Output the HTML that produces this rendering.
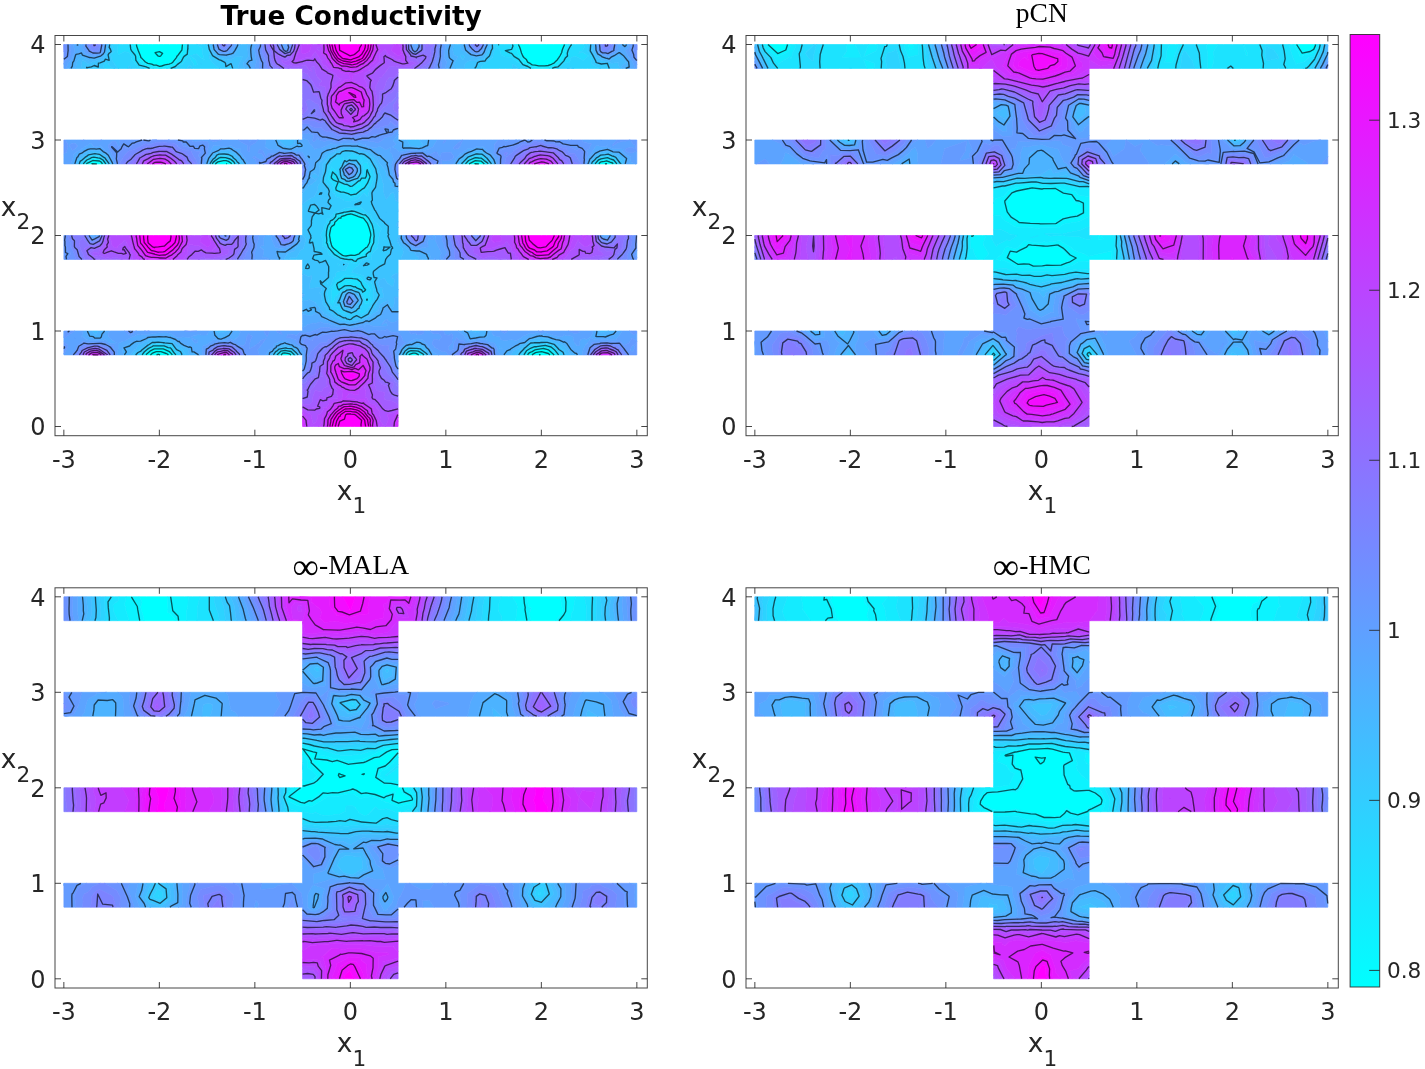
<!DOCTYPE html><html><head><meta charset="utf-8"><title>Conductivity</title><style>html,body{margin:0;padding:0;background:#fff}svg{display:block}text{font-family:"DejaVu Sans","Liberation Sans",sans-serif;fill:#262626}.tk{font-size:24px}.ck{font-size:21.6px}.lb{font-size:26.4px}.sb{font-size:21.6px}.tb{font-size:26.4px;font-weight:bold;fill:#000}.tr{font-family:"Liberation Serif","DejaVu Serif",serif;font-size:27.5px;fill:#000}</style></head><body><svg width="1425" height="1069" viewBox="0 0 1425 1069"><g transform="scale(.1)" stroke-width="7" stroke-linejoin="round"><path d="M1022 1639l-13-17-14-9-44-3-23-2-54 27-6 2-1 2 1 0 52 0 72 0zM2313 1639l-3-5-5-4-23-14-21-6-23-1-59 13-12 8-10 9 17 0 92 0 37 0zM1721 3549l-21-24-12-10-43-19-15-5-36-1-45 1-11 4-37 19-17 14-15 13-6 8 17 0 56 0 46 0 86 0 33 0zM2906 3549l-9-8-9-2-42-8-17 3-16 15 29 0 51 0zM4182 3549l-24-14-9-1-17 0-38 13-1 1-1 1 2 0 50 0zM5538 3549l-54-48-28-7-24-6-5 0-15 3-49 7-11 3-33 20-18 7-13 8-8 13 19 0 59 0 40 0 85 0zM4840 1639l-31-26-29-1-27-3-57 30 54 0 56 0zM6129 1639l-5-7-18-6-39-16-27 7-30 5-9 5-10 12 20 0 50 0 60 0zM5189 445l11 20 11 32 9 30 11 25 17 23 20 17 15 29 23 12 13 10 33 3 44 8 27 0 18 0 41-3 37-15 9-5 4 0 8-8 28-28 13-18 20-33 11-23 4-14 11-29 14-33-34 0-69 0-71 0-56 0-61 0-53 0-64 0zM1370 445l3 21 15 43 18 45 6 12 0 5 8 7 40 41 19 10 42 10 15 6 30 0 27 11 29-5 26-9 49-7 12-5 9-4 8-8 24-32 8-26 14-7 40-54 1-5 5-49-50 0-72 0-58 0-55 0-57 0-40 0-61 0zM3416 2186l-29 1-23 26-12 11-5 26-30 21-6 9-1 5-11 58-1 14 8 38 0 11 13 47 4 11 12 14 30 25 20 17 10 0 0 8 33 24 13 3 17 2 53-10 21 2 16 1 36-13 19-21 13-9 34-31 22-12 17-33 5-10 0-18 11-53-3-21-11-41-1-2-18-51-2-3-38-46-4-5-6 0-41-13-13-6-53-18-11-1-32 6-23 9-32 10z" fill="#00ffff" stroke="#00ffff"/><path d="M1604 684l48-19 21-3 32-14 24-10 22-21 24-33 10-11 4-7 35-49 9-7 1-15 4-37 1-13-17 0-4 0-5 49-1 5-40 54-14 7-8 26-24 32-8 8-9 4-12 5-49 7-26 9-29 5-27-11-30 0-15-6-42-10-19-10-40-41-8-7 0-5-6-12-18-45-15-43-3-21-20 0-3 0 1 3 7 17 17 49 5 12 17 38 1 18 27 24 15 16 41 22 30 7 34 15 14 0 46 18 1 0zM867 1639l1-2 6-2 54-27 23 2 44 3 14 9 13 17 12 0-18-24-20-12-61-5-5-1-10 5-52 23-12 14zM2157 1639l10-9 12-8 59-13 23 1 21 6 23 14 5 4 3 5 12 0-7-11-11-9-19-11-29-9-31-1-44 10-23 16-19 15zM1463 3549l6-8 15-13 17-14 37-19 11-4 45-1 36 1 15 5 43 19 12 10 21 24 12 0-34-39-6-4-54-24-1 0-42-2-53 2-5 1-45 23-6 5-26 23-11 15zM2813 3549l16-15 17-3 42 8 9 2 9 8 12 0-17-16-18-4-35-7-26 5-23 22zM4092 3549l1-1 1-1 38-13 17 0 9 1 24 14 21 0-38-21-13-2-27-1-32 11-7 5-4 8zM5280 3549l8-13 13-8 18-7 33-20 11-3 49-7 15-3 5 0 24 6 28 7 54 48 4 0 11 0-9-12-50-43-6-4-5-2-44-11-16 2-39 6-28 5-5 1-18 11-31 12-22 13-14 22zM4696 1639l57-30 27 3 29 1 31 26 14 0-43-36-41-2-17-2-45 24-20 8-7 8 8 0zM5991 1639l10-12 9-5 30-5 27-7 39 16 18 6 5 7 13 0-14-17-46-16-13-6-9 3-50 8-15 8-17 20zM5641 445l-14 33-11 29-4 14-11 23-20 33-13 18-28 28-8 8-4 0-9 5-37 15-41 3-18 0-27 0-44-8-33-3-13-10-23-12-15-29-20-17-17-23-11-25-9-30-11-32-11-20-11 0-11 0 6 13 9 18 6 17 14 48 13 30 5 7 5 6 28 24 8 15 43 24 26 19 14 1 19 4 59 1 41-2 19-1 16-7 34-17 15-2 32-28 10-11 14-20 3-4 2-4 21-42 7-32 2-5 23-52zM3417 2168l32-10 23-9 32-6 11 1 53 18 13 6 41 13 6 0 4 5 38 46 2 3 18 51 1 2 11 41 3 21-11 53 0 18-5 10-17 33-22 12-34 31-13 9-19 21-36 13-16-1-21-2-53 10-17-2-13-3-33-24 0-8-10 0-20-17-30-25-12-14-4-11-13-47 0-11-8-38 1-14 11-58 1-5 6-9 30-21 5-26 12-11 23-26 29-1zM3393 2164l-1 0-36 41-19 16-2 13-14 9-20 30-4 13-9 46-1 25 6 28 1 27 9 30 8 25 26 31 21 18 18 15 12 7 33 24 21 4 26 3 40-7 33 4 9 1 64-25 1-2 1 0 58-52 1-1 25-49 8-15 1-28 7-40-3-37-9-31-3-11-15-40-10-19-30-37-9-9-13-2-31-9-30-13-38-12-17-3-47 9-15 6-53 16zM3432 1876l-1-1-1 2 1 0 1 0 2 1 0-2z" fill="#0cf3ff" stroke="#0cf3ff"/><path d="M1602 684l-46-18-14 0-34-15-30-7-41-22-15-16-27-24-1-18-17-38-5-12-17-49-7-17-1-3-21 0 2 22 19 45 14 16 15 35 2 30 30 28 7 10 8 2 9 2 45 24 19 5 45 20 7 0zM1664 684l38-17 39-16 31-32 4-3 23-25 11-21 22-30 20-15 3-33 2-20 1-27-19 0-1 13-4 37-1 15-9 7-35 49-4 7-10 11-24 33-22 21-24 10-32 14-21 3-48 19 51 0zM856 1639l12-14 52-23 10-5 5 1 61 5 20 12 18 24 12 0-24-31-25-16-46-4-17-3-11 2-5 4-50 23-23 25zM2142 1639l19-15 23-16 44-10 31 1 29 9 19 11 11 9 7 11 12 0-10-16-18-15-15-9-37-11-39-1-30 6-32 24-20 15-4 7 5 0zM1450 3549l11-15 26-23 6-5 45-23 5-1 53-2 42 2 1 0 54 24 6 4 34 39 13 0-44-49-2-3-1-2-3 0-56-24-36-1-11 0-52 2-3 0-1 1-49 24-6 4-30 26-16 22zM2799 3549l23-22 26-5 35 7 18 4 17 16 13 0-25-25-28-5-29-5-33 6-31 29zM4082 3549l4-8 7-5 32-11 27 1 13 2 38 21 21 0-51-29-18-3-37-1-27 10-12 9-8 14zM5266 3549l14-22 22-13 31-12 18-11 5-1 28-5 39-6 16-2 44 11 5 2 6 4 50 43 9 12 16 0-23-29-29-24-18-15-19-6-35-9-25 4-65 10-5 1-1 0-3 2-43 16-30 19-20 31zM4681 1639l7-8 20-8 45-24 17 2 41 2 43 36 14 0-56-46-52-3-6-1-15 8-52 22-18 20zM5978 1639l17-20 15-8 50-8 9-3 13 6 46 16 14 17 13 0-23-27-53-19-8-3-11 2-51 8-20 11-24 28zM5488 684l48-25 26-4 41-36 8-9 12-19 15-29 7-15 3-15 9-30 19-42 8-15-16 0-7 0-23 52-2 5-7 32-21 42-2 4-3 4-14 20-10 11-32 28-15 2-34 17-16 7-19 1-41 2-59-1-19-4-14-1-26-19-43-24-8-15-28-24-5-6-5-7-13-30-14-48-6-17-9-18-6-13-20 0 16 39 1 3 1 3 17 60 1 5 1 1 25 34 23 29 5 5 2 2 64 36 30 22 5 0 83 0 61 0zM3393 2163l53-16 15-6 47-9 17 3 38 12 30 13 31 9 13 2 9 9 30 37 10 19 15 40 3 11 9 31 3 37-7 40-1 28-8 15-25 49-1 1-58 52-1 0-1 2-64 25-9-1-33-4-40 7-26-3-21-4-33-24-12-7-18-15-21-18-26-31-8-25-9-30-1-27-6-28 1-25 9-46 4-13 20-30 14-9 2-13 19-16 36-41 1 0zM3432 1876l2 0 0 2-2-1-1 0-1 0 1-2zM3495 2814l-13 0-33 19 38-3 7 0 7 3 33-9zM3321 2221l-31 44-6 23-6 33-2 36 4 19 2 43 4 13 12 38 41 48 11 10 11 8 27 17 25 18 30 6 36 5 26-5 45 6 1 0 5-2 61-24 20-5 1-10 41-38 9-4 6-20 18-35 10-20 1-37 5-29-5-52-6-21-5-21-11-28-19-35-22-27-14-14-20-3-22-7-46-19-23-7-23-3-63 11-7 3-26 8-26 7-12 2-3 13-27 30-23 21-3 1zM3438 1860l-29-14-16 41 27 10 14 2 54 15-6-34-31-19zM3599 1827l-36 32-29 22 32 25 43-35z" fill="#14ebff" stroke="#14ebff"/><path d="M1541 684l-45-20-19-5-45-24-9-2-8-2-7-10-30-28-2-30-15-35-14-16-19-45-2-22-21 0 4 42 8 20 34 41 7 14 3 42 9 8 25 37 29 7 35 9 17 9 7 2 17 8zM1702 684l50-21 20-20 31-24 10-10 18-34 9-13 31-23 4-50 0-2 3-42-20 0-1 27-2 20-3 33-20 15-22 30-11 21-23 25-4 3-31 32-39 16-38 17 35 0zM845 1639l23-25 50-23 5-4 11-2 17 3 46 4 25 16 24 31 3 0 8 0-9-12-19-26-31-19-22-2-39-7-23 5-13 9-33 15-34 37zM2132 1639l4-7 20-15 32-24 30-6 39 1 37 11 15 9 18 15 10 16 13 0-15-22-25-20-10-6-44-14-49-1-15 3-42 31-16 13-11 16zM1436 3549l16-22 30-26 6-4 49-24 1-1 3 0 52-2 11 0 36 1 56 24 3 0 1 2 2 3 44 49 12 0-24-27-20-29-10-13-20-2-44-18-27-1-24 0-35 1-20 0-9 6-39 19-19 15-24 21-21 28zM2785 3549l31-29 33-6 29 5 28 5 25 25 13 0-34-33-36-7-23-4-42 8-35 32-1 1-2 3 3 0zM4071 3549l8-14 12-9 27-10 37 1 18 3 51 29 7 0 8 0-13-11-45-26-23-3-47-1-21 7-18 14-12 20zM5253 3549l20-31 30-19 43-16 3-2 1 0 5-1 65-10 25-4 35 9 19 6 18 15 29 24 23 29 16 0-37-46-7-6-31-26-32-9-26-7-35 5-53 9-17-1-27 11-15 6-39 24-26 40zM4669 1639l18-20 52-22 15-8 6 1 52 3 56 46 7 0 6 0-7-8-25-19-35-29-33-2-25-4-12 5-58 24-30 33zM5965 1639l24-28 20-11 51-8 11-2 8 3 53 19 23 27 12 0-31-38-36-12-26-12-35 7-30 5-27 14-30 36zM5333 684l-30-22-64-36-2-2-5-5-23-29-25-34-1-1-1-5-17-60-1-3-1-3-16-39-21 0 8 19-17 42-35 7 25 13 10 3 31 37 40 24 9 12 12 15 21 27 43 17 29 15 10 8zM5519 684l21-11 37-5 23-21 34-36 5-8 15-28 17-17-2-20 10-34 8-19 20-36 4-4-3 0-24 0-8 15-19 42-9 30-3 15-7 15-15 29-12 19-8 9-41 36-26 4-48 25zM3534 2824l-33 9-7-3-7 0-38 3 33-19 13 0zM3322 2218l3-1 23-21 27-30 3-13 12-2 26-7 26-8 7-3 63-11 23 3 23 7 46 19 22 7 20 3 14 14 22 27 19 35 11 28 5 21 6 21 5 52-5 29-1 37-10 20-18 35-6 20-9 4-41 38-1 10-20 5-61 24-5 2-1 0-45-6-26 5-36-5-30-6-25-18-27-17-11-8-11-10-41-48-12-38-4-13-2-43-4-19 2-36 6-33 6-23 31-44zM3451 1861l31 19 6 34-54-15-14-2-27-10 16-41 29 14zM3609 1871l-43 35-32-25 29-22 36-32zM3510 2786l-55 0-6 4-29 22-37 18-4 2-2 5-4 5 13 44 7 9 4-6 5-2 44-31 29-2 29 0 32 11 18-4 32 25 33 13 6 15 13-7 9-10-14-14-13-23-17-39-31-25-36-4zM3300 2229l-20 28-9 33-3 20-3 47 2 10 2 44-1 14 0 3 4 2 14 44 55 64 2 2 2 2 43 26 18 13 37 8 47 5 12-2 22 3 13 11 21 4 14-19 47-18 40-10 1-21 24-22 17-7 13-42 9-19 13-25 1-47 3-16-7-69-3-11-8-29-6-17-29-51-13-17-20-19-27-4-12-4-62-26-8-2-29-4-73 14-4 0-1 1-50 12-25 5-5 25-18 20-16 14-20 7zM3328 1725l-11 42 0 11 15 15 56 24-27 66 4 17 17 8 27 9 27 3 51 15 21 12 15-4 40-7 14-11 49-40 15-8 33-49 9-21 11-29 3-11-23-54 0-1-1 0 0-3-1 3 0 1-4 49-12 23-41 0-14 22-13 4-31 27-38 28-13 2-36-22-26-2-56-27 0-1-28-58z" fill="#1ce3ff" stroke="#1ce3ff"/><path d="M1500 684l-17-8-7-2-17-9-35-9-29-7-25-37-9-8-3-42-7-14-34-41-8-20-4-42-20 0-58 0-46 0-6 66 1 1 4 22 5 17 0 1 0-1 59-34 35 6 14 9 25 35-6 17 23 31 20 24 19 29 50 12 15 4 36 0zM1744 684l20-8 8-8 34-27 15 1 23-24 14-29 29-28 30 52 18 19 5 26 33-11-5-26-13-27-52-36 60-20 44 39 16 8 24 25-13-42-14-63 11-14-21-19-44-27-27 0-47 0-14 0-3 42 0 2-4 50-31 23-9 13-18 34-10 10-31 24-20 20-50 21zM834 1639l34-37 33-15 13-9 23-5 39 7 22 2 31 19 19 26 9 12 12 0-21-29-12-16-34-21-4-2-1 0-56-10-37 7-19 14-17 8-45 49zM2123 1639l11-16 16-13 42-31 15-3 49 1 44 14 10 6 25 20 15 22 12 0-19-28-31-25-6-3-52-16-57-2-53 38-12 10-17 26zM1422 3549l21-28 24-21 19-15 39-19 9-6 20 0 35-1 24 0 27 1 44 18 20 2 10 13 20 29 24 27 12 0-4-5-39-55-17-23-39-4-30-13-18-1-39 0-18 1-36-1-16 11-30 14-32 26-18 15-26 35zM2771 3549l2-3 1-1 35-32 42-8 23 4 36 7 34 33 13 0-43-41-45-9-16-3-50 9-28 27-7 4-9 13zM4060 3549l12-20 18-14 21-7 47 1 23 3 45 26 13 11 11 0-31-27-30-17-28-4-57-2-15 6-24 18-13 21-3 5 5 0zM5240 3549l26-40 39-24 15-6 27-11 17 1 53-9 35-5 26 7 32 9 31 26 7 6 37 46 15 0-15-19-29-37-8-8-27-23-45-13-18-4-44 6-31 5-39-1-29 12-9 1-7 5-7 6-34 21-31 49zM4656 1639l30-33 58-24 12-5 25 4 33 2 35 29 25 19 7 8 11 0-20-25-50-38-4-3-3-2-5 0-52-7-35 14-39 16-41 45zM5952 1639l30-36 27-14 30-5 35-7 26 12 36 12 31 38 13 0-39-48-20-7-45-19-59 12-8 1-33 17-37 44zM5312 684l-10-8-29-15-43-17-21-27-12-15-9-12-40-24-31-37-10-3-25-13 35-7 17-42-8-19-12 0-65 0-63 0-23 0 3 27 28 18 9 31 10 34 20 5 18 11 61 6 1 0 51 36 21 15 16 8 24 31 45 17 31 0zM5566 684l27-4 5-5 31-33 26-17 32 5 15-22 11-35 44-9 41 22 34 20 37-36 12-5 1-8-1-1-1-2-33-20-24-13-36 20 11-27 25-3 27-48 0-18-14 0-80 0-45 0-4 4-20 36-8 19-10 34 2 20-17 17-15 28-5 8-34 36-23 21-37 5-21 11 24 0zM3536 2792l36 4 31 25 17 39 13 23 14 14-9 10-13 7-6-15-33-13-32-25-18 4-32-11-29 0-29 2-44 31-5 2-4 6-7-9-13-44 4-5 2-5 4-2 37-18 29-22 6-4 55 0zM3304 2209l20-7 16-14 18-20 5-25 25-5 50-12 1-1 4 0 73-14 29 4 8 2 62 26 12 4 27 4 20 19 13 17 29 51 6 17 8 29 3 11 7 69-3 16-1 47-13 25-9 19-13 42-17 7-24 22-1 21-40 10-47 18-14 19-21-4-13-11-22-3-12 2-47-5-37-8-18-13-43-26-2-2-2-2-55-64-14-44-4-2 0-3 1-14-2-44-2-10 3-47 3-20 9-33 20-28zM3360 1758l28 58 0 1 56 27 26 2 36 22 13-2 38-28 31-27 13-4 14-22 41 0 12-23 4-49 0-1 1-3 0 3 1 0 0 1 23 54-3 11-11 29-9 21-33 49-15 8-49 40-14 11-40 7-15 4-21-12-51-15-27-3-27-9-17-8-4-17 27-66-56-24-15-15 0-11 11-42zM3279 2237l-9 13-12 42-1 7-3 58 0 2-9 68-1 16 23 14 6 20 32 37 14 31 20 14 18 5 31 19 10 7 46 10 14 2 38 6 8 6 19 15 43 9 30-39 24-10 61-16 2-30 6-6 26-11 18-64 2-3 6-13 12-17-3-23 1-33 1-4-9-85 0-1-10-38-2-6-38-67-6-8-24-23-34-5-3-1-28-12-32-27-13 1-28-1-11 1-54 4-16 1-28 15-30 8-38 7-8 38-9 10-7 7-38 13zM3516 2755l-36 0-29-7-36 26-13 10-13 6-31 12-12 37-30 36 2 4 17 23-21-13-3 62 5 22-6 45 14 19 11-20 15-48 29-23 2-5 26-40 37-15 12-8 8 0 50-1 4 1 34 9 58 22 20 54 1 2 3 5 18 30-13 41 43-5 8-20 11-15 0-30-12-33 13-26 0-17-5-18-26-39-3 0-36-27-7-16-24-20-37-12-37-5zM3308 1690l-2 17-15 43-6 21 1 27 16 17 18 17 14 40 2 6 8 36 50 22 4 2 40 3 15 5 54 32 39-10 14-2 48-38 25-20 36-21 13-20 24-57 6-16 9-34-14-32-5-23-9-16-18-58-7-9-40 13-14-54-5-4-2 0-9 1 22 52 6 6 0 1 1 18 13 27-7 23 0 34 0 6-2 3-6 0-32 51-31 8-11 9-12 10-49 6-1 0-38-4-5-2-49-21-18-51-1-27-27-27-34-33z" fill="#24dbff" stroke="#24dbff"/><path d="M1278 684l2-10 16-16 16 26 45 0 68 0 14 0-15-4-50-12-19-29-20-24-23-31 6-17-25-35-14-9-35-6-59 34 0 1 0-1-5-17-4-22-1-1 6-66-7 0-52 0 0 16 21 52-29 28-4 3-2 5 7 38 21 40 39 52 14 5 52 0zM1863 684l33-34 19 20 2 14 19 0 66 0 58 0 83 0 56 0-39-24-25-26-8-4-30-42-8-32 8-24-20-38-7-33-17-16-37 0-50 0 44 27 21 19-11 14 14 63 13 42-24-25-16-8-44-39-60 20 52 36 13 27 5 26-33 11-5-26-18-19-30-52-29 28-14 29-23 24-15-1-34 27-8 8-20 8 28 0 45 0zM823 1639l45-49 17-8 19-14 37-7 56 10 1 0 4 2 34 21 12 16 21 29 12 0-34-45-4-6-14-9-33-22-15-2-36-7-51 11-26 19-2 2-45 41-10 6-3 12 13 0zM2115 1639l17-26 12-10 53-38 57 2 52 16 6 3 31 25 19 28 12 0-22-34-38-30-2-1-16-5-27-13-19-3-34-1-23 1-11 5-8 12-36 26-8 7-24 36zM1408 3549l26-35 18-15 32-26 30-14 16-11 36 1 18-1 39 0 18 1 30 13 39 4 17 23 39 55 4 5 3 0 22 0-8-15-17-8-29-41-25-34-57-6-17-7-10 0-52-1-1 0-53-1-23 16-21 10-46 36-10 9-20 26-12 6-10 10 20 0zM2759 3549l9-13 7-4 28-27 50-9 16 3 45 9 43 41 12 0-12-12-38-36-1-1-4-1-50-10-9-1-59 10-21 21-13 7-16 23zM4049 3549l3-5 13-21 24-18 15-6 57 2 28 4 30 17 31 27 11 0-49-43-16-9-32-4-67-2-10 3-29 22-9 16-12 17zM5227 3549l31-49 34-21 7-6 7-5 9-1 29-12 39 1 31-5 44-6 18 4 45 13 27 23 8 8 29 37 15 19 6 0 13 0-3-10-16-11-34-42-19-20-15-13-58-17-9-2-54 8-10 1-59-1-12 5-23 2-18 14-19 16-19 12-25 38-10 10-7 10 12 0zM4643 1639l41-45 39-16 35-14 52 7 5 0 3 2 4 3 50 38 20 25 12 0-34-42-28-22-16-12-9-7-20-1-37-4-59 23-18 7-52 58zM5939 1639l37-44 33-17 8-1 59-12 45 19 20 7 39 48 13 0-48-58-3-1-63-27-54 11-17 1-11 8-27 14-25 30-14 12-4 10zM5125 684l2-43 43 30 26 13 25 0 49 0-45-17-24-31-16-8-21-15-51-36-1 0-61-6-18-11-20-5-10-34-9-31-28-18-3-27-14 0-8 0 4 56-18 66-2 5-62 56-1 3-17 2-34 42-3 9 4 0 67 0 61 0 56 0 58 0 56 0zM5669 684l38-8 34 8 29 0 54 0 51 0 74 0 60 0-55-19-42-32 9-48-17-32-18-32-14-8 7-12 0-56-29 0 0 18-27 48-25 3-11 27 36-20 24 13 33 20 1 2 1 1-1 8-12 5-37 36-34-20-41-22-44 9-11 35-15 22-32-5-26 17-31 33-5 5-27 4 31 0 70 0zM1151 684l-47-16-24-36-21-7-3 5-13 5-9 32-1 17 19 0 49 0zM3286 2200l38-13 7-7 9-10 8-38 38-7 30-8 28-15 16-1 54-4 11-1 28 1 13-1 32 27 28 12 3 1 34 5 24 23 6 8 38 67 2 6 10 38 0 1 9 85-1 4-1 33 3 23-12 17-6 13-2 3-18 64-26 11-6 6-2 30-61 16-24 10-30 39-43-9-19-15-8-6-38-6-14-2-46-10-10-7-31-19-18-5-20-14-14-31-32-37-6-20-23-14 1-16 9-68 0-2 3-58 1-7 12-42 9-13zM3527 2758l37 5 37 12 24 20 7 16 36 27 3 0 26 39 5 18 0 17-13 26 12 33 0 30-11 15-8 20-43 5 13-41-18-30-3-5-1-2-20-54-58-22-34-9-4-1-50 1-8 0-12 8-37 15-26 40-2 5-29 23-15 48-11 20-14-19 6-45-5-22 3-62 21 13-17-23-2-4 30-36 12-37 31-12 13-6 13-10 36-26 29 7 36 0zM3317 1667l34 33 27 27 1 27 18 51 49 21 5 2 38 4 1 0 49-6 12-10 11-9 31-8 32-51 6 0 2-3 0-6 0-34 7-23-13-27-1-18 0-1-6-6-22-52 9-1 2 0 5 4 14 54 40-13 7 9 18 58 9 16 5 23 14 32-9 34-6 16-24 57-13 20-36 21-25 20-48 38-14 2-39 10-54-32-15-5-40-3-4-2-50-22-8-36-2-6-14-40-18-17-16-17-1-27 6-21 15-43 2-17zM3227 2397l-4 32-2 30 25 14 10 12 8 5 26 58 46 32 43 13 9 5 3 2 13 3 37 20 26 4 19 14-36 67-16 0-51 5-26 19-4 35-16 6-22 68-7 8-19 33-12 39-1 22 11 53-3 21 36 50 4 7 0 2 4 2 41 17 23 24 17 12 26 12 54-5-48-16-8-4-28-38-4-11-5-12-63 12 28-54 9-29 17-13 12-32 18-28 38-14 8-7 49-4 21 8 27 7 40 15 14 37 7 18 13 29-12 45-7 12-9 44-25 12 34 28 32-15 31-38 3-13 12-1 17-41 22-31-1-61-1-3 1-2 1-49-13-52-10-13-36-9-20-14-16-41 3-3-3 1-3 0-79-27-10-2-29-6 23-34 30-24 6 1 44-59 2-1 25-7 48-9 18 8-1-14 4-23 7-20 6-3 4-13 49-50-3-36 7-10-3-20 10-51 0-28 20-29 5-12-3-7-4-4-27-29-12-14-25-17-32-49-5-19-29-12-8-8-4 0-39-37-30-25-41 3-15 0-47 5-15 2-31 1-55 30-11 3-51 10-9 44-42-33 36 41-50 17-7 36-12 14-16 29 0 23-24 47-3 8zM3639 1931l1 2 33 35 11-16-1-15 14-38 7-10 13-45 12-31 1-3 15-56-5-12-9-45-18-31-8-25-32-45-1 0 0-1-45-34-18-4-27 4-8-4-50-20-27 27-35 11 28 16 4-2 2 0 73-2 39 51 7 9 3 56-1 34-7 14-26 40-32 9-9 3-54 19-33-4-5-6-44-18-15-42-3-56 0-2 3-4 18-53 31-60-6-6-67-2-4 5-16 12-36 35-18 26-7 20-6 44-13 35-9 26-2 17 1 23 18 23 24 23 8 23 13 34 3 13 23 10 10 29 36 10 40 20 8 14 7-1 56 6 6-7 50-10 25-8zM3377 2630l3 17 6 19 8-22-4-7zM3297 2807l-18 16-6 5 6 6 11-3zM2012 637l0-1 1 1 1 0 1 3-3-1zM3852 2410l9 0-3-9-3-9-12-4-7 21z" fill="#2cd3ff" stroke="#2cd3ff"/><path d="M1189 684l-14-5-39-52-21-40-7-38 2-5 4-3 29-28-21-52 0-16-16 0-10 0-4 31 11 16 9 22-8 7-13 10-10 18 10 54-37-12-11 20-42 17-19 3-1 37-39-14-29 13-38 9-9-5-2 13 10 0 58 0 59 0 42 0 1-17 9-32 13-5 3-5 21 7 24 36 47 16 23 0zM1312 684l-16-26-16 16-2 10 11 0zM1917 684l-2-14-19-20-33 34 44 0zM2329 684l-17-49 1-2-2-1-1 1-9-1-42 25-3-26-5-8-44-22-14-2-60-37-7-8-32-60-9-40-2-9-10 0-20 0 17 16 7 33 20 38-8 24 8 32 30 42 8 4 25 26 39 24 5 0 54 0 64 0zM808 1639l3-12 10-6 45-41 2-2 26-19 51-11 36 7 15 2 33 22 14 9 4 6 34 45 12 0-36-48-4-7-2-4-3-3-14-7-40-28-28-3-18-3-64 13-15 11-20 14-28 26-21 13-8 26zM2106 1639l24-36 8-7 36-26 8-12 11-5 23-1 34 1 19 3 27 13 16 5 2 1 38 30 22 34 4 0 15 0-5-9-15-11-13-20-24-18-12-19-10-4-27-14-41-4-11-1-45 2-23 10-16 25-18 13-5 4-30 46zM1384 3549l10-10 12-6 20-26 10-9 46-36 21-10 23-16 53 1 1 0 52 1 10 0 17 7 57 6 25 34 29 41 17 8 8 15 25 0 3 0-3-5-14-29-41-19-10-15-34-45-75-8-3-1-1 0-10 0-50-6-35 4-25-1-30 21-12 5-59 47-4 3-8 11-29 13-25 25zM2746 3549l16-23 13-7 21-21 59-10 9 1 50 10 4 1 1 1 38 36 12 12 1 0 12 0-17-19-34-31-13-13-46-4-13-2-2-1-67 12-15 14-18 10-23 34zM4037 3549l12-17 9-16 29-22 10-3 67 2 32 4 16 9 49 43 4 0 10 0-6-11-57-42-7-6-1-1-37-5-77-2-4 2-35 26-5 9-21 30zM5209 3549l7-10 10-10 25-38 19-12 19-16 18-14 23-2 12-5 59 1 10-1 54-8 9 2 58 17 15 13 19 20 34 42 16 11 3 10 21 0-9-26-43-29-11-15-31-32-4-3-70-21-3 1-61 1-6 1-58 1-9 1-28 2-29 23-30 26-5 3-6 10-30 30-20 27zM4631 1639l52-58 18-7 59-23 37 4 20 1 9 7 16 12 28 22 34 42 11 0-47-60-6-4-27-22-17-12-35-1-21-3-76 30-4 1-1 1-1 0-56 60-5 3-3 7 8 0zM5927 1639l4-10 14-12 25-30 27-14 11-8 17-1 54-11 63 27 3 1 48 58 9 0 4 0 2-5-8-5-42-55-17-9-22-8-37-16-28 5-48 5-28 21-14 7-13 15-29 25-7 20zM4808 684l3-9 34-42 17-2 1-3 62-56 2-5 18-66-4-56-19 0 2 37-13 24-6 25-12 30-31 28-11 20-46 5-9 1-21 10-14 40-17 19 19 0zM5196 684l-26-13-43-30-2 43 41 0zM5741 684l-34-8-38 8 39 0zM6095 684l-20-51-1-1-61 7-40-12-8-3-6-4 1-7-32-62-16-28-9-14 5-62 0-2-2 0-27 0 0 56-7 12 14 8 18 32 17 32-9 48 42 32 55 19 1 0 59 0zM3206 2348l3-8 24-47 0-23 16-29 12-14 7-36 50-17-36-41 42 33 9-44 51-10 11-3 55-30 31-1 15-2 47-5 15 0 41-3 30 25 39 37 4 0 8 8 29 12 5 19 32 49 25 17 12 14 27 29 4 4 3 7-5 12-20 29 0 28-10 51 3 20-7 10 3 36-49 50-4 13-6 3-7 20-4 23 1 14-18-8-48 9-25 7-2 1-44 59-6-1-30 24-23 34 29 6 10 2 79 27 3 0 3-1-3 3 16 41 20 14 36 9 10 13 13 52-1 49-1 2 1 3 1 61-22 31-17 41-12 1-3 13-31 38-32 15-34-28 25-12 9-44 7-12 12-45-13-29-7-18-14-37-40-15-27-7-21-8-49 4-8 7-38 14-18 28-12 32-17 13-9 29-28 54 63-12 5 12 4 11 28 38 8 4 48 16-54 5-26-12-17-12-23-24-41-17-4-2 0-2-4-7-36-50 3-21-11-53 1-22 12-39 19-33 7-8 22-68 16-6 4-35 26-19 51-5 16 0 36-67-19-14-26-4-37-20-13-3-3-2-9-5-43-13-46-32-26-58-8-5-10-12-25-14 2-30 4-32zM3585 1991l-25 8-50 10-6 7-56-6-7 1-8-14-40-20-36-10-10-29-23-10-3-13-13-34-8-23-24-23-18-23-1-23 2-17 9-26 13-35 6-44 7-20 18-26 36-35 16-12 4-5 67 2 6 6-31 60-18 53-3 4 0 2 3 56 15 42 44 18 5 6 33 4 54-19 9-3 32-9 26-40 7-14 1-34-3-56-7-9-39-51-73 2-2 0-4 2-28-16 35-11 27-27 50 20 8 4 27-4 18 4 45 34 0 1 1 0 32 45 8 25 18 31 9 45 5 12-15 56-1 3-12 31-13 45-7 10-14 38 1 15-11 16-33-35-1-2zM3390 2637l4 7-8 22-6-19-3-17zM3290 2831l-11 3-6-6 6-5 18-16zM2012 639l3 1-1-3-1 0-1-1 0 1zM3836 2409l7-21 12 4 3 9 3 9-9 0zM3758 2107l-1-1-30-63-8-32 5-5 1-1-5-75 5-14 31-43 1-1 10-60 5-34 0-30-4-11-9-42-3-12-20-34-6-10-27-49-27-22-31-23-35-8-14 2-20-10-33-12-24-8-13 0-45-2-9-1-4 1-30 9-19 23-30-1-15 16-42 31-6 1-2 4-34 49-5 5-2 3 0 7-9 59 0 6-19 53-5 41 1 11 44 54 6 6 2 5 8 23-7 33 16 34-23 25-4 19 35 34-18 36-36-11-37-6 2 39 8 25-15-10-21 6-33-7 35-27-25-39-25-21-40 9-18 47-3 11 3 8 61 16-27 37-7 38 1 23-3 24-33 40-2 3 1 1 3 6 27 54-1 9 3 9-8 14-5 29-3 10 9 2 24-7 13 58 2 35 67 13 2 0 1 1 2 2 1 3-5 0-1-2-68 13-17 39 27 17 28 4 20 23 21-5 37-18 30 57 0 41-1 8 0 7-1 55-15 13-42 36-30-33 9 48 9 3 48 40-16 34-3 23 2 22 12 54 1 5 3 1 32 54 2 17 38 20 2 1 2 2 37 32 17 7 39 21 9 4 14-1 11 10 33 7 13-2 26-22 30-14 43 23 3-1 1 0 63-36 8-5 21-38 20-37 5-11 19-27 12-19 14-16 19-40-23-37-5-28-4-8-15-59 25-42-25-4-13-52 0-1 1-1 44-37 14-10 8 0 9-10 39-21 11-48 16-23 30-26 9-42 18-12-5-20-10-5-5-9-16-54-15-39 8-18-7-15 2-29 1-40-39-33-1-4-2-2-36-31-9-8-2-2-39-73zM3860 2121l3 0-2-1-1 0zM3462 1809l-12-12-33-14-12-33-2-43-4-12 23-33 8-23 17-32 19 11 27-17 17 4 53-2 28 37 13 17 3 46-1 27-16 31-14 22-18 5-25 9-44 15zM3697 2798l-19-5-4-3-3-8 11-10 31 9zM3598 2948l12 33 10 22-8 33-19 28-3 18-14 6-14 17-47 25-57-20-25-12-14-19-10-25-11-29-18 3 8-16 2-8 5-3 22-60 10-15 20-8 21-17 41-3 45 18 15 3 21 9zM3840 2482l0-11 12 1 42 1-35 27-27 5zM3192 1946l12-3 14-1 4-17-20 2-4 9zM3563 2046l-1-1-10 2 7-7 4-1 39-14-13 18zM3670 2649l-29 5 20-21 9-2 20 9zM3093 2684l1-19-16-28-18 23-5 25 22 3z" fill="#34cbff" stroke="#34cbff"/><path d="M2387 684l-5-13 16-52 27-54 2-2-2-4-41 6-26 4-2-1-44 29-27-1-23 5-34-18-41-6-28-17-28-28-20-37-6-25-4-25-18 0 2 9 9 40 32 60 7 8 60 37 14 2 44 22 5 8 3 26 42-25 9 1 1-1 2 1-1 2 17 49 32 0zM792 1639l8-26 21-13 28-26 20-14 15-11 64-13 18 3 28 3 40 28 14 7 3 3 2 4 4 7 36 48 12 0-21-29-13-24-9-16-9-9-54-28-8-5-29-4-11-1-1 0-13 4-62 12-4 3-41 29-9 8-32 21-13 39zM2098 1639l30-46 5-4 18-13 16-25 23-10 45-2 11 1 41 4 27 14 10 4 12 19 24 18 13 20 15 11 5 9 21 0-11-21-33-24-1-2-2-2-29-41-26-12-7-4-22-2-29-9-11 1-6 0-6 4-44 2-34 14-24 38-2 1 0 1-38 56zM3026 2348l3 3 2 5 27 31-3 19-19 74-5 8-32 19-9 22-27 49-15-4-39 0-13 13-4 7 9 0 64 0 61 0 0 47 0 65 0 38 16 2 46 25 30-18-1 34-8 15-10 27-3 57 46-6 73-7 5 2 1 1 0 2-3 17-23 36 9 10 11 22 4 35 1 7 12 52 23 8 7 13 5 33 13 7 47 30 23 20 42 18 3 1 31 18 14-1 18 4 38 8 57-10 6-1 5-2 55-7 19-12 35-19 33-23 11-20 15-28 23-16 5-13 9-34 13-21 23-25 33-8 0-29-19-41 20-28-34-2-14-26-6-25 17-30 43-10 17 29 13 18 54 37 12-41 3-35-34-23 37-30 34-7 0-35 0-52 0-53 26 0 11-29 13-30 2-19-12-35-17-17-22-38-9-4-4-8 12-37 1-22-1 0 0-67 0-9-17-32 17-32 0-30 0-72-5-7 3-5-1-3 3-2 0-48 0-27-26-20-11-52-4-12-4-7-4-2-9-3-17 13-37 48-5 5 0 1-2 1-1-2 1-1-20-42-4-30-6-53 7-17-14-28-6-35-15-34 0-7-14-38-2-9-9-33-10-16-28-48-8-16-55-44-15-12-51-11-3 0-10-5-23-9-38-11-29 0-32-2-32-1-13 3-58 18-14 6-16 18-25 18-29 7-10 19-14 20-24 27-15 16 1 37-4 31-4 37-9 26-6 51-4 6-16 16-8 19 3 28-16 33-24 43-32 11-25 20-5 1-30 23-22 19 0 3 0 59 0 78 0 40 0 64zM1355 3549l25-25 29-13 8-11 4-3 59-47 12-5 30-21 25 1 35-4 50 6 10 0 1 0 3 1 75 8 34 45 10 15 41 19 14 29 3 5 36 0-27-42-2-9-8-3-6-5-50-23-19-19-20-27-28-3-36-8-15-3-25 2-39-5-56 7-9-1-5 1-15 14-18 13-3 1-27 22-41 22-6 0-6 12-33 15-24 23-15 16 13 0zM2734 3549l23-34 18-10 15-14 67-12 2 1 13 2 46 4 13 13 34 31 17 19 13 0-35-38-16-14-26-24-50-4-13-5-11 3-15 9-46 8-8 8-23 13-31 44zM4025 3549l21-30 5-9 35-26 4-2 77 2 37 5 1 1 7 6 57 42 6 11 15 0-16-27-49-37-6-10-15-5-23 7-11-1-52-1-31-3-5 1-12 11-26 20-2 3-29 42zM5187 3549l20-27 30-30 6-10 5-3 30-26 29-23 28-2 9-1 58-1 6-1 61-1 3-1 70 21 4 3 31 32 11 15 43 29 9 26 18 0 7 0-3-5-6-12-9-25-22-15-28-26-12-6-23-26-19-7-54-17-15-6-28-3-39 1-19 4-34 0-32 7-19 1-16 14-19 15-25 22-15 3-11 16-20 20-17 23-19 10-7 12 20 0zM4616 1639l3-7 5-3 56-60 1 0 1-1 4-1 76-30 21 3 35 1 17 12 27 22 6 4 47 60 6 0 7 0-4-10-42-56-5-6-10-5-24-19-23-17-50-2-6 0-20 8-62 21-12 6-9 9-36 38-16 11-12 22zM5915 1639l7-20 29-25 13-15 14-7 28-21 48-5 28-5 37 16 22 8 17 9 42 55 8 5-2 5 16 0 6-22-35-24-19-25-39-21-48-17-3-1-1 0-78 7-47 35-1 0 0 1-43 37-11 30zM4744 684l17-19 14-40 21-10 9-1 46-5 11-20 31-28 12-30 6-25 13-24-2-37-19 0 1 18-15 27-6 20-22 38 0 1-1 1-20 37-29 3-27 5-26 12-43 2-7-4-28 8-29 23-10 48 49 0zM6199 684l-20-50 6-5-8-8-5 4-39 5-18 3-2-3-38-14-52-9-7-3-23-20-28-8-14-27-6-10-20-34 2-33-2-27-17 0 0 2-5 62 9 14 16 28 32 62-1 7 6 4 8 3 40 12 61-7 1 1 20 51 19 0 64 0zM1082 445l-11 74-1 2-16 28 1 9-5-2-21 37-25 10-38 5-15 5-10-1-60 23-45-27-9-3-7 8-6 40-5 31 55 0 2-13 9 5 38-9 29-13 39 14 1-37 19-3 42-17 11-20 37 12-10-54 10-18 13-10 8-7-9-22-11-16 4-31zM3758 2108l39 73 2 2 9 8 36 31 2 2 1 4 39 33-1 40-2 29 7 15-8 18 15 39 16 54 5 9 10 5 5 20-18 12-9 42-30 26-16 23-11 48-39 21-9 10-8 0-14 10-44 37-1 1 0 1 13 52 25 4-25 42 15 59 4 8 5 28 23 37-19 40-14 16-12 19-19 27-5 11-20 37-21 38-8 5-63 36-1 0-3 1-43-23-30 14-26 22-13 2-33-7-11-10-14 1-9-4-39-21-17-7-37-32-2-2-2-1-38-20-2-17-32-54-3-1-1-5-12-54-2-22 3-23 16-34-48-40-9-3-9-48 30 33 42-36 15-13 1-55 0-7 1-8 0-41-30-57-37 18-21 5-20-23-28-4-27-17 17-39 68-13 1 2 5 0-1-3-2-2-1-1-2 0-67-13-2-35-13-58-24 7-9-2 3-10 5-29 8-14-3-9 1-9-27-54-3-6-1-1 2-3 33-40 3-24-1-23 7-38 27-37-61-16-3-8 3-11 18-47 40-9 25 21 25 39-35 27 33 7 21-6 15 10-8-25-2-39 37 6 36 11 18-36-35-34 4-19 23-25-16-34 7-33-8-23-2-5-6-6-44-54-1-11 5-41 19-53 0-6 9-59 0-7 2-3 5-5 34-49 2-4 6-1 42-31 15-16 30 1 19-23 30-9 4-1 9 1 45 2 13 0 24 8 33 12 20 10 14-2 35 8 31 23 27 22 27 49 6 10 20 34 3 12 9 42 4 11 0 30-5 34-10 60-1 1-31 43-5 14 5 75-1 1-5 5 8 32 30 63 1 1zM3860 2120l1 0 2 1-3 0zM3489 1812l44-15 25-9 18-5 14-22 16-31 1-27-3-46-13-17-28-37-53 2-17-4-27 17-19-11-17 32-8 23-23 33 4 12 2 43 12 33 33 14 12 12zM3713 2781l-31-9-11 10 3 8 4 3 19 5zM3590 2928l-21-9-15-3-45-18-41 3-21 17-20 8-10 15-22 60-5 3-2 8-8 16 18-3 11 29 10 25 14 19 25 12 57 20 47-25 14-17 14-6 3-18 19-28 8-33-10-22-12-33zM3832 2505l27-5 35-27-42-1-12-1 0 11zM3198 1936l4-9 20-2-4 17-14 1-12 3zM3589 2043l13-18-39 14-4 1-7 7 10-2 1 1zM3690 2640l-20-9-9 2-20 21 29-5zM3077 2688l-22-3 5-25 18-23 16 28-1 19zM3220 1988l-4 6-12-5 14-3 2 0zM3468 1800l-18-18-24-10-8-24-2-30-8-23 39-53 2-1 44-28 32 8 32-1 17 22 19 26 2 35 0 20-25 48-2 4-3 1-42 14-34 13zM3582 2941l18 47 7 15-6 22-22 33-8 10-22 27-33 17-41-14-41-20-1-1-16-39-10-25 22-56 6-17 2-2 3-1 33-27 33-2 68 27 3 0 4 2zM4609 572l20 25 21-31-19-13-28-14z" fill="#3cc3ff" stroke="#3cc3ff"/><path d="M2460 684l-19-14-11-28 2-7 3-7 39-49 8-10 0-1 0-2-2-47-2-24-1-2-5-48-58 0-12 0-21 43-4 6-34 54-26 12-4 2-2 0-48 11-14-7-54-8-11-1-2-1-7-8-40-37-8-16-2-10-7-40-17 0 4 25 6 25 20 37 28 28 28 17 41 6 34 18 23-5 27 1 44-29 2 1 26-4 41-6 2 4-2 2-27 54-16 52 5 13 55 0zM2794 1400l16 25 36 32 29 5 27-3 13-7 28-20 0-32-37 0-68 0zM776 1639l13-39 32-21 9-8 41-29 4-3 62-12 13-4 1 0 11 1 29 4 8 5 54 28 9 9 9 16 13 24 21 29 12 0-6-9-22-42-15-27-17-16-47-25-16-14-17 2-29-4-24 0-49 13-19 11-36 26-10 4-6 11-26 17-17 53zM2089 1639l38-56 0-1 2-1 24-38 34-14 44-2 6-4 6 0 11-1 29 9 22 2 7 4 26 12 29 41 2 2 1 2 33 24 11 21 21 0-18-33-21-16-9-16-21-20-13-19-18-8-15-9-8-6-39-12-32 4-20 0-17 12-20 1-46 19-15 24-16 21-18 45-8 13zM3026 2042l22-19 30-23 5-1 25-20 32-11 24-43 16-33-3-28 8-19 16-16 4-6 6-51 9-26 4-37 4-31-1-37 15-16 24-27 14-20 10-19 29-7 25-18 16-18 14-6 58-18 13-3 32 1 32 2 29 0 38 11 23 9 10 5 3 0 51 11 15 12 55 44 8 16 28 48 10 16 9 33 2 9 14 38 0 7 15 34 6 35 14 28-7 17 6 53 4 30 20 42-1 1 1 2 2-1 0-1 5-5 37-48 17-13 9 3 4 2 4 7 4 12 11 52 26 20 0-28 0-46 0-28-16-26-30-10-32-12 28-8-1-29-4-3-1-6-58-68-7-40-11-15-6-12-30-34-5-9-4-4-6-6-33-64-15-9-68-51-1-1-1 0-60-17-31-9-16-7-15-4-47-1-19-1-53-1-22 5-32 9-45 21-6 6-9 7-51 12-9 16-14 12-6 16-26 29-24 26-3 3-2 7 3 27 1 35 0 2-4 38-5 21-40-34-26 18-5 24 30 22 36-16-23 29-11 11-39 29-19 8-13 21-49 54 0 6 0 71zM3009 2355l-4 21 14 25-50 67-11 8-14 35-27 3-40 24-12 12-9 15-19 29 23 0 32 0 4-7 13-13 39 0 15 4 27-49 9-22 32-19 5-8 19-74 3-19-27-31-2-5-3-3 0 7zM3026 2931l6 8 13 12-19 26 0 28 0 8 60-14 9-3 2 1 1 1 52 27 47 56 1 9 10 6 25 32 6 9 21 9 33 20 27 17 6 5 11 5 57 24 17 10 30-3 40 9 15 3 23-4 40-7 32-8 35-5 38-23 5-3 59-41 1-1 0-1 54-38 10-30 8-29 56-31 14-3 0-14 11 6 15 12-14 11 18 35 9 14 18 0 5-14 13-34-1-16-6-41 42 1 0-30 0-31-6-8 6-13 0-47 0-75 0-34-34 7-37 30 34 23-3 35-12 41-54-37-13-18-17-29-43 10-17 30 6 25 14 26 34 2-20 28 19 41 0 29-33 8-23 25-13 21-9 34-5 13-23 16-15 28-11 20-33 23-35 19-19 12-55 7-5 2-6 1-57 10-38-8-18-4-14 1-31-18-3-1-42-18-23-20-47-30-13-7-5-33-7-13-23-8-12-52-1-7-4-35-11-22-9-10 23-36 3-17 0-2-1-1-5-2-73 7-46 6 3-57 10-27 8-15 1-34-30 18-46-25-16-2 0 13 0 91 0 50zM2168 3310l2 11 17 18 6-11 56-8 8-4 4-6-10 0-74 0zM921 3310l3 6 4 1 35 31 19-38-54 0zM1326 3549l15-16 24-23 33-15 6-12 6 0 41-22 27-22 3-1 18-13 15-14 5-1 9 1 56-7 39 5 25-2 15 3 36 8 28 3 20 27 19 19 50 23 6 5 8 3 2 9 27 42 35 0-4-6-13-53-45-18-39-25-18-8-20-20-15-13-21-7-30-7-35-7-57 4-10-2-16 2-47-1-30 3-22 21-33 14-33 18-21 2-27 46-7 4-6 5-46 48zM2721 3549l31-44 23-13 8-8 46-8 15-9 11-3 13 5 50 4 26 24 16 14 35 38 13 0-46-49-3-6-2-1-1-1-3-1-35-31-33-3-34-12-27 8-38 22-9 2-2 1-29 17-32 46-5 3-2 5 5 0zM4013 3549l29-42 2-3 26-20 12-11 5-1 31 3 52 1 11 1 23-7 15 5 6 10 49 37 16 27 15 0-25-44-32-24-14-20-31-10-11 3-18-6-26 14-54-5-23 6-31 28-7 8-6 13-25 37zM5154 3549l7-12 19-10 17-23 20-20 11-16 15-3 25-22 19-15 16-14 19-1 32-7 34 0 19-4 39-1 28 3 15 6 54 17 19 7 23 26 12 6 28 26 22 15 9 25 6 12 3 5 45 0-23-32-9-19-31-34-19-17-39-20-4-4-47-17-30-10-31-12-58-5-14 0-31 7-10 0-56 12-9 0-32 27-9 7-13 11-36 8-19 28-10 5-9 5-39 22-25 38zM6000 3310l-3 13 18 4 57-12 6-2 7-3-7 0-69 0zM4707 3310l57 21 18 0 17-21-31 0zM4189 2594l-4-28-23-7-5-21-19-17-45-5-6-12-23-21-13-9-30-32-13-22-11-21 3-44-18 0-1 22-12 37 4 8 9 4 22 38 17 17 12 35-2 19-13 30-11 29 49 0 50 0 48 0zM3981 2215l-17 32 17 32 0-27zM3981 2096l-3 2 1 3-3 5 5 7 0-13zM4597 1639l12-22 16-11 36-38 9-9 12-6 62-21 20-8 6 0 50 2 23 17 24 19 10 5 5 6 42 56 4 10 14 0-11-30-30-39-11-13-24-13-14-11-31-22-19-1-36-4-23 10-61 21-24 12-16 18-16 16-28 19-9 17-12 20 14 0zM5903 1639l11-30 43-37 0-1 1 0 47-35 78-7 1 0 3 1 48 17 39 21 19 25 35 24-6 22 17 0 10-39-48-33-14-12-11 0-47-26-25-9-25-10-40 8-36 4-21 16-28 13-23 26-25 22-15 40zM4067 1400l34 57 6 2 59 8 9 1 43-11 14-7-17-22-20-28-39 0-54 0zM4641 684l10-48 29-23 28-8 7 4 43-2 26-12 27-5 29-3 20-37 1-1 0-1 22-38 6-20 15-27-1-18-18 0-1 0-1 3-22 65-14 25-9 11-9 16-12 1-45 9-10 5-18 0-43-24-2-1-1 0-5-5-52-38-24-12-15-22 8-33-32 0-35 0-15 39-2 4 0 1 0 9 12 50 35 18 2 7 2 3-4 1-22 39-16 48 17 20 18 0 62 0zM6224 684l-9-21 27-23 16-6-2-17-5-5-10-13-36-29-17-13-35 9-8 6-6 3-37 34-26-10-34-6-23-8-40-34-10-6-15-31-8-13 1-5-5-51-17 0 2 27-2 33 20 34 6 10 14 27 28 8 23 20 7 3 52 9 38 14 2 3 18-3 39-5 5-4 8 8-6 5 20 50zM1068 445l-7 46-4 29-17 25-17 14-8 15-9 4-12 2-48 15-31-4-28 11-22-13-53-22-46 51-3 22-7 44 45 0 8 0 5-31 6-40 7-8 9 3 45 27 60-23 10 1 15-5 38-5 25-10 21-37 5 2-1-9 16-28 1-2 11-74zM3220 1986l-2 0-14 3 12 5 4-6zM3489 1803l34-13 42-14 3-1 2-4 25-48 0-20-2-35-19-26-17-22-32 1-32-8-44 28-2 1-39 53 8 23 2 30 8 24 24 10 18 18zM3581 2937l-4-2-3 0-68-27-33 2-33 27-3 1-2 2-6 17-22 56 10 25 16 39 1 1 41 20 41 14 33-17 22-27 8-10 22-33 6-22-7-15-18-47zM4603 539l28 14 19 13-21 31-20-25zM3474 1791l-24-25-14-6-5-13-1-18-12-34 31-42 12-8 31-21 48 13 10 0 6 7 26 34 2 24-1 14-19 38-6 11-11 7-34 12-24 9zM3450 2942l28-22 25-3 59 24 17 26 10 29 4 8-3 11-11 16-30 37-13 16-20 10-23-8-26-12-25-5-11-33-5-13-4-9 11-26z" fill="#44bbff" stroke="#44bbff"/><path d="M2510 684l-18-34-14-14 16-20 33-7-9-44-4-42-2-31 4-23 9-24-35 0-18 0 5 48 1 2 2 24 2 47 0 2 0 1-8 10-39 49-3 7-2 7 11 28 19 14 15 0zM2943 1400l0 32-28 20-13 7-27 3-29-5-36-32-16-25-4 0-40 0 14 32 1 24 18 4 45 27 18 1 59 10 11-2 25-12 28-15 41 17 17-2 9-32-8-11-9-10-34-31-4 0zM761 1639l17-53 26-17 6-11 10-4 36-26 19-11 49-13 24 0 29 4 17-2 16 14 47 25 17 16 15 27 22 42 6 9 5 0 9 0-7-14-18-34-21-39-24-23-26-14-37-33-38 6-15-2-46-2-19 6-47 25-17 12-27 12-17 30-5 3-22 67zM2081 1639l8-13 18-45 16-21 15-24 46-19 20-1 17-12 20 0 32-4 39 12 8 6 15 9 18 8 13 19 21 20 9 16 21 16 18 33 8 0 18 0-17-24-12-21-10-8-18-30-33-32 0-6-7 1-31-20-21-15-19-6-54 8-33-2-23 17-8-1-16 14-36 15-3 6-35 46-13 32-8 26 14 0zM3026 1930l49-54 13-21 19-8 39-29 11-11 23-29-36 16-30-22 5-24 26-18 40 34 5-21 4-38 0-2-1-35-3-27 2-7 3-3 24-26 26-29 6-16 14-12 9-16 51-12 9-7 6-6 45-21 32-9 22-5 53 1 19 1 47 1 15 4 16 7 31 9 60 17 1 0 1 1 68 51 15 9 33 64 6 6 4 4 5 9 30 34 6 12 11 15 7 40 58 68 1 6 4 3 1 29-28 8 32 12 30 10 16 26 0-46 0-12-26-4-1-24-17-15-7-32-30-36-8-43-4-20-1-14-10-31 8-24-26-24-44-44-17-9-23 1-20-11-20-16-26-22-28-5-26-9-24-6-36-11-18-8-8 3-23 0-33 0-5-1-75-1-31 6-5 2-17 8-53 6-24 13-39 8-39 21-12 10-12 33-26 21-3 23-23 20-4 22-9 30-7 13-31 21-12 55-1 6-1 3-19 52-32 37-4 7-3 3zM2991 2355l-9 43 6 10-19 25-49 36-9 8-5 2-51 35-48-1-19 1-30-9 4 23 16 58 2 8 3 0 54 0 19-29 9-15 12-12 40-24 27-3 14-35 11-8 50-67-14-25 4-21zM920 2355l1 1 2-1-2 0zM3026 2977l19-26-13-12-6-8 0 13zM3026 3140l5-3 8 8 41 11 14 0 13 3 42-22 28-3 15 8 2 3 18 26 61 28 6 3 37 15 73 30 7 1 1 0 3 0 41-4 37 9 12 2 8 2 28-6 32-5 60-16 16-2 20-12 25 0 17 6 57-30 5 0 17-9 35-21 19-45 6-14 5-23 35-26 10 20 34 52 44-1 18 5 0-12 0-49 0-68 0-29-42-1 6 41 1 16-13 34-5 14-18 0-9-14-18-35 14-11-15-12-11-6 0 14-14 3-56 31-8 29-10 30-54 38 0 1-1 1-59 41-5 3-38 23-35 5-32 8-40 7-23 4-15-3-40-9-30 3-17-10-57-24-11-5-6-5-27-17-33-20-21-9-6-9-25-32-10-6-1-9-47-56-52-27-1-1-2-1-9 3-60 14 0 46zM2261 3310l-4 6-8 4-56 8-6 11-17-18-2-11-33 0 9 50 23 24 33 10 17 0 23-10 34-10 25-13 16-23 16-19-2-9-7 0zM982 3310l-19 38-35-31-4-1-3-6-37 0-13 0-3 14 15 30 7 16 44 8 6 6 46 0 21 1 14-18 5-20 26-31 3-6-3 0-60 0zM1299 3549l46-48 6-5 7-4 27-46 21-2 33-18 33-14 22-21 30-3 47 1 16-2 10 2 57-4 35 7 30 7 21 7 15 13 20 20 18 8 39 25 45 18 13 53 4 6 5 0 45 0 53 0-60-38-10 0-3-17-5-24-28-18-19 9-30-11-21-14-25-30-16 4-21-18-37-13-14-10-47-6-1 0-69-3-49 5-13 0-56 7-8 8-43 19-16 4-22 1-16-1-66 26-8 6-3 3-14 5-40 27-8 2 0 8-3 13 6 56 4 0zM2707 3549l2-5 5-3 32-46 29-17 2-1 9-2 38-22 27-8 34 12 33 3 35 31 3 1 1 1 2 1 3 6 46 49 13 0-12-13-27-48-10-10-16-8-19-7-18-16-17-2-34-11-18-9-11 0-12 7-23 7-20 12-24 7-2 17-17 9-16 23-29 14-8 28zM4002 3549l25-37 6-13 7-8 31-28 23-6 54 5 26-14 18 6 11-3 31 10 14 20 32 24 25 44 16 0-36-60-15-11-21-31-23-8-16-15-17-5-26-3-14 7-37 17-6 3-9 0-41 10-21 19-22 23-17 38-10 16zM5107 3549l25-38 39-22 9-5 10-5 19-28 36-8 13-11 9-7 32-27 9 0 56-12 10 0 31-7 14 0 58 5 31 12 30 10 47 17 4 4 39 20 19 17 31 34 9 19 23 32 8 0 42 0 23 0-16-21-15-5-28-27-10-11-11-18-25-37-33-22-13 6-37-17-45-6-16-6-8-3-46-17-36-4-23-8-17 4-10-4-28 6-71 23-1 0-2 1-46 36-27 9-30 6-1 2-44 22-41 25-2 0-3 2-37 14-13 17-13 33 8 0 59 0zM6085 3310l-7 3-6 2-57 12-18-4 3-13-35 0-1 0-11 55-2 4 4 2 2-1 65 1 13-1 29 5 14-5 11-4 46-14 38-42-46 0zM4799 3310l-17 21-18 0-57-21-5 0-74 0 43 22 20 48 9 12 9-1 8-2 42-6 38-8 10 1 57-4 7-7 2-11 3-44-11 0-34 0zM3981 2890l-6 13 6 8 0-6zM4288 2594l21-31-12-22-24-7-12 1-45-22-19-8-28 2-57-7-15-29-6-3-53-45-1-1-1-4-21-38 2-25-17 0-3 44 11 21 13 22 30 32 13 9 23 21 6 12 45 5 19 17 5 21 23 7 4 28 35 0 50 0zM6052 2355l1 1 1 0 1-1-2 0zM4577 1639l12-20 9-17 28-19 16-16 16-18 24-12 61-21 23-10 36 4 19 1 31 22 14 11 24 13 11 13 30 39 11 30 15 0-19-49-17-22-18-21-38-20-5-4-14-10-22-24-19 1-37-4-60 27-25 8-36 18-18 19-6 1-24 20-11 8-1 2-32 50zM5891 1639l15-40 25-22 23-26 28-13 21-16 36-4 40-8 25 10 25 9 47 26 11 0 14 12 48 33-10 39 16 0 4-16 14-28-2-12-5-3-69-60 1-3-8 0-64-6-2 0-4-1-46-20-58 13-12-1-9-2-14 15-30 15-47 53-7 6-8 22-10 21 0 7 5 0zM4195 1400l20 28 17 22-14 7-43 11-9-1-59-8-6-2-34-57-20 0-66 0 0-6-3 3-3 3 6 9 39 20-1 44 14 15 15-5 56 0 50 4 11 0 31 3 28-7 35-17 11-3 16-8 7-44 7-11-18 0-69 0zM4552 684l-17-20 16-48 22-39 4-1-2-3-2-7-35-18-12-50 0-9 0-1 2-4 15-39-10 0-36 0-6 17-12 46 1 19 4 45 11 17 27 20-6 18-24 57 25 0zM6283 684l16-7-7-60-18-19-30-39-3-6-4-8-14-5-26-20-8 2-47 32-36 17-17 16-12-4-15-3-39-14-10-9-34-20-17-36-1-38-2-18-17 0 5 51-1 5 8 13 15 31 10 6 40 34 23 8 34 6 26 10 37-34 6-3 8-6 35-9 17 13 36 29 10 13 5 5 2 17-16 6-27 23 9 21 18 0zM6211 445l36 30 16-17 5-13-14 0zM4871 445l-23 46-8 25-6 10-11 14-5 6-53 10-53-12-17-15-35-30-11-43-5-11-6 0-28 0-8 33 15 22 24 12 52 38 5 5 1 0 2 1 43 24 18 0 10-5 45-9 12-1 9-16 9-11 14-25 22-65 1-3zM2376 445l-6 12-26 47-16 25-13 6-37 7-16 7-65-4-14-6-38-42-4-20-6-32-17 0 7 40 2 10 8 16 40 37 7 8 2 1 11 1 54 8 14 7 48-11 2 0 4-2 26-12 34-54 4-6 21-43zM1054 445l-3 17-8 58-13 19-24 20-16 2-49 17-47-7-3-1-63-22-11-27-36 12-23 4-9 24-14 47-16 19-2 29-16 28 49 0 6 0 7-44 3-22 46-51 53 22 22 13 28-11 31 4 48-15 12-2 9-4 8-15 17-14 17-25 4-29 7-46zM766 445l3 15 19-2 11-13-25 0zM3489 1793l24-9 34-12 11-7 6-11 19-38 1-14-2-24-26-34-6-7-10 0-48-13-31 21-12 8-31 42 12 34 1 18 5 13 14 6 24 25zM3433 2988l-11 26 4 9 5 13 11 33 25 5 26 12 23 8 20-10 13-16 30-37 11-16 3-11-4-8-10-29-17-26-59-24-25 3-28 22zM3480 1782l-31-31-4-2-1-4-1-5-15-45 23-31 22-16 19-12 42 11 9 3 7 11 21 27 1 14 0 8-11 21-13 24-24 16-21 7-14 5zM5008 3469l-12-2-7 2 5 10 0 3 3 5 27-4zM3464 2944l19-15 17-2 40 16 39 61-52 65-4 4-6 4-7-3-8-4-51-9-15-45 6-14zM3113 1596l-5-25-7-14-17-4-25-19 23 37 2 2 7 15z" fill="#4cb3ff" stroke="#4cb3ff"/><path d="M2549 684l0-6 15-58-7-42-3-15-4-42-6-30 5-9 16-37-1 0-39 0-9 24-4 23 2 31 4 42 9 44-33 7-16 20 14 14 18 34 32 0zM2985 1400l34 31 9 10 8 11-9 32-17 2-41-17-28 15-25 12-11 2-59-10-18-1-45-27-18-4-1-24-14-32-14 0-68 0-11 0-8 60-9 1 11 6 2 4 29 22 50 6 49-2 12 2 7 4 43 1 51 9 23-2 31 9 8-4 10 4 55 1 11 16 26 42 9 13 28 58-17 32 2 6-1 3-8 76-21 40-8 22-16 19 0 24 0 3 3-3 4-7 32-37 19-52 1-3 1-6 12-55 31-21 7-13 9-30 4-22 23-20 3-23 26-21 12-33 12-10 39-21 39-8 24-13 53-6 17-8 5-2 31-6 75 1 5 1 33 0 23 0 8-3 18 8 36 11 24 6 26 9 28 5 26 22 20 16 20 11 23-1 17 9 44 44 26 24-8 24 10 31 1 14 4 20 8 43 30 36 7 32 17 15 1 24 26 4 0-26-3-1 0-2-30-28-13-58-3-3-1-5-8-50-3-35-3-8 8-23 10-30-16-53-19-18 3-45-43 21-25-12-31-21-13 1-47 16-7-7-55-10-22-7-10-12-14 0-41-18-31 9-41 1-8-8-22 3-59-3-18 8-22 4-51 2-13-3-23-5-47 22-12 5-37 17-36 0-27 13-32-43-17-9-18-34-5-13-14 2-36-17 0 22zM745 1639l22-67 5-3 17-30 27-12 17-12 47-25 19-6 46 2 15 2 38-6 37 33 26 14 24 23 21 39 18 34 7 14 15 0-17-37-5-9-28-51-31-29-5-3-58-52-59 9-1 0-3 0-31-37-30 21-29 13-38 29-40 21-3 4-4 3-30 27-5 34-12 34-12 23 37 0zM2064 1639l8-26 13-32 35-46 3-6 36-15 16-14 8 1 23-17 33 2 54-8 19 6 21 15 31 20 7-1 0 6 33 32 18 30 10 8 12 21 17 24 28 0-29-41-11-16-5-7-23-36-14-15-4-44-45 8-11-7-34-25-1 0-75 11-32-2-10-8-37-1-17-1-8 6-31 48-1 20-37 49-2 3 0 3-17 55zM2974 2355l-7 31-5 25-51 48-52 20-2 0-5 0-60 3-43-12-25-63-7-9 1-11-3-32-32 0-30 0-19 30 2 26 0 41-25 9-4 1-1 5-2 5 8 6 22 20 0 28-7 52 29-8 44 24 18 0 62 0-2-8-16-58-4-23 30 9 19-1 48 1 51-35 5-2 9-8 49-36 19-25-6-10 9-43zM923 2355l-2 1-1-1-11 0 12 18 38-18zM3026 3278l33-17 19-15 26-6 30-11 17 4 17-3 36-13 36 16 36 1 29 13 9 5 7-1 64 18 29-2 28-2 31 6 30 7 43-8 19-2 67-20 5 1 20 24-2-26 36 0 35 14 3 1 65 1 2 0 2 0 68-3 12-8-14-26-55 24 44-49 5-12 15 4 3 12 42 22 31-6 32-18 0-20 0-53-18-5-44 1-34-52-10-20-35 26-5 23-6 14-19 45-35 21-17 9-5 0-57 30-17-6-25 0-20 12-16 2-60 16-32 5-28 6-8-2-12-2-37-9-41 4-3 0-1 0-7-1-73-30-37-15-6-3-61-28-18-26-2-3-15-8-28 3-42 22-13-3-14 0-41-11-8-8-5 3 0 4 0 47 0 45zM2329 3310l2 9-16 19-16 23-25 13-34 10-23 10-17 0-33-10-23-24-9-50-20 0-21 0-23 38-14 1-46 2-27-10-23 11-15 1-40 19 52 27 21 2-7 24-19 11-2-9-12-8-35-47-69-3-1 0-1-1-54 12-2-2-3-1-62-42-20-3-41-11-31 7-24-1-24 3-47 6-46 8-17 4-21-5-34 8-31-3-17 5-4 5-27 10-40 20-41 23-16-1-38 20-13 4 1 56-5 21 1 38 8 0 47 0-6-56 3-13 0-8 8-2 40-27 14-5 3-3 8-6 66-26 16 1 22-1 16-4 43-19 8-8 56-7 13 0 49-5 69 3 1 0 47 6 14 10 37 13 21 18 16-4 25 30 21 14 30 11 19-9 28 18 5 24 3 17 10 0 60 38 2 0 23 0-2-43 4-17 3-29 39-12 6-6 11-4 49-38 8-8 54 16 48 0 6-2 20-6 38-13 30 17 33-26 19-15 16-43-10-10-27 0zM1055 3310l-3 6-26 31-5 20-14 18-21-1-46 0-6-6-44-8-7-16-15-30 3-14-40 0-7 41-5 3 0 9-2 13 11-10 36 32 19 3 29 4 21-2 21-1 38 1 42 1 12-14 35 30 24 13 3 2 60-4-52-34-33-32-3-29 14-26zM2688 3549l8-28 29-14 16-23 17-9 2-17 24-7 20-12 23-7 12-7 11 0 18 9 34 11 17 2 18 16 19 7 16 8 10 10 27 48 12 13 5 0 0 60 0 40 9-30 1-9 1-12-1-48 3-20-11-9-22-40-20-18-30-16-36-13-1 0-1 0-1-1-65-30-40-3-20 15-38 17-13 4-5 31-4 5-3 5-46 22-3 10-28 40 31 0zM3990 3549l10-16 17-38 22-23 21-19 41-10 9 0 6-3 37-17 14-7 26 3 17 5 16 15 23 8 21 31 15 11 36 60 5 0 57 0-48-30-40-45-1-2-9-10-20-30-5-1-40-38-5-1-55-5-31 14-22 10-33 26-26 6-11 10-35 38-20 46-7 7 1 6-1 42 1 6 5 24 0-27 0-46zM5035 3549l13-33 13-17 37-14 3-2 2 0 41-25 44-22 1-2 30-6 27-9 46-36 2-1 1 0 71-23 28-6 10 4 17-4 23 8 36 4 46 17 8 3 16 6 45 6 37 17 13-6 33 22 25 37 11 18 10 11 28 27 15 5 16 21 32 0 10 0 6-55 9-13 18-33 18-17 6-11 25-39 42 17 28-3 38 0 36-2 24 5 16 1 47-4 21 0 19-22 19-23 25-40-40 0-9 0-38 42-46 14-11 4-14 5-29-5-13 1-65-1-2 1-4-2 2-4 11-55-34 0-6 24-19 38-11 2-30 20-22-12-36 13-10 25 2 35-28 3-20-23-9-16-4-26-5-24-18-8-63-9-3-1-9-3-5 9-28 12-5-3-13-1-57-14-33-12-22-7-21-8-52 14-32-15-8 2-22 7-51 3-40 21-20 3-20 20-23 13-24 12-46-10-35 5-27 5-50-6-6-31-3-1-3-1-52-7-22-23 2-25-45 0-3 44-2 11-7 7-57 4-10-1-38 8-42 6-8 2-9 1-9-12-20-48-43-22-43 0-1 0 1 1 1 1 39 35 14 7 7 16 32 41 33-3 27-4 24-4 21-5 30 3 47-3 19 26 4 0 4 3 58 5 29 56 2 25 24 36 3-1-2 4zM4343 2594l5-8 11 8 28 0 13 0 7-52 7-10-5-9-12-31-13-21-17-42-10-19-5-46 4-9-14 0-19 0 16 45-51-21-12 47 6 42-62 9-15 8-41 3-33-4-9-17-23-11-37-31-14-17-9-37-5-10 1-6-18 0-2 25 21 38 1 4 1 1 53 45 6 3 15 29 57 7 28-2 19 8 45 22 12-1 24 7 12 22-21 31zM6055 2355l-1 1-1 0-1-1-30 0 23 14 17 4 11-18zM4555 1639l32-50 1-2 11-8 24-20 6-1 18-19 36-18 25-8 60-27 37 4 19-1 22 24 14 10 5 4 38 20 18 21 17 22 19 49 14 0-27-69-4-5-24-28-27-15-25-30-32-25-4-4-47 4-11-1-51 22-36-8-13 12-30 18-14 17-21 6-13 11-33 39-21 47-5 9zM5879 1639l0-7 10-21 8-22 7-6 47-53 30-15 14-15 9 2 12 1 58-13 46 20 4 1 2 0 64 6 8 0-1 3 69 60 5 3 2 12-14 28-4 16 1 0 54 0 48 0-37-13-10-7-8-51-38-21-39-34 6-24-51-2-25-2-31-3-51-11 0-25-13 22-50-2-47-13-5 7-28 39-10 26-31 35-10 25-13 28-3 26zM4300 1400l-7 11-7 44-16 8-11 3-35 17-28 7-31-3-11 0-50-4-56 0-15 5-14-15 1-44-39-20-6-9 3-3 3-3 0-48-26 26-26 32 30 40-38 27 38 17 25 30 10 3 1-2 29-3 2 0 47-14 36 0 32 2 22 0 64 5 3 0 3-2 43-10 60-33 1-10 13-19 22-35-23 0zM4492 684l24-57 6-18-27-20-11-17-4-45-1-19 12-46 6-17-30 0-9 0-2 11-9 53-6 59 1 5-2 5 6 7 17 27 7 5-10 29-8 26 2 12 19 0zM6345 684l-5-31-15-37-15-18-14-15-13-16-16-39-11-24 23-24 12-35-23 0-5 13-16 17-36-30-23 0-12 0-2 15 8 47-44 30-56 27-4 2-45-16-9 0-35-20-13-28-1-48-1-9-8 0-7 0 2 18 1 38 17 36 34 20 10 9 39 14 15 3 12 4 17-16 36-17 47-32 8-2 26 20 14 5 4 8 3 6 30 39 18 19 7 60-16 7 23 0zM4857 445l-33 67-4 4-13 18-41 8-41-9-33-29-8-7-3-10-20-42-17 0 5 11 11 43 35 30 17 15 53 12 53-10 5-6 11-14 6-10 8-25 23-46zM4153 445l6 33 14-28 0-5-5 0zM2838 445l0 1 21 54 0 1 1-1-19-55-2 0zM2353 445l-37 63-4 4-54 24-47-3-27-11-19-21-7-37-7-19-6 0-10 0 6 32 4 20 38 42 14 6 65 4 16-7 37-7 13-6 16-25 26-47 6-12-11 0zM1040 445l-2 11-10 64-9 14-16 14-48 5-19 7-18-3-27-10-38-13-17-40-7-10 3-39-13 0-20 0-11 13-19 2-3-15-32 0 10 54 0 8-1 15-18 47-6 21-24 28-14 11-8 23-13 32 25 0 16 0 16-28 2-29 16-19 14-47 9-24 23-4 36-12 11 27 63 22 3 1 47 7 49-17 16-2 24-20 13-19 8-58 3-17-9 0zM3489 1783l14-5 21-7 24-16 13-24 11-21 0-8-1-14-21-27-7-11-9-3-42-11-19 12-22 16-23 31 15 45 1 5 1 4 4 2 31 31zM5024 3483l-27 4-3-5 0-3-5-10 7-2 12 2zM3442 3002l-6 14 15 45 51 9 8 4 7 3 6-4 4-4 52-65-39-61-40-16-17 2-19 15zM3091 1588l-7-15-2-2-23-37 25 19 17 4 7 14 5 25zM3486 1773l-15-15-16-19-4-6-13-37 15-21 32-23 6-4 14 4 29 10 23 31 4 6 0 2 0 2-2 4-21 39-38 24-7 2-4 2zM3478 2946l10-8 9-1 20 8 21 32 23 31-47 55-55-10-11-36 19-41z" fill="#54abff" stroke="#54abff"/><path d="M2595 684l0-48 4-13-3-17-11-37-6-20-10-52 25-50 1-2-30 0-16 37-5 9 6 30 4 42 3 15 7 42-15 58 0 6zM3026 1378l36 17 14-2 5 13 18 34 17 9 32 43 27-13 36 0 37-17 12-5 47-22 23 5 13 3 51-2 22-4 18-8 59 3 22-3 8 8 41-1 31-9 41 18 14 0 10 12 22 7 55 10 7 7 47-16 13-1 31 21 25 12 43-21-3 45 19 18 16 53-10 30-8 23 3 8 3 35 8 50 1 5 3 3 13 58 30 28 0 2 3 1 0-3 0-21-22-20-9-42-3-17-8-40 2-36 2-12 30-48 2-1 33-56 19-1 50-12 21-6 15 0 14 1 34 0 30 2 37-2 26 22 29-9 22 11 28-18 17-8 19 1 34 58 10-49 46-3 49-4 18 23 12 22-9 12-3 6-24 15-42 8-46-10 4 41 40 0 71 0 4 0 5-9 21-47 33-39 13-11 21-6 14-17 30-18 13-12 36 8 51-22 11 1 47-4 4 4 32 25 25 30 27 15 24 28 4 5 27 69 14 0-1-4 1-12 1-55 1-4-1-2-2-1-20-8-27-23 7-17-2-68 3-3 36-42-56 0-61 0-51 0-47 0-71 0-68 0-1 2-23 58-21 26-42 7-4-20 34-36 53-37-58 0-63 0-42 0-9 20-23 16 15-36-49 0-22 0-22 35-13 19-1 10-60 33-43 10-3 2-3 0-64-5-22 0-32-2-36 0-47 14-2 0-29 3-1 2-10-3-25-30-38-17 38-27-30-40 26-32 26-26 0-12 0-28-25 10-9 17-14 14-15 17-24 1-34 8-23 6-6 16-36 26-22 8-23-9-42-4-17-1-7-8-55 0-16-7-53 15-21 0-15-14-4-4-4 2-5-1-24 0-32 4-18-1-40 17-9 1-19 1-34-8-58-12-14 7-20 8-37-13-11-1-3-2-14-21-28 33-15 5-4-2-1-2-3-8 12-60-39-5-14-15-10 9-50 5 0 13zM2582 1400l-19 9-4 17-59 31-5 48 2 8-12 6-7-8-1-12 1-45-46-21-52-33-17 0-67 0-56 0-25 0-9 9-6-5-5 0-59 13-40-17-15 0-54 0-89 0-18 0 9 15 11 6 58-6 29-7 8 6 42 4 14 44-13 20-2 50-14 19-25 29-4 37-7 22 19 0 17-55 0-3 2-3 37-49 1-20 31-48 8-6 17 1 37 1 10 8 32 2 75-11 1 0 34 25 11 7 45-8 4 44 14 15 23 36 5 7 11 16 29 41 9 0 51 0 19 0-16-47-8-5-19-11 26-15 8 15 45 25 49-17-37-48-38-7 15-32 23 4 14 7 3 10 28 55 21-39 45 4 31-2 38-20 19 4 24 0 24 5 52-4 33 9 10 8 44 0 25 37 8 12 16 23 17 35-11 20 9 28-4 16-5 51-31 59 0 10 0 19 16-19 8-22 21-40 8-76 1-3-2-6 17-32-28-58-9-13-26-42-11-16-55-1-10-4-8 4-31-9-23 2-51-9-43-1-7-4-12-2-49 2-50-6-29-22-2-4-11-6 9-1 8-60-52 0zM2489 1400l4 31 20-31-16 0zM1018 1400l-25 8-8 1-5-9-55 0-58 0-26 0-20 8-3-8-50 0-66 0-50 0 23 38 5 14-1 11-15 59-25 15 0 38 0 64 50 0 16 0 12-23 12-34 5-34 30-27 4-3 3-4 40-21 38-29 29-13 30-21 31 37 3 0 1 0 59-9 58 52 5 3 31 29 28 51 5 9 17 37 16 0-9-19-7-31-28-43 1-13-11-12-15-32-14-35 40-37 36-6 30 57 4 4 3-3 1-1 10-17-8-51-33 0-43 0-73 0zM2958 2355l-4 11-9 43-34 31-34 13-28 9-50-5-5-11-35-45 3-25-16-21-10 0-21 0 3 32-1 11 7 9 25 63 43 12 60-3 5 0 2 0 52-20 51-48 5-25 7-31-9 0zM2587 2355l-3 23-8 50-9 4-1 40-18 47 2 1-2 2-5 72 20 0 55 0 37 0 45 0-44-24-29 8 7-52 0-28-22-20-8-6 2-5 1-5 4-1 25-9 0-41-2-26 19-30-60 0zM959 2355l-38 18-12-18-11 0 23 35 60-29 8-4 1-2-1 0zM2801 3310l24 38-34-19-15-4-12-15-44 0-25 0-23 58-28-44-4-14-43 0-40 0-78 0-66 0-19 0 10 10-16 43-19 15-33 26-30-17-38 13-20 6-6 2-48 0-54-16-8 8-49 38-11 4-6 6-39 12-3 29-4 17 2 43 24 0-1-13 11-47 0-3 1-1 34-31 46-18 2-2 8-1 18-17 23 6 32 0 29-2 16 2 39-14 56 32 4 1 2 2 19 13 46 2 24-24 7-31 0-23 22-42 40 28-18 30-10 41-1 37-7 9 6 5 5 3 8-10 34-19 52-37 12-17 61-25-34 43-29 37-26 31 6 28 10 27 27 0 32 0 28-40 3-10 46-22 3-5 4-5 5-31 13-4 38-17 20-15 40 3 65 30 1 1 1 0 1 0 36 13 30 16 20 18 22 40 11 9-3 20 1 48-1 12-1 9-9 30 0 35 0 10 5-6 2-5 14-49 4-23 1-28 0-30 6-52-28-24-1-2-28-27-26-13-16-32-8-9-51-16-37 1 17-37 15 3 28-3 41 12 28-27 41 7 43-11 11 3 22-7 41-17 42-18 21-9 21 1 34 0 17-3 35 16 37-5 18 5 56-4 12-1 14 3 52 13 19-4 47-5 20-6 33 3 19 23 36 16 51-18 0-10 9 5 8 0 46 6 44-6 11 0 18-13 23 22 20 10 10-3 12 3 49 4 30 39 21 54 20 0-16 13-2 0-1 1-50 53-1 3-32 34 3 31 0 28 4 23 10 43 2 10 9 14 0-16 0-35-5-24-1-6 1-42-1-6 7-7 20-46 35-38 11-10 26-6 33-26 22-10 31-14 55 5 5 1 40 38 5 1 20 30 9 10 1 2 40 45 48 30 31 0 53 0 17 0-19-26-17-6-34-4-62-37-3-2-1-1-15-20-11-12 14-50 33 6 23 6 26-35-23-27-29-6-34 2-28-27-38 0-27 0 1 21-23 11-47 5-15-20-20 9-21 7-27-33-33 0-73 0 0-63 0-44-32 18-31 6-42-22-3-12-15-4-5 12-44 49 55-24 14 26-12 8-68 3-2 0-2 0-65-1-3-1-35-14-36 0 2 26-20-24-5-1-67 20-19 2-43 8-30-7-31-6-28 2-29 2-64-18-7 1-9-5-29-13-36-1-36-16-36 13-17 3-17-4-30 11-26 6-19 15-33 17 0 32-56 0-73 0-39 0zM1970 3310l-4 2-55 3-5 2-61-7-1 0-58 0-71 0-66 0-50 0-79 0-27 0-25 5-24-5-41 0-36 0-20 6-13 19-39 14-50-39-1 0-84 0-53 0-13 0-14 26 3 29 33 32 52 34-60 4-3-2-24-13-35-30-12 14-42-1-38-1-21 1-21 2-29-4-19-3-36-32-11 10 2-13 0-9 5-3 7-41-19 0-43 0-21 0-45 31-61 40 2-71-5 0 0 76 0 34 0 2 35 27 0 27-35 63 0 10 67 0 8 0 40-44 2-4 2-2 22-49 32-20 20-18 8 6 42 9 5 0 44-4 46-2 20 0 36 2 18 4 42 22 11 7 32-2 1 29 19 25 1 41 20 0-1-38 5-21-1-56 13-4 38-20 16 1 41-23 40-20 27-10 4-5 17-5 31 3 34-8 21 5 17-4 46-8 47-6 24-3 24 1 31-7 41 11 20 3 62 42 3 1 2 2 54-12 1 1 1 0 69 3 35 47 12 8 2 9 19-11 7-24-21-2-52-27 40-19 15-1 23-11 27 10 46-2 14-1 23-38-23 0-57 0zM5001 3549l2-4-3 1-24-36-2-25-29-56-58-5-4-3-4 0-19-26-47 3-30-3-21 5-24 4-27 4-33 3-32-41-7-16-14-7-39-35-1-1-1-1-54 0-80 0-13 0 10 38 44 5 27-17 13 26-12 34 4 30-37 42-3 25 26 16 26-19 4-57 3-10 23-47 25 26 44 1 22 28 56-5 48-8 5-1 5-1 48 5 23-1 9 12 29 4 28 22 32 3 15 30 3 48 7 10 36 0zM5857 3549l2-21 18-27 8-26 15-12 18-29 9-15 16 7 54-6 10 0 59-3 6 1 37 2 22-2 65 1 6-7 7 1 2 10 30 30 49-24 6-12 24-35 35 17 13 17 0-52 0-35-33 16-10-4-32-31-39 0-32 0-25 40-19 23-19 22-21 0-47 4-16-1-24-5-36 2-38 0-28 3-42-17-25 39-6 11-18 17-18 33-9 13-6 55zM5789 3310l5 14-26 9-30-1-22-11-14-2-15-9-31 0-62 0-66 0-55 0-39 0-32 8-18-8-23 0-74 0-57 0-40 0-82 0-28 0-34 26-38-26-3 0-58 0-26 0-2 25 22 23 52 7 3 1 3 1 6 31 50 6 27-5 35-5 46 10 24-12 23-13 20-20 20-3 40-21 51-3 22-7 8-2 32 15 52-14 21 8 22 7 33 12 57 14 13 1 5 3 28-12 5-9 9 3 3 1 63 9 18 8 5 24 4 26 9 16 20 23 28-3-2-35 10-25 36-13 22 12 30-20 11-2 19-38 6-24-28 0-58 0zM4359 2594l-11-8-5 8 7 0zM4436 2594l2-20 36-47-26-42-7-19-1-30-14-23-8-25 9-33-20 0-51 0-4 9 5 46 10 19 17 42 13 21 12 31 5 9-7 10-7 52zM6368 2506l-12 17-9 15 5 17 16 17 0-38zM6073 2355l-11 18-17-4-23-14-4 0-7 0 0 7 7 8 20 11 32 10 21-36zM4269 2355l-12 31-8 32 3 16-24 3-56 32-12 1-10-2-2-5-42-20-21-17-25-31-10-40-9 0-6 0-1 6 5 10 9 37 14 17 37 31 23 11 9 17 33 4 41-3 15-8 62-9-6-42 12-47 51 21-16-45-38 0zM5864 1639l3-26 13-28 10-25 31-35 10-26 28-39 5-7 47 13 50 2 13-22 0 25 51 11 31 3 25 2 51 2-6 24 39 34 38 21 8 51 10 7 37 13 10 0 0-70 0-54-7-3-47 18-34-8-15-8-9-8 5-22 16-3 44-8 32 16-2-39-17-5-32-44-1 0-50 12-12-3-60 16-47 28-6-1-2 0 0-4 3-1 40-48-35 0-49 0-71 0-1 1 0-1-2 0-61 0-54 0-62 0-14 0 8 8 4 12 28 3 37 18 23-8-13 23-4 7-11 28-30 14 17 21-1 15-17 43-5 10-5 45zM5682 1400l16 10 16-10-18 0zM5284 1400l7 5 5 0 7-5-7 0zM5156 1400l24 6 6-3 2-1 5-2-7 0zM5036 1400l20 16 19-4 14-12-30 0zM4454 684l-2-12 8-26 10-29-7-5-17-27-6-7 2-5-1-5 6-59 9-53 2-11-27 0-8 42-3 16-1 18 0 47-10 52 9 11-6 18 5 35zM6368 646l-12-31-23-27-13-16-1-7-21-52-4-10-1-1 1-1 19-56-22 0-12 35-23 24 11 24 16 39 13 16 14 15 15 18 15 37 5 31 23 0zM6160 445l-7 36 4 24-22 15-28 13-29 15-31-11-23 0-24-15-10-19-1-35-2-23-13 0 1 9 1 48 13 28 35 20 9 0 45 16 4-2 56-27 44-30-8-47 2-15zM4844 445l-25 50-14 15-10 12-28 6-28-7-30-25-14-15-17-36-17 0 20 42 3 10 8 7 33 29 41 9 41-8 13-18 4-4 33-67zM4173 445l0 5-14 28-6-33-30 0 3 22 14 36 7 7 4 1 9-5 24-47-1-14zM2841 445l19 55-1 1 0-1-21-54 0-1-15 0 5 9 17 45 12 9 12-3 7-22-13-38zM2333 445l-19 32-27 32-34 14-29-2-38-16-1 0-21-60-13 0 7 19 7 37 19 21 27 11 47 3 54-24 4-4 37-63zM1028 445l-8 39-6 36-5 8-9 8-53 6-15 0-15-8-25-9-15-5-6-15-24-34 2-26-17 0-3 39 7 10 17 40 38 13 27 10 18 3 19-7 48-5 16-14 9-14 10-64 2-11zM702 445l2 12 3 48-7 53-1 14-18 15-32 26-10 30 0 41 21 0 13-32 8-23 14-11 24-28 6-21 18-47 1-15 0-8-10-54zM3489 1774l4-2 7-2 38-24 21-39 2-4 0-2 0-2-4-6-23-31-29-10-14-4-6 4-32 23-15 21 13 37 4 6 16 19 15 15zM3467 2976l-19 41 11 36 55 10 47-55-23-31-21-32-20-8-9 1-10 8zM775 1460l-22 25-29 19-32-51 31-20 32 5zM6340 3517l-2-19 20-62-43 29-13 28 9 22zM745 3383l1-2 0 2 0 1-1 0zM3492 2948l1-1 2 1 2 2 45 61-34 41-40-8-9-26 32-68zM3490 1760l-24-29-12-16-6-19 7-11 24-17 13-6 32 11 22 29-19 34z" fill="#5ca3ff" stroke="#5ca3ff"/><path d="M2638 684l3-33 0-21-23-38-5-14-13-47-5-28 13-28 3-30-15 0-1 0-1 2-25 50 10 52 6 20 11 37 3 17-4 13 0 48 25 0zM3026 1338l50-5 10-9 14 15 39 5-12 60 3 8 1 2 4 2 15-5 28-33 14 21 3 2 11 1 37 13 20-8 14-7 58 12 34 8 19-1 9-1 40-17 18 1 32-4 24 0 5 1 4-2 4 4 15 14 21 0 53-15 16 7 55 0 7 8 17 1 42 4 23 9 22-8 36-26 6-16 23-6 34-8 24-1 15-17 14-14 9-17 25-10 0-21 0-11-48 16-7-6-5 6-67-11-20 13 15 27-58 15-40 6-5 2-4 0-58 29-44 0-12 2-21 3-49 17-3 1-1 0-19-18-18 7-26-4-49-1-21-3-36 17-34-9-19-11-42-10-35-5-18-1-34-18-4-7-16-18-33-1-27-3-32-35-16-13-12 0-37 23 0 3zM2513 1400l-20 31-4-31-51 0-58 0 52 33 46 21-1 45 1 12 7 8 12-6-2-8 5-48 59-31 4-17 19-9-26 0zM2096 1400l40 17 59-13 5 0 6 5 9-9-15 0-64 0zM1681 1400l24 5 8 1 42 0 11 9 46 8 16 36 4 0 6 7 65 8 24-1 24 38 56 4-26 37 19 27-3 41 8 19 9 0 12 0 7-22 4-37 25-29 14-19 2-50 13-20-14-44-42-4-8-6-29 7-58 6-11-6-9-15-42 0-43 0-76 0-47 0zM1195 1400l8 51-10 17-1 1-3 3-4-4-30-57-36 6-40 37 14 35 15 32 11 12-1 13 28 43 7 31 9 19 7 0 13 0-10-45 8-9 5-50 11-15 25-23 8-24 6-10 17 11 10 14 21-6 21-9 29-27 11-1 30-16 50-16 9-5 50 9 12 0 24-14 3-1 47-2-50 0-34 0-58 0-88 0-34 0-64 0zM980 1400l5 9 8-1 25-8-27 0zM818 1400l3 8 20-8-17 0zM639 1537l25-15 15-59 1-11-5-14-23-38-13 0 0 57 0 61zM2632 1639l25-7 16-36 48-26 2-2 73-40 39 8 2 0 76-6 28 8 22 18 20 0 18 27 19 12 5 21 10 13 5 12-3 7 15 51-6 27-3 28-17 32 0 33 31-59 5-51 4-16-9-28 11-20-17-35-16-23-8-12-25-37-44 0-10-8-33-9-52 4-24-5-24 0-19-4-38 20-31 2-45-4-21 39-28-55-3-10-14-7-23-4-15 32 38 7 37 48-49 17-45-25-8-15-26 15 19 11 8 5 16 47 41 0zM2945 2355l-13 31-5 21-16 14-16 7-53 17-26-3-16-37-2-3-3-2-33-45-16 0 16 21-3 25 35 45 5 11 50 5 28-9 34-13 34-31 9-43 4-11zM2523 2355l-10 34 5 31 12 30-2 22-17 31-10 21 9 43-2 27 35 0 5-72 2-2-2-1 18-47 1-40 9-4 8-50 3-23-45 0zM2236 2355l21 11 6-3 2-8-9 0zM990 2355l-1 2-8 4-60 29-23-35-12 0 35 52 12-5 58-30 8-17zM684 2594l-3-13 19-29 8-15-2-8-6-11-28-14-1-34-10-21 0-35-7-18 7-41-22 0 0 56 0 54 0 81 0 48zM2764 3310l12 15 15 4 34 19-24-38-10 0zM2640 3310l4 14 28 44 23-58-37 0zM1845 3310l61 7 5-2 55-3 4-2-4 0-60 0zM1444 3310l24 5 25-5-24 0zM1314 3310l-1 3-4 1-6-4-58 0 50 39 39-14 13-19 20-6-21 0zM644 3310l-2 71 61-40 45-31-60 0zM639 3539l35-63 0-27-35-27 0 53zM741 3549l19-20 9-17 9-10 14-33 36-22 16-11 38 6 41-2 8-2 52 3 18-1 2 0 4 0 52 13 23 12 14 10 8 11 33 43 0 20 20 0-1-41-19-25-1-29-32 2-11-7-42-22-18-4-36-2-20 0-46 2-44 4-5 0-42-9-8-6-20 18-32 20-22 49-2 2-2 4-40 44zM2062 3549l4-54 24-11 20-18 27-10 11-12 35-8 4-1 59-4 42 4 15-5 21 12 27 7 13 13 53 33 7 7 16 47 4 0 55 0 55 0 39 0-10-27-6-28 26-31 29-37 34-43-61 25-12 17-52 37-34 19-8 10-5-3-6-5 7-9 1-37 10-41 18-30-40-28-22 42 0 23-7 31-24 24-46-2-19-13-2-2-4-1-56-32-39 14-16-2-29 2-32 0-23-6-18 17-8 1-2 2-46 18-34 31-1 1 0 3-11 47 1 13 10 0zM3026 3718l19-21 5-16 9-32 7-36 1-45 0-12 9-68 4-8 5-5-8-10-8-16-34-12 10-65 50 24 26 11 23-39 17-6 28 12 1-1 56-29 21 2 44-10 15-7 10-4 45-5 54-10 10-2 59 14 9-2 5 1 60-6 38 7 7 2 68 30 1 1 1 0 50-1 20 18 13 14 28 12 39-5 5 1 12-1 22-8 51-11 17 4-5 22 10 38-8 29-4 24-13 14 7 55 0 14 8 40 4 20 5 29 27 37 0-27-9-14-2-10-10-43-4-23 0-28-3-31 32-34 1-3 50-53 1-1 2 0 16-13-20 0-21-54-30-39-49-4-12-3-10 3-20-10-23-22-18 13-11 0-44 6-46-6-8 0-9-5 0 10-51 18-36-16-19-23-33-3-20 6-47 5-19 4-52-13-14-3-12 1-56 4-18-5-37 5-35-16-17 3-34 0-21-1-21 9-42 18-41 17-22 7-11-3-43 11-41-7-28 27-41-12-28 3-15-3-17 37 37-1 51 16 8 9 16 32 26 13 28 27 1 2 28 24-6 52 0 30-1 28-4 23-14 49-2 5-5 6zM4546 3549l23-18 12-27 19-14 5-38 36 5 11-11 59-6 5-1 49-10 58 14 1 0 1 0 50 8 52 41 5 0 3 5 0 12 9 40 6 0 14 0-7-10-3-48-15-30-32-3-28-22-29-4-9-12-23 1-48-5-5 1-5 1-48 8-56 5-22-28-44-1-25-26-23 47-3 10-4 57-26 19-26-16 3-25 37-42-4-30 12-34-13-26-27 17-44-5-10-38-28 0-72 0-33 0 28 27 34-2 29 6 23 27-26 35-23-6-33-6-14 50 11 12 15 20 1 1 3 2 62 37 34 4 17 6 19 26 29 0zM5880 3549l8-10 19-60 34-29 50-7 14-8 4-1 62-4 54 11 64-4 9 7 37 46 6 11 36 48 21 0 70 0 0-45 0-84 0-4-13-17-35-17-24 35-6 12-49 24-30-30-2-10-7-1-6 7-65-1-22 2-37-2-6-1-59 3-10 0-54 6-16-7-9 15-18 29-15 12-8 26-18 27-2 21 19 0zM6293 3310l32 31 10 4 33-16 0-19-44 0zM5687 3310l15 9 14 2 22 11 30 1 26-9-5-14-20 0-52 0zM5384 3310l18 8 32-8-33 0zM5008 3310l38 26 34-26-33 0zM4087 3310l27 33 21-7 20-9 15 20 47-5 23-11-1-21-28 0-55 0-40 0zM4484 2594l24-27-3-45-1-20-12-28-11-26-2-34 2-25-8-34-20 0-26 0-9 33 8 25 14 23 1 30 7 19 26 42-36 47-2 20 21 0zM6368 2572l-16-17-5-17 9-15 12-17 0-26 0-50 0-75-18 0 4 12-3 55-6 27 1 31-15 21-29 44 11 33 5 16 4 0 46 0zM6091 2355l-21 36-32-10-20-11-7-8 0-7-9 0 2 14 14 18 12 7 47 14 33-53zM4752 2355l1 2 2-2-2 0zM4245 2355l-16 43-4 14-66 40-30-14-16-8-4-3-38-45-6-27-15 0 10 40 25 31 21 17 42 20 2 5 10 2 12-1 56-32 24-3-3-16 8-32 12-31zM3981 1788l-11-10-5-22-6-35-5-26 2-22 3-31 18-28 28-28 15-26 9-1 70-16 18-7 40-1 2 0 2 1 63-4 57 45 9-3 20 10 21 16 36 18-6 21 28 0 29 0-4-41 46 10 42-8 24-15 3-6 9-12-12-22-18-23-49 4-46 3-10 49-34-58-19-1-17 8-28 18-22-11-29 9-26-22-37 2-30-2-34 0-14-1-15 0-21 6-50 12-19 1-33 56-2 1-30 48-2 12-2 36 8 40 3 17 9 42 22 20zM5014 1639l1-34 7-37-9-18-20-12-4-1-6-5 10-23 29-8 23-17 20-3 62-14 33-16 24-9 24-17 39-15 22 17 28-2 37-25-31 0-7 5-5 0-7-5-35 0-56 0-5 2-2 1-6 3-24-6-48 0-19 0-14 12-19 4-20-16-25 0-30 0-36 42-3 3 2 68-7 17 27 23 20 8 2 1 1 2-1 4-1 55-1 12 1 4 1 0zM5849 1639l5-45 5-10 17-43 1-15-17-21 30-14 11-28 4-7 13-23-23 8-37-18-28-3-4-12-8-8-59 0-45 0-16 10-16-10-16 0-66 0-55 0-76 0-54 0 55 17 12-2 57 3 31 14 25 0 34 22 12 3 56 4 7 13 64 28 6 0 22-17 25 10 11 14-2 27-6 44 13 31-2 28zM6167 1400l-40 48-3 1 0 4 2 0 6 1 47-28 60-16 12 3 50-12 1 0 32 44 17 5 2 39-32-16-44 8-16 3-5 22 9 8 15 8 34 8 47-18 7 3 0-11 0-59 0-45-66 0-53 0-68 0zM6009 1400l2 0 0 1 1-1-1 0zM4623 1400l-53 37-34 36 4 20 42-7 21-26 23-58 1-2-2 0zM4443 1400l-15 36 23-16 9-20-9 0zM4417 684l-5-35 6-18-9-11 10-52 0-47 1-18 3-16 8-42-27 0-5 28-1 28-1 35 0 27-6 31-10 38-11 31 5 21 18 0zM6368 595l-19-23-5-41-13-31 9-31 0-24-24 0-3 0-19 56-1 1 1 1 4 10 21 52 1 7 13 16 23 27 12 31 0-31zM6143 445l-11 57-1 1-52 27-18-6-36 0-15-9-5-12-1-20-5-38-12 0 2 23 1 35 10 19 24 15 23 0 31 11 29-15 28-13 22-15-4-24 7-36zM4831 445l-17 34-25 24-5 7-16 3-16-3-17-14-33-38-7-13-17 0 17 36 14 15 30 25 28 7 28-6 10-12 14-15 25-50zM4183 445l1 14-24 47-9 5-4-1-7-7-14-36-3-22-10 0-6 0 0 16 14 37 21 19 10 4 23-16 19-36-1-24zM2863 445l13 38-7 22-12 3-12-9-17-45-5-9-15 0 9 17 14 36 24 18 23-7 14-43-7-21zM2312 445l-1 1-50 59-12 5-11-1-15-6-32-19-14-39-13 0 21 60 1 0 38 16 29 2 34-14 27-32 19-32zM1015 445l-14 66-1 10-1 2-3 2-13 1-55-1-29-16-11-19-24-33 1-12-16 0-2 26 24 34 6 15 15 5 25 9 15 8 15 0 53-6 9-8 5-8 6-36 8-39zM670 445l1 42 1 18-4 16-5 38-24 21 0 28 0 35 10-30 32-26 18-15 1-14 7-53-3-48-2-12-9 0zM755 1438l-32-5-31 20 32 51 29-19 22-25zM6311 3515l-9-22 13-28 43-29-20 62 2 19zM745 3384l1 0 0-1 0-2-1 2zM3491 2950l-32 68 9 26 40 8 34-41-45-61-2-2-2-1-1 1zM3527 1736l19-34-22-29-32-11-13 6-24 17-7 11 6 19 12 16 24 29zM3471 3020l22-47 31 42-22 26-25-5zM3492 1742l-16-19-18-27 35-20 22 8 14 19-12 23z" fill="#649bff" stroke="#649bff"/><path d="M2678 684l-2-2-10-52-2-7-1-17-20-31-20-54-3-8 0-3 1-4 6-61-16 0-3 30-13 28 5 28 13 47 5 14 23 38 0 21-3 33 36 0zM3026 1284l37-23 12 0 16 13 32 35 27 3 33 1 16 18 4 7 34 18 18 1 35 5 42 10 19 11 34 9 36-17 21 3 49 1 26 4 18-7 19 18 1 0 3-1 49-17 21-3 12-2 44 0 58-29 4 0 5-2 40-6 58-15-15-27 20-13 67 11 5-6 7 6 48-16 0-26-27 9-46-41-29 37-24-4-31 20-22-2-9 16-55-2-5 5-4 3-57 51-33 6-3 1-76 8-8 3-3-3-32 13-47-9-22 0-56-7-8 3-7-1-25-16-28-12-26-10-44-7-12-6-19-15-10-14-9 3-53-2-12-5-11-1-43-32-53 0-6 4zM1569 1400l-47 2-3 1-24 14-12 0-50-9-9 5-50 16-30 16-11 1-29 27-21 9-21 6-10-14-17-11-6 10-8 24-25 23-11 15-5 50-8 9 10 45 25 0-5-22 28-34 1-13 11-15 45-44 1-1 1 0 57-14 63-34 2-1 1-1 40-23 29 5 30 1 13-7 31-9 38-2 26-4 23 1 31 7 43 2 26 1 30 24 7 8 23 21 23 8 66 16 14 2 4 0 6 10 10 25 19 31 13 13 19 49 29 0-8-19 3-41-19-27 26-37-56-4-24-38-24 1-65-8-6-7-4 0-16-36-46-8-11-9-42 0-8-1-24-5-44 0-42 0zM2671 1639l15-33 36-19 17-16 57-31 31 7 12-2 9 0 63-5 23 7 31 25 2 0 1 1 44 29 9 37 5 0 0 24 13 41-10 39 0 5-3 4 0 34 17-32 3-28 6-27-15-51 3-7-5-12-10-13-5-21-19-12-18-27-20 0-22-18-28-8-76 6-2 0-39-8-73 40-2 2-48 26-16 36-25 7 24 0zM2933 2355l-21 47-2 1-41 13-35 11-2 0-1-3-17-35-27-21-10-13-15 0 33 45 3 2 2 3 16 37 26 3 53-17 16-7 16-14 5-21 13-31zM2497 2355l-8 29-5 22 0 11 14 43-3 6-21 45-24 28 7 29-19 2-6 24 13 0 44 0 19 0 2-27-9-43 10-21 17-31 2-22-12-30-5-31 10-34zM2265 2355l-2 8-6 3-21-11-29 0 52 26 13-8 6-18zM999 2355l-8 17-58 30-12 5-35-52-11 0 2 3 29 50 8 12 11 2 17-9 51-27 15-31zM661 2355l-7 41 7 18 0 35 10 21 1 34 28 14 6 11 2 8-8 15-19 29 3 13 13 0 56 0 3-6-19-66-10-22-18-27-6-45-3-6 0-4-19-47 2-16zM1303 3310l6 4 4-1 1-3-4 0zM766 3549l15-26 18-21 6-15 15-9 38-26 23 4 25-1 30-8 58 3 7 3 56 24 9 2 4 2 2 1 40 59 5 8 20 0 0-20-33-43-8-11-14-10-23-12-52-13-4 0-2 0-18 1-52-3-8 2-41 2-38-6-16 11-36 22-14 33-9 10-9 17-19 20 20 0zM2072 3549l4-44 48-23 5-4 7-3 21-21 24-6 18-3 45-4 51 5 6 1 37 9 25 24 30 19 19 17 11 33 17 0-16-47-7-7-53-33-13-13-27-7-21-12-15 5-42-4-59 4-4 1-35 8-11 12-27 10-20 18-24 11-4 54zM3026 3743l20-23 13-14 8-28 4-14 10-50 1-43 10-5 3-13 17-38 25-22 8-10 6-8 56-48 1 0 59 1 1 0 18-32 37-11 14-7 59-20 1 0 1 0 51-13 17 4 46-10 26 4 37-4 24 5 25 7 31 13 25 7 8 5 30 31 18 0 11 11 35 15 28 16 31 5 14 5 37-3-9 26 13 31 19 51 2 2 8 53 5 6 7 41 28 39 4 13 5 6 7 10 0-17 0-17-27-37-5-29-4-20-8-40 0-14-7-55 13-14 4-24 8-29-10-38 5-22-17-4-51 11-22 8-12 1-5-1-39 5-28-12-13-14-20-18-50 1-1 0-1-1-68-30-7-2-38-7-60 6-5-1-9 2-59-14-10 2-54 10-45 5-10 4-15 7-44 10-21-2-56 29-1 1-28-12-17 6-23 39-26-11-50-24-10 65 34 12 8 16 8 10-5 5-4 8-9 68 0 12-1 45-7 36-9 32-5 16-19 21 0 5zM4579 3549l15-34 41-31 3-5 8-3 22-21 40-3 13-5 42-8 50 12 10 1 21 9 27 4 34 27 19 11 10 46 10 0-9-40 0-12-3-5-5 0-52-41-50-8-1 0-1 0-58-14-49 10-5 1-59 6-11 11-36-5-5 38-19 14-12 27-23 18 20 0zM5890 3549l29-36 10-29 17-15 24-3 36-22 11-1 53-4 47 9 16 8 41-2 19 16 20 25 23 40 11 14 30 0-36-48-6-11-37-46-9-7-64 4-54-11-62 4-4 1-14 8-50 7-34 29-19 60-8 10zM4554 2594l-7-28-2-47-1-19-15-18-2-4-6-35-12-31-1-9 2-27-2-21-7 0-28 0 8 34-2 25 2 34 11 26 12 28 1 20 3 45-24 27 46 0zM6318 2594l-5-16-11-33 29-44 15-21-1-31 6-27 3-55-4-12-28 0-6 0 0 25 5 16-1 13-12 60-2 11-25 49-12 18 5 32 6 15zM6110 2355l-33 53-47-14-12-7-14-18-2-14-8 0 2 22 21 27 6 3 37 11 20 5 9-5 20-31 19-32zM4755 2355l-2 2-1-2-15 0 18 22 20-22zM4221 2355l-1 3-15 50-45 27-33-15-5-8-16-15-23-29-3-13-15 0 6 27 38 45 4 3 16 8 30 14 66-40 4-14 16-43zM3981 1765l0-1-9-54-2-11 0-9 6-50 4-7 40-41 12-13 2-1 83-33 33-1 8-1 12 3 51-3 63 50 6 5 43 41 4 0 24 0 6-21-36-18-21-16-20-10-9 3-57-45-63 4-2-1-2 0-40 1-18 7-70 16-9 1-15 26-28 28-18 28-3 31-2 22 5 26 6 35 5 22 11 10zM5044 1639l5-5 12-61 65-49 6-11 8-7 47-30 29-20 11-8 13-4 8 5 49-4 42-27 16-3 38 11 16-5 51 22 12 4 32-5 27 1 38 18 17 5 6 3 17 7 32 9 24 2 20 36 7 7 6 2 47 2 26 38 1 0 0 1 0 1 39 65 18 0 6 0 2-28-13-31 6-44 2-27-11-14-25-10-22 17-6 0-64-28-7-13-56-4-12-3-34-22-25 0-31-14-57-3-12 2-55-17-5 0-58 0-18 0-37 25-28 2-22-17-39 15-24 17-24 9-33 16-62 14-20 3-23 17-29 8-10 23 6 5 4 1 20 12 9 18-7 37-1 34 27 0zM4375 684l-5-21 11-31 10-38 6-31 0-27 1-35 1-28 5-28-16 0-6 0-2 9-1 48-2 47-3 13-9 23-9 36-12 33-10 30 15 0zM6368 501l0-3 0-1 0-52-28 0 0 24-9 31 13 31 5 41 19 23 0-23zM6126 445l-4 22-30 39-13 6-4-1-50-1-4-2-2-4 0-6-7-53-13 0 5 38 1 20 5 12 15 9 36 0 18 6 52-27 1-1 11-57zM4817 445l-8 17-35 35-1 2-4 0-4-1-4-3-18-21-28-29-10 0-10 0 7 13 33 38 17 14 16 3 16-3 5-7 25-24 17-34zM4193 445l1 24-19 36-23 16-10-4-21-19-14-37 0-16-8 0 0 41 3 8 34 30 18 6 37-25 13-27 0-33zM2885 445l7 21-14 43-23 7-24-18-14-36-9-17-14 0 13 25 10 26 36 28 34-11 21-63-1-5zM2289 445l-44 49-13-10-36-21-6-18-13 0 14 39 32 19 15 6 11 1 12-5 50-59 1-1-1 0zM1002 445l-6 28-14 28-32 8-26-1-8-5-25-44-7-14-4 0-15 0-1 12 24 33 11 19 29 16 55 1 13-1 3-2 1-2 1-10 14-66zM639 445l3 61-3 11 0 33 0 30 24-21 5-38 4-16-1-18-1-42zM3477 3036l25 5 22-26-31-42-22 47zM3517 1726l12-23-14-19-22-8-35 20 18 27 16 19zM5051 1559l-10-22-4-2 7-6 34-5zM3483 3021l9-20 14 18-10 11-10-2zM3495 1724l-8-10-10-13 18-10 11 4 7 10-6 11z" fill="#6c93ff" stroke="#6c93ff"/><path d="M2710 684l-18-19-8-37-5-18-2-39-3-5-5-12-25-51-4-32 2-26-15 0-6 61-1 4 0 3 3 8 20 54 20 31 1 17 2 7 10 52 2 2zM3026 1241l6-4 53 0 43 32 11 1 12 5 53 2 9-3 10 14 19 15 12 6 44 7 26 10 28 12 25 16 7 1 8-3 56 7 22 0 47 9 32-13 3 3 8-3 76-8 3-1 33-6 57-51 4-3 5-5 55 2 9-16 22 2 31-20 24 4 29-37 46 41 27-9 0-27-6 2-11-10-29-19-27-20-60-12-2 5-11 3-33 34-11 8-22 40-25-1-22 26-17 12-32 28-20 4-19 10-66 6-16 5-18 4-16 6-52-9-11-1-2-1-62-3-5-3-41-19-24-10-28-12-22-49-18-22-2-3-8-5-17 8-20 7-8 0-48-20-16-6-5-1-40 0-32-7-31 13 0 23zM1232 1639l33-39 17-13 21-24 28-8 18-20 24-14 48-34 42-15 9-6 7 1 48 2 2-1 60-16 2 0 2 0 12 0 38-1 4 0 15 2 56 4 12 0 12 10 26 31 8 8 47 16 21 5 40 29 3 7 4 7 52 57 5 12 28 0-19-49-13-13-19-31-10-25-6-10-4 0-14-2-66-16-23-8-23-21-7-8-30-24-26-1-43-2-31-7-23-1-26 4-38 2-31 9-13 7-30-1-29-5-40 23-1 1-2 1-63 34-57 14-1 0-1 1-45 44-11 15-1 13-28 34 5 22 24 0zM2689 1639l9-22 24-13 33-29 42-22 22 4 23-3 17 0 50-4 18 5 25 20 10 3 7 8 35 23 8 30 9 0-9-37-44-29-1-1-2 0-31-25-23-7-63 5-9 0-12 2-31-7-57 31-17 16-36 19-15 33zM3026 1752l3-4 0-5 10-39-13-41 0 47 0 36zM2920 2355l-6 12-22 19-50 15-11-24-29-22-19 0-6 0 10 13 27 21 17 35 1 3 2 0 35-11 41-13 2-1 21-47zM2474 2355l-7 34 0 32 8 26-11 24-10 21-21 25-15 26-15 23-7 28 36 0 6-24 19-2-7-29 24-28 21-45 3-6-14-43 0-11 5-22 8-29-12 0zM2278 2355l-6 18-13 8-52-26-4 0-10 0 3 6 8 11 32 11 25 12 20-11 10-29zM1008 2355l-15 31-51 27-17 9-11-2-8-12-29-50-2-3-18 0 12 19 17 30 19 27 25 4 38-20 27-14 22-46zM683 2355l-2 16 19 47 0 4 3 6 6 45 18 27 10 22 19 66-3 6 9 0 36 0-18-18-13-48-6-20-12-12-17-25-3-23 1-36-13-13-12-44-8 0zM784 3549l9-16 21-25 3-5 20-10 36-25 7 1 8 0 53-13 41 2 17 6 40 17 29 14 39 54 10 0-5-8-40-59-2-1-4-2-9-2-56-24-7-3-58-3-30 8-25 1-23-4-38 26-15 9-6 15-18 21-15 26zM2083 3549l2-35 48-22 5-6 11-7 16-15 13-3 32-7 31-2 35 3 23 2 26 7 37 35 7 4 31 28 6 18 17 0-11-33-19-17-30-19-25-24-37-9-6-1-51-5-45 4-18 3-24 6-21 21-7 3-5 4-48 23-4 44zM3026 3768l46-53 1 0 2-7 13-26 3-9 3-44 2-13 1-3 39-19 7-27 5-25 23-29 24-32 10-9 30-19 31 1 39-25 3-5 9-2 33-29 46-20 11-3 43-4 20 0 41-8 48 7 13-2 9 2 29 8 13 1 3 2 41 12 16 9 38 39 6 4 5 9 45 36 16 9 4 1 5 2 22 33 23 25 3 2 3 5 28 28 3 21 34 49 2 10 6 9 13 41 18 22 24 33 0-41-7-10-5-6-4-13-28-39-7-41-5-6-8-53-2-2-19-51-13-31 9-26-37 3-14-5-31-5-28-16-35-15-11-11-18 0-30-31-8-5-25-7-31-13-25-7-24-5-37 4-26-4-46 10-17-4-51 13-1 0-1 0-59 20-14 7-37 11-18 32-1 0-59-1-1 0-56 48-6 8-8 10-25 22-17 38-3 13-10 5-1 43-10 50-4 14-8 28-13 14-20 23zM4597 3549l10-23 28-20 9-19 28-11 12-11 21-2 21-7 35-7 42 10 20 2 40 18 4 1 6 4 43 25 8 40 10 0-10-46-19-11-34-27-27-4-21-9-10-1-50-12-42 8-13 5-40 3-22 21-8 3-3 5-41 31-15 34zM5899 3549l51-61 58-35 17-2 44-3 39 8 32 16 18-2 29 25 4 4 8 14 26 36 10 0 12 0-11-14-23-40-20-25-19-16-41 2-16-8-47-9-53 4-11 1-36 22-24 3-17 15-10 29-29 36zM4612 2594l-21-14-4-56-3-7-10-14-25-31-7-15-9-49-4-18-3-35-18 0 2 21-2 27 1 9 12 31 6 35 2 4 15 18 1 19 2 47 7 28 22 0zM6280 2594l-6-15-5-32 12-18 25-49 2-11 12-60 1-13-5-16 0-25-21 0 1 40-5 8-4 31-8 47-13 26-29 39 2 8-33 40 59 0zM6128 2355l-19 32-20 31-9 5-20-5-37-11-6-3-21-27-2-22-9 0 3 30 25 32 4 3 3 0 54 14 33-16 18-30 19-23 0-10-9 0zM4775 2355l-20 22-18-22-16 0 36 42 39-42zM4196 2355l-2 20-9 29-24 14-17-8-12-18-38-37-14 0 3 13 23 29 16 15 5 8 33 15 45-27 15-50 1-3-1 0zM3988 1639l47-52 16-7 66-26 26-1 15-3 20 6 40-2 49 39 18 14 33 32 15 0-43-41-6-5-63-50-51 3-12-3-8 1-33 1-83 33-2 1-12 13-40 41-4 7-6 50 0 9 2 11 9 54 0 1 0-1 0-62 0-63zM5084 1639l31-36 10-16 20-42 42-32 9-5 43-27 37-14 22-1 10-7 55-10 12 4 34-11 33 15 33 11 46-1 4 0 49 14 21 13 39 15 7 7 27 29 39 17 9 0 5 7 19 50 41 17 1 3 29 0-39-65 0-1 0-1-1 0-26-38-47-2-6-2-7-7-20-36-24-2-32-9-17-7-6-3-17-5-38-18-27-1-32 5-12-4-51-22-16 5-38-11-16 3-42 27-49 4-8-5-13 4-11 8-29 20-47 30-8 7-6 11-65 49-12 61-5 5zM4334 684l10-30 12-33 9-36 9-23 3-13 2-47 1-48 2-9-13 0-9 31-1 27-1 27-8 35-13 35-4 13-15 33-13 38zM6368 445l0 52 0 1 0 3 0-3zM6101 445l-27 36-34 2-3-38-20 0-5 0 7 53 0 6 2 4 4 2 50 1 4 1 13-6 30-39 4-22-10 0zM4804 445l-1 1-3 3-31 30-32-34-22 0 28 29 18 21 4 3 4 1 4 0 1-2 35-35 8-17zM4204 445l0 33-13 27-37 25-18-6-34-30-3-8 0-41-9 0 1 42 1 6 8 11 30 27 25 8 51-35 9-17-1-42zM2907 445l1 5-21 63-34 11-36-28-10-26-13-25-9 0-6 0 5 8 12 25 7 17 48 37 45-14 9-26 14-41 1-6-7 0zM2266 445l-24 27-37-27-4 0-11 0 6 18 36 21 13 10 44-49zM975 445l-14 25-29 7-14-32-34 0 7 14 25 44 8 5 26 1 32-8 14-28 6-28-5 0zM639 517l3-11-3-61 0 62zM5078 1524l-34 5-7 6 4 2 10 22zM3486 3028l10 2 10-11-14-18-9 20zM3507 1716l6-11-7-10-11-4-18 10 10 13 8 10z" fill="#748bff" stroke="#748bff"/><path d="M2741 684l-34-35-4-24-9-27-1-28 1-20-23-49-3-6-1-8-8-42-8 0-9 0-2 26 4 32 25 51 5 12 3 5 2 39 5 18 8 37 18 19zM3026 1209l31-13 32 7 40 0 5 1 16 6 48 20 8 0 20-7 17-8 8 5 2 3 18 22 22 49 28 12 24 10 41 19 5 3 62 3 2 1 11 1 52 9 16-6 18-4 16-5 66-6 19-10 20-4 32-28 17-12 22-26 25 1 22-40 11-8 33-34 11-3 2-5 60 12 27 20 29 19 11 10 6-2 0-8 0-29-17-11-23-17-25-21-56-27-6-4-3 2-2 2-25 29-19 40-2 2-13 10-42 33-1 3-2 2-34 40-31 22-6 5-4 1-38 20-46 5-34 10-32 7-3 1-52-7-16-1-50-3-11-7-57-27-7-3-5-5-54-65-9-18-49-31-8 3-33-8-11-4-19-3 19-13 11-38-8-26-15-5-25 22-37 48-15 17-40 16zM1282 1639l10-12 15-11 12-16 14-21 22-25 63-35 11-6 2-2 16-3 32-9 9 0 43-10 22-6 40-11 32-1 27-1 63 9 5 4 33 38 12 9 48 16 8 3 38 26 23 59 3 5 4 0 50 0 9 0-5-12-52-57-4-7-3-7-40-29-21-5-47-16-8-8-26-31-12-10-12 0-56-4-15-2-4 0-38 1-12 0-2 0-2 0-60 16-2 1-48-2-7-1-9 6-42 15-48 34-24 14-18 20-28 8-21 24-17 13-33 39zM2706 1639l5-11 12-7 48-42 26-14 14 3 33-5 26-1 37-2 13 3 19 15 18 6 13 15 26 18 6 22 10 0-8-30-35-23-7-8-10-3-25-20-18-5-50 4-17 0-23 3-22-4-42 22-33 29-24 13-9 22zM2889 2355l-16 13-21 7-5-11-12-9-33 0 29 22 11 24 50-15 22-19 6-12-5 0zM2453 2355l-4 16 1 55 2 9-15 33-3 6-2 4-33 59-35 52-2 3-2 2 3 0 33 0 7-28 15-23 15-26 21-25 10-21 11-24-8-26 0-32 7-34zM2291 2355l-10 29-20 11-25-12-32-11-8-11-3-6-11 0 5 13 18 23 47 17 9 3 11-6 18-11 14-39zM1017 2355l-22 46-27 14-38 20-25-4-19-27-17-30-12-19-18 0 24 39 3 6 29 42 39 7 60-32 3-2 29-60zM705 2355l12 44 13 13-1 36 3 23 17 25 12 12 6 20 13 48 18 18 26 0 8 0-16-22-15-15-4-13-15-55-22-21-2-26 0-37-26-28-6-22zM802 3549l3-5 7-8 13-28 55-28 2-1 17-3 46-11 25 1 26 9 8 4 65 31 29 39 9 0-39-54-29-14-40-17-17-6-41-2-53 13-8 0-7-1-36 25-20 10-3 5-21 25-9 16zM2093 3549l2-25 34-16 13-16 29-16 3-3 2 0 46-10 17-1 18 2 41 4 14 3 26 25 19 12 22 29 9 8 1 4 17 0-6-18-31-28-7-4-37-35-26-7-23-2-35-3-31 2-32 7-13 3-16 15-11 7-5 6-48 22-2 35zM3026 3805l17-13 7-16 33-37 32-11 8-15 16-55 0-11 11-6 24-36 21-58 1-8 38-33 23-24 5-3 4 0 6-4 42-32 7-7 12-10 30-25 32-14 21-6 33-3 51 0 10-2 26 4 35 2 44 3 14 12 26 7 23 15 21 20 20 13 15 27 28 22 10 10 17 28 18 20 21 21 17 26 10 15 31 48 13 29 10 24 3 2 29 37 19 26 9 13 12 12 0-25 0-12-24-33-18-22-13-41-6-9-2-10-34-49-3-21-28-28-3-5-3-2-23-25-22-33-5-2-4-1-16-9-45-36-5-9-6-4-38-39-16-9-41-12-3-2-13-1-29-8-9-2-13 2-48-7-41 8-20 0-43 4-11 3-46 20-33 29-9 2-3 5-39 25-31-1-30 19-10 9-24 32-23 29-5 25-7 27-39 19-1 3-2 13-3 44-3 9-13 26-2 7-1 0-46 53 0 5zM4615 3549l5-12 14-10 16-33 48-18 1-2 3 0 30-9 28-6 33 8 30 4 33 15 10 6 41 24 7 33 10 0-8-40-43-25-6-4-4-1-40-18-20-2-42-10-35 7-21 7-21 2-12 11-28 11-9 19-28 20-10 23zM5909 3549l43-52 10-6 47-29 24-2 36-3 31 6 42 21 3 1 36 20 11 21 18 23 15 0-26-36-8-14-4-4-29-25-18 2-32-16-39-8-44 3-17 2-58 35-51 61zM4655 2594l-14-15-28-18-2-31-11-22-31-45 0-1-2-4-10-22-2-12-9-49-2-20-18 0 3 35 4 18 9 49 7 15 25 31 10 14 3 7 4 56 21 14 29 0zM6206 2594l33-40-2-8 29-39 13-26 8-47 4-31 5-8-1-40-21 0 1 25-13 20-9 77-1 5-1 3-4 5-25 35-20 23-23 23-17 23 18 0zM6144 2355l0 10-19 23-18 30-33 16-54-14-3 0-4-3-25-32-3-30-9 0 4 37 20 26 16 14 14 3 39 10 38-19 14 1 7-9 29-37 2-26zM4796 2355l-39 42-36-42-15 0 46 54 5 7 1 1 1 0 1-1 11-12 45-49zM4170 2355l-4 42-1 3-3 1-2 0-19-29-17-17-30 0 38 37 12 18 17 8 24-14 9-29 2-20zM3998 1639l40-44 31-13 48-19 19-1 21-4 29 9 29-2 35 28 29 22 25 24 14 0-33-32-18-14-49-39-40 2-20-6-15 3-26 1-66 26-16 7-47 52zM5121 1639l38-62 1-1 15-8 58-40 9-6 16-5 42-33 51-7 12-2 10-1 35-10 9 2 61 19 23 0 31 3 30 8 36 23 7 2 33 33 6 7 13 5 35 25 16 48 18 0 55 0 1 0-1-3-41-17-19-50-5-7-9 0-39-17-27-29-7-7-39-15-21-13-49-14-4 0-46 1-33-11-33-15-34 11-12-4-55 10-10 7-22 1-37 14-43 27-9 5-42 32-20 42-10 16-31 36 30 0zM4305 684l13-38 15-33 4-13 13-35 8-35 1-27 1-27 9-31-14 0-15 52 0 7 0 6-6 25-8 32 0 8-10 37-22 48-17 13-19 11 37 0zM6037 445l3 38 34-2 27-36-35 0zM4781 445l-11 11-11-11-22 0 32 34 31-30 3-3 1-1-1 0zM4214 445l1 42-9 17-51 35-25-8-30-27-8-11-1-6-1-42-8 0 1 34 1 15 20 25 21 19 31 11 66-45 3-7-1-52zM2920 445l-1 6-14 41-9 26-45 14-48-37-7-17-12-25-5-8-15 0 16 29 6 12 3 8 60 45 37-11 14-3 7-7 20-58 2-15zM2243 445l-5 6-7-6-26 0 37 27 24-27zM918 445l14 32 29-7 14-25-30 0z" fill="#7c83ff" stroke="#7c83ff"/><path d="M2798 684l-42-18-19-19-14-15-2-9-12-38-1-8 4-44-16-34-12-19-6-35-19 0 8 42 1 8 3 6 23 49-1 20 1 28 9 27 4 24 34 35 1 0zM3026 1180l40-16 15-17 37-48 25-22 15 5 8 26-11 38-19 13 19 3 11 4 33 8 8-3 49 31 9 18 54 65 5 5 7 3 57 27 11 7 50 3 16 1 52 7 3-1 32-7 34-10 46-5 38-20 4-1 6-5 31-22 34-40 2-2 1-3 42-33 13-10 2-2 19-40 25-29 2-2 3-2 6 4 56 27 25 21 23 17 17 11 0-22 0-21-40-34-9-45-2-8 51-76 0-6 0-47 0-6-5 5-15 15 0 34-45 48-29 9-14 18-3 8-37 22-25 27-7 9-6 13-13 43-37 30-8 14-13 15-23 28-26 18-20 11-26 14-24 2-52 16-24 5-15 3-39-5-30-3-37-3-17-9-39-19-19-9-15-13-40-48-17-34-42-27-7-29-8-2 3-11-22-71-24-8-9-5-11-8-32-22-27-5-28 17 12 27 8 49 1 2-49 57 0 10zM1321 1639l17-22 21-32 10-17 51-29 24-14 37-7 49-10 3-2 16-3 30-8 16-4 12 0 50-3 39 6 23 17 15 16 43 32 22 7 20 8 17 11 9 25 21 29 19 0-3-5-23-59-38-26-8-3-48-16-12-9-33-38-5-4-63-9-27 1-32 1-40 11-22 6-43 10-9 0-32 9-16 3-2 2-11 6-63 35-22 25-14 21-12 16-15 11-10 12 21 0zM2724 1639l63-56 11-6 5 2 44-8 34 0 24-2 9 3 11 9 27 9 18 22 19 12 3 15 10 0-6-22-26-18-13-15-18-6-19-15-13-3-37 2-26 1-33 5-14-3-26 14-48 42-12 7-5 11zM2835 2355l12 9 5 11 21-7 16-13-30 0zM2430 2355l-4 53-1 21 0 8-14 33-27 54-5 8-4 7-26 35-23 20 34 0 2-2 2-3 35-52 33-59 2-4 3-6 15-33-2-9-1-55 4-16-19 0zM2304 2355l-14 39-18 11-11 6-9-3-47-17-18-23-5-13-11 0 7 20 28 36 17 6 34 12 39-22 4 0 1-2 18-40 9-10-15 0zM1026 2355l-29 60-3 2-60 32-39-7-29-42-3-6-24-39-9 0-83 0-21 0 6 22 26 28 0 37 2 26 22 21 15 55 4 13 15 15 16 22 24 0-15-20-11-31-20-44-8-29-7-6-3-31 8-29 29-23 12 22 26 23 19 27 53 10 41-22 18-8 7-8 4-8 5-19 21-43zM816 3549l16-36 49-24 5-4 49-8 15-4 8 1 11 4 25 5 25 17 51 24 18 25 10 0-29-39-65-31-8-4-26-9-25-1-46 11-17 3-2 1-55 28-13 28-7 8-3 5 8 0zM2103 3549l2-15 21-10 21-25 29-17 51-8 7-1 2-1 2 1 58 5 2 1 5 4 47 31 26 35 9 0 4 0-1-4-9-8-22-29-19-12-26-25-14-3-41-4-18-2-17 1-46 10-2 0-3 3-29 16-13 16-34 16-2 25zM3026 3844l38-30 14-35 14-15 53-17 8-3 3-1 1-5 9-62 2-18 35-37 6-10 3-9 7-58 49-41 13-17 36-27 15-15 27-21 16-14 18-8 33-9 22-2 46 0 14 0 13 1 52 3 33 2 27 22 9 3 32 19 2 2 34 22 22 38 2 6 16 15 18 30 14 15 19 30 6 6 2 3 37 59 4 11 24 57-1 1 2 3 1 1 5 2 35 29 8 9 5 7 22 31 20 19-5 18 15 10 0-28 0-24-12-12-9-13-19-26-29-37-3-2-10-24-13-29-31-48-10-15-17-26-21-21-18-20-17-28-10-10-28-22-15-27-20-13-21-20-23-15-26-7-14-12-44-3-35-2-26-4-10 2-51 0-33 3-21 6-32 14-30 25-12 10-7 7-42 32-6 4-4 0-5 3-23 24-38 33-1 8-21 58-24 36-11 6 0 11-16 55-8 15-32 11-33 37-7 16-17 13zM4633 3549l0-1 1 0 22-46 44-17 13-4 24-8 21-4 25 6 40 5 19 9 23 14 34 19 5 27 10 0-7-33-41-24-10-6-33-15-30-4-33-8-28 6-30 9-3 0-1 2-48 18-16 33-14 10-5 12zM5919 3549l36-43 18-12 37-23 31-3 27-2 24 5 31 16 20 7 30 17 22 38 3 0 12 0-18-23-11-21-36-20-3-1-42-21-31-6-36 3-24 2-47 29-10 6-43 52zM4690 2594l-6-3-17-19-27-28-5-3 0-5-19-38-20-29-1-17-12-23-2-21-15-26-4-21 0-6-18 0 2 20 9 49 2 12 10 22 2 4 0 1 31 45 11 22 2 31 28 18 14 15 29 0zM6162 2594l17-23 23-23 20-23 25-35 4-5 1-3 1-5 9-77 13-20-1-25-21 0 1 11-18 28-11-4 8 9 0 4-9 76-15 22-29 33-8 6-2 9-9 13-23 32zM6159 2355l-2 26-29 37-7 9-14-1-38 19-39-10-14-3-16-14-20-26-4-37-8 0 4 45 15 19 29 25 24 6 23 6 23-12 44 4 25-31 16-20 2-42zM4816 2355l-45 49-11 12-1 1-1 0-1-1-5-7-46-54-7 0-16 0 12 17 30 42 14 18 22 0 9-5 12-10 40-44 8-18-8 0zM4124 2355l17 17 19 29 2 0 3-1 1-3 4-42-21 0zM4008 1639l33-36 45-19 30-12 13-1 27-6 38 12 18-1 21 17 41 31 15 15 15 0-25-24-29-22-35-28-29 2-29-9-21 4-19 1-48 19-31 13-40 44zM5150 1639l22-35 21-21 51-31 6-11 26-18 28-21 20-3 34-6 28-4 18-5 74 18 3 1 1 0 56 5 12 3 17 11 30 31 16 16 17 10 17 26 23 16 6 18 32 0-16-48-35-25-13-5-6-7-33-33-7-2-36-23-30-8-31-3-23 0-61-19-9-2-35 10-10 1-12 2-51 7-42 33-16 5-9 6-58 40-15 8-1 1-38 62zM4258 684l19-11 17-13 22-48 10-37 0-8 8-32 6-25 0-6 0-7 15-52-14 0-1 0-29 38-9 17 9 29-9 38 0 32-3 11-6 14-45 33-39 22-2 2-4 3 7 0zM4759 445l11 11 11-11-11 0zM4224 445l1 52-3 7-66 45-31-11-21-19-20-25-1-15-1-34-8 0 0 26 2 24 32 40 11 10 38 13 63-43 12-3 10 5-1-15 2-38-1-19-13 0zM2929 445l-2 15-20 58-7 7-14 3-37 11-60-45-3-8-6-12-16-29-15 0 24 45 0 4 4 3 11 5 59 45 16-5 37-6 18-19 17-48 3-24zM2231 445l7 6 5-6-6 0zM3502 3593l-4 3 0 3 1 2 4 2 4-5z" fill="#837cff" stroke="#837cff"/><path d="M2827 684l-38-27-19-8-23-24-5-11-9-34-5-41 2-24-5-10-25-41-4-19-18 0 6 35 12 19 16 34-4 44 1 8 12 38 2 9 14 15 19 19 42 18 1 0zM3026 1077l7 17-7 8 0 45 49-57-1-2-8-49-12-27 28-17 27 5 32 22 11 8 9 5 24 8 22 71-3 11 8 2 7 29 42 27 17 34 40 48 15 13 19 9 39 19 17 9 37 3 30 3 39 5 15-3 24-5 52-16 24-2 26-14 20-11 26-18 23-28 13-15 8-14 37-30 13-43 6-13 7-9 25-27 37-22 3-8 14-18 29-9 45-48 0-34 15-15 5-5 0-48 0-55 0-18-14 14-2 35-6 20-16 27-20 21-13 13-34 15-21 28-3 3-23 68-14 8-18 20-15 25-1 10-9 18-11 39-20 16-15 26-23 28-13 16-15 10-45 25-3 2-3 0-71 21-15 3-27 5-26-4-44-4-25-2-23-13-20-9-31-15-26-22-26-31-25-50-15-9-4-17-17-23-1-15-19-68 1-18-10-21-6-2-16-12-16-34-29 3-10-23-28-57-2-2-36-37-31-5 0 47 0 65 0 49 0 69zM1353 1639l3-4 4-6 31-53 20-11 45-27 26-4 34-7 16-8 59-10 5-1 3 0 24 1 39-2 14 2 28 19 14 8 65 47 2 2 3 2 27 10 4 3 27 39 20 0-21-29-9-25-17-11-20-8-22-7-43-32-15-16-23-17-39-6-50 3-12 0-16 4-30 8-16 3-3 2-49 10-37 7-24 14-51 29-10 17-21 32-17 22zM2734 1639l64-51 2-1 48-7 2 0 42 0 11-1 4 1 5 5 35 11 24 29 10 6 2 8 9 0-3-15-19-12-18-22-27-9-11-9-9-3-24 2-34 0-44 8-5-2-11 6-63 56zM2397 2355l-1 13-3 61 0 26-5 12-12 24-20 15-5 30-15 20-31 27-9 6-10 5 14 0 26 0 23-20 26-35 4-7 5-8 27-54 14-33 0-8 1-21 4-53zM2328 2355l-9 10-18 40-1 2-4 0-39 22-34-12-17-6-28-36-7-20-12 0 10 26 30 39 5 8 12 5 37 13 23-13 35 0 16-16 9-21 35-41zM1035 2355l-21 43-5 19-4 8-7 8-18 8-41 22-53-10-19-27-26-23-12-22-29 23-8 29 3 31 7 6 8 29 20 44 11 31 15 20 12 0 46 0-37-27-12-34-21-45 28-23 1-4 3 3 0 1 67 12 19-10 37-16 16-17 8-16 11-42 10-21zM826 3549l14-31 42-21 8-6 61-10 3 0 39 9 57 39 21 10 7 10 10 0-18-25-51-24-25-17-25-5-11-4-8-1-15 4-49 8-5 4-49 24-16 36zM2114 3549l0-6 8-3 29-35 25-14 53-9 8-2 55 5 5 5 46 30 22 29 11 0-26-35-47-31-5-4-2-1-58-5-2-1-2 1-7 1-51 8-29 17-21 25-21 10-2 15zM3026 3973l28-10 4-36-25-30 24-16 15-35 13-9 8-21 27-31 32-9 24-9 9-46 2-17 4-41 15-16 22-16 0-19 9-21 5-41 28-24 29-35 21-16 23-24 42-31 3-3 4-1 43-13 12-1 24 0 36-1 31 2 36 3 23 1 29 24 9 5 33 15 8 8 26 16 15 26 10 33 1 1 1 2 41 44 19 29-1 7 27 64-3 7-9 28 29 55 45 32 1 0 51 26 4 6 3 2-12 38-13 21 4 12 5 7 44 22 17 5 0-19 0-59-15-10 5-18-20-19-22-31-5-7-8-9-35-29-5-2-1-1-2-3 1-1-24-57-4-11-37-59-2-3-6-6-19-30-14-15-18-30-16-15-2-6-22-38-34-22-2-2-32-19-9-3-27-22-33-2-52-3-13-1-14 0-46 0-22 2-33 9-18 8-16 14-27 21-15 15-36 27-13 17-49 41-7 58-3 9-6 10-35 37-2 18-9 62-1 5-3 1-8 3-53 17-14 15-14 35-38 30 0 17 0 35 0 56zM4643 3549l18-40 38-14 27-8 16-5 14-3 17 4 50 6 6 3 36 21 25 15 5 21 9 0-5-27-34-19-23-14-19-9-40-5-25-6-21 4-24 8-13 4-44 17-22 46-1 0 0 1 1 0zM5928 3549l29-35 27-17 28-17 38-3 17-2 16 4 22 10 35 13 26 14 19 33 10 0-22-38-30-17-20-7-31-16-24-5-27 2-31 3-37 23-18 12-36 43zM4743 2594l-56-29-27-29-17-25-11-22-9-14-2-34-7-13-4-51-12-22-30 0-6 0 0 6 4 21 15 26 2 21 12 23 1 17 20 29 19 38 0 5 5 3 27 28 17 19 6 3zM6138 2594l23-32 9-13 2-9 8-6 29-33 15-22 9-76 0-4-8-9 11 4 18-28-1-11-15 0-60 0-5 0-2 42-16 20-25 31-44-4-23 12-23-6-24-6-29-25-15-19-4-45-9 0 6 52 9 13 41 36 34 9 8 2 7-4 75 7 43-53 3-4 1-13 11 13 0 56 0 6-2 2-2 2-37 28-9 40-25 36-16 11 16 0zM4830 2355l-8 18-40 44-12 10-9 5-22 0-14-18-30-42-12-17-31 0 35 49 6 8 27 35 44 1 17-11 24-19 17-20 19-43zM4018 1639l25-28 61-25 12-6 5 0 35-7 47 14 6 0 7 6 52 40 6 6 15 0-15-15-41-31-21-17-18 1-38-12-27 6-13 1-30 12-45 19-33 36zM5179 1639l6-9 41-41 18-11 17-27 43-31 5-2 8-1 36-7 46-5 2 0 8 2 58 8 12 1 59 9 4 2 46 46 9 12 23 14 27 40 10 0 19 0-6-18-23-16-17-26-17-10-16-16-30-31-17-11-12-3-56-5-1 0-3-1-74-18-18 5-28 4-34 6-20 3-28 21-26 18-6 11-51 31-21 21-22 35zM3981 1085l-8-35 8-11 0-61-51 76 2 8 9 45 40 34 0-46zM4203 684l4-3 2-2 39-22 45-33 6-14 3-11 0-32 9-38-9-29 9-17 29-38-58 0-4 6-10 18-1-24-25 0 1 19-2 38 1 15-10-5-12 3-63 43-38-13-11-10-32-40-2-24 0-26-9 0 1 18 2 33 43 54 2 2 46 15 17-12 56-15 43 25 0-8 2 9 0 1 0 2-7 25-22 27-28 21-14 7-13 13-30 22zM2938 445l-3 24-17 48-18 19-37 6-16 5-59-45-11-5-4-3 0-4-24-45-14 0 12 24 3 34 29 24 58 29 9 3 3-1 5-4 46-8 30-31 13-37 4-33zM3507 3598l-4 5-4-2-1-2 0-3 4-3zM3501 3581l-13 10-2 9 5 9 16 6 14-17zM3502 1096l9 10 8-10-6-7-8 2z" fill="#8b74ff" stroke="#8b74ff"/><path d="M2893 684l-49-15-56-35-6-10-16-31-4-15-5-41 25 19 24 12 45 19 15-5 23-24 12-2 41-43 9-26 5-42-9 0-4 33-13 37-30 31-46 8-5 4-3 1-9-3-58-29-29-24-3-34-12-24-15 0 1 3 1 10-7-11 0-2-19 0 4 19 25 41 5 10-2 24 5 41 9 34 5 11 23 24 19 8 38 27 10 0zM3026 824l31 5 36 37 2 2 28 57 10 23 29-3 16 34 16 12 6 2 10 21-1 18 19 68 1 15 17 23 4 17 15 9 25 50 26 31 26 22 31 15 20 9 23 13 25 2 44 4 26 4 27-5 15-3 71-21 3 0 3-2 45-25 15-10 13-16 23-28 15-26 20-16 11-39 9-18 1-10 15-25 18-20 14-8 23-68 3-3 21-28 34-15 13-13 20-21 16-27 6-20 2-35 14-14 0-43 0-31-20 25-32 31-34-10-26 33-1 6-6 7-10 31-2 16-18 36-23 6-15 5 3 14-6 43 1 6 0 8 1 54-26 44-3 27-25 47 0 2-1 0-22 39-34 40-3 4-3 2-13 7-38 23-7 2-30 12-35 10-6 1-39 7-13-2-57-6-13-1-29-17-1 0-44-21-36-30-12-15-20-38-7-16-3-7-3-3-25-32-3-35-12-42 4-47-7-13-8-33-2-20-1-22-22-8-45-33-3-5-19-42-4-5-53-74-10 0-34-16 0 39 0 56zM3026 1102l7-8-7-17 0 18zM1378 1639l26-44 5-10 13-6 47-27 14-3 19-4 30-13 46-8 19-4 11 1 55 2 8 4 42 22 45 33 15 11 15 18 15 5 19 15 5 8 19 0-27-39-4-3-27-10-3-2-2-2-65-47-14-8-28-19-14-2-39 2-24-1-3 0-5 1-59 10-16 8-34 7-26 4-45 27-20 11-31 53-4 6-3 4 8 0zM2745 1639l53-42 7-5 45-6 50 2 1 1 41 13 30 36 1 0 0 1 10 0-2-8-10-6-24-29-35-11-5-5-4-1-11 1-42 0-2 0-48 7-2 1-64 51zM2371 2355l-35 41-9 21-16 16-35 0-23 13-37-13-12-5-5-8-30-39-10-26-11 0 12 33 23 30 16 25 38 16 13 4 7-4 65 1 31-31 1-3 7-8 0 12 0 9-16 27-13 10-7 39-6 25-39 27-19 8-10 4-52 15 66 0 21 0 10-5 9-6 31-27 15-20 5-30 20-15 12-24 5-12 0-26 3-61 1-13-11 0zM1044 2355l-10 21-11 42-8 16-16 17-37 16-19 10-67-12 0-1-3-3-1 4-28 23 21 45 12 34 37 27 26 0 58 0 16 0-16-8-38-11-20 2-42-50 48-33 8 2 2-8 44-19 24-26 12-25 17-62 0-1-1 0zM836 3549l11-26 36-18 11-8 55-8 8 0 35 7 77 53 3 0 6 0-7-10-21-10-57-39-39-9-3 0-61 10-8 6-42 21-14 31zM2124 3549l31-38 22-12 45-7 16-5 50 5 11 9 37 24 18 24 11 0-22-29-46-30-5-5-55-5-8 2-53 9-25 14-29 35-8 3 0 6 6 0zM3026 4009l63-24 8-1 2-2 0-3 2-56 7-20 33-35 6-14 9-10 26-47 14-6 5-24 31-8-20-39 6-18 3-32 22-17 0-41 22-47 1-10 6-5 45-54 6-4 31-33 36-27 50-16 5-1 1 0 2 0 57-3 50 4 20 1 14 1 16 14 30 17 26 12 18 17 14 9 8 14 6 20 8 16 3 9 10 16 30 32 13 20 0 15 18 44-11 23-3 26-1 25 15 55 0 2 10 13 23 30 3 0 42 14 17 54 30 43-4 12 15 3 43 12 13 8 0-17 0-34-17-5-44-22-5-7-4-12 13-21 12-38-3-2-4-6-51-26-1 0-45-32-29-55 9-28 3-7-27-64 1-7-19-29-41-44-1-2-1-1-10-33-15-26-26-16-8-8-33-15-9-5-29-24-23-1-36-3-31-2-36 1-24 0-12 1-43 13-4 1-3 3-42 31-23 24-21 16-29 35-28 24-5 41-9 21 0 19-22 16-15 16-4 41-2 17-9 46-24 9-32 9-27 31-8 21-13 9-15 35-24 16 25 30-4 36-28 10zM4652 3549l15-32 31-12 41-12 8-2 8-2 8 2 37 5 20 1 2 1 8 6 34 20 18 10 3 15 10 0-5-21-25-15-36-21-6-3-50-6-17-4-14 3-16 5-27 8-38 14-18 40zM5938 3549l21-26 37-23 17-11 45-4 9 0 8 1 11 5 51 19 22 12 15 27 11 0-19-33-26-14-35-13-22-10-16-4-17 2-38 3-28 17-27 17-29 35zM4793 2594l-35-23-53-24-15-8-6-6-27-41 2-15-10-9-3-38-1-2-2-32 17 28 34 29 7 9 65 1 26-16 31-24 2-1 1-4 2-7 24-56-11 0-19 43-17 20-24 19-17 11-44-1-27-35-6-8-35-49-21 0-33 0 12 22 4 51 7 13 2 34 9 14 11 22 17 25 27 29 56 29 7 0zM6106 2594l16-11 25-36 9-40 37-28 2-2 2-2 0-6 0-56-11-13-1 13-3 4-43 53-75-7-7 4-8-2-34-9-41-36-9-13-6-52-8 0 6 60 4 6 54 47 15 4 13 21 22 20 48-3 14 20-3 14-2 3-6 4-38 12-42 10-25 13-9-2-20 10 28 0 74 0zM4028 1639l18-20 64-27 6-3 5-1 34-7 41 12 9 2 2 1 54 43 3 0 10 0-6-6-52-40-7-6-6 0-47-14-35 7-5 0-12 6-61 25-25 28zM5202 1639l36-32 11-11 4-5 18-29 28-20 22-10 27-4 2-1 51-8 52 7 24 2 48 8 14 8 33 33 26 35 12 7 13 20 24 0-27-40-23-14-9-12-46-46-4-2-59-9-12-1-58-8-8-2-2 0-46 5-36 7-8 1-5 2-43 31-17 27-18 11-41 41-6 9 10 0zM3981 1039l-8 11 8 35 0-36zM4163 684l30-22 13-13 14-7 28-21 22-27 7-25 0-2 0-1-2-9 0 8-43-25-56 15-17 12-46-15-2-2-43-54-2-33-1-18-8 0 0 10 3 42 19 24 19 36 0 10 11 13 35 8 18 7 29 36-13 12-22 16-21 13-9 12 22 0zM4267 445l1 24 10-18 4-6-11 0zM3521 3598l-14 17-16-6-5-9 2-9 13-10zM3505 1091l8-2 6 7-8 10-9-10zM4230 568l1 0 1 0-1 0-1 2zM3501 3568l-24 18-2 15 9 15 26 11 25-29zM3489 1095l21 23 21-23-17-18-18 5z" fill="#936cff" stroke="#936cff"/><path d="M3026 719l34 16 10 0 53 74 4 5 19 42 3 5 45 33 22 8 1 22 2 20 8 33 7 13-4 47 12 42 3 35 25 32 3 3 3 7 7 16 20 38 12 15 36 30 44 21 1 0 29 17 13 1 57 6 13 2 39-7 6-1 35-10 30-12 7-2 38-23 13-7 3-2 3-4 34-40 22-39 1 0 0-2 25-47 3-27 26-44-1-54 0-8-1-6 6-43-3-14 15-5 23-6 18-36 2-16 10-31 6-7 1-6 26-33 34 10 32-31 20-25 0-40 60 0 68 0 17 0 9-12 21-13 22-16 13-12-29-36-18-7-35-8-11-13 0-10-19-36-19-24-3-42 0-10-9 0 0 2 2 20-1 30 4 10 27 54 0 22 24 30 16 3 35 13-39 24-10 13-41 0-23 4-50 1-15-4-18-8-47 4-20 7-12 23-19 23-32 40-6 15-14 6-20 4 3 13-40 76 9 46-3 21 7 35-1 43 0 27-12 22-5 44-10 18-16 31-15 27-28 33-9 9-3 4-44 26-14 4-54 21-3 1-46 7-16-1-55-6-1 0-1-1-23-19-19-4-31-15-42-35-3-5-19-43-12-20-9-11-13-17-5-53-5-17 5-52 0-18 3-13-4-32-1-56-58-19-3-2-1-4 7-13 17-18 0-10-6-5-10-6-28-26-9-24-4-8-11-57-5-9-8-7-21-3-7 30 17 28-32-18-7-7-33-44-27 9-28 1-23 5-55-3-21-13-20 4-24-7-21-13-26-38 49 20 27-9 14-15 17-18 3-10 6-19 31-32 5-15 4-29 9-22-13 0-3 0-5 42-9 26-41 43-12 2-23 24-15 5-45-19-24-12-25-19 5 41 4 15 16 31 6 10 56 35 49 15 11 0 79 0 43 0zM1400 1639l3-6 19-38 50-24 9-6 3 0 4-1 44-20 33-5 33-6 19 2 43 1 26 15 23 12 24 17 28 21 27 33 2 1 5 4 27 0 5 0-5-8-19-15-15-5-15-18-15-11-45-33-42-22-8-4-55-2-11-1-19 4-46 8-30 13-19 4-14 3-47 27-13 6-5 10-26 44zM2755 1639l43-34 13-7 39-6 45 2 8 3 35 11 25 31 9 0 1 0 0-1-1 0-30-36-41-13-1-1-50-2-45 6-7 5-53 42zM2135 2355l3 4 13 36 16 21 27 42 39 16 3 15 13 6 39 3-8 35-17 11-7 4-25 8-40 12-24 2-30 11-25-2-57 5-16-19-33 16-9 10-17 3 20 0 55 0 80 0 46 0 18 0 52-15 10-4 19-8 39-27 6-25 7-39 13-10 16-27 0-9 0-12-7 8-1 3-31 31-65-1-7 4-13-4-38-16-16-25-23-30-12-33-10 0zM1053 2355l0 1-17 62-12 25-24 26-44 19-2 8-8-2-48 33 42 50 20-2 38 11 16 8 48 0 41 0 60 0 62 0-47-16-9-1-23-7-42 16-30-10-16 6-31-15-32-15-8-3-46 5-17-20 19-13 43 11 9-42 7-3 31-34 16-35 7-25 12-38zM846 3549l9-21 28-14 15-10 48-8 14 0 31 7 67 46 11 0-77-53-35-7-8 0-55 8-11 8-36 18-11 26zM2134 3549l25-31 18-10 38-6 25-8 44 5 18 14 27 18 14 18 11 0-18-24-37-24-11-9-50-5-16 5-45 7-22 12-31 38zM3026 4042l7 4 61-4 7-1 21-24 6-36 0-10 25-68 3-3 7 4 37 17 21-12 14-27 27-13 14-8-6-14-1-5-2-57-12-24-17-31 18-48 0-4 3-2-1-65 13-28 10-19 2-8 42-48 15-15 25-26 24-17 37-13 18-6 20-6 40-2 68 6 5 0 3 0 4 3 52 30 18 8 28 27 3 1 1 3 1 3 17 34 5 18 21 34 17 17 6 11 0 23 9 23-5 13-8 52 0 52 2 10-5 64 1 1 4 7 13 37 27 12 57 13-9 42 6 29 25 7 22 1 24 5 13 4 36 21 6 11 10-3 0-5 0-44-13-8-43-12-15-3 4-12-30-43-17-54-42-14-3 0-23-30-10-13 0-2-15-55 1-25 3-26 11-23-18-44 0-15-13-20-30-32-10-16-3-9-8-16-6-20-8-14-14-9-18-17-26-12-30-17-16-14-14-1-20-1-50-4-57 3-2 0-1 0-5 1-50 16-36 27-31 33-6 4-45 54-6 5-1 10-22 47 0 41-22 17-3 32-6 18 20 39-31 8-5 24-14 6-26 47-9 10-6 14-33 35-7 20-2 56 0 3-2 2-8 1-63 24 0 28zM4662 3549l11-24 23-9 56-17 1 0 1 0 2 1 58 3 7 2 23 19 19 11 10 6 2 8 10 0-3-15-18-10-34-20-8-6-2-1-20-1-37-5-8-2-8 2-8 2-41 12-31 12-15 32zM5948 3549l14-17 45-29 7-4 52-5 1 0 68 24 17 10 12 21 10 0-15-27-22-12-51-19-11-5-8-1-9 0-45 4-17 11-37 23-21 26zM5075 2594l-2-14-12 0-61 11-2-4-5 3-57-25-30 1-19-2-38 16-20 3-16-9-45-30-27-12-3-26 3-27 28 0 34-22 19-15 15-6 8-21 13-46 6-14-12 0-24 56-2 7-1 4-2 1-31 24-26 16-65-1-7-9-34-29-17-28 2 32 1 2 3 38 10 9-2 15 27 41 6 6 15 8 53 24 35 23 39 0 50 0 49 0 65 0 69 0zM5982 2594l20-10 9 2 25-13 42-10 38-12 6-4 2-3 3-14-14-20-48 3-22-20-13-21-15-4-54-47-4-6-6-60-9 0 5 43 1 22 2 7 38 42-3 35 30 17 8 12 13 12-22 11-39-7-24 11-17 2-31 14-30-3-55 7-9 6-29 5-5 3 5 0 36 0 90 0 35 0zM4039 1639l10-12 37-16 27-14 27-6 15-3 17 6 29 7 6 3 44 35 10 0-54-43-2-1-9-2-41-12-34 7-5 1-6 3-64 27-18 20zM5222 1639l1-1 35-35 15-17 8-13 13-9 39-18 17-2 14-5 37-6 38 5 37 3 37 6 23 14 19 20 44 57 1 1 23 0-13-20-12-7-26-35-33-33-14-8-48-8-24-2-52-7-51 8-2 1-27 4-22 10-28 20-18 29-4 5-11 11-36 32zM2715 445l0 2 7 11-1-10-1-3-3 0zM4230 570l1-2 1 0-1 0-1 0zM3535 3598l-25 29-26-11-9-15 2-15 24-18zM3496 1082l18-5 17 18-21 23-21-23zM3501 3555l-34 26-3 22 12 21 38 16 34-42zM3475 1093l34 37 33-36-27-29-29 8z" fill="#9b64ff" stroke="#9b64ff"/><path d="M1418 1639l17-34 48-23 17-11 32-14 20-3 46-9 28 3 30 1 45 25 3 2 5 3 40 31 24 29 15 0 7 0-5-4-2-1-27-33-28-21-24-17-23-12-26-15-43-1-19-2-33 6-33 5-44 20-4 1-3 0-9 6-50 24-19 38-3 6 3 0zM2766 1639l32-26 18-10 35-5 39 1 15 6 28 9 20 25 10 0-25-31-35-11-8-3-45-2-39 6-13 7-43 34zM2116 2355l19 27 8 20 8 11 38 60 13 6 9 43 15 7-16 5-7 3-53 3-9 4-59-6-25-2-12-6-29-21-47 21-15-1-20 19-38 30-12 16 20 0 45 0 31 0 17-3 9-10 33-16 16 19 57-5 25 2 30-11 24-2 40-12 25-8 7-4 17-11 8-35-39-3-13-6-3-15-39-16-27-42-16-21-13-36-3-4zM1068 2355l-12 38-7 25-16 35-31 34-7 3-9 42-43-11-19 13 17 20 46-5 8 3 32 15 31 15 16-6 30 10 42-16 23 7 9 1 47 16 26 0 31 0 9-41 2-6-2-2-1-4-32-40 23 42-42 11-31-11-28-1-66-22-2-1-3 1-62 24-25-12 4-21 15-35 13-12-1-8 20-35-5-17 16-49zM856 3549l7-16 21-11 19-12 41-7 19 1 27 5 57 40 11 0-67-46-31-7-14 0-48 8-15 10-28 14-9 21zM2143 3549l21-25 14-8 30-5 33-10 39 4 24 20 18 12 9 12 12 0-14-18-27-18-18-14-44-5-25 8-38 6-18 10-25 31zM3026 4063l41 24 13-1 72-10 1-3 15-36 8-21 24-58 0-1 1 1 2-2 5 3 44 18 8-2 1-4 9-3 23-37 25-24 2-15-3-3-2-4-19-41-4-20-1-33-24-47-4-7 8-51 0-9 1-63 3-5 19-34 5-19 27-33 38-36 12-12 11-8 17-6 37-14 43-12 18 0 40 3 30 8 23 5 41 24 12 5 20 19 13 17 11 23 8 27 33 52 2 2 1 1-1 32 1 3-1 1-2 15-2 57-2 5-2 10 2 45-2 46-30 16 17 35 3 18 26 68 0 3 1 3 3 0 10 11 38 18 5 23 8 2 6 15 26 34 13 11 43 8 19-4 27-8 39-10 0-36-10 3-6-11-36-21-13-4-24-5-22-1-25-7-6-29 9-42-57-13-27-12-13-37-4-7-1-1 5-64-2-10 0-52 8-52 5-13-9-23 0-23-6-11-17-17-21-34-5-18-17-34-1-3-1-3-3-1-28-27-18-8-52-30-4-3-3 0-5 0-68-6-40 2-20 6-18 6-37 13-24 17-25 26-15 15-42 48-2 8-10 19-13 28 1 65-3 2 0 4-18 48 17 31 12 24 2 57 1 5 6 14-14 8-27 13-14 27-21 12-37-17-7-4-3 3-25 68 0 10-6 36-21 24-7 1-61 4-7-4zM4671 3549l8-17 16-6 40-11 20-9 53 3 12 3 39 32 4 2 2 1 0 2 10 0-2-8-10-6-19-11-23-19-7-2-58-3-2-1-1 0-1 0-56 17-23 9-11 24zM5957 3549l7-8 38-24 13-10 43-5 11 0 12 6 51 18 13 7 8 16 11 0-12-21-17-10-68-24-1 0-52 5-7 4-45 29-14 17zM5105 2594l-7-53-37 1-9-13-14-33-34 10-60 18-2 1-1-1-2 1-56 1-42 5-24 5-18-11-2-17-6-26 23-14 8-7 26-11 16-38 10-38 8-19-15 0-3 0-6 14-13 46-8 21-15 6-19 15-34 22-28 0-3 27 3 26 27 12 45 30 16 9 20-3 38-16 19 2 30-1 57 25 5-3 2 4 61-11 12 0 2 14zM5775 2594l5-3 29-5 9-6 55-7 30 3 31-14 17-2 24-11 39 7 22-11-13-12-8-12-30-17 3-35-38-42-2-7-1-22-5-43-3 0-13 0 4 13 2 45 15 49 1 2 0 4-14 59-37 17-63-6-3-7-7 0-13-7 0 19-23 18-9 2-54 31zM4049 1639l3-4 11-4 47-27 41-8 4 0 41 11 11 6 34 26 10 0-44-35-6-3-29-7-17-6-15 3-27 6-27 14-37 16-10 12zM5238 1639l29-30 23-25 13-5 41-19 7-1 28-9 23-4 23 3 49 5 26 4 33 20 6 7 14 18 30 36 17 0-1-1-44-57-19-20-23-14-37-6-37-3-38-5-37 6-14 5-17 2-39 18-13 9-8 13-15 17-35 35-1 1 1 0zM4032 445l3 11-2 41 13 36 17 32-1 35 29 35-49 10-25 0-48-14-43-19-7-5-49-24-12 5 3 42-52 36-19 16-18 28-17 7-20 24-36 17 38 37 0 1-23 31-5 46 14 33 3 4 2 10 9 51-1 68 1 9 0 1-6 58-8 15-19 37-8 15-15 17-23 21-7 11-32 19-21 6-41 16-17 4-34 6-18-7-49-5-17-13-38-10-16-7-22-19-30-43-3-6-19-34-16-18 0-1-2-10-2-39-5-17 1-4-1-69 12-39 3-4 14-36-1-41 1-35 7-26 11-33-44-11-9-7-6-4-48-29-5-11-3-15-23-36-31-29-2 0-67-7-11 2-21 7-23 8-6 0-54 11-27-1-27-18 24-26 7-25 16-48 9-9 2-5 1-9 21-51-17 0-9 22-4 29-5 15-31 32-6 19-3 10-17 18-14 15-27 9-49-20 26 38 21 13 24 7 20-4 21 13 55 3 23-5 28-1 27-9 33 44 7 7 32 18-17-28 7-30 21 3 8 7 5 9 11 57 4 8 9 24 28 26 10 6 6 5 0 10-17 18-7 13 1 4 3 2 58 19 1 56 4 32-3 13 0 18-5 52 5 17 5 53 13 17 9 11 12 20 19 43 3 5 42 35 31 15 19 4 23 19 1 1 1 0 55 6 16 1 46-7 3-1 54-21 14-4 44-26 3-4 9-9 28-33 15-27 16-31 10-18 5-44 12-22 0-27 1-43-7-35 3-21-9-46 40-76-3-13 20-4 14-6 6-15 32-40 19-23 12-23 20-7 47-4 18 8 15 4 50-1 23-4 41 0 10-13 39-24-35-13-16-3-24-30 0-22-27-54-4-10 1-30-2-20 0-2-2 0zM3548 3598l-34 42-38-16-12-21 3-22 34-26zM3486 1073l29-8 27 29-33 36-34-37zM3552 1092l-2-2-34-37-40 11-15 27 47 51 43-47 1-1 1-2zM3527 3557l-8-25-15 3-19 5-3 17-26 19-4 28 17 27 49 21 28-34 13-17 3-1 0-2 0-2-2-3z" fill="#a35cff" stroke="#a35cff"/><path d="M1436 1639l12-24 33-16 40-25 11-5 6-1 61-11 36 4 17 0 31 18 15 8 6 6 32 25 18 21 19 0-24-29-40-31-5-3-3-2-45-25-30-1-28-3-46 9-20 3-32 14-17 11-48 23-17 34zM2776 1639l22-17 23-14 30-4 33 1 22 8 22 6 16 20 9 0-20-25-28-9-15-6-39-1-35 5-18 10-32 26zM2097 2355l35 50 2 4 1 2 14 22 7 38-25 23-10 13-53-3-47-27-14-8-17-11-35-3-30-7-31 0-6 24-8 8-5 58-9 3-16 29-18 24 52 0 12-16 38-30 20-19 15 1 47-21 29 21 12 6 25 2 59 6 9-4 53-3 7-3 16-5-15-7-9-43-13-6-38-60-8-11-8-20-19-27zM1084 2355l-16 49 5 17-20 35 1 8-13 12-15 35-4 21 25 12 62-24 3-1 2 1 66 22 28 1 31 11 42-11-23-42 32 40 1 4 2 2-2 6-9 41 24 0 30 0-13-15 8-30-22-23-7-38-15-18-17-34-9-13-1-20-17-1-11 15-39 32-17 16-4 14-34-6-20-28-2-14 1-1-19-72 1-3zM866 3549l4-11 15-7 22-15 35-6 25 1 21 5 49 33 10 0-57-40-27-5-19-1-41 7-19 12-21 11-7 16zM2153 3549l15-18 10-6 22-4 43-13 32 4 31 24 10 7 4 6 11 0-9-12-18-12-24-20-39-4-33 10-30 5-14 8-21 25zM3026 4087l32 28 35 22 19 12 6 36 7 32-8 29 19-9 23-17 14-33 2-35 20-13 8-2 35-44-3-15 28-6 19-25 7-10 5-39 33-11 38 1 10-2 6-4-2-15-11-33 3-31-30-27-18-35-8-34 0-9-7-13-31-54 6-38 0-18 1-49 12-22 10-18 8-31 14-16 51-49 7-5 3-2 50-19 56-16 7-1 7 3 55 15 56 13 16 10 5 2 8 8 30 38 2 4 11 36 25 41-1 24 7 19-2 60-6 14-6 34 1 22-1 23-27 15-12 15-10 9-20 26 19 26-3 33-6 33 17 7 28 52 11 8 43 13 7 16 8 11 29 32 2 48 9 10-5 26 6 22 23 27 27 21 21-49 10-28-17-42 57-13 29-8 26-18 0-13 0-14-39 10-27 8-19 4-43-8-13-11-26-34-6-15-8-2-5-23-38-18-10-11-3 0-1-3 0-3-26-68-3-18-17-35 30-16 2-46-2-45 2-10 2-5 2-57 2-15 1-1-1-3 1-32-1-1-2-2-33-52-8-27-11-23-13-17-20-19-12-5-41-24-23-5-30-8-40-3-18 0-43 12-37 14-17 6-11 8-12 12-38 36-27 33-5 19-19 34-3 5-1 63 0 9-8 51 4 7 24 47 1 33 4 20 19 41 2 4 3 3-2 15-25 24-23 37-9 3-1 4-8 2-44-18-5-3-2 2-1-1 0 1-24 58-8 21-15 36-1 3-72 10-13 1-41-24 0 19zM4681 3549l4-9 9-3 21-7 42-18 45 3 17 4 36 30 7 0 3 0 0-2-2-1-4-2-39-32-12-3-53-3-20 9-40 11-16 6-8 17zM5967 3549l48-34 35-4 22-1 25 13 32 11 8 5 6 10 10 0-8-16-13-7-51-18-12-6-11 0-43 5-13 10-38 24-7 8 9 0zM5192 2594l-13-24-25-11-2-27-31-20-9-36-11-15-35-52-28 35-39 8-13 2-41 20 0 1-58 10-17 0-24 3-7-15 21-9 22-55 2-6 20-48-22 0-8 19-10 38-16 38-26 11-8 7-23 14 6 26 2 17 18 11 24-5 42-5 56-1 2-1 1 1 2-1 60-18 34-10 14 33 9 13 37-1 7 53 20 0 61 0zM5725 2594l54-31 9-2 23-18 0-19 13 7 7 0 3 7 63 6 37-17 14-59 0-4-1-2-15-49-2-45-4-13-19 0 9 31 1 19 6 23-38 30-20 7-24 0-49-46-11-26-10 24-9 19-17 38-40 34-6 9-2 4-42 54-12 7-22 12 40 0 46 0zM4059 1639l48-27 32-6 19-3 34 9 16 9 23 18 10 0-34-26-11-6-41-11-4 0-41 8-47 27-11 4-3 4 4 0zM5254 1639l22-23 18-20 55-20 3-2 16-4 25-9 9-1 9 1 61 5 15 3 27 17 13 5 5 7 35 41 16 0-30-36-14-18-6-7-33-20-26-4-49-5-23-3-23 4-28 9-7 1-41 19-13 5-23 25-29 30zM4012 445l7 26-1 26 22 61 5 11-1 47 1 3-2 0-2 0-10-3-34-24-28 3-41-32-6-4-41-20-25-39-3-16-8 14-46 40-5 10-2 3 3 67 0 1-46 46-46 28-9 11-14 7-40 29 2 46 6 7 18 36-2 41 9 8 4 9 26 33 6 32 11 24 3 60 1 10-1 13-4 46-30 52-2 5-1 1-2 3-36 32-12 18-19 12-30 8-28 11-30 8-23 4-36-15-25-2-9-7-57-14-2-1-2-2-5-6-37-49-5-8-17-24-6-10-4-5-1-12-18-62 2-14-1-55 10-31 10-12 25-66 12-11 59-49 6-4 10-13-17-3-37-28 3-17-50-25-15-6-8-14-17-13-14-20-27-12-17-27 6-14-20-16-19-33-31-44-40 54-5 8-16-1-47 5-21 8-23 6-47 14 11-37 10-33 12-26 0-19 20-49-17 0-21 51-1 9-2 5-9 9-16 48-7 25-24 26 27 18 27 1 54-11 6 0 23-8 21-7 11-2 67 7 2 0 31 29 23 36 3 15 5 11 48 29 6 4 9 7 44 11-11 33-7 26-1 35 1 41-14 36-3 4-12 39 1 69-1 4 5 17 2 39 2 10 0 1 16 18 19 34 3 6 30 43 22 19 16 7 38 10 17 13 49 5 18 7 34-6 17-4 41-16 21-6 32-19 7-11 23-21 15-17 8-15 19-37 8-15 6-58 0-1-1-9 1-68-9-51-2-10-3-4-14-33 5-46 23-31 0-1-38-37 36-17 20-24 17-7 18-28 19-16 52-36-3-42 12-5 49 24 7 5 43 19 48 14 25 0 49-10-29-35 1-35-17-32-13-36 2-41-3-11zM3553 1092l-1 2-1 1-43 47-47-51 15-27 40-11 34 37 2 2zM3560 3593l2 3 0 2 0 2-3 1-13 17-28 34-49-21-17-27 4-28 26-19 3-17 19-5 15-3 8 25zM3558 1082l-30-29-10-12-51 14-17 29-2 4-2 3 0 4 2 4 8 1 51 54 27-30 25-11 4-21zM3553 3560l-16-51-30 6-39 11-6 33-16 12-5 35 20 33 45 19 13 4 4-2 35-44 15-8 0-9 2-12-9-13zM3171 472l-2 19 29 30 3-32 0-6-1-4z" fill="#ab54ff" stroke="#ab54ff"/><path d="M1454 1639l6-13 19-10 38-23 16-12 21-3 46-8 44 4 5 0 8 5 34 19 14 14 19 14 10 13 20 0-18-21-32-25-6-6-15-8-31-18-17 0-36-4-61 11-6 1-11 5-40 25-33 16-12 24zM2787 1639l11-9 29-17 24-3 28 1 29 10 15 4 11 14 10 0-16-20-22-6-22-8-33-1-30 4-23 14-22 17zM1908 2355l-19 29 2 16-16 59-26 27-2 26-24 8-5 13-9 8-32 46-7 7 9 0 47 0 6 0 18-24 16-29 9-3 5-58 8-8 6-24 31 0 30 7 35 3 17 11 14 8 47 27 53 3 10-13 25-23-7-38-14-22-1-2-2-4-35-50-18 0-72 0-60 0zM1099 2355l-1 3 19 72-1 1 2 14 20 28 34 6 4-14 17-16 39-32 11-15 17 1 1 20 9 13 17 34 15 18 7 38 22 23-8 30 13 15 30 0 33 0-24-16-11-30-6-8-32-32-7-43-8-27-7-8-2-31-7-40-2-4-3 0-61 0-65 0-64 0zM875 3549l3-6 8-4 25-17 28-4 31 0 17 4 39 27 11 0-49-33-21-5-25-1-35 6-22 15-15 7-4 11zM2162 3549l10-12 7-4 14-2 51-16 27 3 37 30 1 0 0 1 11 0-4-6-10-7-31-24-32-4-43 13-22 4-10 6-15 18zM3026 4131l9 7 17 11 29 45 2 12-2 10 6 49 14 0 32 0 51 0 32-27 2-14 1-8 3-48 9-16 25-33 4-13 10-8 28-37 25-35 1-3 43-9 19-5 44-28-3-25 4-53-24-4-15-12-27-25-7-13-24-19-2-30-10-22-31-54 4-23 0-28 1-35 21-40 1-1 11-42 0-1 2-1 55-43 25-20 26-10 28-7 43-10 46 21 2 1 9 2-8 6-2-7-45 9-59 16-9 50-6 5-6 41 24 40 25 11 40 11 13-5 26-34 27-13-1-18 4-20-11-16 56-56 25 40 18 15 7 25 15 23-1 15 15 41-2 44-10 25-9 56 0 1-32 41-27 26-16 21-11 12-16 9 0 39-36 10-48-21-11 0-38 49 37 7 50-1 29 18 12 1 41-12 28 12 16 31 24 16 41 29 9 55 4 4 0 4 37 41-3 15 13 47 3 20 15 0 43 0 65 0 3 0 4-49 1-1 2-6 13-56 38-28 0-20-26 18-29 8-57 13 17 42-10 28-21 49-27-21-23-27-6-22 5-26-9-10-2-48-29-32-8-11-7-16-43-13-11-8-28-52-17-7 6-33 3-33-19-26 20-26 10-9 12-15 27-15 1-23-1-22 6-34 6-14 2-60-7-19 1-24-25-41-11-36-2-4-30-38-8-8-5-2-16-10-56-13-55-15-7-3-7 1-56 16-50 19-3 2-7 5-51 49-14 16-8 31-10 18-12 22-1 49 0 18-6 38 31 54 7 13 0 9 8 34 18 35 30 27-3 31 11 33 2 15-6 4-10 2-38-1-33 11-5 39-7 10-19 25-28 6 3 15-35 44-8 2-20 13-2 35-14 33-23 17-19 9 8-29-7-32-6-36-19-12-35-22-32-28zM4690 3549l1-2 1 0 3-1 64-27 38 2 20 6 28 22 10 0-36-30-17-4-45-3-42 18-21 7-9 3-4 9zM5978 3549l37-26 27-3 32-2 39 20 14 5 3 1 3 5 10 0-6-10-8-5-32-11-25-13-22 1-35 4-48 34zM5230 2594l-2-1-41-57-7-7-7-12-30-21-9-33-3-33-4-8 2-65 0-2-2 0-65 0-57 0 11 35-3 13-6 7-7 2-46 7-14 7-23-23 2-30 7-18-22 0-20 48-2 6-22 55-21 9 7 15 24-3 17 0 58-10 0-1 41-20 13-2 39-8 28-35 35 52 11 15 9 36 31 20 2 27 25 11 13 24 35 0zM5621 2594l22-12 12-7 42-54 2-4 6-9 40-34 17-38 9-19 10-24 11 26 49 46 24 0 20-7 38-30-6-23-1-19-9-31-15 0-20 0-35 46-22-46-34 0-42 0-9 33-6 15-12 24-10 42-5 10-19 25-12 20-18 24-29 18-31 16-6 7-12 5 17 0zM4070 1639l34-19 23-5 34-4 27 7 20 11 13 10 10 0-23-18-16-9-34-9-19 3-32 6-48 27zM5270 1639l16-16 12-14 38-14 15-8 47-13 5-1 32 3 35 3 5 1 7 4 37 17 15 18 17 20 16 0-35-41-5-7-13-5-27-17-15-3-61-5-9-1-9 1-25 9-16 4-3 2-55 20-18 20-22 23zM3992 445l11 41-1 11 16 43-31 18-7 1-2-2-32-25-32-27-3-3 29-57-20 0-59 0-71 0-11 0 20 37 4 12-24 42-12 25 1 36-13 16-17 17-28 17-28 28-19 11-34 23-14 10-48 21-9 2-25-3-13 59-2 6 50 17 53 34 7 2 32 29 20 43 1 1 1 2 26 52 2 39 2 21-3 26-3 32-24 44-27 24-17 15-16 24-8 4-37 11-16 6-43 12-11 2-54-22-3 0-1-1-8-2-38-19-19 0-30-39-12-18-19-27-10-13-18-64 2-24 0-41 7-23 17-20 13-33 41-38 15-13 46-35 19-23 55 11-27-62-23 3-61-20-12-23-5-3-62-7-6-14-23-18-33-46 10-21-9-11-4-11-41-24 6-50-1-24-4-15-40-9-41 0-17 0-9 28-3 22-16 22-45 20-25-6-8-3 4-8-2-52 10-23-17 0-20 49 0 19-12 26-10 33-11 37 47-14 23-6 21-8 47-5 16 1 5-8 40-54 31 44 19 33 20 16-6 14 17 27 27 12 14 20 17 13 8 14 15 6 50 25-3 17 37 28 17 3-10 13-6 4-59 49-12 11-25 66-10 12-10 31 1 55-2 14 18 62 1 12 4 5 6 10 17 24 5 8 37 49 5 6 2 2 2 1 57 14 9 7 25 2 36 15 23-4 30-8 28-11 30-8 19-12 12-18 36-32 2-3 1-1 2-5 30-52 4-46 1-13-1-10-3-60-11-24-6-32-26-33-4-9-9-8 2-41-18-36-6-7-2-46 40-29 14-7 9-11 46-28 46-46 0-1-3-67 2-3 5-10 46-40 8-14 3 16 25 39 41 20 6 4 41 32 28-3 34 24 10 3 2 0 2 0-1-3 1-47-5-11-22-61 1-26-7-26zM3563 1092l-4 21-25 11-27 30-51-54-8-1-2-4 0-4 2-3 2-4 17-29 51-14 10 12 30 29zM3566 3574l9 13-2 12 0 9-15 8-35 44-4 2-13-4-45-19-20-33 5-35 16-12 6-33 39-11 30-6 16 51zM3200 479l1 4 0 6-3 32-29-30 2-19zM3563 1072l-35-35-7-6-5 1-32 7-27 7-5 10-14 21-8 19 0 19 12 21 42 7 22 23 12-13 47-21 9-40zM2015 2362l64-4 28 53-2 33-19 23-4 4-4 0-3-2-67-43-8-5 7-31z" fill="#b34cff" stroke="#b34cff"/><path d="M1472 1639l1-3 5-3 8-5 50-36 62-9 3-1 4 1 37 3 9 4 33 19 21 21 7 5 3 4 19 0-10-13-19-14-14-14-34-19-8-5-5 0-44-4-46 8-21 3-16 12-38 23-19 10-6 13zM2797 1639l1-1 34-20 20-2 22 0 36 13 8 2 6 8 10 0-11-14-15-4-29-10-28-1-24 3-29 17-11 9zM1868 2355l1 11 4 38-11 43-39 39-2 5-11 30-27 23-12 16-37 34 36 0 7-7 32-46 9-8 5-13 24-8 2-26 26-27 16-59-2-16 19-29-29 0zM1293 2355l2 4 7 40 2 31 7 8 8 27 7 43 32 32 6 8 11 30 24 16 30 0 15 0-12-5-9-13-33-22-6-17-27-34-13-13-3-18-5-17-10-36-8-42-7-22zM885 3549l1-1 1 0 28-20 22-3 36 1 13 3 30 20 10 0-39-27-17-4-31 0-28 4-25 17-8 4-3 6zM2172 3549l5-6 3-1 6-1 60-18 21 2 30 24 11 0 1 0 0-1-1 0-37-30-27-3-51 16-14 2-7 4-10 12zM3026 4159l37 45 1 15 6 46 17 0-6-49 2-10-2-12-29-45-17-11-9-7 0 16zM3234 4265l4-21 4-41 1-19 20-35 1-3 9-30 24-18 16-22 15-21 12-22 49-10 22-4 23-14 60 3 12 2 10 0 8 4 51 4 7 3 33 9 16-4 9 3 4 9 47 32 24 18 7 38 5 13 9 7 18 42 10 11-1 4 3 11 9 51 22 0-3-20-13-47 3-15-37-41 0-4-4-4-9-55-41-29-24-16-16-31-28-12-41 12-12-1-29-18-50 1-37-7 38-49 11 0 48 21 36-10 0-39 16-9 11-12 16-21 27-26 32-41 0-1 9-56 10-25 2-44-15-41 1-15-15-23-7-25-18-15-25-40-56 56 11 16-4 20 1 18-27 13-26 34-13 5-40-11-25-11-24-40 6-41 6-5 9-50 59-16 45-9 2 7 8-6-9-2-2-1-46-21-43 10-28 7-26 10-25 20-55 43-2 1 0 1-11 42-1 1-21 40-1 35 0 28-4 23 31 54 10 22 2 30 24 19 7 13 27 25 15 12 24 4-4 53 3 25-44 28-19 5-43 9-1 3-25 35-28 37-10 8-4 13-25 33-9 16-3 48-1 8-2 14-32 27 36 0zM3939 4265l3-36 2-13 22-45 3-17 12-9 0-20-38 28-13 56-2 6-1 1-4 49zM4706 3549l55-24 30 2 25 7 19 15 10 0-28-22-20-6-38-2-64 27-3 1-1 0-1 2 2 0zM5989 3549l26-18 19-3 43-2 44 23 4 0 8 0-3-5-3-1-14-5-39-20-32 2-27 3-37 26zM5281 2594l-47-24-27-37-15-17-15-26-13-9-3-14-2-14-15-31 1-44-3-23-13 0 0 2-2 65 4 8 3 33 9 33 30 21 7 12 7 7 41 57 2 1zM5570 2594l12-5 6-7 31-16 29-18 18-24 12-20 19-25 5-10 10-42 12-24 6-15 9-33-23 0-15 0-5 32-3 17-11 45-18 33-6 8-14 24-4 11-42 22-4 2-1 1-22 26-44 18zM5815 2355l22 46 35-46-35 0zM4926 2355l-7 18-2 30 23 23 14-7 46-7 7-2 6-7 3-13-11-35-26 0-44 0zM4081 1639l20-12 14-2 49-7 20 5 24 14 3 2 10 0-13-10-20-11-27-7-34 4-23 5-34 19zM5286 1639l9-9 7-8 22-9 26-14 36-10 21-5 57 6 8 3 38 17 25 29 1 0 15 0-17-20-15-18-37-17-7-4-5-1-35-3-32-3-5 1-47 13-15 8-38 14-12 14-16 16zM3972 445l2 8-6-5 1-3-29 0-29 57 3 3 32 27 32 25 2 2 7-1 31-18-16-43 1-11-11-41zM3761 445l2 4 16 48-15 27-23 47 0 5-5 7-9 21-8 7-39 38-42 26-1 1-1 0-38 25-25 11-34 9-39-5-11-2-30 3-39-13-9-17-17-1-11-6-50-6-18-36-7-6-11-15 4-7-26-32-13-30-28-17 4-35-1-41-3-10-13 0-46 0 40 9 4 15 1 24-6 50 41 24 4 11 9 11-10 21 33 46 23 18 6 14 62 7 5 3 12 23 61 20 23-3 27 62-55-11-19 23-46 35-15 13-41 38-13 33-17 20-7 23 0 41-2 24 18 64 10 13 19 27 12 18 30 39 19 0 38 19 8 2 1 1 3 0 54 22 11-2 43-12 16-6 37-11 8-4 16-24 17-15 27-24 24-44 3-32 3-26-2-21-2-39-26-52-1-2-1-1-20-43-32-29-7-2-53-34-50-17 2-6 13-59 25 3 9-2 48-21 14-10 34-23 19-11 28-28 28-17 17-17 13-16-1-36 12-25 24-42-4-12-20-37zM3023 445l-10 23 2 52-4 8 8 3 25 6 45-20 16-22 3-22 9-28-44 0-35 0zM3574 1092l-9 40-47 21-12 13-22-23-42-7-12-21 0-19 8-19 14-21 5-10 27-7 32-7 5-1 7 6 35 35zM2007 2390l-7 31 8 5 67 43 3 2 4 0 4-4 19-23 2-33-28-53-64 4zM3694 1100l-15 26-41 36-11 3-8 10-15 21-20 11-17 5-3 1-51 14 21-35-16-17 54-24 12-59-16-29-22-22-21-19-14 2-55 13-5 0-6 4-17 26-15 34 1 34 21 39 17 3-16 4-4-2-42 1-16-21-17-28-13-17-23-32-14-45 4-35 0-27 5-16 24-27 48-60 4-1 15-8 46-34 9-2 51-5 14 7 35 12 32 21 29 10 25 22 15 33 5 17 15 22 12 25 1 20 4 30-4 39zM3379 3846l-33-26-2-22-26-57-13-23 1-10 1-37 0-20 15-27 6-14 13-8 7-18 7-25 32-25 47-37 2-1-2 1 0 1-14 65-8 27 6 19 21 34 7 11 6 3 67 19 21-9 17-22 40-19-2-26 6-29-5-7 25-25 11 18 40 32 2 8 5 7 0 5 22 63-1 29-14 34-1 10-5 38-8 10-24 30-31 30-12 10-17 19-39 23-1 0-53-2-44-14-18-12-13-2-22-19-14-6z" fill="#bb44ff" stroke="#bb44ff"/><path d="M1490 1639l49-36 50-8 13 0 32 4 22 8 21 12 20 20 9 0 9 0-3-4-7-5-21-21-33-19-9-4-37-3-4-1-3 1-62 9-50 36-8 5-5 3-1 3 5 0zM2811 1639l26-15 15-3 16 1 44 15 1 0 2 2 9 0-6-8-8-2-36-13-22 0-20 2-34 20-1 1 1 0zM1851 2355l3 29 2 23-7 27-24 25-17 31-7 19-29 24-7 8-4 3-46 41-21 9 21 0 19 0 37-34 12-16 27-23 11-30 2-5 39-39 11-43-4-38-1-11zM1311 2355l7 22 8 42 10 36 5 17 3 18 13 13 27 34 6 17 33 22 9 13 12 5 38 0-42-16-32-46-4-3-1-2-13-17-27-32-4-4-6-30-10-38-3-12-12-39zM898 3549l21-14 15-3 42 1 9 2 20 14 11 0-30-20-13-3-36-1-22 3-28 20-1 0-1 1 2 0zM2184 3549l63-19 16 1 21 18 13 0-30-24-21-2-60 18-6 1-3 1-5 6 8 0zM3026 4177l21 26 2 34 4 28 17 0-6-46-1-15-37-45zM3256 4265l1-2 1-14 2-54 5-7 15-42 6-20 37-28 6-8 5-7 21-39 36-8 34-5 4-3 2 0 78-6 6 1 57 4 15 7 43 12 32 26 27 19 8 6 2 13 12 27 18 15 22 52-4 31 5 30 23 0-9-51-3-11 1-4-10-11-18-42-9-7-5-13-7-38-24-18-47-32-4-9-9-3-16 4-33-9-7-3-51-4-8-4-10 0-12-2-60-3-23 14-22 4-49 10-12 22-15 21-16 22-24 18-9 30-1 3-20 35-1 19-4 41-4 21zM3954 4265l2-23 4-25 21-44 0-19 0-9-12 9-3 17-22 45-2 13-3 36zM4723 3549l41-18 21 2 30 8 9 8 11 0-19-15-25-7-30-2-55 24zM6000 3549l15-11 11-1 54-3 28 15 13 0-44-23-43 2-19 3-26 18zM5351 2594l-60-12-26-22-25-13-13-18-23-26-17-31-4-4-3-8-19-39 1-23-7-43-13 0 3 23-1 44 15 31 2 14 3 14 13 9 15 26 15 17 27 37 47 24 4 0zM5527 2594l44-18 22-26 1-1 4-2 42-22 4-11 14-24 6-8 18-33 11-45 3-17 5-32-25 0-2 14-7 41-5 20-14 26-5 20-2 6-11 31-37 19-19 15-14 17-31 12-11 10-21 8 26 0zM4092 1639l7-4 4-1 64-8 12 3 18 10 11 0 3 0-3-2-24-14-20-5-49 7-14 2-20 12zM5301 1639l3-3 2-2 5-2 39-20 24-7 36-9 45 4 21 8 26 11 16 20 17 0-25-29-38-17-8-3-57-6-21 5-36 10-26 14-22 9-7 8-9 9zM3969 445l-1 3 6 5-2-8-1 0zM3751 445l-4 30 9 25-7 12-12 25-11 33-8 21-28 22-11 10-11 7-32 32-52 19-3 2-2 1-60 16-16-2-31-7-14 2-18-6-4-8-35-1-21-13-34-4-19-38-8-9-29-35-20-49-16-11 2-20-1-45-2-9-3 0-16 0 3 10 1 41-4 35 28 17 13 30 26 32-4 7 11 15 7 6 18 36 50 6 11 6 17 1 9 17 39 13 30-3 11 2 39 5 34-9 25-11 38-25 1 0 1-1 42-26 39-38 8-7 9-21 5-7 0-5 23-47 15-27-16-48-2-4-2 0zM3696 1080l4-39-4-30-1-20-12-25-15-22-5-17-15-33-25-22-29-10-32-21-35-12-14-7-51 5-9 2-46 34-15 8-4 1-48 60-24 27-5 16 0 27-4 35 14 45 23 32 13 17 17 28 16 21 42-1 4 2 16-4-17-3-21-39-1-34 15-34 17-26 6-4 5 0 55-13 14-2 21 19 22 22 16 29-12 59-54 24 16 17-21 35 51-14 3-1 17-5 20-11 15-21 8-10 11-3 41-36 15-26zM3384 3850l14 6 22 19 13 2 18 12 44 14 53 2 1 0 39-23 17-19 12-10 31-30 24-30 8-10 5-38 1-10 14-34 1-29-22-63 0-5-5-7-2-8-40-32-11-18-25 25 5 7-6 29 2 26-40 19-17 22-21 9-67-19-6-3-7-11-21-34-6-19 8-27 14-65 0-1 2-1-2 1-47 37-32 25-7 25-7 18-13 8-6 14-15 27 0 20-1 37-1 10 13 23 26 57 2 22 33 26zM3681 1098l-5 9-15 13-44 10-36 42-1 1-2 2-3-3 3-2 17-78-22-39-9-9-35-31-23 3-42 10-15 2-19 10-12 18-22 49 2 50 2 4-4 0-1-2-24-38-6-8-37-49-8-28 5-45 0-13 2-8 12-13 14-23 36-45 11-3 38-21 18-13 26-6 29-3 30 15 14 4 13 9 51 19 17 15 10 22 9 32 28 42 0 1 3 40 0 9-4 41zM3377 3825l-20-15-1-14-32-71-4-10-1-4 0-13 0-29 0-6 5-9 13-29 28-18 15-39 2-4 6-5 8-7-2 12-2 5 14 42 19 30 6 18 12 5 9 0 67 18 29-11 9-11 52-25-2-34 6-32 44 33 4 11 13 20 16 45 0 14-8 19-8 25-5 38-17 20-15 20-21 19-36 30-8 10-19 11-27 1-32 0-26-9-28-19-9-3-38-15z" fill="#c33cff" stroke="#c33cff"/><path d="M1508 1639l34-25 34-5 28 0 22 2 35 14 9 5 9 9 18 0-20-20-21-12-22-8-32-4-13 0-50 8-49 36zM2825 1639l18-10 9-2 11 1 33 11 16 0 3 0-2-2-1 0-44-15-16-1-15 3-26 15zM1834 2355l4 46 1 10-3 11-10 10-31 58-3 6-9 9-25 27-14 10-29 26-53 22-4 2-53-2-4 0-5-1-63-5-33 0-13-2-40-15-28-41-8-12-27-32-15-17-12-61-1-8-5-22-6-19-17 0 12 39 3 12 10 38 6 30 4 4 27 32 13 17 1 2 4 3 32 46 42 16 8 0 40 0 72 0 56 0 36 0 21-9 46-41 4-3 7-8 29-24 7-19 17-31 24-25 7-27-2-23-3-29zM911 3549l12-8 9-2 47 1 5 1 10 8 11 0-20-14-9-2-42-1-15 3-21 14zM2209 3549l40-12 9 1 14 11 12 0-21-18-16-1-63 19zM3026 4196l5 5 3 54 2 10 17 0-4-28-2-34-21-26zM3266 4265l2-10 3-60 17-29 8-20 2-9 29-22 12-14 11-9 21-38 22-5 21-3 18-10 10 0 66-6 14 3 47 3 23 10 32 9 51 43 8 6 3 11 8 19 28 23 20 46-8 59 0 3 3 0 15 0-5-30 4-31-22-52-18-15-12-27-2-13-8-6-27-19-32-26-43-12-15-7-57-4-6-1-78 6-2 0-4 3-34 5-36 8-21 39-5 7-6 8-37 28-6 20-15 42-5 7-2 54-1 14-1 2 2 0zM3969 4265l1-10 6-37 5-10 0-35-21 44-4 25-2 23zM4740 3549l26-11 13 1 35 9 0 1 10 0-9-8-30-8-21-2-41 18zM6012 3549l3-3 3 0 65-4 12 7 13 0-28-15-54 3-11 1-15 11zM5404 2594l-45-8-15-8-48-9-48-43-2-1-6-8-24-27-5-8-18-21-13-35-2-5 0-3-9-63-14 0 7 43-1 23 19 39 3 8 4 4 17 31 23 26 13 18 25 13 26 22 60 12 7 0zM5497 2594l21-8 11-10 31-12 14-17 19-15 37-19 11-31 2-6 5-20 14-26 5-20 7-41 2-14-19 0-3 0-9 58-2 2-11 47-4 17-9 22-26 14-39 29-6 7-12 5-25 22-35 13-35 3 34 0zM4128 1639l42-6 5 2 8 4 14 0-18-10-12-3-64 8-4 1-7 4 5 0zM5321 1639l28-15 13-3 51-14 33 4 34 12 14 6 8 10 16 0-16-20-26-11-21-8-45-4-36 9-24 7-39 20-5 2-2 2-3 3 6 0zM3743 445l-8 55 0 2-4 9-19 55-4 12-23 18-11 15-5 3-34 34-41 15-17 10-6 2-65 7-47-11-2-1-48-1-33-20-17-2-10-20-24-24-19-24-28-68-5-3 1-5 0-12-13-46-8 0 2 9 1 45-2 20 16 11 20 49 29 35 8 9 19 38 34 4 21 13 35 1 4 8 18 6 14-2 31 7 16 2 60-16 2-1 3-2 52-19 32-32 11-7 11-10 28-22 8-21 11-33 12-25 7-12-9-25 4-30zM3682 1090l4-41 0-9-3-40 0-1-28-42-9-32-10-22-17-15-51-19-13-9-14-4-30-15-29 3-26 6-18 13-38 21-11 3-36 45-14 23-12 13-2 8 0 13-5 45 8 28 37 49 6 8 24 38 1 2 4 0-2-4-2-50 22-49 12-18 19-10 15-2 42-10 23-3 35 31 9 9 22 39-17 78-3 2 3 3 2-2 1-1 36-42 44-10 15-13 5-9zM3393 3839l38 15 9 3 28 19 26 9 32 0 27-1 19-11 8-10 36-30 21-19 15-20 17-20 5-38 8-25 8-19 0-14-16-45-13-20-4-11-44-33-6 32 2 34-52 25-9 11-29 11-67-18-9 0-12-5-6-18-19-30-14-42 2-5 2-12-8 7-6 5-2 4-15 39-28 18-13 29-5 9 0 6 0 29 0 13 1 4 4 10 32 71 1 14 20 15zM3581 1041l-5 0-43-36-32 3-30 7-24 4-32 16-7 11-24 54-13-12-36-47-2-10 5-51 1-3 0-1 27-43 24-30 17-6 47-25 6-3 25-4 18-5 7 0 20 10 20 7 14 7 50 19 9 8 6 11 14 48 19 29-4 25 2 23 3 40-46 5-10 2-3 4 2-6-6-10-15-34zM3375 3804l-6-5-1-4-10-24-18-49-6-23-1-30 14-30 42-26 3-7 3 7 2 4 15 46 31 13 21-2 55 15 37-15 1 1 1-2 62-29-2-42 1-9 13 9 14 31 29 47 3 6-17 52-3 27-25 30-8 9-9 9-57 47-3 2 0 1-5 0-47 3-10 0-9-3-9-6-45-18-28-11z" fill="#cb34ff" stroke="#cb34ff"/><path d="M1526 1639l19-14 19-3 41 0 12 1 40 16 8 0 14 0-9-9-9-5-35-14-22-2-28 0-34 5-34 25zM2840 1639l8-5 5-1 5 0 16 6 22 0-33-11-11-1-9 2-18 10zM1818 2355l6 56-1 4-37 70-4 4-31 33-23 18-13 11-23 9-35 21-44-2-14 1-19-4-44-4-23 1-29-7-29-10-20-30-17-25-12-14-28-31-9-48-2-21-7-32-7 0-8 0 6 19 5 22 1 8 12 61 15 17 27 32 8 12 28 41 40 15 13 2 33 0 63 5 5 1 4 0 53 2 4-2 53-22 29-26 14-10 25-27 9-9 3-6 31-58 10-10 3-11-1-10-4-46-13 0zM925 3549l2-2 2 0 53 1 1 0 1 1 10 0-10-8-5-1-47-1-9 2-12 8zM2234 3549l16-5 4 0 6 5 12 0-14-11-9-1-40 12zM3036 4265l-2-10-3-54-5-5 0 5 0 64zM3274 4265l5-21 2-48 29-49 1-1 34-39 33-27 8-15 9-2 8-2 32-17 18-1 54-4 22 4 37 2 32 13 19 6 33 27 24 18 5 24 3 3 33 27 17 40-7 51 2 11 7 0 0-3 8-59-20-46-28-23-8-19-3-11-8-6-51-43-32-9-23-10-47-3-14-3-66 6-10 0-18 10-21 3-22 5-21 38-11 9-12 14-29 22-2 9-8 20-17 29-3 60-2 10zM3981 4208l-5 10-6 37-1 10 12 0 0-46zM4758 3549l10-5 5 1 15 4 26 0 0-1-35-9-13-1-26 11zM6095 3549l-12-7-65 4-3 0-3 3 3 0 70 0zM5441 2594l35-3 35-13 25-22 12-5 6-7 39-29 26-14 9-22 4-17 11-47 2-2 9-58-9 0-9 50-8 15-7 28-6 28-6 14-16 9-44 32-9 7-5 5-30 27-27 10-50 4-14 1-7 0-47-8-31-16-27-5-27-24-23-15-26-34-3-6-20-23-12-32-6-48-3-19-13 0 9 63 0 3 2 5 13 35 18 21 5 8 24 27 6 8 2 1 48 43 48 9 15 8 45 8 10 0zM4183 1639l-8-4-5-2-42 6 44 0zM5344 1639l4-2 2-1 66-17 21 2 47 17 1 0 1 1 16 0-8-10-14-6-34-12-33-4-51 14-13 3-28 15zM3735 445l-7 45-2 11-24 52-3 10-1 2-4 3-27 38-14 9-19 20-24 8-35 21-14 3-53 6-37-9-21-3-34-1-43-26-2-1 0-1-40-41-9-11-19-45-17-31-2-5-14-54-9 0 13 46 0 12-1 5 5 3 28 68 19 24 24 24 10 20 17 2 33 20 48 1 2 1 47 11 65-7 6-2 17-10 41-15 34-34 5-3 11-15 23-18 4-12 19-55 4-9 0-2 8-55zM3585 1048l15 34 6 10-2 6 3-4 10-2 46-5-3-40-2-23 4-25-19-29-14-48-6-11-9-8-50-19-14-7-20-7-20-10-7 0-18 5-25 4-6 3-47 25-17 6-24 30-27 43 0 1-1 3-5 51 2 10 36 47 13 12 24-54 7-11 32-16 24-4 30-7 32-3 43 36 5 0zM3403 3828l28 11 45 18 9 6 9 3 10 0 47-3 5 0 0-1 3-2 57-47 9-9 8-9 25-30 3-27 17-52-3-6-29-47-14-31-13-9-1 9 2 42-62 29-1 2-1-1-37 15-55-15-21 2-31-13-15-46-2-4-3-7-3 7-42 26-14 30 1 30 6 23 18 49 10 24 1 4 6 5zM3481 3844l-50-19-19-8-26-23-7-12-19-54-12-41 0-17 8-17 27-17 10 31 49 20 34-3 43 12 29-12 10 4 26 12 47-44 29 50-11 33-2 16-30 36-3 4-54 47-13 6-52 1zM3597 1022l-28 2-32-28-41 4-17 4-34 6-45 23-2 2-6 13-19-17-17-12 9-33 0-31 14-22 12-15 24-7 31-17 22-10 38-7 13 0 32 11 53 28 6 2 1 1 1 1 18 63 10 16-6 49 1 7 1 11-17 2-6-13z" fill="#d32cff" stroke="#d32cff"/><path d="M1544 1639l4-3 4-1 55 0 2 1 8 3 40 0-40-16-12-1-41 0-19 3-19 14zM2874 1639l-16-6-5 0-5 1-8 5 13 0zM1809 2355l4 47-2 16-30 56-13 13-23 26-29 21-4 3-56 33-34-1-26 2-32-8-25-2-13 0-45-10-18-7-13-19-21-31-4-5-3-4-34-38-7-35-3-34-5-23-13 0 7 32 2 21 9 48 28 31 12 14 17 25 20 30 29 10 29 7 23-1 44 4 19 4 14-1 44 2 35-21 23-9 13-11 23-18 31-33 4-4 37-70 1-4-6-56zM984 3549l-1-1-1 0-53-1-2 0-2 2 4 0 53 0zM2260 3549l-6-5-4 0-16 5 17 0zM3283 4265l6-31 2-38 22-37 8-12 30-34 45-37 3-3 39-21 26-2 42-3 31 5 26 2 40 17 8 2 13 11 42 29 3 19 12 14 27 23 14 33-5 43 3 20 7 0-2-11 7-51-17-40-33-27-3-3-5-24-24-18-33-27-19-6-32-13-37-2-22-4-54 4-18 1-32 17-8 2-9 2-8 15-33 27-34 39-1 1-29 49-2 48-5 21zM4788 3549l-15-4-5-1-10 5 11 0zM5635 2355l-7 43-16 26-2 9-9 40-2 5-6 4-16 12-39 32-18 17-21 19-19 6-35 3-31 3-17 1-36-6-47-25-6-2-6-5-44-27-22-29-7-15-16-18-9-25-8-57-2-11-7 0-5 0 3 19 6 48 12 32 20 23 3 6 26 34 23 15 27 24 27 5 31 16 47 8 7 0 14-1 50-4 27-10 30-27 5-5 9-7 44-32 16-9 6-14 6-28 7-28 8-15 9-50zM5388 1639l32-8 8 1 21 7 36 0 1 0-1-1-1 0-47-17-21-2-66 17-2 1-4 2 4 0zM3726 445l-4 34-4 20-25 54-3 5-4 6-27 38-21 14-5 5-6 2-55 33-21 4-40 4-28-7-41-5-18-1-26-16-20-8-4-3-37-44-1 0-42-75-3-13-13-47-8 0 14 54 2 5 17 31 19 45 9 11 40 41 0 1 2 1 43 26 34 1 21 3 37 9 53-6 14-3 35-21 24-8 19-20 14-9 27-38 4-3 1-2 3-10 24-52 2-11 7-45zM3495 3849l52-1 13-6 54-47 3-4 30-36 2-16 11-33-29-50-47 44-26-12-10-4-29 12-43-12-34 3-49-20-10-31-27 17-8 17 0 17 12 41 19 54 7 12 26 23 19 8 50 19zM3613 1055l6 13 17-2-1-11-1-7 6-49-10-16-18-63-1-1-1-1-6-2-53-28-32-11-13 0-38 7-22 10-31 17-24 7-12 15-14 22 0 31-9 33 17 12 19 17 6-13 2-2 45-23 34-6 17-4 41-4 32 28 28-2zM3457 3820l-26-10-9-4-14-11-20-37-8-24-17-59 0-4 2-4 7-4 2 7 68 28 47-4 30 9 21-8 21 6 51 23 18-17 11 20-4 13-1 6-11 14-23 29-38 34-26 10-42 0zM3612 1003l-49 3-21-19-51 5-4 1-44 7-25 13-26-16-1-2 0-1 0-60 1-1 31-9 14-8 39-17 25-4 33-2 17 6 34 17 7 18 22 49 4 13 1 3-2 15z" fill="#db24ff" stroke="#db24ff"/><path d="M1617 1639l-8-3-2-1-55 0-4 1-4 3 4 0 59 0zM1799 2355l4 38-5 28-22 41-21 23-17 19-21 15-21 16-41 24-25-1-36 3-47-11-5-1-3 0-61-13-7-3-6-8-9-13-21-29-17-21-20-24-5-22-4-46-3-15-13 0 5 23 3 34 7 35 34 38 3 4 4 5 21 31 13 19 18 7 45 10 13 0 25 2 32 8 26-2 34 1 56-33 4-3 29-21 23-26 13-13 30-56 2-16-4-47zM3291 4265l9-42 1-26 16-26 14-24 25-29 39-31 14-9 32-18 34-2 30-3 39 7 16 1 38 16 7 2 5 4 47 33 2 14 20 24 22 19 12 27-5 34 5 29 7 0-3-20 5-43-14-33-27-23-12-14-3-19-42-29-13-11-8-2-40-17-26-2-31-5-42 3-26 2-39 21-3 3-45 37-30 34-8 12-22 37-2 38-6 31zM5625 2355l-6 35-17 30-3 5-3 6-9 39-50 43-33 30-12 10-10 4-20 2-49 4-26 1-25-4-39-21-8-7-8-3-43-27-18-24-12-24-11-13-7-17-5-40-5-29-12 0 2 11 8 57 9 25 16 18 7 15 22 29 44 27 6 5 6 2 47 25 36 6 17-1 31-3 35-3 19-6 21-19 18-17 39-32 16-12 6-4 2-5 9-40 2-9 16-26 7-43zM5449 1639l-21-7-8-1-32 8 34 0zM3718 445l-3 24-6 29-20 44-7 11-8 13-22 32-22 13-19 11-42 25-28 5-27 4-19-5-60-9-4 0-6-3-41-18-8-5-31-37-9-13-34-60-4-22-11-39-9 0 13 47 3 13 42 75 1 0 37 44 4 3 20 8 26 16 18 1 41 5 28 7 40-4 21-4 55-33 6-2 5-5 21-14 27-38 4-6 3-5 25-54 4-20 4-34zM3496 3833l42 0 26-10 38-34 23-29 11-14 1-6 4-13-11-20-18 17-51-23-21-6-21 8-30-9-47 4-68-28-2-7-7 4-2 4 0 4 17 59 8 24 20 37 14 11 9 4 26 10zM3617 1014l2-15-1-3-4-13-22-49-7-18-34-17-17-6-33 2-25 4-39 17-14 8-31 9-1 1 0 60 0 1 1 2 26 16 25-13 44-7 4-1 51-5 21 19 49-3zM3432 3796l0-1-1 0-4-8-26-49-14-51 54 23 60-5 18 5 12-5 32 10 56 25-1 8-28 35-23 20-37 15-32 0zM3557 988l-11-10-33 4-23-20-53-28 47-20 12-2 53-3 2 0 6 3 15 39 15 35z" fill="#e31cff" stroke="#e31cff"/><path d="M1789 2355l3 30-6 39-15 27-30 32-10 11-12 9-39 30-26 16-16-1-47 3-37-9-11-3-63-16-4-3-31-43-30-39-8-9-1-8-6-60-1-6-13 0 3 15 4 46 5 22 20 24 17 21 21 29 9 13 6 8 7 3 61 13 3 0 5 1 47 11 36-3 25 1 41-24 21-16 21-15 17-19 21-23 22-41 5-28-4-38zM3299 4265l11-53 1-15 9-14 21-35 21-24 32-25 24-17 26-14 42-3 18-1 47 8 6 0 14 6 28 10 20 15 29 20 1 8 28 35 17 14 9 21-4 27 7 37 7 0-5-29 5-34-12-27-22-19-20-24-2-14-47-33-5-4-7-2-38-16-16-1-39-7-30 3-34 2-32 18-14 9-39 31-25 29-14 24-16 26-1 26-9 42zM5615 2355l-5 28-13 23-10 16-7 16-7 30-38 32-47 43-2 2-2 1-4 0-67 6-36 2-14-3-21-11-18-16-19-8-34-21-15-19-17-34-7-7-3-11-3-23-7-46-13 0 5 29 5 40 7 17 11 13 12 24 18 24 43 27 8 3 8 7 39 21 25 4 26-1 49-4 20-2 10-4 12-10 33-30 50-43 9-39 3-6 3-5 17-30 6-35zM3710 445l-2 13-7 39-16 34-11 16-12 21-17 25-17 11-49 27-12 7-36 7-14 2-10-3-39-5-29-5-6-1-42-18-14-8-25-29-16-26-26-46-6-29-9-32-8 0 11 39 4 22 34 60 9 13 31 37 8 5 41 18 6 3 4 0 60 9 19 5 27-4 28-5 42-25 19-11 22-13 22-32 8-13 7-11 20-44 6-29 3-24zM3498 3818l32 0 37-15 23-20 28-35 1-8-56-25-32-10-12 5-18-5-60 5-54-23 14 51 26 49 4 8 1 0 0 1zM3587 986l-15-35-15-39-6-3-2 0-53 3-12 2-47 20 53 28 23 20 33-4 11 10zM3455 3788l-19-26-15-27-6-25 26 11 72-6 6 2 4-2 43 13 23 11-4 29-8 9-6 6-50 20-21 0zM3550 964l2 4 1 2-2 0-1 0-2 0-18-16z" fill="#eb14ff" stroke="#eb14ff"/><path d="M1780 2355l2 21-9 52-7 12-38 41-4 4-4 3-56 43-11 7-7-1-57 4-19-4-27-8-51-13-14-14-22-30-34-44-4-4 0-6-6-63-4 0-9 0 1 6 6 60 1 8 8 9 30 39 31 43 4 3 63 16 11 3 37 9 47-3 16 1 26-16 39-30 12-9 10-11 30-32 15-27 6-39-3-30zM3308 4265l13-64 0-3 2-3 29-46 16-19 25-20 34-23 20-11 50-3 6-1 28 5 22 4 3 0 38 14 35 26 10 7 0 3 36 45 12 10 6 15-2 18 8 46 7 0-7-37 4-27-9-21-17-14-28-35-1-8-29-20-20-15-28-10-14-6-6 0-47-8-18 1-42 3-26 14-24 17-32 25-21 24-21 35-9 14-1 15-11 53zM5605 2355l-3 21-10 16-17 26-12 28-4 20-26 21-37 34-15 11-32 6-37 3-45 2-3 0-3-2-29-26-30-12-25-16-11-14-22-43-2-2-1-3 0-6-10-64-12 0 7 46 3 23 3 11 7 7 17 34 15 19 34 21 19 8 18 16 21 11 14 3 36-2 67-6 4 0 2-1 2-2 47-43 38-32 7-30 7-16 10-16 13-23 5-28zM3701 445l0 3-9 47-11 25-14 22-17 29-13 18-12 8-50 27-11 4-39 9-4 1-1 0-1 0-3-1-68-10-16-2-35-16-18-11-19-22-24-38-17-31-8-37-7-25-9 0 9 32 6 29 26 46 16 26 25 29 14 8 42 18 6 1 29 5 39 5 10 3 14-2 36-7 12-7 49-27 17-11 17-25 12-21 11-16 16-34 7-39 2-13zM3500 3803l21 0 50-20 6-6 8-9 4-29-23-11-43-13-4 2-6-2-72 6-26-11 6 25 15 27 19 26zM3530 954l18 16 2 0 1 0 2 0-1-2-2-4zM3480 3780l-34-45 68 3 39 8-7 28-34 14-10 0z" fill="#f30cff" stroke="#f30cff"/><path d="M1412 2355l6 63 0 6 4 4 34 44 22 30 14 14 51 13 27 8 19 4 57-4 7 1 11-7 56-43 4-3 4-4 38-41 7-12 9-52-2-21-24 0-34 0-60 0-73 0-56 0-65 0zM3699 4265l-8-46 2-18-6-15-12-10-36-45 0-3-10-7-35-26-38-14-3 0-22-4-28-5-6 1-50 3-20 11-34 23-25 20-16 19-29 46-2 3 0 3-13 64 14 0 73 0 46 0 64 0 42 0 84 0 53 0zM5231 2355l10 64 0 6 1 3 2 2 22 43 11 14 25 16 30 12 29 26 3 2 3 0 45-2 37-3 32-6 15-11 37-34 26-21 4-20 12-28 17-26 10-16 3-21-27 0-59 0-56 0-48 0-45 0-86 0-37 0zM3304 445l7 25 8 37 17 31 24 38 19 22 18 11 35 16 16 2 68 10 3 1 1 0 1 0 4-1 39-9 11-4 50-27 12-8 13-18 17-29 14-22 11-25 9-47 0-3-2 0-72 0-53 0-66 0-76 0-62 0-37 0zM3502 3788l10 0 34-14 7-28-39-8-68-3 34 45z" fill="#ff00ff" stroke="#ff00ff"/></g><path transform="scale(.1)" d="M1565 3549l14-5 4-1 3 1 15 5M5390 3549l7-2 2 0 6 2M915 1639l6-3 48 3M2262 1639l3-1 1 0 1 0 1 1M1504 3549l17-15 16-8 26-10 26 0 20 0 53 19 12 5 10 9M5319 3549l36-22 24-5 37-6 49 14 19 5 15 14M4745 1639l6-3 38 3M6049 1639l13-3 8 3M1611 554l-7 8-10 2-16-6-27-31 44-11 31 18-15 20M864 1639l4-5 18-7 42-22 19 1 48 4 16 10 14 19M2153 1639l13-10 14-11 56-12 25 1 23 7 21 13 7 6 4 6M1460 3549l7-10 18-15 14-12 39-20 9-3 47-1 38 1 12 4 45 20 10 8 25 28M2810 3549l17-17 19-3 41 7 11 3 11 10M4090 3549l1-3 3-2 36-13 20 1 10 1 27 16M5276 3549l10-16 15-9 21-8 29-18 10-2 44-7 21-3 8-1 34 9 16 4 58 51M4691 1639l62-32 25 2 32 2 34 28M5988 1639l12-14 10-6 35-6 22-5 33 13 25 9 7 9M5646 445l-17 38-8 22-4 20-15 30-14 22-14 20-24 24-14 13-7 1-15 8-32 12-35 3-25 1-34-1-38-7-28-2-17-12-28-16-13-25-25-21-11-15-13-30-10-34-10-28-12-23M1824 445l0 2-5 50 0 3-1 1-18 24-25 34-6 3-3 11-34 44-11 12-13 6-17 7-42 6-32 12-21 3-32-12-27 0-19-9-40-9-24-13-33-34-13-12-1-9-8-19-15-36-18-50-2-15M3410 2167l38-12 21-8 36-7 13 2 49 17 17 7 38 12 8 1 6 5 35 44 4 7 18 48 1 5 11 38 3 25-10 50-1 21-5 11-19 37-17 9-40 36-10 7-14 16-43 16-14 0-24-3-50 9-19-2-16-4-38-27 0-1-1 0-24-20-28-23-15-18-5-15-12-43-1-15-7-35 1-17 11-55 1-7 10-14 26-18 4-23 14-12 27-30 21-1 0-13M1496 684l-15-7-6-1-13-8-38-9-32-8-27-40-6-6-3-43-6-12-36-44-7-17-5-44M832 1639l36-39 31-14 14-9 25-5 41 7 19 2 32 19 18 25 11 14M2122 1639l12-18 15-12 44-31 13-3 49 1 46 14 10 6 25 20 15 23M1421 3549l21-29 23-20 21-16 38-19 9-7 22 1 33-1 26 0 27 1 41 17 23 3 10 13 23 33 21 24M2770 3549l3-4 2-1 33-32 43-8 22 4 37 7 35 34M4059 3549l12-21 19-14 20-7 49 1 23 3 43 25 15 13M5239 3549l26-41 40-25 11-4 31-12 19 0 51-8 36-5 25 7 33 9 33 27 4 5 38 47M4655 1639l31-34 55-23 15-6 31 4 27 2 29 24 31 23 8 10M5951 1639l31-37 27-14 27-5 38-7 29 12 34 12 32 39M5310 684l-9-6-22-13-50-18-24-31-9-12-7-10-45-27-28-33-17-5-45-23 62-12 14-34-6-15M5717 445l-11 12-17 31-8 16-8 29 2 26-22 22-12 23-4 7-37 39-21 19-39 6-17 9M4991 445l-4 3-2-2 0-1M1880 445l-2 42 0 1 2 1-3 1-4 51-32 23-8 11-18 36-8 9-35 26-18 19-47 19M3530 2787l42 4 36 29 11 26 18 31 19 21-12 14-18 9-8-21-46-18-21-16-11 3-35-13-31 1-27 2-41 28-8 3-7 12-13-17-12-39 8-9 2-8 8-3 34-18 32-24 2-1 60 0 18 4M3302 2208l22-8 15-13 17-19 5-26 27-6 47-11 4-3 3 0 14-1 61-11 29 4 6 2 64 26 12 4 27 4 20 19 13 16 30 53 6 16 7 30 3 10 8 71-3 14-2 48-12 26-9 17-13 45-18 7-22 20-1 22-43 11-44 17-16 21-23-5-15-12-19-2-11 2-47-6-39-8-17-12-45-27-1-1-1-2-57-66-13-41-6-4 0-4 3-20-3-40-2-8 3-49 4-18 9-34 19-26 4-22M3364 1756l16 35 9 24 6 3 50 24 27 3 32 19 17-2 36-27 28-25 15-4 16-25 37 0 11-21 3-44 0-5 5-14 4 12 1 2 1 4 22 51-4 14-11 27-10 25-31 46-17 10-47 38-18 14-36 6-18 4-25-14-47-14-28-2-24-9-22-10-4-20 22-56-2-7-47-20-17-18-1-13 13-48 38 37M3674 2998l-1 1-1 2-4 1 1-4-2-4 5-3 2 4 0 3M792 1639l9-25 20-14 29-26 19-13 16-12 63-13 18 3 28 4 41 28 13 7 3 2 2 4 3 6 37 49M2098 1639l31-46 4-3 19-14 16-25 22-9 44-2 12 0 40 5 28 14 9 4 12 17 25 20 13 20 15 10 4 9M1356 3549l24-24 29-13 8-11 5-4 58-46 12-6 30-20 26 0 34-4 48 6 11 0 2 0 3 2 75 7 33 45 12 16 39 18 15 31 2 3M2734 3549l23-33 18-10 15-15 67-12 2 1 14 3 45 4 13 12 34 32 17 18M4026 3549l20-29 5-10 35-26 4-2 77 2 37 5 2 1 8 8 54 40 7 11M5187 3549l20-27 30-29 7-11 5-3 30-26 28-23 1 0 28-1 8-2 58 0 7-2 57-1 5 0 1 0 70 20 4 4 31 32 12 15 42 28 9 26M4616 1639l3-6 5-4 57-59 0-1 1 0 2-1 78-30 22 2 34 1 17 12 26 22 7 5 47 59M5916 1639l7-20 28-24 13-16 14-7 28-21 47-4 29-6 38 17 21 7 17 9 42 56 7 5-1 4M4747 684l14-16 15-43 20-9 8-2 47-4 11-20 32-29 11-29 7-26 13-23-2-38M5907 445l0 2-5 62 9 14 16 28 32 61-1 8 7 6 9 3 39 11 60-7 1 2 19 49M2083 445l2 9 8 40 32 61 8 7 61 37 12 2 42 22 7 10 4 33 46-28 6-2 16 48M866 684l1-11 8 4 39-9 28-13 41 15 1-38 17-3 42-17 11-20 38 12-11-55 10-17 14-10 7-8-9-24-11-16 5-29M3167 2063l24 37-40 30 37 8 24-7 17 12-9-28-2-38 36 6 38 11 19-37-31-31 5-24 18-20-17-38 7-31-9-24-3-6-6-6-43-53-1-11 4-41 20-54 0-5 9-60 0-6 2-2 4-5 35-50 2-3 5-2 42-31 14-15 33 0 20-23 27-8 4-1 9 0 45 3 12 0 24 7 34 13 19 10 15-3 34 8 32 24 26 21 28 50 5 9 20 34 4 12 8 43 4 10 0 29-5 35-10 58-1 4-30 41-6 16 5 72-3 3-8 9 7 28 28 58 7 8 1 0 1 4 39 71 1 1 44 37 4 4 2 6 36 31-1 38-2 31 7 13-8 15 17 42 17 58 3 6 7 3 4 13-13 9-11 52-27 24-19 26-10 46-52 27-1 2-1 0-16 12-41 33-3 7-1 18 9 37 29 4-24 40 15 59 4 8 5 29 22 35-20 44-11 13-10 15-22 31-5 12-20 35-21 39-7 5-64 36-1 0-45-23-30 14-28 23-11 2-29-7-13-11-16 1-11-4-37-21-16-6-36-31-3-4-4-1-36-19-2-17-33-55-2-1-1-4-12-55-2-21 3-22 16-34-50-42-5-2-6-32 20 22 46-40 17-14 0-54 2-9 0-10 0-38-32-61-31 15-28 8-18-21-28-4-25-15 15-36 62-11 4 4 13 0-1-9-7-4-2-2-6-2-61-12-2-31-14-62-25 8-7-1 2-9 4-23 11-17-4-13 1-11-29-58 33-41 3-27-1-20 8-41 28-39-64-16-2-5 2-6 20-51 37-8 24 19M3489 1813l45-16 24-9 18-5 15-22 15-31 1-27-3-46-13-17-28-37-53 2-17-5-27 18-19-12-17 33-9 24-23 32 4 11 3 44 11 33 34 14 12 13 27 3M3717 2781l-35-10-12 11 4 9 4 3 21 5 18-18M3591 2927l-23-8-15-4-44-18-41 4-20 16-21 8-10 16-22 59-5 4-3 8-9 17 20-4 11 29 10 25 14 19 25 12 57 20 48-24 13-17 14-6 4-19 18-27 9-34-10-23-12-32-8-21M3829 2508l31-6 40-31-48-1-14-1 1 13-10 26M3199 1937l3-8 16-1-4 13-11 1-9 2 5-7M3596 2043l16-23-49 18-6 1-8 9 12-2 2 0 33-3M3695 2640l-24-10-11 2-25 25 36-5 24-12M3439 2647l1-2-1 0-3-1 1 1 0 2 2 0M3077 2686l-20-2 5-23 16-21 15 25-2 17-14 4M2976 1400l0 36 25-4 14 13 3 4 3 3-3 11-34 3-12-5-9 4-49 25-22 2-45-7-15-1-51-31-3-1 0-4-21-48M748 1639l21-64 9-6 14-27 25-10 20-15 42-23 24-6 43 1 17 2 34-5 34 30 29 16 23 21 20 37 21 39 4 10M2068 1639l6-20 14-38 32-42 6-9 55-23 27-19 32 1 50-7 22 7 19 14 34 21 36 36 17 27 12 9 14 26 12 17M3026 1885l11-12 16-27 16-18 12-33 15-17-6-4 12-56 38-26 4-8 6-17 7-40 39-35 1-4 4-3 19-51 18-14 27-15 48-11 15-7 33-5 34-15 10-3 29-6 71 1 8 1 45 1 12-1 4-1 9 4 46 13 31 9 21 7 23 4 22 19 28 21 29 17 11 0 7 3 21 21 28 25 9 11 16 14-5 15 11 35 1 10 3 14 9 50 35 41 6 28 15 13 1 28 30 4M2790 2594l8-13-13-13-12-41-2-13 17 5 10-1 56 2 50-34 8-4 1-1 1-2 55-40 24-32-7-13 9-39M2322 3310l-1 1-30 42-46 25-7 2-26 11-11 0-22-6-30-32-8-43M1046 3310l-26 31-6 26-12 14-17 0-38-1-14-13-37-6-13-30-7-14 1-7M1244 3549l20-30-24-41 56-18 11-11 34-25 29-12 6 1 28-2 7-2 55-24 11-10 51-6 27 1 35-4 50 2 19-1 29 6 19 2 6 4 42 16 25 20 10-2 15 18 35 23 50 19 9-5 15 9 2 12 5 30 18 0 47 30M2692 3549l6-24 25-12 19-27 20-11 2-13 18-6 26-15 29-8 6-4 7 0 9 5 40 13 20 2 20 19 17 6 13 7 9 8 23 41 18 19M3992 3549l13-20 15-33 19-21 22-20 38-10 18 1 10-5 30-14 12-6 21 2 18 6 12 11 27 9 19 29 18 14 34 57M5041 3549l3-8 25-33 33-13 5-7 6-3 37-23 38-19 5-6 55-12 1-1 1-1 45-38 1 0 20-4 51-16 31-7 6 3 11-3 14 5 50 5 44 17 12 4 24 8 35 5 42 20 9-4 21 14 42 62 37 34 20 7 10 14M6162 3310l-29 32-34 10-21 8-25 10-21-4-8 1-57-1-8-2 11-54M4868 3310l-1 13-6 29-17 17-38 3-7-1-41 9-45 7-4 1-5 0-5-6-23-54-35-18M3981 3112l-1 5-62 0-30-45-13-25-45 33-3 16-10 23-11 26-38 22-16 15-8 4-54 30-14-6-19 0-25 15-19 3-55 14-47 8-14 3-4-1-6-1-46-10-43 4-2-1-13-6-67-26-27-12-18-10-54-24-16-24-6-8-39-20-2-32-5-5-4-3-45 7 14 17-32 15-19-20-37 18M4014 2355l-2 29 22 39 0 2 2 2 13 9 41 34 3 2 16 31 60 7 22-2 24 11 52 25 0 3 4 14 14 24-7 9M4558 1639l30-45 2-4 30-21 6-5 2-1 21-22 34-17 31-11 54-24 42 5 14-1 16 18 19 14 6 5 36 19 16 19 20 25 17 46M5881 1639l0-4 6-12 12-33 9-8 44-48 45-22 3-4 2 0 4 1 69-16 47 21 2 1 6 3 58 3 3 1 1 0 74 64 0 1-14 52M4288 1400l-2 3-8 50-9 5-6 1-40 19-32 8-26-2-9 0-52-4-60 0-9 3-9-9 2-53-41-21M4499 684l31-74 0-2 1-1-1 0-30-22-8-14-4-34-1-32 10-38 8-22M6264 445l-3 9-12 12-26-21M5956 445l3 26 1 30 17 38 30 17 15 13 36 13 19 3 14 6 20-19 31-15 41-27 12-4 41 31 1 1 33 42 16 17 6 53-35 14M4641 445l2 5 13 49 39 35 15 12 54 12 56-10 2-2 15-18 6-12 11-32 19-39M2518 445l-7 19-4 29 2 38 3 35 7 36-27 6-22 29 19 19 15 28M2132 445l8 42 2 9 41 46 12 5 68 5 8-4 43-9 17-7 19-29 22-40 8-18M782 445l-3 4-6 1-1-5M710 684l13-23 4-36 11-14 15-51 6-16 28-5 28-10 9 22 59 20 6 3 2 1 2-1 49 7 54-18 11-2 25-21 13-20 8-53 3-22M3489 1785l16-6 23-8 21-14 13-22 12-24 0-9-1-15-24-32-5-6-6-2-46-13-21 14-20 14-25 33 15 43 0 7 2 6 6 2 30 31 10 1M3438 3006l-4 10 15 46 47 9 11 5 10 4 8-5 6-6 48-60 2-3 0-2 0-2-2-5-36-54-43-17-18 1-20 17-24 62M3088 1573l-2-3-5-9 5 4 4 1 2 3 1 6-5-2M3026 1301l13-2 33-29 44 49 38 4 21 0 10 12 15 22 24 13 36 2 16 3 60 13 7 4 42 11 46-20 9 1 57 1 20 3 13-5 14 13 5 5 7-1 58-15 8-3 3 0 2 0 62 0 31-16 31 5 32-15 3 1 1-4 43-11 42-11-22-40 3-2 29 4-1 34 41-7 11-20 25-10 23-7M1505 1400l-15 9-6 0-50-9M1421 1400l-59 19-20 11-18 1-39 36-9-3-39-25-19 32-6 17-35 32-53-50-3-4-2 0-3 3 1 3 1 2 49 55-1 34-2 22-1 2 12 52M2013 1639l5-60-3-4 5-6 33-38-9-43 2-21-19-16-27 7-14 28-39-2-14-23-31 2-2 0-38-43-30 0-5-12-48-8M3026 1796l21-40 4-36 6-23-14-44 6-11-9-19-15-21-2-9-9-6-25-36-27-1-19-14-29-9-71 6-6-1-6 0-35-8-68 37-6 0-9 0-6 10-38 21-10 23-36 11-15 5-13-7 6 15M2757 2355l31 42 0 6 8 10 15 34 33 3 45-14 22-9 22-20 5-27 12-25M2261 2355l-1 4-3 2-12-6M996 2355l-5 12-43 22-27 13-31-47M654 2355l-8 49 3 8 0 46 5 10 1 57 23 11-18 28 5 30M2519 2594l3-42-6-30 22-45 1-2 3-32-8-20-8-49 6-19M1285 3310l19 15 15-5 7-10M682 3310l0 9 7-5 6-4M639 3487l6-12 0-5-6-6M1143 3549l0-27-37-47 0-4-4 0-17-11-29-15-41-10-14-1-8 0-58 2-5 0-1 0-47 2-43-7-9 6-42 26-16 39-6 7-7 11-26 29M2459 3549l-11-5-6-5-14-42-3-3-60-38-10-9-20-5-32-19-22 8-34-4-60 5-3 0-2-1-2 2-35 8-8 8-33 13-24 22-17 8-4 57M3981 3692l-21-30-5-24-6-27-6-34 0-18-6-48 20-21 6-37 4-12-4-16 13-58-46-10-68 15-14-7-24 13-26 3-13-5-6-7-35-31-32 0-23 8-67-30-43-9-51 6-13 1-2 0-68-17-1 0-1 0-13 1-54 10-39 5-13 1-5-2-9 2-48 10-35-3-22 11-36 19-14-6-40 14-16 6-48-13-13 3-11-2-19 18-10 50 8 15 4 2 6 6 40 13 9 18 7 5-10 75 1 18-1 39-7 32-10 37-4 13-15 16M4947 3549l-4-21-2-33-7-13-13-1-45-35-46-7-2-3-6 1-19-2-38-9-51 10-2 1-65 6-4 4-54-7-8 58-4 3-3 6-55 42M6286 3549l-44-59 0-1-43-53-5-4-42 2-25 0-7 1-19-2-30-5-64 4-3 0-6 4-58 8-40 34-22 69-1 2M6338 2594l-9-9-13-42 23-35 20-28-1-41 2-13 5-68-1-3M6104 2355l-29 47-42-12-15-8-12-15-1-12M4459 2355l11 51 0 12 3 41 3 9 18 42 2 13 1 32-34 39M4060 2355l8 31 33 40 10 8 34 17 13 6 73-44 1-3 20-55M4371 1639l9-29-51-27-8-6-33-15-15 4-48-37-65 3-1 0-41 1-2 0-1 0-2 0-84 19-12 1-22 36-19 20-22 34-3 25-2 26 6 30 5 30 6 28 15 13M5839 1639l5-48-3-8 1-12 4-57-24-30-39-16-2-6-8-9-66 0-61-11-15-3-34-22-38 1-17-8-67-3-5 1-25-8M5324 1400l-28 19-20 1-26-20M5248 1400l-47 18-17 12-56 21-2 0-1 1-78 16-6-4-17 9-33 9-22 49 12 11 9 3 15 8 6 14-5 26-1 46M4392 684l-8-35 4-13 5-17 11-55-1-47 1-16 0-13 9-43M6332 445l0 16-13 40 17 41 4 30 28 34M5995 445l4 33 1 25 7 14 18 11 32 0 22 8 44-24 10-4 7-5-2-8 10-50M4690 445l10 20 27 31 21 17 19 5 20-4 7-9 21-21 20-39M4190 445l1 21-21 39-18 13-9-3-16-15-17-46 0-9M2878 445l9 27-12 36-19 6-21-16-15-39-7-14M2606 445l-2 20-17 37 6 35 11 38 10 31 13 21-1 47 0 10M2173 445l16 46 22 13 23 9 16 1 19-8 43-50 6-11M860 445l-1 16 32 46 2 4 36 19 42 1 26-3 5-3 2-4 3-18 12-58M639 593l35-29 7-57 1-3-1-4-1-55M3474 3039l30 5 26-30-37-50-25 55 6 20M3520 1729l14-26-16-23-25-8-29 16-7 5-3 3 2 6 17 23 18 22 29-18M3026 1193l52-21 6 1 7 0 55 8 42 16 15 4 21-10 30 19 6 12 60 73 1 0 66 32 8 5 56 3 10 1 44 6 13 2 4-2 30-7 26-7 54-6 30-15 12-3 17-15 25-18 31-36 8 0 8-13 39-31 23-23 9-20 15-18 58 21 2 1 42 31 30 20M1917 1639l-34-35-13-33-48-34-3-1-43-14-14-5-1-1-36-43-2-2-3 0-13-1-57-9-17 1-41 1-51 14-11 3-21 5-31-2-20 6-32 12-19 13-55 31-41 46 0 1-32 23-20 24M3006 1639l-6-26-31-20-10-12-14-4-21-17-16-5-43 3-22 1-28 4-18-4-33 18-41 36-18 10-7 16M2820 2355l20 15 7 17 35-11 25-21M2298 2355l-12 34-24 15-5-3-53-19-13-17-4-10M1022 2355l-26 54-14 7-50 27-32-6-25-35-9-17-19-30M716 2355l9 32 20 21-1 57 1 4 3 5 24 24 11 39 8 29 29 28M2376 2594l3-11 29-43 27-48 9-10 4-9 15-33-5-16-1-45 5-24M1102 3549l-33-46-49-23-23-10-22-8-32-1-61 15-2 0-59 29-8 19-13 15-6 10M2397 3549l-4-10-26-24-7-9-6-5-37-33-18-5-33-3-26-3-23 2-40 8-7 2-9 8-21 12-9 12-40 19-3 29M3981 3796l-4-4-3-5-26-35-25-31-10-31-4-10-4-10-30-45-13-19 0-3-5-5-19-28-12-13-36-38-8-14-5-4-44-36-10-18-14-9-28-29-21-12-32-10-9-7-46-3-2-1-1 0-60-8-24 5-36 0-38 3-17 4-38 17-35 31-6 4-3 3-19 14-28 18-16 0-24 15-28 30-14 17-7 10-8 32-11 32-9 13-30 16-2 33-10 34-12 23-17 6-42 46-3 7-7 6M4919 3549l-8-36-45-26-4-3-39-18-25-3-38-8-31 6-25 8-12 1-6 6-39 15-12 26-21 15-7 17M6217 3549l-28-38-5-9-21-11-13-11-6 0-40-20-35-7-39 3-22 2-52 32-5 3-46 56M6174 2594l6-9 39-38 9-11 12-16 18-25 6-13 5-25 6-55 10-15-1-32M6152 2355l-1 19-34 43-1 1-45 22-46-12-8-2-11-9-22-28-4-34M4807 2355l-49 53-45-53M4535 2355l3 27 7 35 5 29 10 21 11 13 21 32 8 15 3 43 37 24M4110 2355l27 26 16 24 9 4 12-7 4-15 4-32M4310 1639l-28-28-24-18-42-33-34 2-25-8-18 4-22 1-56 22-25 10-43 48M5723 1639l-21-61-14-11-33-13-16-18-21-20-21-9-29-18-39-11-19-1-33 0-57-17-12-6-33 10-8 3-1 0-2 0-65 9-15 12-43 15-25 16-45 30-18 14-9 18-30 48-8 10M4284 684l6-3 5-5 29-64 11-39 2-6 11-48 1-16 0-16 12-42M6053 445l2 16 14 0 12-16M4749 445l21 21 22-21M4220 445l0 48-5 11-59 40-29-9-25-23-15-19-1-11 0-37M2925 445l-2 11-22 63-1 2-3 0-47 15-55-42-4-12-9-17-11-20M2651 445l-1 2 7 52 19 37 10 22-1 9 2 36 7 23 6 30 27 28M2219 445l21 15 14-15M936 445l5 11 9-3 5-8M3148 1105l-3 8-32 23 25-33 5-4 3 1 2 5M3026 795l40 12 4 0 3 5 34 34 9 18 20 58 53-5 3 2 2 1 0 1 0 2 14 59 12 22-3 30 16 58 3 22 26 35 1 5 4 3 28 55 21 25 29 25 37 17 12 6 26 15 20 1 49 5 21 3 32-5 11-3 62-18 9-4 2 0 12-7 37-21 11-7 9-11 27-33 18-31 12-10 7-24 15-29 2-17 25-42 6-8 6-3 9-28 4-36-1-30 33-16 1-1 4-2 34-25 13-8 17-28 16-50 0-7 38-35M1838 1639l-18-26-10-8-22-8-7-9-8-6-57-41-38-19-9-7-5-1-14 1-47-1-6-1-11 2-54 9-22 10-28 6-21 4-54 31-8 4-21 37-14 23M2979 1639l-1-5-6-4-27-32-38-12-3-2-2-1-6 0-22 1-24-1-48 6-4 3-60 47M1047 2355l-6 12-13 51-10 20-18 20-46 20-9 5-34-7-27 19-15 12 10 22 6 16 44 33 11 13 3 0 10 3M2257 2594l7-2 1-1 25-11 25-17 16-14 8-11 7-44 30-22 3-7 2-3-1-32 3-69-40 47-6 14-22 22-46-1-17 10-28-10-22-9-9-15-27-35-11-29M1075 3549l-3-5-9-4-70-48-38-8-5 0-58 10-10 6-39 20-13 29M2361 3549l-21-27-42-28-7-6-53-5-12 3-50 8-23 14-33 38-2 1 0 2M3981 3962l-36-11-22-11-20-29-19-57 12-19-23-12-18-2-13-18-27-19-20-37-5-21 0-9 1-9 14-30-24-56 1-10-17-26-38-41-4-6-1-3-3-6-8-29-13-21-21-13-12-12-30-14-18-10-23-20-20-1-29-2-39-3-45 2-15 0-7 1-37 10-11 4-44 33-26 27-14 11-36 43-19 16-4 28-14 32 0 28-32 23-2 2-3 29-1 20 0 1 1 2-2 0-11 60-32 12-2 0-3 5-43 51-15 28-10 23-7 5 8 10-7 59-47 17M4891 3549l-4-18-23-13-40-24-1-1-54-7-13-3-12 2-13 5-32 9-35 13-17 37M6181 3549l-18-31-24-13-42-15-17-8-13-3-14 1-41 4-23 14-31 20-26 31M6086 2594l36-26 16-22 12-52 19-14 5-41-32 39-86-8-2 1-1 0-38-11-46-40-7-9-6-56M4846 2355l-23 54-10 10-27 22-21 13-53-1-25-33-7-6-14-23-26-36M4616 2355l6 9 4 64 5 9 2 41 6 7 6 13 25 37 18 20 48 24 16 8 11 7M4268 1639l-2-3-57-43-2-2-1 0-50-15-37 8-3 0-5 2-67 28-22 25M5638 1639l-22-32-19-11-15-21-42-41-7-5-55-8-16-2-62-8-19 3-30 3-20 4-17 3-12 5-37 27-20 33-6 3-37 36-12 11M4147 684l0-1 1 0 39-29 18-16 4-3 8-6 38-45 4-17-28-16-70 20 3 6-5-6-48-11-3-3 1-3-5-9-39-49-3-36 0-15M2951 445l-5 37-11 32-34 36-33 5-12 13-8 2-23-9-45-23-40-32-3-45-8-16M2704 445l2 12 30 50 1 1 0 4 7 67 7 27 12 23 12 13 11 4 47 34 5 3 3 1M3526 3598l-18 22-20-8-6-11 1-12 18-14 25 23M3501 1087l12-3 11 12-13 14-14-15 4-8M1768 1639l-23-27-41-32-1-1-1 0-47-27-27-1-29-3-51 9-16 3-26 12-23 14-45 22-15 31M2951 1639l-19-24-27-8-17-6-37-2-34 5-19 11-30 24M1088 2355l-12 37 8 31-15 26 3 20-31 30-7 18-3 11 14 7 31-13 37-14 29 11 41 14 33 1 19 7 27-7-21-37-14 0 4-16 17-17 8 18 37 46 2 12 8 7-6 22-6 25M1871 2594l20-27 27-21 35-35 29 2 31-14 19 14 28 15 60 4 22 2 4-1 49-4 9-5-10-44-7-3-40-64-7-9-6-16-23-33M1045 3549l-56-38-25-6-21 0-39 6-20 13-19 10-7 15M2328 3549l-7-11-17-10-25-21-37-4-36 11-28 4-13 8-19 23M3981 4088l-11 3-52 14-37 8-29-6-25-19-28-37-10-12-2-5-40-41-16-2-11-16 5-26-17-44-2-11-21-45 38-19 1-40-1-40 2-16 3-7 3-72-1-3 1-31-33-52-8-30-9-18-18-22-17-16-10-5-35-20-31-7-41-11-27-2-12 0-49 14-42 16-13 3-7 6-8 9-44 41-24 29-6 22-17 30-5 9-1 60 0 11-7 47 11 19 19 39 1 27 5 23 14 31 6 12 10 9-6 51-7 7-6 10-45 15-2 22-38 8-26-11-13 30-4 11-10 24 21 6 2 10-3 5-33 7-16 12-69-3-2-1-1-1-1-1-48-27M4862 3549l-43-35-12-4-51-3-27 12-34 10-14 5-7 15M6151 3549l-8-14-12-7-46-16-15-8-14 1-41 4-23 17-27 17-5 6M5712 2594l67-38 3-1 10-7 0-54 37 20 20-1 7 19 40 4 23-11 9-42-7-12 20-16-13-44-2-39-5-17M4888 2355l-11 27-9 29-17 42-29 13-5 4-15 10 9 40 0 2 2 1 3 0 63-7 49-2 14-2 22-11 38-11 48-14 5 11 28 45 21-1 9 63M4238 1639l-30-24-13-7-40-10-7 1-39 7-52 30-4 1-2 2M5579 1639l-38-45-6-8-3-3-35-22-23-4-52-5-20-2-20 3-30 10-5 1-26 12-30 11-21 24-28 28M2993 445l-24 59 0 3-1 2-4 4-18 55-8 29-18 19 20 13 20 1 62-13 1 0 38-14 20-2 56 5 11-18 19 32 20 19 28 43 1 4 1 3 24 14 28 17 5 9 42 18 13 6-5 29-3 8-11 42 0 19 0 23-21 55-5 6-11 38 0 64 0 7 8 28 2 40 14 16 19 33 2 3 4 6 31 44 17 15 13 6 43 10 14 12 43 4 23 9 31-5 20-6 38-14 24-7 28-17 9-12 26-24 11-14 7-11 14-29 14-24 5-55 1-4-1-3-3-65 0-10-1-7-9-51-13-16-9-22 6-58 9-12-35-34-9-10 0-2 3-2 52-24 33-40 1 0 1-1 46-37 38-27-2-42-2-18 15-12 7 11 11 5 48 24 22 16 25 11 56 17 19-1 37-7-22-27 1-38-13-27-16-42 2-37-4-15M3555 1092l-1 7-8 3-38 43-51-54 17-29 43-12 28 30 9 9 1 3M3562 3588l3 5 0 5 0 4-6 3-27 34-14 17-51-23-17-28 4-30 23-18 3-20 25-7 18-4 11 32 28 30M1713 1639l-3-3-5-4-22-22-32-18-10-4-40-4-1 0-64 9-53 39-6 3-2 2-1 2M2923 1639l-5-7-8-2-37-13-21-1-19 3-34 20M1313 2355l7 24 8 39 11 41 4 13 3 15 11 12 29 37 5 15 30 20 12 17 16 6M1729 2594l42-37 9-13 29-25 10-28 5-8 37-38 10-41-4-36-1-13M1014 3549l-28-20-13-2-37-1-21 3-28 20-1 0M2295 3549l-29-24-20-2-61 19-5 1-3 1-4 5M3068 4265l-6-44-1-17-35-43M3772 4265l-9-55-2-7 1-2-6-7-21-47-9-8-6-15-7-35-22-16-50-34-3-7-6-2-12 3-38-10-8-4-58-4-4-2-4 0-7-1-68-4-19 12-25 4-47 10-13 24-14 20-15 20-26 19-8 29-4 11-17 29-1 16-4 44-3 19M3981 4148l-8 6-3 12-24 50-3 15-3 34M4833 3549l-17-14-26-8-28-1-54 23M6120 3549l-42-22-45 2-18 2-24 18M5522 2594l1-1 1 0 46-18 21-26 2-1 45-25 7-16 11-18 4-7 20-35 10-42 3-20 5-30M5144 2355l3 25-1 42 16 33 2 12 3 12 11 8 15 27 16 18 25 35 51 26 1 0 1 1M4209 1639l-1-1-25-14-19-5-50 7-13 2-19 11M5533 1639l-24-28-36-16-10-4-56-5-23 5-34 10-28 15-20 7-6 7-8 9M3237 445l2 9 1 42-4 34 27 16 14 32 27 35-2 5 8 11 5 4 20 40 48 5 12 7 19 1 8 16 37 12 28-3 13 3 36 5 38-10 22-10 34-22 7-3 4-4 39-24 36-35 10-8 11-27 1-2 0-2 24-50 15-25-18-52M3694 1081l4-40-3-32-1-17-11-22-16-25-6-18-14-32-24-21-32-11-30-20-32-11-16-8-49 5-11 3-42 31-18 10-5 1-47 58-1 3-23 25-4 15 0 26-4 35 12 44 26 33 11 17 19 29 14 18 42 0-20-40-2-36 16-35 16-26 8-4 6-1 53-12 15-2 23 20 21 21 17 30-13 61-48 22 22 24-11 20 28-8 2-1 9-2 26-15 14-19 11-13 14-3 39-34 13-24 2-19M3385 3849l18 7 19 17 10 1 21 14 42 13 50 2 5-1 36-21 17-18 14-12 29-29 24-29 9-11 5-43 0-4 15-35 1-27-24-66 1-3-4-6-2-6-42-34-9-15-22 21 4 6-5 30 1 27-41 20-16 21-22 8-70-19-4-2-4-7-24-39-8-21 8-25 13-60-43 34-29 23-6 22-8 21-15 9-7 16-13 24-1 19 0 38-2 9 12 19 27 61 2 21 32 25 6 5M1658 1639l-40-16-13-1-41 0-19 3-20 14M2874 1639l-16-6-5 0-5 1-9 5M1360 2355l7 32 2 21 9 48 27 31 12 14 17 25 21 30 29 11 29 6 23 0 44 3 19 4 14-1 44 3 34-21 24-9 13-12 24-17 30-34 4-4 38-71 0-3-5-56M984 3549l-1-1-1 0-53-2-2 1-3 2M2260 3549l-6-5-4 0-16 5M3727 4265l-2-11 7-51-17-40-33-27-2-3-5-25-25-17-33-27-20-6-31-13-37-3-22-4-54 5-18 1-31 17-9 1-10 2-8 16-32 26-34 40-1 1-30 49-2 49-4 20M4789 3549l-15-5-6 0-11 5M5182 2355l3 21 6 46 11 33 21 23 3 6 26 34 22 14 28 24 28 5 30 17 47 8 7-1 13-1 51-4 27-10 31-27 4-4 9-7 44-33 17-9 5-14 6-28 7-28 8-14 9-51M5486 1639l0-1-2-1-47-16-21-2-66 17-2 0-5 3M3270 445l14 54 1 5 17 29 19 47 10 12 39 40 1 2 2 0 43 26 34 1 21 3 37 10 53-6 14-3 35-21 24-9 20-20 13-8 27-38 4-4 1-2 4-11 24-51 2-11 6-45M3494 3849l53-1 13-5 55-48 2-3 31-36 2-17 10-33-29-52-48 45-25-12-10-3-29 12-43-12-34 3-48-20-11-32-28 17-8 18 1 17 12 41 19 55 6 11 27 24 19 7 51 20 12 4M3612 1055l7 14 17-2 0-13-1-7 6-48-10-16-19-63-1-1-1-1-7-3-52-27-32-12-13 1-38 7-22 9-31 17-24 7-13 16-14 23 0 29-9 34 16 12 21 19 6-15 2-2 45-23 34-6 17-4 41-4 33 28 26-2 16 33M1397 2355l1 7 6 58 2 11 10 11 28 36 32 45 1 1 66 16 8 3 41 10 45-4 17 1 29-17 36-27 13-10 11-13 29-30 16-29 6-38-3-31M3707 4265l-6-36 4-28-10-21-18-15-26-34-2-9-31-22-18-13-24-9-18-7-8-1-46-8-19 2-42 3-27 15-22 15-33 26-21 25-21 33-10 16-1 17-10 51M5216 2355l7 43 4 26 4 12 7 8 16 32 15 20 36 22 17 7 17 15 24 13 15 2 35-1 64-6 6 0 4-1 4-4 44-41 40-33 7-32 7-15 9-14 14-24 5-29M3294 445l9 33 6 28 27 48 15 24 26 30 12 8 44 19 5 1 22 3 45 6 11 3 16-2 35-7 17-10 44-24 18-11 18-26 12-20 9-15 17-36 7-37 2-15M3500 3806l22-1 49-19 8-8 12-14 3-25-29-13-40-13-6 2-8-2-70 6-31-13 8 29 17 33 16 21 49 17M3494 926l-3 0-2 1 2 1 51 44 7-1 3 2 7 0-4-8-4-12-57-27M1435 2355l3 37 4 33 21 24 10 13 7 9 33 34 31 7 34 10 8 0 48-4 16-5 48-38 11-11 11-7 30-32 9-35 5-29-1-6M3687 4265l-11-60 1-5-2-4-3-3-13-17-28-33-11-10-35-27-29-10-13-1-40-8-21 1-30 2-9 5-52 35-13 10-9 11-18 28-13 23-16 62 0 1M5251 2355l0 5 7 58 13 28 12 23 4 5 10 7 49 19 20 18 35 1 9 1 14-3 49-9 52-37 5-6 4-3 1-3 19-46 30-43 3-7 2-8M3318 445l4 12 11 51 3 6 37 60 8 10 26 15 24 11 31 5 54 8 11-5 33-7 40-16 20-10 5-4 5-7 23-41 21-32 4-8 3-19 3-29M1478 2355l-2 27 5 46 7 7 39 34 17 7 7-4 33-3 56-8 5 0 36-35 22-17 7-43-1-11M3656 4265l-5-32-4-32-24-29-36-34-18-13-14-5-28-2-22-4-34 0-15-1-50 35-4 14-11 4-24 43-8 33-7 23M5284 2355l9 48 33 33 41 33 4 2 5 4 29 4 50-11 6-2 24-26 33-32 2-4 4-6 20-43M3346 445l8 31 8 30 24 41 29 29 10 7 5 2 56 10 22 3 30-13 15-3 34-13 30-26 14-25 12-18 9-28 2-27M3611 4265l-1-19 6-41 0-3-1 0-7-7-52-45-6-2-8-5-32-2-4-1-6 0-28-1-16 10-12 43-45 19-3 5-1 4-13 45M3393 445l3 52 2 7 47 25 34 17 22 13 35-11 12-6 45-40 3-24 22-33" fill="none" stroke="#000" stroke-opacity="0.64" stroke-width="13.5" stroke-linejoin="round"/><rect x="55.00" y="35.50" width="592.30" height="400.20" fill="none" stroke="#262626" stroke-opacity="0.85" stroke-width="1"/><text x="63.85" y="468.00" text-anchor="middle" class="tk">-3</text><text x="159.35" y="468.00" text-anchor="middle" class="tk">-2</text><text x="254.85" y="468.00" text-anchor="middle" class="tk">-1</text><text x="350.35" y="468.00" text-anchor="middle" class="tk">0</text><text x="445.85" y="468.00" text-anchor="middle" class="tk">1</text><text x="541.35" y="468.00" text-anchor="middle" class="tk">2</text><text x="636.85" y="468.00" text-anchor="middle" class="tk">3</text><text x="45.50" y="435.40" text-anchor="end" class="tk">0</text><text x="45.50" y="339.90" text-anchor="end" class="tk">1</text><text x="45.50" y="244.40" text-anchor="end" class="tk">2</text><text x="45.50" y="148.90" text-anchor="end" class="tk">3</text><text x="45.50" y="53.40" text-anchor="end" class="tk">4</text><path d="M63.85 435.70v-6.0M63.85 35.50v6.0M159.35 435.70v-6.0M159.35 35.50v6.0M254.85 435.70v-6.0M254.85 35.50v6.0M350.35 435.70v-6.0M350.35 35.50v6.0M445.85 435.70v-6.0M445.85 35.50v6.0M541.35 435.70v-6.0M541.35 35.50v6.0M636.85 435.70v-6.0M636.85 35.50v6.0M55.00 426.50h6.0M647.30 426.50h-6.0M55.00 331.00h6.0M647.30 331.00h-6.0M55.00 235.50h6.0M647.30 235.50h-6.0M55.00 140.00h6.0M647.30 140.00h-6.0M55.00 44.50h6.0M647.30 44.50h-6.0" stroke="#262626" stroke-opacity="0.85" stroke-width="1" fill="none"/><text x="336.75" y="499.90" class="lb">x<tspan class="sb" dy="13.5">1</tspan></text><text x="0.80" y="215.80" class="lb">x<tspan class="sb" dy="13.5">2</tspan></text><text x="351.15" y="24.90" text-anchor="middle" class="tb">True Conductivity</text><g transform="scale(.1)" stroke-width="7" stroke-linejoin="round"><path d="M12976 445l50 77 71-15 39-22 13-29 3-11-18 0-74 0zM7695 445l84 79 70-31 16-48-74 0zM10169 1922l-38 15-59 67 2 35 18 73 32 43 47 30 35 27 100 9 76 2 24 4 132-2 19-6 24-17 49-31 95-22 43-8 42-21 0-65-53-28-5-3 1-3-49-65-70-13-91-53-37 1-52 0-33 9-18 1-81-11-51 11zM10547 2466l-46 6-41 1-30-3-82-4-32-3-14-3-11 12-83 40-38 23-51-8-23 50 83 54 47-2 62 1 50 23 82-2 55-9 47 2 79-3 68-27 16-4 41-25-37-18-34-34-46-46-39-23z" fill="#00ffff" stroke="#00ffff"/><path d="M10979 2355l9 46 48-13-25-33-19 0zM10891 1968l-16-4-97-17-22-29-123-23-43-25-83 3-77 0-6-1-97-20-5 0-69 6-97 20-70 27-50 58-78 21-22 52 0 93 0 25 67-2 40 54 38 19 66 43 28 5 113 2 9 1 86 10 28-9 109 1 30 0 38 1 27-23 22-14 21-4 126-21 63-32 44-20 0-16 0-171zM13152 445l-3 11-13 29-39 22-71 15-50-77-38 0 42 64 16 46 6 14 20-6 12-11 79-17 26-14 24-55 5-21zM9081 445l3 15 16 37 41-11-3-41-28 0zM7865 445l-16 48-70 31-84-79-30 0-8 0 2 6 3 7 76 80 34 32 111-49 26-76zM9706 2355l-1 9 2 123 22-1 13 52 36 56 9 0 51 0 50-56-51-85-7-12 29-86-34 0-107 0zM11112 2594l4-79-30 3-82 17-77 17-42 10-48-28-58-13-42-21-28-28-72-42-38-24-66 8-74 9-18-8-33 12-90-7-73-16-61 66-20 9-9 6-42-7-40-12-24 13-26 58-64 53 52 21 37-4 48 22 78 50 93-5 30 0 23 11 116-3 16-3 70 4 118-4 25-10 56-15 58-35 84-5 28-2 0-18 143 0 66 0zM10271 1901l51-11 81 11 18-1 33-9 52 0 37-1 91 53 70 13 49 65-1 3 5 3 53 28 0 65-42 21-43 8-95 22-49 31-24 17-19 6-132 2-24-4-76-2-100-9-35-27-47-30-32-43-18-73-2-35 59-67 38-15zM10570 2464l39 23 46 46 34 34 37 18-41 25-16 4-68 27-79 3-47-2-55 9-82 2-50-23-62-1-47 2-83-54 23-50 51 8 38-23 83-40 11-12 14 3 32 3 82 4 30 3 41-1 46-6z" fill="#0cf3ff" stroke="#0cf3ff"/><path d="M11011 2355l25 33-48 13-9-46-73 0 6 32-26 7-35-5-63-25-140-3-18-10-2-2-109 12-13 1-60-25 77 0 104 4 4-3 135-27 30-5 85-38 10 2 0-9 0-96-44 20-63 32-126 21-21 4-22 14-27 23-38-1-30 0-109-1-28 9-86-10-9-1-113-2-28-5-66-43-38-19-40-54-67 2 0 55 0 89 69-6 67 34 20 13 80 15-73 54-30-10-95 53-2 6-9 7-10-15-41-74 6-20-59 0-29 86 7 12 51 85-50 56 98 0 0 98 0 1 3 1 114-14 84 39 32-1 13 3 122-4 4 1 124 0 20-4 44 6 27 1 55-2 80-7 13-3 82-13 26 3 112-9 0-78-28 2-84 5-58 35-56 15-25 10-118 4-70-4-16 3-116 3-23-11-30 0-93 5-78-50-48-22-37 4-52-21 64-53 26-58 24-13 40 12 42 7 9-6 20-9 61-66 73 16 90 7 33-12 18 8 74-9 66-8 38 24 72 42 28 28 42 21 58 13 48 28 42-10 77-17 82-17 30-3-4 79 26 0 6-120-4-17 4-74-22-28zM10891 1897l-47-13-50 2-8-2-153-34-3 0-123 5-65 0-16-1-84-18-23 1-155 14-10-1-13 4-90 24-4-1-111 23 0 6 0 68 0 62 22-52 78-21 50-58 70-27 97-20 69-6 5 0 97 20 6 1 77 0 83-3 43 25 123 23 22 29 97 17 16 4zM12113 684l25-63 3-55-8-46 45-75-102 0-13 0 3 10 9 98 2 118 1 13 10 0zM13168 445l-5 21-24 55-26 14-79 17-12 11-20 6-6-14-16-46-42-64-21 0-26 0 21 79 21 60 25 59 87-25 49-47 35-8 12-6 37-81 6-31zM12435 445l-2 3 25 101 10 5 8-3 2-5-1-8-39-93-2 0zM11696 445l-29 64-2 51-18 63 77 7 21-73 32-85 12-27-33 0zM9138 445l3 41-41 11-16-37-3-15-42 0 8 38 39 91 101-26-7-103zM8685 445l-49 126 128-62 16-64-26 0zM8459 445l8 67-49 66 89 2 108-1-36-89-34-45-66 0zM7909 445l-26 76-111 49-34-32-76-80-3-7-2-6-16 0 4 18 12 22 88 93 11 23 29 36 114-73 15 32 7-40-1-10 35-77 6-24-41 0zM8745 684l3-52-115-42 36 94 53 0zM9692 2355l-4 19 2 115-11 98-2 7 7 0 94 0-36-56-13-52-22 1-2-123 1-9zM10892 3549l-1-1-1 0 0 1 1 0zM10385 2355l-64 22-1 0-20-4 19 2 1 0z" fill="#14ebff" stroke="#14ebff"/><path d="M11122 2355l22 28-4 74 4 17-6 120 25 0 5-93-9-43 5-91-3-12-11 0zM10891 2270l-10-2-85 38-30 5-135 27-4 3-104-4-77 0 60 25 13-1 109-12 2 2 18 10 140 3 63 25 35 5 26-7-6-32-15 0zM10891 1870l-12-4-85 3-37-10-115-25-34-1-100 4-53 0-27-2-70-15-43 2-129 12-27-1-35 9-77 20-20 0-91 18 0 20 111-23 4 1 90-24 13-4 10 1 155-14 23-1 84 18 16 1 65 0 123-5 3 0 153 34 8 2 50-2 47 13 0-19zM11751 684l2-26 31-106 17-47 28-60-40 0-12 27-32 85-21 73-77-7 18-63 2-51 29-64-73 0-3 8-3 106-32 106-3 16-2 3 4 0 151 0zM12078 684l-1-13-2-118-9-98-3-10-91 0 29 77 2 30 1 37 11 95zM12260 684l49-34 37 34 67 0 180 0 29 0 5-62-13-69 2-38-26-70-51 0-101 0 39 93 1 8-2 5-8 3-10-5-25-101 2-3-110 0-92 0-55 0-45 75 8 46-3 55-25 63 100 0zM13029 684l39-12 43-41 31-37 3-6 2-3 45-99 8-41-16 0-6 31-37 81-12 6-35 8-49 47-87 25-25-59-21-60-21-79-59 0 21 78 8 66-12 48 25 47 60 0zM9180 445l7 103-101 26-39-91-8-38-42 0 13 60 27 62 12 56 6 61 24 0 130 0 37 0-10-29-9-74-7-126-3-10-5 0zM8780 445l-16 64-128 62 49-126-50 0-90 0 34 45 36 89-108 1-89-2 49-66-8-67-69 0-109 0-39 0-20 58-11 41-5 61 6 79 52 0 132 0 103 0 1-5 6 0 6 0 2 5 97 0 58 0-36-94 115 42-3 52 60 0 4-75-5-26 40-124 10-3 7-11-22 0zM7961 445l-6 24-35 77 1 10-7 40-15-32-114 73-29-36-11-23-88-93-12-22-4-18-17 0 8 30 20 38 60 64 25 52 44 55 16 0 116 0 78 0 5-28-11-117 17-38 14-56zM9918 2355l-6 20 41 74 10 15 9-7 2-6 95-53 30 10 73-54-80-15-20-13-67-34-69 6 0 57zM9678 2355l-6 30 1 97-9 83-8 29 21 0 2-7 11-98-2-115 4-19zM9936 2717l21 2 99 24 5 0 105-3 51 11 80-3 43 10 73 1 55-13 52 7 24-3 104-10 43-11 67-10 120 15 13 0 0-10 0-34-112 9-26-3-82 13-13 3-80 7-55 2-27-1-44-6-20 4-124 0-4-1-122 4-13-3-32 1-84-39-114 14-3-1zM9936 3558l11-10-12-14-13 15 14 0zM10891 3549l-1 0 0-1 1 0 1 1 21 0-21-24-14 7-5 13 11 15 7 2zM10320 2375l-1 0-19-2 20 4 1 0 64-22z" fill="#1ce3ff" stroke="#1ce3ff"/><path d="M11161 2355l3 12-5 91 9 43-5 93 26 0 3-66-14-69 4-76-7-28zM10891 1859l-28-10-69 2-66-17-77-17-64-1-78 3-42-1-37-2-56-11-62 2-105 10-44-1-56 14-64 17-36-1-71 14 0 20 91-18 20 0 77-20 35-9 27 1 129-12 43-2 70 15 27 2 53 0 100-4 34 1 115 25 37 10 85-3 12 4zM11580 684l2-3 3-16 32-106 3-106 3-8-10 0-21 0-12 99-3 14-18 98-15 28zM11806 684l10-115 6-22 4-9 12-27 24 11 15 26 45 58 24 78 12 0 57 0-11-95-1-37-2-30-29-77-17 0-106 0-20 0-28 60-17 47-31 106-2 26zM12346 684l-37-34-49 34 45 0zM12874 684l-25-47 12-48-8-66-21-78-37 0-137 0-68 0 26 70-2 38 13 69-5 62 39 0 123 0zM13097 684l41-49 21-37 9-19 38-83 10-51-16 0-8 41-45 99-2 3-3 6-31 37-43 41-39 12 43 0zM9217 445l3 10 7 126 9 74 10 29 41 0-21-61-5-44-5-77-16-57zM8861 445l-7 11-10 3-40 124 5 26-4 75 60 0 1-25-13-69 18-57 65-17 25-42 12 54 7 15 26 123 2 18 47 0-6-61-12-56-27-62-13-60-36 0zM8166 445l-2 5-29 106-4 57-36-26-41-52 13-18 74-72-102 0-23 0-14 56-17 38 11 117-5 28 26 0 129 0 66 0-6-79 5-61 11-41 20-58zM7608 445l11 43 28 52 33 35 38 82 22 27 41 0-44-55-25-52-60-64-20-38-8-30zM8514 684l-2-5-6 0-6 0-1 5 7 0zM9664 2355l-9 41 2 79-8 68-14 51 21 0 8-29 9-83-1-97 6-30zM9936 2740l41 4 70 18 36 3 80-3 90 19 38-1 80 19 24 0 89-21 32 4 57-8 65-5 74-19 51-8 92 12 36-3 0-17-13 0-120-15-67 10-43 11-104 10-24 3-52-7-55 13-73-1-43-10-80 3-51-11-105 3-5 0-99-24-21-2zM9922 3549l13-15 12 14-11 10 0 16 31-26-34-41-36 42zM10891 3562l-7-2-11-15 5-13 14-7 21 24 20 0-39-46-28 14-11 25 22 30 14 3zM12734 494l46 64 3 19-4 16-14-5-99 20-12-59 6-90z" fill="#24dbff" stroke="#24dbff"/><path d="M11175 2355l7 28-4 76 14 69-3 66 26 0 2-38-20-96 3-61-11-44zM10891 1849l-44-17-53 2-95-26-39-8-94-2-57 3-30-1-48-2-41-9-81 3-81 8-60-1-78 19-51 14-53-2-50 10 0 20 71-14 36 1 64-17 56-14 44 1 105-10 62-2 56 11 37 2 42 1 78-3 64 1 77 17 66 17 69-2 28 10zM11544 684l15-28 18-98 3-14 12-99-26 0-7 65-9 48-13 73-29 53zM11946 684l-24-78-45-58-15-26-24-11-12 27-4 9-6 22-10 115 44 0zM13129 684l6-7 38-69 16-35 31-67 12-61-16 0-10 51-38 83-9 19-21 37-41 49zM9240 445l16 57 5 77 5 44 21 61 40 0-31-92-2-16-2-27-29-104zM8141 445l-74 72-13 18 41 52 36 26 4-57 29-106 2-5-8 0zM7592 445l14 55 35 68 6 6 42 89 10 21 1 0 40 0-22-27-38-82-33-35-28-52-11-43zM9008 684l-2-18-26-123-7-15-12-54-25 42-65 17-18 57 13 69-1 25 29 0 95 0zM9649 2355l-10 52 1 62-6 52-21 73 22 0 14-51 8-68-2-79 9-41zM9936 2764l61 6 42 10 66 6 54-2 120 25 4 1 3 1 92 21 17 4 50-13 55-14 12 2 90-12 27-2 104-27 35-6 64 9 59-5 0-17-36 3-92-12-51 8-74 19-65 5-57 8-32-4-89 21-24 0-80-19-38 1-90-19-80 3-36-3-70-18-41-4zM9897 3549l36-42 34 41-31 26 0 16 50-43-55-67-58 69zM10891 3575l-14-3-22-30 11-25 28-14 39 46 21 0-59-68-41 20-16 37 32 45 21 4zM12660 459l-6 90 12 59 99-20 14 5 4-16-3-19-46-64z" fill="#2cd3ff" stroke="#2cd3ff"/><path d="M11189 2355l11 44-3 61 20 96-2 38 25 0 1-11-26-122 3-45-14-61zM10891 1838l-60-23-37 2-124-34-1 0-124-2-35 1-19 0-58-3-27-5-100 4-57 4-77 0-99 24-38 10-69-1-30 6 0 19 50-10 53 2 51-14 78-19 60 1 81-8 81-3 41 9 48 2 30 1 57-3 94 2 39 8 95 26 53-2 44 17zM12343 1400l4 4 5 0 4-4-8 0zM11508 684l29-53 13-73 9-48 7-65-25 0-3 32-15 80-9 48-42 79zM13150 684l37-66 24-51 23-51 14-71-16 0-12 61-31 67-16 35-38 69-6 7 5 0zM9263 445l29 104 2 27 2 16 31 92 22 0 11 0-4-10-34-100-4-15-32-114zM7575 445l18 68 30 57 8 15 49 99 19 0-10-21-42-89-6-6-35-68-14-55zM8478 1400l6 4 3 0 3-1 1-3-5 0zM9635 2355l-12 63 0 44-4 38-27 94 21 0 21-73 6-52-1-62 10-52zM9936 2787l81 9 13 3 96 8 30-1 66 14 45 11 31 14 64 14 51 11 84-22 18-8 103-14 4-2 29-7 102-27 20-3 36 5 82-6 0-18-59 5-64-9-35 6-104 27-27 2-90 12-12-2-55 14-50 13-17-4-92-21-3-1-4-1-120-25-54 2-66-6-42-10-61-6zM9873 3549l58-69 55 67-50 43 0 16 70-60-77-92-81 95zM10891 3587l-21-4-32-45 16-37 41-20 59 68 21 0-79-91-54 27-22 50 43 59 28 6z" fill="#34cbff" stroke="#34cbff"/><path d="M11204 2355l14 61-3 45 26 122-1 11 11 0 10 0-5-30-22-102 2-30-18-77zM10891 1827l-77-29-20 1-72-19-40-16-16-19-95 20-48-1-13 0-6 0-69-3-13-3-119 5-32 2-94 0-121 29-25 7-85-2-10 2 0 20 30-6 69 1 38-10 99-24 77 0 57-4 100-4 27 5 58 3 19 0 35-1 124 2 1 0 124 34 37-2 60 23zM12356 1400l-4 4-5 0-4-4-24 0 26 24 24-1 26-23zM11472 684l42-79 9-48 15-80 3-32-23 0-2 0-1 6-19 106-5 23-21 40-23 64 23 0zM13169 684l31-56 32-67 16-35 16-81-16 0-14 71-23 51-24 51-37 66zM9286 445l32 114 4 15 34 100 4 10 24 0-12-30-28-81-13-49-23-79zM7559 445l21 80 21 41 18 34 42 84 19 0-49-99-8-15-30-57-18-68zM8491 1400l-1 3-3 1-3 0-6-4-41 0 33 21 19 1 21-2 5-20zM9621 2355l-15 74 1 26-3 23-33 116 21 0 27-94 4-38 0-44 12-63zM9936 2811l56 6 36-2 89 11 31 2 5 0 12 3 85 21 61 26 36 9 84 17 36-9 60-28 79-10 19-8 125-32 24-6 4-1 9 1 104-8 0-17-82 6-36-5-20 3-102 27-29 7-4 2-103 14-18 8-84 22-51-11-64-14-31-14-45-11-66-14-30 1-96-8-13-3-81-9zM8514 3549l-5-7-6 7 7 0zM9848 3549l81-95 77 92-70 60 0 16 89-76-58-71-23-36-15-10-28 14-69 96-9 10zM10891 3600l-28-6-43-59 22-50 54-27 79 91 20 0-97-113-68 33-27 62 54 74 34 7zM12373 3549l-40-22-14 0-10 12-5 10 12 0zM12313 3310l24 25 52-25-51 0z" fill="#3cc3ff" stroke="#3cc3ff"/><path d="M11218 2355l18 77-2 30 22 102 5 30 18 0-15-79-11-51 1-16-22-93zM10891 1816l-93-34-5 0-16-5-83-33-30-38-130 27-26-47-42 24-32 20-25 13-109 5-8 0-111 0-142 34-12 4-60-2-31 2 0 5 0 10 10-2 85 2 25-7 121-29 94 0 32-2 119-5 13 3 69 3 6 0 13 0 48 1 95-20 16 19 40 16 72 19 20-1 77 29zM12395 1400l-26 23-24 1-26-24-24 0 48 43 43-1 48-42zM11447 684l23-64 21-40 5-23 19-106 1-6-20 0-27 110 0 1-1 3-45 125zM13188 684l26-47 39-82 9-19 16-83 0-8-14 0-16 81-16 35-32 67-31 56zM9308 445l23 79 13 49 28 81 12 30 24 0-21-51-20-61-23-83-13-44zM7548 467l19 70 12 24 28 53 34 70 20 0-42-84-18-34-21-41-21-80-11 0zM8515 1400l-5 20-21 2-19-1-33-21-40 0-1 0 1 1 60 38 35 1 38-4 9-36zM9607 2355l-17 85 0 8-1 8-23 82-14 50-1 6 5 0 15 0 33-116 3-23-1-26 15-74zM9936 2834l1-1 94-4 111 13 16 12 76 20 89 38 8 2 60 12 41 48 21-20 3-21 83-38 54-7 34-14 129-33 24-12 25-2 86-6 0-18-104 8-9-1-4 1-24 6-125 32-19 8-79 10-60 28-36 9-84-17-36-9-61-26-85-21-12-3-5 0-31-2-89-11-36 2-56-6 0 21zM8828 3310l14 17 16-3 16-14-20 0zM8378 3310l12 19 37 31 32-50-62 0zM8138 3310l6 5 7 6 14-2-1-9-13 0zM8503 3549l6-7 5 7 22 0-41-54-45 54zM9823 3549l9-10 69-96 28-14 15 10 23 36 58 71-89 76 0 16 109-93-21-25-56-89-37-25-71 35-37 50-33 58 32 0zM10891 3612l-34-7-54-74 27-62 68-33 97 113 21 0-49-57-29-56-15-29-26 4-14 3-20 17-45 23-33 73 65 90 41 8zM12304 3549l5-10 10-12 14 0 40 22 61 0 23 0-5-21-22-32-51-28-52 1-38 45-17 35zM12669 3310l26 14 21-14-18 0zM12389 3310l-52 25-24-25-33 0 56 59 63-31 26 4 17-32-17 0zM11962 3310l15 10 14 2 10-12-20 0zM10081 1156l-3-19-16-69 0-1-8 4-97 61 98 62zM10806 1047l-8 0-14 9-30 87-5 21 27 37 76-61 6-36-18-49z" fill="#44bbff" stroke="#44bbff"/><path d="M11232 2355l22 93-1 16 11 51 15 79 18 0-25-128 0-1 0-1-25-109zM10891 1806l-89-34-13-15-82-32-46-58-72 14-33-59-13-27-7-27-70-54-52-20-17 1-70 15-44 37-7 92-68 75-7 16-15 0-96 24-66 16-1 1-87 6 0 9 31-2 60 2 12-4 142-34 111 0 8 0 109-5 25-13 32-20 42-24 26 47 130-27 30 38 83 33 16 5 5 0 93 34zM11806 1639l-54-40-42 40 43 0zM12932 1639l-3-2-1 1-2 1 3 0zM12434 1400l-48 42-43 1-48-43-24 0 70 62 63-1 38-33 22-28-23 0zM10891 1049l-76-17-20 0-37 23-23 64-11 49 62 88 32-25 73-55 0-45 0-78zM11423 684l45-125 1-3 0-1 27-110-21 0-23 95-6 15-15 40-31 89zM13208 684l20-37 46-98 2-3 2-14 0-79-16 83-9 19-39 82-26 47zM9331 445l13 44 23 83 20 61 21 51 24 0-29-72-14-41-32-117-3-9zM7548 530l5 20 4 6 38 72 27 56 19 0-34-70-28-53-12-24-19-70zM9936 1180l67 61 33 21 68-99-7-52-12-50-27-12-56-7-66 36 0 50zM8539 1400l-9 36-38 4-35-1-60-38-1-1-27 0 29 28 46 29 50 1 56-6 13-52zM9111 1639l-10-69-46 29-42 35-11 5 12 0 55 0zM9592 2355l-15 75-2 9-4 10-33 121-6 24 19 0 1-6 14-50 23-82 1-8 0-8 17-85zM9936 2850l18-3 80-4 95 11 36 28 53 13 73 32 27 79 47 82 37 26 49-21 37-35 17-114 46-21 30-4 48-21 93-23 58-29 61-4 50-4 0-17-86 6-25 2-24 12-129 33-34 14-54 7-83 38-3 21-21 20-41-48-60-12-8-2-89-38-76-20-16-12-111-13-94 4-1 1zM8874 3310l-16 14-16 3-14-17-48 0 38 49 48-9 45-40zM8459 3310l-32 50-37-31-12-19-37 0 35 56 101 83-5 10-75 90 53 0 45-54 41 54 23 0-73-95 1-4 59-118-3-22-13 0zM8164 3310l1 9-14 2-7-6-6-5-40 0 24 18 29 25 54-6-3-37zM9790 3549l33-58 37-50 71-35 37 25 56 89 21 25-109 93 0 9 0 7 9-5 111-95 6-3 5-4 1-13-13-10-63-102-60-39-102 50-6-1-9 5-2 14-58 98zM10891 3625l-41-8-65-90 33-73 45-23 20-17 14-3 26-4 15 29 29 56 49 57 13 0 13 0-9-30-37-74-37-69-64 10-32 7-51 42-7 3-37 86 75 104 48 10zM12272 3549l17-35 38-45 52-1 51 28 22 32 5 21 37 0-12-55-57-83 0-2 54-99-37 0-17 32-26-4-63 31-56-59-33 0 88 92 6-3 66 11-73 2-64 77-31 60zM12716 3310l-21 14-26-14-55 0 75 42 61-42zM12001 3310l-10 12-14-2-15-10-49 0 56 37 48 7 35-44zM10055 1194l-98-62 97-61 8-4 0 1 16 69 3 19zM10840 1055l18 49-6 36-76 61-27-37 5-21 30-87 14-9 8 0z" fill="#4cb3ff" stroke="#4cb3ff"/><path d="M11247 2355l25 109 0 1 0 1 25 128 18 0-17-89-8-39-14-47-15-64zM10891 1795l-77-29-32-36-62-25-62-77-13 2-6-10-34-69-5-20-22-46-31-2-66-16-54-20-77 6-77 16-43-3-22 59-9 86-2 24-14 15-21 65-131 31-14 15-81 6 0 10 87-6 1-1 66-16 96-24 15 0 7-16 68-75 7-92 44-37 70-15 17-1 52 20 70 54 7 27 13 27 33 59 72-14 46 58 82 32 13 15 89 34zM11710 1639l42-40 54 40 18 0 81 0-57-18-26-26-39-32-31-23-106 99zM12926 1639l2-1 1-1 3 2 136 0 12 0-11-14-130-80-45 62-64 23-21 9 21 0zM12464 1400l-22 28-38 33-63 1-70-62-24 0 91 82 83-3 22-18 49-61zM10891 1176l-73 55-32 25-62-88 11-49 23-64 37-23 20 0 76 17 0-17-67-15-32-1-61 38-15 42-18 77 56 79 2 28 37 42 33-5 22-40 43-32zM11400 684l31-89 15-40 6-15 23-95-21 0-19 81-12 27-29 79-18 52zM13227 684l15-27 36-78 0-31 0-16-2 14-2 3-46 98-20 37zM9354 445l3 9 32 117 14 41 29 72 9 0 11 0-3-8-10-34-21-51-7-21-20-74-15-51-16 0zM7548 578l35 65 20 41 19 0-27-56-38-72-4-6-5-20 0 24zM9936 1078l66-36 56 7 27 12 12 50 7 52-68 99-33-21-67-61 0 59 57 52 35 26 40-3 1-29-1-30 59-85-11-84-7-32-54-24-113-13-6 3zM8563 1400l-13 52-56 6-50-1-46-29-29-28-27 0 58 55 31 19 66 3 72-8 18-69zM8035 1639l-34-12-110-84-7-7-34-11-13 53-31 61 110 0 78 0zM9002 1639l11-5 42-35 46-29 10 69 71 0-5-35 1-70-24-61-38 23-18 26-13 12-83 67-76 38zM9578 2355l-9 44-8 28-12 31-26 93-10 43 19 0 6-24 33-121 4-10 2-9 15-75zM9936 2866l34-6 66-3 80 9 56 43 29 8 41 17 41 120 12 28 8 19 103 68 6 4 2-1 89-44 34-6-5-32 17-98 6-38 8-4 5 0 64-27 56-14 91-46 97-6 15-1 0-18-50 4-61 4-58 29-93 23-48 21-30 4-46 21-17 114-37 35-49 21-37-26-47-82-27-79-73-32-53-13-36-28-95-11-80 4-18 3zM8911 3310l-45 40-48 9-38-49-49 0 63 81 79-15 75-66zM8543 3310l3 22-59 118-1 4 73 95 22 0-29-39 5-68 28-55-8-77zM8304 3310l58 92 32 27-35 64-18 56 22 0 34 0 75-90 5-10-101-83-35-56zM8202 3310l3 37-54 6-29-25-24-18-39 0 40 32 51 43 95-10-4-65zM9755 3549l58-98 2-14 9-5 6 1 102-50 60 39 63 102 13 10-1 13-5 4-6 3-111 95-9 5 0 15 29-17 91-78 21-9 17-11 2-44-42-35-38-61-83-55-69 34-45-9-68 44-20 104-10 17zM10891 3638l-48-10-75-104 37-86 7-3 51-42 32-7 64-10 37 69 37 74 9 30 37 0-22-69-4-37-12-11-46-86-101 15-52 11-40 33-30 25-27 79 0 16 7 6 9 4 75 104 55 11zM12239 3549l31-60 64-77 73-2-66-11-6 3-88-92-32 0 42 45 29 66-35 42-44 86zM12532 3549l-20-89-30-44 17-75 18-31-38 0-54 99 0 2 57 83 12 55zM12750 3310l-61 42-75-42-55 0 124 70 52-36 40-26 14-8-19 0zM12052 3310l-35 44-48-7-56-37-48 0-1 0 1 0 0 1 1 0 95 63 82 12 60-76z" fill="#54abff" stroke="#54abff"/><path d="M11261 2355l15 64 14 47 8 39 17 89 17 0-9-47-14-81-30-94-4-17zM10891 1784l-64-24-51-57-43-17-48-60 31-52-16-30 25-70-98-32-16-33-64-4-20 0-8 6-94 1-81-5-41 3-27 6-96-7-27 74-43 8 30 48 4 9 11 91-19 61-99 23-26 29-75 5 0 10 81-6 14-15 131-31 21-65 14-15 2-24 9-86 22-59 43 3 77-16 77-6 54 20 66 16 31 2 22 46 5 20 34 69 6 10 13-2 62 77 62 25 32 36 77 29zM11646 1639l106-99 31 23 39 32 26 26 57 18 89 0 85 0 7 0-8-2-1 1-85-5-114-35-60-60-46-38-46-46-59-1-51-5-47 5-75-53-30 0-99 0-103 0 89 66 78-37-30 74 72 101 11 19 5 16 146 0zM12809 1639l21-9 64-23 45-62 130 80 11 14 80 0 59 0 59-73 0-40 0-126-71 0-70 12-10 2-88 35-35-19-66 57-56 59-22 30-31 12-123 51zM12492 1400l-49 61-22 18-83 3-91-82-24 0 56 50 47 52 10-1 1 0 10 0 92-3 5-4 76-94zM11110 1400l-56 53 51 58 27 53 111-73 1 0 1-1 8-50 6-40-98 0zM10891 1245l-43 32-22 40-33 5-37-42-2-28-56-79 18-77 15-42 61-38 32 1 67 15 0-17-58-13-44-1-85 52-6 19-25 106 34 49 3 66 89 98 76-11 16-28 0-70zM11376 684l18-52 29-79 12-27 19-81-20 0-16 66-18 41-43 116-5 16zM13246 684l9-17 23-49 0-39-36 78-15 27zM9376 445l15 51 20 74 7 21 21 51 10 34 3 8 18 0-7-22-28-88-1-3-1-2-1-5-33-119zM7548 615l23 42 13 27 19 0-20-41-35-65zM9936 1020l6-3 113 13 54 24 7 32 11 84-59 85 1 30-1 29-40 3-35-26-57-52 0 58 2 2 89 67 99-7 4-73-4-76 23-33-14-116-3-14-81-36-103-11-12 1 0 14zM9359 1400l-42 49-42 32-22-81-57 0-19 0-58 34-41 60-30 28-57 46-96 49-17 8-16-3-62 17 82 0 44 0 76-38 83-67 13-12 18-26 38-23 24 61-1 70 5 35 33 0 138 0 55 0 34-134 4-17 7-5 11-2 138-48 67-25-19 110-58 93 109-28-6-48 13-14 14-29-38-92-9 0-68 0-182 0zM8587 1400l-18 69-72 8-66-3-31-19-58-55-27 0 86 82 16 10 82 3 90-10 22-85zM7561 1639l92-48 40 48 64 0 49 0 31-61 13-53 34 11 7 7 110 84 34 12 83 0 21 0-21-3-2 0-99-35-80-60-43-47-62-19-25-40-83-35-36 0-140 0 0 90 0 149zM9564 2355l-3 13-13 46-21 52-18 67-15 61 19 0 10-43 26-93 12-31 8-28 9-44zM9936 2883l50-10 53-2 64 7 77 59 5 1 8 3 8 23 51 111 29 75 30 20 102 42 51-12 44-21 85-15-11-82 16-94 8-29 28-11 20-5 125-63 101-6 11 0 0-11 0-7-15 1-97 6-91 46-56 14-64 27-5 0-8 4-6 38-17 98 5 32-34 6-89 44-2 1-6-4-103-68-8-19-12-28-41-120-41-17-29-8-56-43-80-9-66 3-34 6zM9422 3310l28 31-19 90 9 40-16 78 35 0 119 0 9-34 43-84 11-50 40-20 19-51-19 0-119 0-72 0zM8948 3310l-75 66-79 15-63-81-12 0-113 0-29 0 8 77-28 55-5 68 29 39 16 0 113 0 5 0-1-9-75-104 98-55 33 42 110-22 105-91zM8241 3310l4 65-95 10-51-43-40-32-35 0-9 0 8 3 54 43 73 62 126-14 3 13 22 64-23 68 63 0 18-56 35-64-32-27-58-92-31 0zM7564 3549l-3-8-13-127 0 135zM9721 3549l10-17 20-104 68-44 45 9 69-34 83 55 38 61 42 35-2 44-17 11-21 9-91 78-29 17 0 15 50-29 70-60 35-15 30-20 3-75-71-59-13-21-105-69-37 18-84-18-127 82-2 14-67 117 96 0zM10891 3650l-55-11-75-104-9-4-7-6 0-16 27-79 30-25 40-33 52-11 101-15 46 86 12 11 4 37 22 69 18 0 139 0 100 0 31 0-18-31-59-107 62-42 22-37 41-22-76 0-110 0-125 0-28 0-14 39-25-23-7-11-137 21-72 15-20 17-67 56-19 55-1 52 26 21 28 13 61 85 62 13zM12207 3549l44-86 35-42-29-66-42-45-26 0-77 0-9 0-60 76-82-12-95-63-1 0 0-1-1 0-52 0 28 18 18 4 34 29 61 40 68 10 41 62 109 73 59-109 0-2 2 3-1 0-57 111zM12574 3549l-21-77-10-46-3-4 4-19 35 13 94 15 15-19 6-14 93-59 50-29-48 0-14 8-40 26-52 36-124-70-25 0-17 0-18 31-17 75 30 44 20 89 32 0zM13278 3485l-4 64 4 0zM13237 3310l13 29 28 77 0-106z" fill="#5ca3ff" stroke="#5ca3ff"/><path d="M11275 2355l4 17 30 94 14 81 9 47 18 0-1-5-22-122-29-93-6-19-12 0zM10891 1773l-52-19-70-79-23-9-26-32 33-54 2-27 29-17 36-90 65-12 63-3 50 36 53 61 35 68 39 43 15 0 129 0 69 0 117 0 32 0-5-16-11-19-72-101 30-74-78 37-89-66-1 0-2 0-6 40-8 50-1 1-1 0-111 73-27-53-51-58 56-53-129 0-90 0 0-48-16 28-76 11-89-98-3-66-34-49 25-106 6-19 85-52 44 1 58 13 0-17-50-12-56-1-101 63-3 1-2 1-3 3-3 22-26 108 14 19 4 104 10 11-15-5-70 20-38-1-69 52-67 1-119-8-21-21-83-70-2-79-13-24-17-128-4-13-8-4-6-2-96-43-85-9-26 3 0 15 12-1 103 11 81 36 3 14 14 116-23 33 4 76-4 73-99 7-89-67-2-2 0 3 0 100-97 0-155 0 38 92-14 29-13 14 6 48-109 28 58-93 19-110-67 25-138 48-11 2-7 5-4 17-34 134 66 0 89 0 155 0 29 0-8-63 63-65 39-80 54 17 42-33 76-2 13 15 69 113 19 43 8 60-13 40-65 16-39 43-69 4 0 10 75-5 26-29 99-23 19-61-11-91-4-9-30-48 43-8 27-74 96 7 27-6 41-3 81 5 94-1 8-6 20 0 64 4 16 33 98 32-25 70 16 30-31 52 48 60 43 17 51 57 64 24zM12215 1639l21-110 98-9 17 2 92-3 88 22 42 98 15 0 101 0 17 0 123-51 31-12 22-30 56-59 66-57 35 19 88-35 10-2 70-12-74 0-113 0-49 0-33 29-105 110-6 7-1 0-136 61-80 7-45-83-14-33-58-30 54-68-27 0-76 94-5 4-92 3-10 0-1 0-10 1-47-52-56-50-1 0-55 0 14 75 1 36-10 91-95-19-40 17-55-2-74-23-85-85-7-5-97-85-19 0-80 0-126 0 75 53 47-5 51 5 59 1 46 46 46 38 60 60 114 35 85 5 1-1 8 2 119 0zM13278 1566l-59 73 59 0zM11352 684l5-16 43-116 18-41 16-66-21 0-13 51-23 54-33 90-9 36-3 8 10 0zM13265 684l4-7 9-20 0-39-23 49-9 17zM9399 445l33 119 1 5 1 2 1 3 28 88 7 22 17 0-11-35-26-83-11-57-18-64zM7548 652l11 20 6 12 19 0-13-27-23-42zM9253 1400l22 81 42-32 42-49-39 0zM9103 1400l-45 66-46 44-32 25-53 27-57 30-57-12-77 21-48 1-27-94-6-82-15-26-11 0-18 0-22 85-90 10-82-3-16-10-86-82-27 0 0 3 5 2 109 104 2 1 98 3 70-8 41 112 21 22 12 0 74 0 80 0 62-17 16 3 17-8 96-49 57-46 30-28 41-60 58-34-56 0zM7724 1400l83 35 25 40 62 19 43 47 80 60 99 35 2 0 21 3 120 0 17 0-3-93-40 70-116-15-25-5-60-21-49-37-80-85-34-11-26-42-35 0zM7693 1639l-40-48-92 48 103 0zM9548 2355l-13 47-29 72-11 40-20 80 19 0 15-61 18-67 21-52 13-46 3-13-6 0zM9936 2899l66-12 40-2 48 6 65 49 2 20 27 55 25 52 17 44-22 80 69 27 47-6 94 39 89-21 11-1 36-6 100-18-18-131 8-45 9-33 0-34 130-65 82-5 30 1 0-19-11 0-101 6-125 63-20 5-28 11-8 29-16 94 11 82-85 15-44 21-51 12-102-42-30-20-29-75-51-111-8-23-8-3-5-1-77-59-64-7-53 2-50 10zM9700 3310l-19 51-40 20-11 50-43 84-9 34 29 0 11 0 67-117 2-14 127-82 84 18 37-18 105 69 13 21 71 59-3 75-30 20-35 15-70 60-50 29 0 15 71-41 49-42 49-22 42-28 6-105-66-54 4-29-29-59-106 7-20-14-4 2-19-4-102 0zM9287 3310l17 47 25 44 9 32-1 116 10 0 77 0 16-78-9-40 19-90-28-31-67 0zM8985 3310l-105 91-110 22-33-42-98 55 75 104 1 9 72 0-8-84 70-30 39-8 13-11 90-82 59-24-64 0zM7942 3310l76 30 37 29 95 81 15-2 8 30 37 71 33 0 35 0 23-68-22-64-3-13-126 14-73-62-54-43-8-3zM7548 3414l13 127 3 8 103 0-21-62-6-54 41-33 61-90-83 0-111 0 0 87zM10891 3663l-62-13-61-85-28-13-26-21 1-52 19-55 67-56 20-17 72-15 137-21 7 11 25 23 14-39-40 0-140 0-5 1-90 18-2 2-103 87-11 31-2 88 44 36 47 22 48 67 69 13zM11481 3549l-17-29 13-98 11-19 15-8 37-50 43-35-73 0-95 0-41 22-22 37-62 42 59 107 18 31zM12174 3549l57-111 1 0-2-3 0 2-59 109-109-73-41-62-68-10-61-40-34-29-18-4-28-18-51 0 54 36 36 7 67 57 27 17 30 5 57 86 7 31 34 0zM12633 3549l-8-30 29 4 60-72 23-53 62-39 85-49-47 0-50 29-93 59-6 14-15 19-94-15-35-13-4 19 3 4 10 46 21 77zM13274 3549l4-64 0-52 0-17-28-77-13-29-79 0-61 0 37 33 25 67-4 109 7 15-1 15zM10891 3189l-16 9-95-8-10-8-12 18 33 71 21 42 79-9 0-82z" fill="#649bff" stroke="#649bff"/><path d="M11292 2355l6 19 29 93 22 122 1 5 2 0 19 0-9-35-17-91-20-64-16-49zM10891 1763l-40-15-89-100-3-1-4-5 5-8 8-73 78-49 11-26 18-3 19-1 57 41 60 20 2 4 83 92 29 0-39-43-35-68-53-61-50-36-63 3-65 12-36 90-29 17-2 27-33 54 26 32 23 9 70 79 52 19zM12232 1639l18-92 82-7 34 3 75-2 72 17 34 81 26 0-42-98-88-22-92 3-17-2-98 9-21 110zM12923 1400l-98 115-58 20-75 34-45 4-25-47-46-104-13-7 12-15-28 0-54 68 58 30 14 33 45 83 80-7 136-61 1 0 6-7 105-110 33-29-34 0zM12110 1400l2 12 2 90-3 33-34-7-81 35-25-1-33-11-38-38-71-47-75-66-35 0 97 85 7 5 85 85 74 23 55 2 40-17 95 19 10-91-1-36-14-75zM10891 980l-41-9-68-1-78 48-29 11-14 2-25 29-16 107-2 12-61 89-9 22-36 15-65 49-40 1-71-5-63-64-5-4 0-5-50-93-11-84-19-64-40-21-29-8-76-34-67-7-40 5 0 15 26-3 85 9 96 43 6 2 8 4 4 13 17 128 13 24 2 79 83 70 21 21 119 8 67-1 69-52 38 1 70-20 15 5-10-11-4-104-14-19 26-108 3-22 3-3 2-1 3-1 101-63 56 1 50 12zM11332 684l3-8 9-36 33-90 23-54 13-51-21 0-9 37-29 67-6 14-26 98-6 23zM13278 657l-9 20-4 7 13 0zM9421 445l18 64 11 57 26 83 11 35 18 0-15-49-23-72-23-118zM7565 684l-6-12-11-20 0 32zM9064 1400l-26 39-63 59-6 4-9 5-98 52-97-21-3 1-2 0-1-4 0-3-75-132-44 0 15 26 6 82 27 94 48-1 77-21 57 12 57-30 53-27 32-25 46-44 45-66zM8256 1400l-1 88-29 21-39 67-71-9-47-10-22-8-18-13-116-125-7-2-6-9-57 0 26 42 34 11 80 85 49 37 60 21 25 5 116 15 40-70 3 93 31 0-3-90 83 6 29-24 39-1 49 1 32-3 19 50 57 61 22 0-21-22-41-112-70 8-98-3-2-1-109-104-5-2 0-3zM9786 1639l-3-23 44-44 23-59 21-3 68-53 46-2 42 49 24 40 34 76 3 29-6 20-32 8-52 56-62 5 0 9 69-4 39-43 65-16 13-40-8-60-19-43-69-113-13-15-76 2-42 33-54-17-39 80-63 65 8 63zM9531 2355l-10 35-37 93-4 13-6 26-17 59-2 13 19 0 1 0 20-80 11-40 29-72 13-47zM7549 2594l-1-2 0 2zM9936 2915l82-15 27-1 32 4 44 33 4 47 39 77-111 92-16-9-101-11 0 78 0 100-23 0 19 4 4-2 20 14 106-7 29 59-4 29 66 54-6 105-42 28-49 22-49 42-71 41 0 15 91-53 30-25 63-27 54-37 7-135-22-19 14-88-12-24 29-35 62 18 19 8 123-16 20 9 20-5 96-11 89-15 15 69 16 31 34 30-26 22-3 8-2 124 61 51 67 31 35 48 75 15 0-13-69-13-48-67-47-22-44-36 2-88 11-31 103-87 2-2 90-18 5-1-5 0 0-6-79 9-21-42-33-71 12-18 10 8 95 8 16-9 0-79-55 33-44-4-104-70-7-4-3-100 101-51 63-4 49 3 0-20-30-1-82 5-130 65 0 34-9 33-8 45 18 131-100 18-36 6-11 1-89 21-94-39-47 6-69-27 22-80-17-44-25-52-27-55-2-20-65-49-48-6-40 2-66 12zM9171 3310l52 22 38 67 24 86-1 64 53 0 1-116-9-32-25-44-17-47-53 0zM9050 3310l-59 24-90 82-13 11-39 8-70 30 8 84 73 0-2-21 27-12 25-47 15-45 71-65 120-49zM7742 3310l-61 90-41 33 6 54 21 62 33 0 35 0-14-69 4-32 79-115 69-11 6-5 14 3 120 47 20 16 56 48 29 46 10 61 5 11 77 0-37-71-8-30-15 2-95-81-37-29-76-30-63 0-79 0zM11540 3549l-1-73 47-68 3-7 2-3 64-71 19-17-36 0-55 0-43 35-37 50-15 8-11 19-13 98 17 29 29 0zM12039 3549l-7-31-57-86-30-5-27-17-67-57-36-7-54-36-52 0 81 53 54 11 83 70 4 18 20 87 11 0zM12691 3549l49-58 40-92 31-20 120-69-47 0-85 49-62 39-23 53-60 72-29-4 8 30 16 0zM13161 3549l1-15-7-15 4-109-25-67-37-33-72 0-74 0 63 10 25 27 57 50 9 26-2 58 2 68 41 0z" fill="#6c93ff" stroke="#6c93ff"/><path d="M13278 2561l-9 33 9 0zM11309 2355l16 49 20 64 17 91 9 35 21 0-19-75-9-50-12-36-26-78zM10891 1752l-27-10-68-76-24-23 8-74 93-58 126 41 5 19 62 68 30 0-83-92-2-4-60-20-57-41-19 1-18 3-11 26-78 49-8 73-5 8 4 5 3 1 89 100 40 15zM12249 1639l15-74 66-6 51 5 58-2 56 14 27 63 25 0-34-81-72-17-75 2-34-3-82 7-18 92zM12894 1400l-72 85-113 39-16 7-9 0-5-9-15-34-58-88-23 0-8 0-12 15 13 7 46 104 25 47 45-4 75-34 58-20 98-115zM12076 1400l-11 85-101 41-7-2-115-77-53-47-35 0 75 66 71 47 38 38 33 11 25 1 81-35 34 7 3-33-2-90-2-12-11 0zM10891 963l-32-7-80-2-54 33-55 21-26 5-49 55-7 47-4 47-35 50-23 57-94 41-21 16-13 0-23-2-22-22-69-69-25-47-6-39-33-116-73-38-52-13-56-26-49-5-54 7 0 15 40-5 67 7 76 34 29 8 40 21 19 64 11 84 50 93 0 5 5 4 63 64 71 5 40-1 65-49 36-15 9-22 61-89 2-12 16-107 25-29 14-2 29-11 78-48 68 1 41 9zM11316 684l6-23 26-98 6-14 29-67 9-37-20 0-6 22-20 46-7 23-3 14-26 97-10 37zM9444 445l23 118 23 72 15 49 17 0-19-62-19-61-20-102-4-14zM9025 1400l-7 11-22 20-56 44-41 27-45 24-37-8-60-67-30-51-43 0 75 132 0 3 1 4 2 0 3-1 97 21 98-52 9-5 6-4 63-59 26-39zM8224 1400l-1 63-67 47-14 25-27-3-34-7-27-7-115-118-23 0-16 0 6 9 7 2 116 125 18 13 22 8 47 10 71 9 39-67 29-21 1-88zM8338 1639l-1-36 33 3 63-54 73-2 84 89 22 0-57-61-19-50-32 3-49-1-39 1-29 24-83-6 3 90zM9814 1639l44-114 61-10 23-17 15-1 29 35 37 18 33 105-64 69-56 4 0 10 62-5 52-56 32-8 6-20-3-29-34-76-24-40-42-49-46 2-68 53-21 3-23 59-44 44 3 23 22 0zM9514 2355l-6 22-32 81-10 22-3 8-23 81-5 25 20 0 2-13 17-59 6-26 4-13 37-93 10-35zM7548 2592l1 2 14 0-15-44zM9936 2932l98-19 14 0 16 2 23 17 6 73 24 47-67 55-110-64-4-17 0 17 0 89 101 11 16 9 111-92-39-77-4-47-44-33-32-4-27 1-82 15zM9116 3310l-120 49-71 65-15 45-25 47-27 12 2 21 24 0 31 0 19-37 33-97 34-31 73-30 53-4 59 42 5 2 2 3 39 139 0 13 52 0 1-64-24-86-38-67-52-22-40 0zM7786 3549l-2-9 12-109 19-28 16-3 47-35 112 23 17 7 3 2 9 7 62 100 8 45 36 0 8 0-5-11-10-61-29-46-56-48-20-16-120-47-14-3-6 5-69 11-79 115-4 32 14 69zM9936 3729l112-64 9-8 77-34 66-45 3-44 53-34 9-64 38-32 46-7 67-36 109-31 11 96 12 4 3 7 64 100 7 10 0 2 79 66 87 40 21 29 49 10 33 11 0-15 0-2-75-15-35-48-67-31-61-51 2-124 3-8 26-22-34-30-16-31-15-69-89 15-96 11-20 5-20-9-123 16-19-8-62-18-29 35 12 24-14 88 22 19-7 135-54 37-63 27-30 25-91 53zM11582 3549l42-101 25-47 37-41 20-18 59 39 72 14 33 28 22 102 6 24 53 0-20-87-4-18-83-70-54-11-81-53-15 0-20 0-19 17-64 71-2 3-3 7-47 68 1 73 41 0zM12750 3549l15-19 55-123 3-8 98-49 53 8 69 74 12 53 2 64 48 0-2-68 2-58-9-26-57-50-25-27-63-10-17 0-3 0-120 69-31 20-40 92-49 58zM10891 2913l-49-3-63 4-101 51 3 100 7 4 104 70 44 4 55-33 0-20 0-158zM10891 2932l-26 130-64 26-92-50-2-71 72-36 45-3z" fill="#748bff" stroke="#748bff"/><path d="M13269 2594l9-33 0-49-24 82zM11326 2355l26 78 12 36 9 50 19 75 22 0-30-114-2-10-2-7-36-108zM10891 1741l-15-6-37-41-53-52 7-65 82-51 112 36 9 32 40 45 30 0-62-68-5-19-126-41-93 58-8 74 24 23 68 76 27 10zM12267 1639l11-57 50-4 67 7 42-1 40 10 19 45 26 0-27-63-56-14-58 2-51-5-66 6-15 74zM12866 1400l-47 54-90 31-57-34-34-51-32 0 58 88 15 34 5 9 9 0 16-7 113-39 72-85zM12047 1400l-8 59-70 28-45-13-68-46-33-28-34 0 53 47 115 77 7 2 101-41 11-85zM10891 946l-23-5-93-2-29 18-82 31-38 6-63 72-5 6-5 28-4 45-8 11-37 93-110 47-98-109-1-9-43-151-105-55-75-20-36-17-32-3-68 8 0 16 54-7 49 5 56 26 52 13 73 38 33 116 6 39 25 47 69 69 22 22 23 2 13 0 21-16 94-41 23-57 35-50 4-47 7-47 49-55 26-5 55-21 54-33 80 2 32 7zM11300 684l10-37 26-97 3-14 7-23 20-46 6-22-21 0-2 8-7 15-15 52-8 31-22 82-13 51zM9460 445l4 14 20 102 19 61 19 62 18 0-23-75-17-51-16-84-8-29zM8968 1400l-62 49-58 38-79-87-16 0-26 0 30 51 60 67 37 8 45-24 41-27 56-44 22-20 7-11-15 0zM8192 1400l-1 37-70 51-17 7-53-13-79-82-33 0 115 118 27 7 34 7 27 3 14-25 67-47 1-63zM8373 1639l76-66 56-1 63 67 22 0-84-89-73 2-63 54-33-3 1 36 21 0zM9827 1639l40-101 75-13 71 35 30 93-57 62-50 3 0 10 56-4 64-69-33-105-37-18-29-35-15 1-23 17-61 10-44 114zM9497 2355l-3 10-14 36-29 66-10 22-19 68-7 37 20 0 5-25 23-81 3-8 10-22 32-81 6-22zM7548 2550l15 44 13 0-28-86zM9936 3026l4 17 110 64 67-55-24-47-6-73-23-17-16-2-14 0-98 19 0 5zM7852 3549l-14-54 8-59 32-24 61 13 32 40 43 17 31 49 3 18 41 0-8-45-62-100-9-7-3-2-17-7-112-23-47 35-16 3-19 28-12 109 2 9 7 0zM8967 3549l43-135 8-4 105-9 23 17 17 64 17 67 39 0 13 0 0-13-39-139-2-3-5-2-59-42-53 4-73 30-34 31-33 97-19 37 39 0zM9936 3744l107-62 14-4 13-3 40-21 39-17 26-17 56-17 41-30 20-31 35-12 20-58 71-32 83 32 39 69 16 26 40 17 32 2 61 50 106 49 7 10 17 4 72 23 0-17-33-11-49-10-21-29-87-40-79-66 0-2-7-10-64-100-3-7-12-4-11-96-109 31-67 36-46 7-38 32-9 64-53 34-3 44-66 45-77 34-9 8-112 64zM11636 3549l22-54 48-91 11-12 6-5 17 11 47 10 15 32 12 109 64 0 20 0-6-24-22-102-33-28-72-14-59-39-20 18-37 41-25 47-42 101zM12812 3549l7-41 41-92 48-24 26 4 34 36 16 74 13 43 39 0 21 0-2-64-12-53-69-74-53-8-98 49-3 8-55 123-15 19 27 0zM10824 2928l-45 3-72 36 2 71 92 50 64-26 26-130zM10051 2927l1 0 10 101 8 16-23 19-38-22-12-47 46-66 7-1zM10844 2948l-15 77-37 15-54-29-1-42 41-21 27-2z" fill="#7c83ff" stroke="#7c83ff"/><path d="M13254 2594l24-82 0-21 0-32-6 23-1 7-3 10-28 95zM11344 2355l36 108 2 7 2 10 30 114 21 0-25-94-11-32-11-33-27-80zM10891 1730l-3-1-7-8-82-79 6-57 72-45 98 32 13 45 19 22 29 0-40-45-9-32-112-36-82 51-7 65 53 52 37 41 15 6zM12284 1639l8-39 34-3 84 10 25-1 24 6 12 27 25 0-19-45-40-10-42 1-67-7-50 4-11 57zM12837 1400l-20 24-40 14-63-38-58 0-18 0 34 51 57 34 90-31 47-54zM12018 1400l-4 33-39 15-83-23-23-16-11-9-35 0 33 28 68 46 45 13 70-28 8-59zM10891 929l-14-3-105-3-6 4-107 41-51 8-45 52-33 37-9 59-4 17-35 87-87 38-78-87-12-81-22-76-137-72-98-26-16-7-14-2-82 10 0 15 68-8 32 3 36 17 75 20 105 55 43 151 1 9 98 109 110-47 37-93 8-11 4-45 5-28 5-6 63-72 38-6 82-31 29-18 93 2 23 5zM11284 684l13-51 22-82 8-31 15-52 7-15 2-8-11 0-8 0-17 60-13 47-18 67-17 65zM9476 445l8 29 16 84 17 51 23 75 18 0-28-89-13-40-13-67-11-43zM8901 1400l-29 23-27 18-37-41-39 0 79 87 58-38 62-49zM8160 1400l0 12-23 17-59 23-29-7-45-45-32 0 79 82 53 13 17-7 70-51 1-37zM8413 1639l52-45 38-1 44 46 21 0-63-67-56 1-76 66zM9841 1639l34-89 67-11 62 30 26 82-50 54-44 3 0 10 50-3 57-62-30-93-71-35-75 13-40 101zM9479 2355l-43 98-16 37-15 54-10 50 20 0 7-37 19-68 10-22 29-66 14-36 3-10-13 0zM7548 2508l28 86 13 0-41-128zM7920 3549l-5-21 12 16 14 5 79 0 28 0-3-18-31-49-43-17-32-40-61-13-32 24-8 59 14 54zM9049 3549l16-50 45-18 18 68 52 0-17-67-17-64-23-17-105 9-8 4-43 135zM9936 3759l83-48 39-11 35-10 67-34 86-17 18-5 4-3 43-68 77-27 8-23 27-12 32 12 23 42 34 28 29 24 29 12 65 4 41 34 95 44 24 9 15 3 81 26 0-17-72-23-17-4-7-10-106-49-61-50-32-2-40-17-16-26-39-69-83-32-71 32-20 58-35 12-20 31-41 30-56 17-26 17-39 17-40 21-13 3-14 4-107 62zM11690 3549l2-7 11-20 7 14 1 13 103 0-12-109-15-32-47-10-17-11-6 5-11 12-48 91-22 54zM12877 3549l18-107 32 107 70 0-13-43-16-74-34-36-26-4-48 24-41 92-7 41zM10050 2927l-7 1-46 66 12 47 38 22 23-19-8-16-10-101-1 0zM10805 2946l-27 2-41 21 1 42 54 29 37-15 15-77zM10798 2965l-5 23-11 4-16-9 0-12 12-6 8 0z" fill="#837cff" stroke="#837cff"/><path d="M13240 2594l28-95 3-10 1-7 6-23 0-56-16 64-5 18-8 27-24 82zM11361 2355l27 80 11 33 11 32 25 94 21 0-14-53-26-76-26-76-11-34zM10891 1718l-78-77 5-48 61-39 83 28 17 57 1 0 27 0-19-22-13-45-98-32-72 45-6 57 82 79 7 8 3 1 0-2zM12302 1639l4-21 18-1 100 11 9-1 8 2 4 10 26 0-12-27-24-6-25 1-84-10-34 3-8 39zM12714 1400l63 38 40-14 20-24-23 0zM11989 1400l-1 6-7 3-33-9-73 0-17 0 11 9 23 16 83 23 39-15 4-33zM10891 911l-5-1-46-1-66-5-16 4-16 6-89 33-63 10-27 32-60 68-7 45-10 41-26 65-65 28-57-65-23-153 0-1-170-89-105-28-10-2-6 0-7 2-81 10 0 15 82-10 14 2 16 7 98 26 137 72 22 76 12 81 78 87 87-38 35-87 4-17 9-59 33-37 45-52 51-8 107-41 6-4 105 3 14 3zM11267 684l17-65 18-67 13-47 17-60-16 0-13 44-17 65-14 51-21 79zM9493 445l11 43 13 67 13 40 28 89 17 0-32-102-9-30-10-50-15-57zM8808 1400l37 41 27-18 29-23-59 0zM8077 1400l-26 10-5-1-9-9-33 0 45 45 29 7 59-23 23-17 0-12-16 0zM8454 1639l28-24 20 0 23 24 22 0-44-46-38 1-52 45zM9854 1639l30-76 57-10 53 26 23 70-43 47-38 3 0 9 44-3 50-54-26-82-62-30-67 11-34 89zM9458 2355l-38 84-22 53-11 40-12 62 20 0 10-50 15-54 16-37 43-98zM7548 2466l41 128 14 0-42-129-6-20-7-29 0 29zM7941 3549l-14-5-12-16 5 21 4 0zM9128 3549l-18-68-45 18-16 50 48 0zM9936 3774l59-34 64-18 57-16 53-27 85-17 17 0 24-23 35-55 91-33 57 47 62 52 5 3 1 0 10 2 86 5 21 18 49 23 78 29 46 9 55 18 0-18-81-26-15-3-24-9-95-44-41-34-65-4-29-12-29-24-34-28-23-42-32-12-27 12-8 23-77 27-43 68-4 3-18 5-86 17-67 34-35 10-39 11-83 48zM11711 3549l-1-13-7-14-11 20-2 7 7 0zM12927 3549l-32-107-18 107 24 0zM10786 2965l-8 0-12 6 0 12 16 9 11-4 5-23z" fill="#8b74ff" stroke="#8b74ff"/><path d="M13225 2594l24-82 8-27 5-18 16-64 0-48-2 0-24 96-8 29-13 45-21 69zM11379 2355l11 34 26 76 26 76 14 53 21 0-3-13-41-119-35-101-2-6-4 0zM10891 1704l-65-63 4-40 51-32 69 22 14 48 15 0-17-57-83-28-61 39-5 48 78 77zM12319 1639l0-3 3 0 27 3 83 0 13 0-4-10-8-2-9 1-100-11-18 1-4 21zM11948 1400l33 9 7-3 1-6-7 0zM10891 892l-7 0-106-8-36 8-39 14-55 21-75 12-10 11-87 100-5 29-16 66-17 42-42 18-38-42-14-100 7-40-15-29-21-5-93-42-77-40-48-13-60-14-35-2-49 15-17 2 0 15 81-10 7-2 6 0 10 2 105 28 170 89 0 1 23 153 57 65 65-28 26-65 10-41 7-45 60-68 27-32 63-10 89-33 16-6 16-4 66 5 46 1 5 1 0-9zM11251 684l21-79 14-51 17-65 13-44-17 0-8 29-22 81-10 35-17 68-9 26 11 0zM9509 445l15 57 10 50 9 30 32 102 18 0-36-115-6-20-7-33-19-71zM8037 1400l9 9 5 1 26-10-32 0zM8495 1639l3-3 2 0 3 3 22 0-23-24-20 0-28 24zM9867 1639l25-64 48-8 45 22 19 59-36 39-32 2 0 10 38-3 43-47-23-70-53-26-57 10-30 76zM9437 2355l-32 71-28 67-7 26-15 75 20 0 12-62 11-40 22-53 38-84zM7548 2416l7 29 6 20 42 129 13 0-28-89-19-61-21-87zM9936 3790l34-20 90-26 79-23 38-19 62-12 37-1 50-49 23-35 58-21 37 30 40 33 46 28 15 3 98 19 6 1 1 1 3 1 131 49 78 16 29 9 0-17-55-18-46-9-78-29-49-23-21-18-86-5-10-2-1 0-5-3-62-52-57-47-91 33-35 55-24 23-17 0-85 17-53 27-57 16-64 18-59 34z" fill="#936cff" stroke="#936cff"/><path d="M13210 2594l21-69 13-45 8-29 24-96-14 0-20 80-12 41-17 62-17 56zM11396 2355l2 6 35 101 41 119 3 13 7 0 16 0-13-29-37-107-26-74-8-29zM10891 1691l-52-50 4-33 40-25 55 18 11 38 15 0-14-48-69-22-51 32-4 40 65 63zM12349 1639l-27-3-3 0 0 3 3 0zM10891 869l-23 2-86-6-57 11-61 22-21 8-49 8-31 5-16 5-27 36-71 82-3 15-22 90-8 20-20 8-17-19-7-47 14-80-29-59-43-10-155-70-14-4-3-1-98-22-65-4-43 13 0 19 0 4 17-2 49-15 35 2 60 14 48 13 77 40 93 42 21 5 15 29-7 40 14 100 38 42 42-18 17-42 16-66 5-29 87-100 10-11 75-12 55-21 39-14 36-8 106 8 7 0zM11233 684l9-26 17-68 10-35 22-81 8-29-17 0-4 13-26 99-5 19-10 38-22 70zM9525 445l19 71 7 33 6 20 36 115 11 0 6 0 0-4-12-36-28-89-3-9-3-15-22-86zM8503 1639l-3-3-2 0-3 3 5 0zM9881 1639l20-52 38-6 36 17 15 48-28 32-26 1 0 10 32-2 36-39-19-59-45-22-48 8-25 64zM9416 2355l-26 57-34 82-4 13-17 87 20 0 15-75 7-26 28-67 32-71zM7548 2357l21 87 19 61 28 89 13 0-15-48-31-102-18-74-3-15-14 0zM9936 3805l10-6 115-33 101-29 23-12 39-8 56-1 78-75 10-16 26-9 16 13 17 15 88 54 29 5 82 16 31 10 50 13 71 26 111 23 2 1 0-18-29-9-78-16-131-49-3-1-1-1-6-1-98-19-15-3-46-28-40-33-37-30-58 21-23 35-50 49-37 1-62 12-38 19-79 23-90 26-34 20zM10891 4241l-11 8-27 16 38 0z" fill="#9b64ff" stroke="#9b64ff"/><path d="M13196 2594l17-56 17-62 12-41 20-80-14 0-17 64-15 52-22 80-13 43zM11416 2355l8 29 26 74 37 107 13 29 23 0-32-69-24-70-16-48-16-52zM10891 1677l-38-37 2-24 30-18 41 13 8 28 15 0-11-38-55-18-40 25-4 33 52 50zM10891 845l-39 5-66-5-78 15-68 25-7 2-71 12-52 15-88 120-45-88-63-14-78-35-85-29-22-5-78-18-95-5-20 6 0 26 43-13 65 4 98 22 3 1 14 4 155 70 43 10 29 59-14 80 7 47 17 19 20-8 8-20 22-90 3-15 71-82 27-36 16-5 31-5 49-8 21-8 61-22 57-11 86 6 23-2zM11215 684l22-70 10-38 5-19 26-99 4-13-14 0-2 0-12 45-19 68-1 4-2 8-36 114zM10780 445l1 1 87 21 17 5 16-27-16 0-104 0zM9542 445l22 86 3 15 3 9 28 89 12 36 0 4 17 0-1-16-41-124-1-2-1-4-25-93zM9894 1639l15-39 30-5 27 13 11 36-22 24-19 2 0 9 26-1 28-32-15-48-36-17-38 6-20 52zM9395 2355l-20 44-39 93-2 3-19 96-1 3 4 0 17 0 17-87 4-13 34-82 26-57zM7562 2355l3 15 18 74 31 102 15 48 14 0-3-8-43-142-14-58-6-31zM9936 3863l20-33 82-36 24-6 123-35 9-5 14-3 76-2 86-83 15-10 116 71 42 7 58 11 65 22 104 26 2 1 4 1 85 31 30 33 0-60 0-1-2-1-111-23-71-26-50-13-31-10-82-16-29-5-88-54-17-15-16-13-26 9-10 16-78 75-56 1-39 8-23 12-101 29-115 33-10 6 0 6zM10031 4265l-95-50 0 50zM10853 4265l27-16 11-8 0-63-40 31-95 56z" fill="#a35cff" stroke="#a35cff"/><path d="M12772 2594l1-1-70-123-24-28 19-87-38 0-16 0 3 96 0 11 12 109 4 23 18 0zM13181 2594l13-43 22-80 15-52 17-64-15 0-12 49-18 63-27 97-9 30zM11435 2355l16 52 16 48 24 70 32 69 24 0-52-110-11-32-7-22-22-75zM10891 1664l-25-24 2-16 19-12 27 9 5 18 15 0-8-28-41-13-30 18-2 24 38 37zM10891 822l-54 6-47-3-99 20-50 18-25 6-54 10-89 25-50 68-25-50-85-19-157-53-40-9-57-13-117-7-6-5 0 7 0 23 20-6 95 5 78 18 22 5 85 29 78 35 63 14 45 88 88-120 52-15 71-12 7-2 68-25 78-15 66 5 39-5zM11196 684l36-114 2-8 1-4 19-68 12-45-16 0-28 105-2 7-13 34-29 93zM10901 445l-16 27-17-5-87-21-1-1-38 0 18 15 21 13 69 17 35 11 32-56zM9915 445l6 15 13-7 115 8 20-16-23 0-125 0zM9558 445l25 93 1 4 1 2 41 124 1 16 17 0-2-28-35-104-11-20-10-43-12-44zM9907 1639l11-27 20-3 18 9 8 24-15 17-13 1 0 10 19-2 22-24-11-36-27-13-30 5-15 39zM9374 2355l-14 30-27 65-18 43-16 81-8 20 23 0 1-3 19-96 2-3 39-93 20-44zM8085 2355l-22 90-3 26 6 39 14 84 52 0 21 0 1-17 12-107 0-32-4-83-26 0zM7577 2355l6 31 14 58 43 142 3 8 2 0 21 0-9-15-12-22-35-114-9-41-10-47zM8961 2594l4-30-47 30 34 0zM9936 3952l7-15 7-9 39-64 59-26 30-21 116-39 9-7 44 0 42-1 21-21 88-59 88 54 56 9 33 6 92 31 7 2 75 19 26 19 54 19 42 48 20 33 0-32 0-45-30-33-85-31-4-1-2-1-104-26-65-22-58-11-42-7-116-71-15 10-86 83-76 2-14 3-9 5-123 35-24 6-82 36-20 33 0 70zM9936 4215l95 50 11 0 154 0 71 0 49 0-49-4-69 0-4-2-126-26-21-10-85-57-26-14zM10756 4265l95-56 40-31 0-5 0-91-49 73-19 15-48 28-48 42-93 13-11 4-36 8 44 0 111 0zM11838 2594l-5-5-1 5 1 0z" fill="#ab54ff" stroke="#ab54ff"/><path d="M12822 2594l15-82-4-15-14-44-57-67 7-31-71 0-19 87 24 28 70 123-1 1zM13167 2594l9-30 27-97 18-63 12-49-14 0-8 33-22 75-32 113-5 18zM12616 2355l2 68-1 49 8 63 10 59 28 0-4-23-12-109 0-11-3-96zM11845 2355l-22 122-2 6-4 19-12 92 27 0 1-5 5 5 153 0-9-9 12-4 2-133 0-15-15-78-7 0-112 0zM11455 2355l22 75 7 22 11 32 52 110 23 0-56-120-10-23-3-3-4-15-23-78zM10891 1650l-11-11 0-7 9-6 12 4 3 9 15 0-5-18-27-9-19 12-2 16 25 24zM10891 799l-70 8-27-2-120 24-31 11-43 12-39 6-125 36-11 16-6-12-20-4-56-12-29-3-64-17-89-29-58-14-37-9-76-4-54-42 0 52 6 5 117 7 57 13 40 9 157 53 85 19 25 50 50-68 89-25 54-10 25-6 50-18 99-20 47 3 54-6zM11178 684l29-93 13-34 2-7 28-105-16 0-25 93-4 18-31 79-15 49zM10917 445l-32 56-35-11-69-17-21-13-18-15-39 0 37 29 41 26 52 13 52 17 48-85zM10069 445l-20 16-115-8-13 7-6-15-16 0 20 55 50-23 84 5 46-37zM9574 445l12 44 10 43 11 20 35 104 2 28 17 0-2-40-29-85-21-37-19-77-1 0zM9921 1639l5-15 11-1 10 4 4 14-8 9-7 0 0 10 13-1 15-17-8-24-18-9-20 3-11 27zM9353 2355l-8 17-15 35-34 83-14 67-14 37 23 0 8-20 16-81 18-43 27-65 14-30zM8842 2355l-9 67 6 39 9 109-2 24 31 0 41 0 47-30-4 30 44 0 9-66-10-28-18-132-4-13-16 0-107 0zM8162 2355l4 83 0 32-12 107-1 17 36 0 3-45 8-68-1-68-3-58zM8016 2355l-2 7-6 117-10 106-2 9 9 0 75 0-14-84-6-39 3-26 22-90zM7591 2355l10 47 9 41 35 114 12 22 9 15 27 0-22-34-26-48-21-69-6-25-12-63zM9936 4152l26 14 85 57 21 10 126 26 4 2 69 0 49 4 104 0 128 0 39 0 36-8 11-4 93-13 48-42 48-28 19-15 49-73 0-76 0-76-20-33-42-48-54-19-26-19-75-19-7-2-92-31-33-6-56-9-88-54-88 59-21 21-42 1-44 0-9 7-116 39-30 21-59 26-39 64-7 9-7 15 0 83 0 99zM10179 4215l-83-17-44-21-74-50-34-87-3-6 34-76 41-50 6-11 10-4 64-45 86-29 32-26 74 1 17-4 20-2 87-58 59 37 70 11 9 2 26 8 99 34 51 13 53 38 17 6 13 14 44 73 26 43-77 114-12 17-80 70-69 10-39 14-57 14-108 0-16 2-15-2-135-11-58 0z" fill="#b34cff" stroke="#b34cff"/><path d="M12872 2594l6-34-15-75-34-107-6-23-16 0-38 0-7 31 57 67 14 44 4 15-15 82zM13152 2594l5-18 32-113 22-75 8-33-14 0-5 17-24 86-37 131-1 5zM12587 2355l1 41 0 87 2 17 17 94 28 0-10-59-8-63 1-49-2-68zM11981 2355l15 78 0 15-2 133-12 4 9 9 4 0 33 0 0-56 1-85-1-65-6-33zM11824 2355l-17 93-7 26-17 77-6 43 28 0 12-92 4-19 2-6 22-122zM11474 2355l23 78 4 15 3 3 10 23 56 120 19 0 29 0-27-7-55-125-21-28-22-79-4 0zM10904 1639l-3-9-12-4-9 6 0 7 11 11 0-11zM10891 753l-53 29-33 3-8 0-140 28-13 5-61 16-22 4-91 26-42 9-55-12-58-6-129-34-20-6-76-19-17-3-35-2-102-80 0 53 54 42 76 4 37 9 58 14 89 29 64 17 29 3 56 12 20 4 6 12 11-16 125-36 39-6 43-12 31-11 120-24 27 2 70-8 0-11zM11159 684l15-49 31-79 4-18 25-93-16 0-22 81-6 29-48 124-2 5zM10933 445l-48 85-52-17-52-13-41-26-37-29-38 0 55 44 61 39 34 8 71 23 64-114zM10099 445l-46 37-84-5-50 23-20-55-17 0 35 96 87-41 53 3 72-58zM9590 445l19 77 21 37 29 85 2 40 17 0-3-52-22-65-32-55-16-67zM9934 1639l1-2 1 0 2 0 0 2-1 1-1 0 0 10 7 0 8-9-4-14-10-4-11 1-5 15zM9331 2355l-1 3-3 7-51 122-10 52-22 55 24 0 14-37 14-67 34-83 15-35 8-17zM8982 2355l4 13 18 132 10 28-9 66 44 0 4-31-27-75-14-103-9-30zM8793 2355l-3 29 13 100 5 53-5 57 43 0 2-24-9-109-6-39 9-67zM8196 2355l3 58 1 68-8 68-3 45 35 0 6-73 3-29-2-105-1-32zM7988 2355l-17 67-4 62-4 53-14 57 47 0 2-9 10-106 6-117 2-7-3 0zM7606 2355l12 63 6 25 21 69 26 48 22 34 26 0-33-53-41-75-7-24-2-9-16-78zM10213 4237l58 0 135 11 15 2 16-2 108 0 57-14 39-14 69-10 80-70 12-17 77-114-26-43-44-73-13-14-17-6-53-38-51-13-99-34-26-8-9-2-70-11-59-37-87 58-20 2-17 4-74-1-32 26-86 29-64 45-10 4-6 11-41 50-34 76 3 6 34 87 74 50 44 21 83 17zM10165 4171l-40-9-67-31-19-13-9-22-38-83 16-34 24-30 34-36 49-35 55-18 54-44 62 0 43-9 50-6 46-31 32 20 48 7 24 2 12 3 47 20 87 30 27 6 45 32 44 73 36 59-26 39-56 74-52 46-45 6-68 25-40 9-77 1-42 5-38-5-108-10-47 1z" fill="#bb44ff" stroke="#bb44ff"/><path d="M12941 2594l-31-38-17-83-14-45-21-73-35 0 6 23 34 107 15 75-6 34 36 0zM13138 2594l1-5 37-131 24-86 5-17-14 0-1 1-28 98-30 108-30 32 31 0zM12559 2355l0 14 0 44-9 41-7 26 9 30 15 20 12 64 28 0-17-94-2-17 0-87-1-41zM12022 2355l6 33 1 65-1 85 0 56 31 0 5 0-2-25 1-88 0-24-1-60 7-42-17 0zM11804 2355l-12 63-13 47-27 121-6 2-141-34-36-82-40-51-18-66-18 0 22 79 21 28 55 125 27 7 135 0 24 0 6-43 17-77 7-26 17-93zM10891 684l-1 1-101 63-14 13-129 30-8 3-31 12-41 11-6 1-25 7-103 22-30-6-87-10-113-29-29-14-90-15-10-11-107-85-49-88-19 15-72 71-2 4-35 5 40 0 107 0 0 27 102 80 35 2 17 3 76 19 20 6 129 34 58 6 55 12 42-9 91-26 22-4 61-16 13-5 140-28 8 0 33-3 53-29zM11140 684l2-5 48-124 6-29 22-81-16 0-18 69-9 39-38 99-38-6-98 17-103-63-5 84 101 0 145 0zM10950 445l-64 114-71-23-34-8-61-39-55-44-31 0-18 0 18 5 66 54 81 51 16 4 89 29 80-143zM10129 445l-72 58-53-3-87 41-35-96-17 0 51 137 123-59 21 1 99-79zM9605 445l16 67 32 55 22 65 3 52 17 0-4-63-16-47-41-72-14-57zM9936 1640l1 0 1-1 0-2-2 0-1 0-1 2 2 0zM9313 2355l-14 28-42 101-7 38-29 72 23 0 22-55 10-52 51-122 3-7 1-3-4 0zM9003 2355l9 30 14 103 27 75-4 31 37 0 26 0-19-7-6-1-40-110-10-74-14-47zM8744 2355l-2 13 24 136 1 8-7 82 43 0 5-57-5-53-13-100 3-29-36 0zM8230 2355l1 32 2 105-3 29-6 73 36 0 5-68 5-16 3-12-4-15-4-58-1-63 0-7zM7963 2355l-36 134-2 7-24 98 48 0 14-57 4-53 4-62 17-67zM7620 2355l16 78 2 9 7 24 41 75 33 53 26 0-45-72-43-80-13-39-9-48zM10228 4213l47-1 108 10 38 5 42-5 77-1 40-9 68-25 45-6 52-46 56-74 26-39-36-59-44-73-45-32-27-6-87-30-47-20-12-3-24-2-48-7-32-20-46 31-50 6-43 9-62 0-54 44-55 18-49 35-34 36-24 30-16 34 38 83 9 22 19 13 67 31 40 9zM10152 4126l-71-32-38-96 13-14 56-60 22-15 24-9 77-61 48 0 69-15 80-10 6-3 4 2 6 1 62 4 32 8 123 52 11 3 3 1 5 4 19 31 77 114-29 32-51 67-24 21-21 3-96 35-24 6-45 0-68 9-61-9-83-7-35 1-89-60z" fill="#c33cff" stroke="#c33cff"/><path d="M13102 2594l30-32 30-108 28-98 1-1-2 0-22 0-1 34-17 61-18 63-76 80 0 1-131-131-3-4-14-55-14-49-35 0 21 73 14 45 17 83 31 38 114 0zM12518 2355l-10 47-20 68 24 75 37 49 3 0 27 0-12-64-15-20-9-30 7-26 9-41 0-44 0-14-14 0zM12069 2355l-7 42 1 60 0 24-1 88 2 25 65 0-9-86-1-49 5-47 10-57zM11783 2355l-6 34-18 67-14 61-60 20-67-15-17-40-58-74-14-53-18 0 18 66 40 51 36 82 141 34 6-2 27-121 13-47 12-63zM10893 684l5-84 103 63 98-17 38 6 38-99 9-39 18-69-16 0-15 57-12 50-25 65-79-13-37 6-45-28-41-48 50-89-16 0-80 143-89-29-16-4-81-51-66-54-18-5-81 0-78 0 72 5 7 2 6 1 90 26 48 39 94 60 4 11 42 36 2 46-49 30-36 35-88 20-33 13-60 22-89 24-30 6-5-1-116-13-66-17-70-33-70-11-74-78-8-5-4-7 15-18 37-99 85-64 25-7 80-14 85-9-84 0-105 0-3 0-99 79-21-1-123 59-51-137-16 0 40 108-72 39-11 11-21 40-75 9-3-43-9-27-52-90-11-47-15 0 14 57 41 72 16 47 4 63 5 0 89 0 35-5 2-4 72-71 19-15 49 88 107 85 10 11 90 15 29 14 113 29 87 10 30 6 103-22 25-7 6-1 41-11 31-12 8-3 129-30 14-13 101-63 1-1zM9295 2355l-31 64-26 63-5 23-25 63-71-23-44-13-24-67-6-46-20-64-20 0 14 47 10 74 40 110 6 1 19 7 96 0 13 0 29-72 7-38 42-101 14-28zM8694 2355l-13 68 8 45 14 81 7 45 17 0 33 0 7-82-1-8-24-136 2-13zM8264 2355l0 7 1 63 4 58 4 15-3 12-5 16-5 68 26 0 15 0 15-49 13-55-16-69-4-66-36 0zM7937 2355l-24 91-25 32-24 91-93 24-57-90-33-61-24-77-2-10-12 0-8 0 9 48 13 39 43 80 45 72 26 0 113 0 17 0 24-98 2-7 36-134zM10154 4129l89 60 35-1 83 7 61 9 68-9 45 0 24-6 96-35 21-3 24-21 51-67 29-32-77-114-19-31-5-4-3-1-11-3-123-52-32-8-62-4-6-1-4-2-6 3-80 10-69 15-48 0-77 61-24 9-22 15-56 60-13 14 38 96 71 32zM10157 4082l-42-19-23-58 58-62 8-11 88-71 35 0 94-19 65-8 51 3 52 13 101 43 22 35 73 109-79 85-27 10-96 35-7 2-14 0-93 12-85-12-56-5-24 0-60-40z" fill="#cb34ff" stroke="#cb34ff"/><path d="M13143 2355l-2 72-6 18-5 20-24 24-50 64-95-96-17-18-21-84-22 0-8 0 14 49 14 55 3 4 131 131 0-1 76-80 18-63 17-61 1-34zM12452 2355l6 23-24 81 38 121 10 14 67 0-37-49-24-75 20-68 10-47-48 0zM12134 2355l-10 57-5 47 1 49 9 86 64 0-1-8-3-127 8-74 9-30-22 0zM11763 2355l-1 5-24 87 0 2-29 9-79 29-73-93-11-39-17 0 14 53 58 74 17 40 67 15 60-20 14-61 18-67 6-34zM11170 445l-12 45-14 61-12 31-73-13-23-4-16-42-39-46 18-32-17 0-50 89 41 48 45 28 37-6 79 13 25-65 12-50 15-57zM10351 445l-85 9-80 14-25 7-85 64-37 99-15 18 4 7 8 5 74 78 70 11 70 33 66 17 116 13 5 1 30-6 89-24 60-22 33-13 88-20 36-35 49-30-2-46-42-36-4-11-94-60-48-39-90-26-6-1-7-2-72-5-61 0zM9832 445l28 77-60 33-47 38-8 14-21 2-1-12-2-8-62-107-9-37-15 0 11 47 52 90 9 27 3 43 75-9 21-40 11-11 72-39-40-108zM9277 2355l-49 101-9 23-2 9-10 23-26-8-81-25-10-25-2-17-25-81-20 0 20 64 6 46 24 67 44 13 71 23 25-63 5-23 26-63 31-64zM8643 2355l-1 5-36 102 22 84 8 48 74 0-7-45-14-81-8-45 13-68zM8309 2355l4 66 16 69-13 55-15 49 56 0 5-15 24-98-29-123 0-3zM7911 2355l-12 48-49 64-17 64-65 16-39-62-23-43-17-54-6-33-28 0 2 10 24 77 33 61 57 90 93-24 24-91 25-32 24-91zM10198 4124l60 40 24 0 56 5 85 12 93-12 14 0 7-2 96-35 27-10 79-85-73-109-22-35-101-43-52-13-51-3-65 8-94 19-35 0-88 71-8 11-58 62 23 58 42 19zM10162 4038l-14-6-8-20 20-21 41-63 55-44 22 0 120-25 41-5 33 2 71 18 65 27 47 77 43 64-46 50-93 35-28 10-14 3-21 9-72 9-109-16-29-2-13 0-32-21zM10137 719l-57-60 11-52 25-66 45-34 52-15 52-8 89-10 40-9 107 7 40 14 32 6 57 16 30 25 59 37 32 83 0 8-51 49-49 11-58 23-42 15-89 24-34 8-71-3-40-5-19-5-111-51z" fill="#d32cff" stroke="#d32cff"/><path d="M13119 2355l-3 75-4 13-55 69-60-60-29-33-16-64-29 0 21 84 17 18 95 96 50-64 24-24 5-20 6-18 2-72zM12206 2355l-9 30-8 74 3 127 1 8 6 0 114 0-4-16 9-11 9 17 4 10 126 0 25 0-10-14-38-121 24-81-6-23-161 0zM11712 2355l-20 61-73 27-48-62-7-26-18 0 11 39 73 93 79-29 29-9 0-2 24-87 1-5-4 0zM11154 445l-9 33-15 69-74-14-34-88-15 0-8 0-18 32 39 46 16 42 23 4 73 13 12-31 14-61 12-45zM9815 445l17 46-36 20-49 39-22 15-54-93-6-27-15 0 9 37 62 107 2 8 1 12 21-2 8-14 47-38 60-33-28-77zM9259 2355l-50 104-89-26-15-6-22-72-20 0 25 81 2 17 10 25 81 25 26 8 10-23 2-9 9-23 49-101zM8524 2355l-3 121-3 8 3 13-7 97 103 0 19 0-8-48-22-84 36-102 1-5-1 0zM8357 2355l0 3 29 123-24 98-5 15 24 0 81 0 9-23 29-85-44-92-6-39-91 0zM7886 2355l-2 5-72 96-10 36-37 9-22-35-13-24-10-31-10-56-27 0 6 33 17 54 23 43 39 62 65-16 17-64 49-64 12-48zM10241 4119l32 21 13 0 29 2 109 16 72-9 21-9 14-3 28-10 93-35 46-50-43-64-47-77-65-27-71-18-33-2-41 5-120 25-22 0-55 44-41 63-20 21 8 20 14 6zM10187 727l111 51 19 5 40 5 71 3 34-8 89-24 42-15 58-23 49-11 51-49 0-8-32-83-59-37-30-25-57-16-32-6-40-14-107-7-40 9-89 10-52 8-52 15-45 34-25 66-11 52 57 60zM10263 4092l-76-73 24-43 34-52 22-17 9 0 145-31 18-2 15 1 90 23 28 12 73 118 13 19-14 15-28 10-79 28-39 8-59 25-14 2-132-19-4 0-1 0-4-3zM10165 692l-34-36 24-107 2-7 4-3 78-22 24-4 41-4 88-20 81 6 74 25 58 11 22 6 13 10 24 16 13 33-7 80-8 9-8 2-83 32-25 9-54 14-75 18-85-4-15-3-33-15-90-42z" fill="#db24ff" stroke="#db24ff"/><path d="M13095 2355l-2 51-13 37-22 28-25-25-41-47-12-44-28 0 16 64 29 33 60 60 55-69 4-13 3-75zM11654 2355l-10 30-35 13-24-30-3-13-18 0 7 26 48 62 73-27 20-61zM11138 445l-5 21-10 44-48-9-21-56-32 0 34 88 74 14 15-69 9-33zM9799 445l5 15-12 6-16 13-58 41-34-58-4-17-15 0 6 27 54 93 22-15 49-39 36-20-17-46zM9241 2355l-29 60-50-15-51-22-7-23-21 0 22 72 15 6 89 26 50-104zM8450 2355l6 39 44 92-29 85-9 23 27 0 25 0 7-97-3-13 3-8 3-121-42 0zM7856 2355l-63 64-19 26-3 8-8 2-5-8-4-6-2-7-14-79-28 0 10 56 10 31 13 24 22 35 37-9 10-36 72-96 2-5-3 0zM12331 2594l-4-10-9-17-9 11 4 16 7 0zM10284 4113l4 3 1 0 4 0 132 19 14-2 59-25 39-8 79-28 28-10 14-15-13-19-73-118-28-12-90-23-15-1-18 2-145 31-9 0-22 17-34 52-24 43 76 73zM10194 696l90 42 33 15 15 3 85 4 75-18 54-14 25-9 83-32 8-2 8-9 7-80-13-33-24-16-13-10-22-6-58-11-74-25-81-6-88 20-41 4-24 4-78 22-4 3-2 7-24 107 34 36zM10192 664l-10-10 8-37 56-48 39 39-14-68 119-26 55 3 107 37 61 11 4 83-35 32-33 13-9 3-17 5-118 27-48-2-40-9-89-39-27-12zM10233 4026l45-82 19-10 142-32 95 25 12 5 67 106-70 25-64 14-50 21-51-3-86-13z" fill="#e31cff" stroke="#e31cff"/><path d="M13071 2355l-1 28-15 42-40-46-6-24-29 0 12 44 41 47 25 25 22-28 13-37 2-51zM11582 2355l3 13 24 30 35-13 10-30-55 0zM11122 445l-2 9-4 19-21-3-9-25-32 0 21 56 48 9 10-44 5-21zM9754 445l-44 31-14-24-1-7-15 0 4 17 34 58 58-41 16-13 12-6-5-15-8 0zM9224 2355l-8 15-13-4-26-11-64 0-9 0 7 23 51 22 50 15 29-60zM7826 2355l-51 52-9-52-28 0 14 79 2 7 4 6 5 8 8-2 3-8 19-26 63-64zM10201 666l27 12 89 39 40 9 48 2 118-27 17-5 9-3 33-13 35-32-4-83-61-11-107-37-55-3-119 26 14 68-39-39-56 48-8 37 10 10zM10292 4082l86 13 51 3 50-21 64-14 70-25-67-106-12-5-95-25-142 32-19 10-45 82zM10279 4033l12-21 76-40 72-16 49 12 62 26 16 26-17 5-89 20-26 11-118-6-22-3zM10388 538l29 1 140 49 13 2 1 19-20 18-62 16-45 42-51 12-11 0-13-3-23-45-20-98z" fill="#eb14ff" stroke="#eb14ff"/><path d="M13047 2355l0 4-2 6-6-7-1-3-29 0 6 24 40 46 15-42 1-28zM11086 445l9 25 21 3 4-19 2-9-12 0zM9695 445l1 7 14 24 44-31-49 0zM9177 2355l26 11 13 4 8-15-6 0zM7796 2355l-2 3-1-3-27 0 9 52 51-52zM10294 4047l22 3 118 6 26-11 89-20 17-5-16-26-62-26-49-12-72 16-76 40-12 21zM10326 551l20 98 23 45 13 3 11 0 51-12 45-42 62-16 20-18-1-19-13-2-140-49-29-1zM10447 4012l-6 2-2 0-9 0 7-3 3-1 2 0zM10387 562l2 0 15 5-10 3-7 7-4-7-1-7z" fill="#f30cff" stroke="#f30cff"/><path d="M13038 2355l1 3 6 7 2-6 0-4-4 0zM7793 2355l1 3 2-3-2 0zM10442 4010l-2 0-3 1-7 3 9 0 2 0 6-2zM10382 563l1 7 4 7 7-7 10-3-15-5-2 0z" fill="#ff00ff" stroke="#ff00ff"/></g><path transform="scale(.1)" d="M13156 445l-3 14-16 35-36 21-79 16-56-86M7876 445l-18 55-81 36-97-91M9738 2355l-14 7-7 0 0-7M10289 1885l33-7 93 12 7 0 15-4 69 0 49-1 79 46 84 15 43 59 31 5 42 22 1 97-62 32-65 10-76 18-60 38-9 7-8 2-150 3-16-3-86-2-112-9-21-17-59-37-39-53-23-91-1-17 71-81 47-19 123-25M10577 2449l58 35 10 9 57 57 60 30-68 42-26 6-57 23-89 3-53-3-45 8-91 2-42-20-54-1-59 3-105-67 29-64 64 10 31-19 67-31 23-26 29 6 71 5 47 3 18 2 24-1 67-8 34-4M11163 2355l3 14-5 89 10 46-5 90M11576 684l3-6 7-35 25-84 3-113 1-1M12008 684l-12-105-1-27-2-22-31-85M12334 684l-26-24-34 24M12858 684l-20-39 14-57-10-79-16-64M13202 445l-9 42-44 98-2 4-5 9-52 62-20 19-17 5M12598 445l23 61-3 47 17 82-4 49M11834 445l-30 64-16 42-27 97-4 36M9220 445l4 16 7 120 9 70 11 33M8874 445l-10 18-17 4-37 117 6 31-4 69M8022 445l-15 59-15 34 12 129-3 17M7777 684l-42-52-26-56-58-60-20-39-8-32M8201 684l-4-66 5-73 14-48 17-52M9050 684l-6-56-14-63-24-57-14-63M9936 1878l89-18 22 0 75-19 37-10 29 1 127-12 45-1 68 14 28 1 52 1 98-4 37 1 110 24 41 11 83-3 14 5M9653 2594l9-32 10-81-2-95 6-31M9919 3549l16-18 14 17-13 12M10891 3563l-8-1-12-17 6-14 16-8 22 26M10891 2736l-16 1-116-16-65 10-47 13-100 9-27 3-50-7-59 14-68 0-46-11-76 2-56-12-101 4-9-1-96-23-23-3M11203 2355l14 60-2 46 25 121 0 12M12355 1400l-4 4-4 0-4-4M11473 684l42-78 9-49 14-79 4-33M13248 445l-15 71-23 51-24 50-37 67M9285 445l33 115 4 14 34 101 3 9M7680 684l-49-99-7-15-31-58-17-67M8490 1400l0 3-3 0-3 0-5-3M9936 1821l31-6 68 2 39-10 98-25 77 1 57-5 99-4 28 6 58 3 19 0 35-1 124 1 2 1 123 33 37-1 60 22M9593 2594l26-94 5-38-1-44 12-63M9849 3549l80-95 76 92-69 59M10891 3599l-27-5-43-59 21-49 54-27 78 90M10891 2785l-81 6-37-4-20 3-105 27-26 6-4 2-104 14-16 7-85 23-50-10-65-15-31-14-44-11-67-14-30 1-96-8-13-3-81-9M11244 2355l25 106 0 3 2 11 23 119M11721 1639l32-30 40 30M12459 1400l-17 22-41 35-60 2-66-59M10891 1164l-54 40-53 43-56-79 11-45 23-68 34-21 17 1 78 17M11404 684l33-95 13-34 5-12 24-98M13278 519l-5 25-2 6-46 96-21 38M9350 445l4 15 31 111 15 45 28 68M7626 684l-29-58-36-69-5-9-8-28M9936 1087l76-40 47 5 23 10 12 54 6 46-61 88-49-31-54-49M8559 1400l-13 49-52 6-48-1-48-31-24-23M9016 1639l76-49 7 49M9936 1778l81-5 7 0 1 0 160-40 41 1 18-45 46-50 5-60 81-71 29-5 7-1 21 8 94 73 5 20 10 19 38 68 81-17 44 55 85 34 10 11 91 34M9535 2594l5-21 34-125 3-7 2-6 16-80M8905 3310l-41 35-42 9-34-44M8537 3310l2 13-41 82-22 35-98-81-31-49M8196 3310l2 33-47 5-26-22-20-16M8406 3549l78-94 71 94M9761 3549l64-109 1-1 106-52 56 37 67 108 8 6 0 8-3 3-4 1-115 98-5 3M10891 3635l-47-9-73-101 37-84 13-7 45-37 30-6 57-9 33 61 45 91 5 15M12245 3549l28-56 60-71 83-3 8 5 53 76 11 49M12744 3310l-54 38-66-38M12473 3310l-50 90-72-12-16 8-82-86M12043 3310l-31 39-41-6-50-33M10891 2835l-56 4-55 4-52 26-99 25-46 19-34 5-52 24-15 99-54 51-28 11-20-14-60-103-20-61-79-33-57-15-32-25-99-11-82 3-15 3M11286 2355l3 10 32 102 20 109 4 18M11134 1639l-15-17-51-99-79-91-24-17-77 3-80 16-44 109-12 8-2 12-41 68 33 41 29 12 64 72 56 21M12581 1639l-44-104-93-23-97 4-12-2-103 9-23 116M12539 1400l-68 84 72 38 5 10 50 96 92-9 88-40 50-20 9-4 7-9 94-99 54-47M11708 1400l56 49 41 41 10 9 83 83 87 27 65 3 28-12 114 24 11-110-1-20-17-94M11338 684l1-4 4-16 41-113 22-50 13-56M13278 645l-13 29-6 10M9414 445l24 85 7 37 27 86 10 31M7571 684l-9-17-14-26M9936 991l22-3 90 10 99 45 1 1 11 91 7 46 1 2 0 15 5 88-3 42 58 7 50 42 7 7 135 9 75-1 50-38 70 2 26-7 116 38-77-85-4-92-20-29 30-125 1-4 100-62 53 1 52 12M9815 1400l6 14-48 100-48 49 9 76M8627 1400l-4 15 7 85 36 122 62-1 101-28 44 10 44-24 66-33 40-32 41-39 52-75M7824 1400l34 52 42 14 69 73 58 44 73 26 17 3 130 16 18-31 2 42M8640 1639l-9-11-48-130-82 9-93-3-6-4-105-100M9936 1751l71-5 35-39 75-18 15-47-9-69-14-32-83-137-4-5-86 3-7 6-24-8M9481 2594l18-74 14-48 26-66 14-51M9841 3310l81 17 13-7 83 54 38-2 10 21-2 10 80 66-5 95-38 26-45 19-56 48-64 37M9029 3310l-40 17-61 55-43 37-126 25-4 1 9 104M7715 3310l-41 61-63 51 8 82 15 45M8234 3549l-9-19-25-96-50 6-88-75-42-33-55-22M9358 3549l2-11-6-30 1-91-4-16-13-21-24-70M10891 3671l-66-13-53-72-41-20-38-31 1-77 14-38 92-78 7-6 85-17 56-9M12070 3549l-1-3-79-121-42-6-38-25-57-48-30-6-46-30M13197 3549l3-48-26-48 2-47-29-80-18-16M12869 3310l-74 42-71 46-18 41-46 55-63-9 17 64M11545 3310l-20 17-18 25-55 29-38 66-5 38 36 64M10891 3244l-21 2-17-33 34 3 4-3M10891 2887l-24-1-88 6-140 70 1 10-13 44-11 61 16 115-121 21-10 5-88 21-116-49-24 3-34-13 10-41-27-69-39-85-16-32-1-12-71-54-54-7-44 2-61 12M13261 2594l17-60M11336 2355l31 94 7 20 5 29 25 96M11050 1639l-50-56-8-25-118-39-87 54-7 70 39 38 51 57 21 8M12508 1639l-22-53-48-12-50 2-59-7-57 5-13 65M12624 1400l61 94 22 13 113-39 59-68M11808 1400l42 37 89 60 28 7 84-33 9-71M11291 684l12-44 24-90 6-23 11-39 13-29 3-14M9469 445l6 22 18 92 17 56 22 69M9936 947l61-7 40 4 46 20 64 18 90 47 41 143 2 15 10 18 87 86 17 19 120-52 31-77 20-28 6-66 2-15 61-69 33-6 69-26 41-25 87 2 27 6M8751 1400l2 3 95 105 2 0 2-1 70-46 77-61M7957 1400l96 99 59 14 3 0 2 1 2-3 87-62 1-49M8578 1639l-73-77-64 1-80 70-6-1 0 7M9936 1723l53-4 60-65-32-99-74-36-80 13-42 107M7548 2527l22 67M9424 2594l6-32 21-74 7-15 20-46 22-57 5-15M8066 3549l-5-30-51-83-20-7-14-18-98-20-50 38-14 95 6 25M9204 3549l-7-26-30-115-42-30-91 8-30 12-15 13-42 125-7 13M10891 3714l-54-17-32-7-14-19-97-45-69-57-17-1-22-9-41-65-23-41-71-28-3-27-32 9-55 29-36 16-26 75-16 6-9 14-57 42-25 7-50 35-76 33-7 3-2 1-2 1-119 68M11860 3549l-8-78-12-59-7-6-81-16-37-24-12 11-23 26-38 71-31 75M13029 3549l-3-8-24-109-50-53-38-6-71 36-60 134-1 6M10043 2920l-74 14-14 21 23 87 70 41 43-35-15-30-8-89-11-8-8-1-6 0M10813 2938l-34 2-56 28 2 55 71 39 49-20 21-101-53-3M13219 2594l23-77 10-34 6-23 20-80M11386 2355l5 16 32 92 32 94 10 37M10973 1639l-15-53-78-26-57 36-5 45 73 71M12435 1639l-1-3-2 0-2 0-107-12-12 1-3 14M11245 684l22-85 12-45 19-71 11-38M9515 445l17 63 9 43 8 26 33 107M9936 904l55-7 24-7 18 1 30 7 82 22 134 70 36 16 9 2 5 11-2 16 19 133 49 55 56-23 22-56 13-51 6-39 71-81 20-23 68-11 75-28 26-10 24-5 100 8 13 0 2 1M8516 1639l-15-16-13 0-17 16M9936 1695l35-3 40-43-21-66-49-24-54 8-28 72M7548 2392l13 53 11 36 36 113M9367 2594l13-67 10-35 24-58 36-79M10891 3764l-44-15-60-12-98-37-31-14-13-11-54-3-45-9-7-1-21-13-54-44-49-41-78 28-29 47-35 33-25 1-76 15-47 24-66 19-74 21-49 28M13178 2594l11-40 24-84 16-55 15-60M11440 2355l17 58 15 42 20 59 37 80M10930 1639l-7-26-37-12-27 17-3 22 35 34M11191 684l40-125 0-1 31-113M10905 445l-20 35-21-7-83-20-6-4-5-4M10047 445l-1 1-11-1M9562 445l21 80 4 15 4 6 39 119 2 19M9936 839l14-4 103 6 72 16 27 7 104 34 58 26 69 16 39 78 78-107 62-17 67-12 11-3 63-23 84-17 61 5 43-5M9936 1667l18-1 20-22-11-33-25-13-27 5-14 36M7581 2355l7 35 12 53 45 148 1 1 1 2M9308 2594l3-7 19-92 5-14 36-86 18-40M9936 4199l92 48 15 10 4 2 28 6M10717 4265l23-3 6-6 98-57 38-29 9-14M10891 3870l-38-43-81-29-6-4-19-5-79-20-74-25-51-10-46-7-108-67-34 23-70 66-80 3-9 2-5 3-95 27-32 10-4 3-96 42-28 46M8141 2457l0 4-6 56-8-56 9-100 5 96M13136 2594l1-3 37-133 25-88 4-15M12827 2355l8 29 32 99 16 83-5 28M12026 2355l6 28 1 70-1 79 0 62M11495 2355l22 78 23 30 53 121 42 10M11134 684l4-1 50-128 7-31 21-79M10951 445l-65 117-73-23-32-8-63-40-57-46M10132 445l-75 61-49-4-91 44-37-101M9607 445l16 66 32 57 22 63 3 53M9936 705l108 84 30 2 14 3 79 19 11 4 137 35 61 7 53 11 49-10 82-24 21-4 64-17 10-4 143-28 5 0 23-3 65-35M9936 1639l1 0-1-1-1 1M9005 2355l10 32 13 100 30 80-4 27M8234 2355l1 29 2 110-3 24-6 76M7622 2355l16 80 2 7 5 19 42 78 35 55M7943 2594l15-63 5-46 3-55 19-75M8798 2594l5-61-4-46-14-108 3-24M9242 2594l22-57 10-50 53-127 1-3 1-2M11774 2594l5-38 19-83 8-29 16-89M12604 2594l-18-98-1-12 0-91-1-38M10230 4210l45 0 106 9 41 6 44-6 73-1 39-9 71-26 42-5 49-44 61-80 20-30-28-47-53-88-41-28-24-6-78-27-56-23-14-4-28-2-44-6-29-18-41 28-54 6-45 10-60 0-57 45-52 18-46 32-39 42-21 25-13 30 42 91 6 15 12 9 70 32 35 8 67 44M12922 2355l22 84 16 18 96 97 49-62 25-26 6-21 5-19 3-71M12204 2355l-8 27-9 77 3 125 1 10M11546 2355l11 40 73 94 55-20 53-18 1-4 23-86 1-6M10998 445l-19 33 41 49 15 39 21 4 76 13 13-32 13-61 13-45M9650 445l8 37 62 107 3 8 1 13 22-2 8-15 46-37 61-33-29-78M9063 2355l24 80 3 18 9 27 81 24 27 9 10-25 2-9 10-24 49-100M8356 2355l0 5 28 121-23 97-5 16M7682 2355l6 33 17 54 23 43 40 63 66-16 17-65 48-63 13-49M8638 2594l-8-53-21-80 34-96 1-10M12484 2594l-11-15-38-119 26-89-4-16M10239 4119l33 22 13 0 31 2 108 16 74-10 20-8 13-3 26-9 95-36 48-51-44-65-47-76-66-28-70-18-34-2-41 5-120 25-22 0-56 45-41 62-20 22 8 21 15 6 77 80M10186 728l111 51 20 5 43 5 69 3 32-8 90-24 43-15 57-23 50-11 52-51 0-5-33-84-60-39-30-25-58-16-31-6-39-13-108-7-39 8-90 10-53 9-51 14-46 35-25 68-12 50 59 61 49 8M13004 2355l7 27 46 53 17-48 1-32M11597 2355l0 2 3 4 5-2 2-4M11080 445l12 30 25 5 5-24 3-11M9692 445l2 9 17 29 55-38M9156 2355l40 17 20 6 11-23M7761 2355l11 61 59-61M10294 4053l33 5 106 5 30-12 85-19 26-9-25-39-53-23-57-15-84 20-67 34-17 31 23 22M10317 549l22 113 19 35 20 5 17 0 81-18 29-28 41-11 33-30-2-29-21-4-134-46-33-2-72 15" fill="none" stroke="#000" stroke-opacity="0.64" stroke-width="13.5" stroke-linejoin="round"/><rect x="746.00" y="35.50" width="592.30" height="400.20" fill="none" stroke="#262626" stroke-opacity="0.85" stroke-width="1"/><text x="754.85" y="468.00" text-anchor="middle" class="tk">-3</text><text x="850.35" y="468.00" text-anchor="middle" class="tk">-2</text><text x="945.85" y="468.00" text-anchor="middle" class="tk">-1</text><text x="1041.35" y="468.00" text-anchor="middle" class="tk">0</text><text x="1136.85" y="468.00" text-anchor="middle" class="tk">1</text><text x="1232.35" y="468.00" text-anchor="middle" class="tk">2</text><text x="1327.85" y="468.00" text-anchor="middle" class="tk">3</text><text x="736.50" y="435.40" text-anchor="end" class="tk">0</text><text x="736.50" y="339.90" text-anchor="end" class="tk">1</text><text x="736.50" y="244.40" text-anchor="end" class="tk">2</text><text x="736.50" y="148.90" text-anchor="end" class="tk">3</text><text x="736.50" y="53.40" text-anchor="end" class="tk">4</text><path d="M754.85 435.70v-6.0M754.85 35.50v6.0M850.35 435.70v-6.0M850.35 35.50v6.0M945.85 435.70v-6.0M945.85 35.50v6.0M1041.35 435.70v-6.0M1041.35 35.50v6.0M1136.85 435.70v-6.0M1136.85 35.50v6.0M1232.35 435.70v-6.0M1232.35 35.50v6.0M1327.85 435.70v-6.0M1327.85 35.50v6.0M746.00 426.50h6.0M1338.30 426.50h-6.0M746.00 331.00h6.0M1338.30 331.00h-6.0M746.00 235.50h6.0M1338.30 235.50h-6.0M746.00 140.00h6.0M1338.30 140.00h-6.0M746.00 44.50h6.0M1338.30 44.50h-6.0" stroke="#262626" stroke-opacity="0.85" stroke-width="1" fill="none"/><text x="1027.75" y="499.90" class="lb">x<tspan class="sb" dy="13.5">1</tspan></text><text x="691.80" y="215.80" class="lb">x<tspan class="sb" dy="13.5">2</tspan></text><text x="1041.85" y="21.50" text-anchor="middle" class="tr">pCN</text><g transform="scale(.1)" stroke-width="7" stroke-linejoin="round"><path d="M3026 7878l-2 1-94 92 88 42 29 6 55-28 14 3 39-24 56-52 63 5 61-9 45 2 106-26 40-14 62 24 29 20 29-5 108 20 73 26 29-22 100-29-16 87 47 21 26-8 105-20-91-53-24-59-22 0 0-15-91-20-46-1-99-66 26-104 81-26 31-27 98-109 0-8 0-3-21 1-96 43-53 35-70 11-64 32-39 14-131 15-18 7-17-6-16-9-86-29-54 14-44-13-137-13 22-72-27-5-76-23 47 63 24 43 0 5 4 3 125 123-73 77-41 29zM5555 6207l73-88 0-1 0-2-15-84-9-64-104 0-72 0-151 0-5 0 3 31 10 66 28 16-19 53 12 73 16 0 88 0 139 0zM1393 5968l29 52-16 51 28 97 6 39 11 0 159 0 115 0 28 0-3-20-55-58-18-7 2-14 1-11-5-129-65 0-147 0z" fill="#00ffff" stroke="#00ffff"/><path d="M3026 7545l40 53 13 23-6 52 48 38 47 46-27 29-16 10-42 13-57-9 0 78 114-34 41-29 73-77-125-123-4-3 0-5-24-43-47-63 76 23 27 5-22 72 137 13 44 13 54-14 86 29 16 9 17 6 18-7 131-15 39-14 64-32 70-11 53-35 96-43 21-1 0-21-92 4-17 2-6 1-96 40-16 11-6 1-22 11-97 42-91 9-49 7-33 0-81-27-31 8-86-27-72-7 12-37-64-13-90-27-18-3 0 14zM2944 7878l-49 38-24 52 18 47 84 40 63 14 28-14 57 10 156-97 7-7 8 1 7-1 77 3 99-24 52 1 25 11 48 33 103-17 41 8 104 38 15 13 9-2 17 6 95 41 66-19 64-13 21-27 1-28-1-15-56-92-4 0-72 0 24 59 91 53-105 20-26 8-47-21 16-87-100 29-29 22-73-26-108-20-29 5-29-20-62-24-40 14-106 26-45-2-61 9-63-5-56 52-39 24-14-3-55 28-29-6-88-42 94-92 2-1zM3981 7808l-23-5-110-2-51-34 14-54 41-13 77-66 52-58 0-66-98 109-31 27-81 26-26 104 99 66 46 1 91 20zM5306 6207l-12-73 19-53-28-16-10-66-3-31-72 0-76 0 44 78 4 22-14 123 3 16zM5707 6207l10-75 21-40 1-30 16-94-78 0-73 0 9 64 15 84 0 2 0 1-73 88 98 0zM1675 5968l5 129-1 11-2 14 18 7 55 58 3 20 66 0 49 0-1-91 1-14 11-43 3-91-39 0-141 0zM1262 5968l-18 82 10 16 5 38 32 103 50 0 99 0-6-39-28-97 16-51-29-52-71 0z" fill="#0cf3ff" stroke="#0cf3ff"/><path d="M3026 7473l18 3 90 27 64 13-12 37 72 7 86 27 31-8 81 27 33 0 49-7 91-9 97-42 22-11 6-1 16-11 96-40 6-1 17-2 92-4 0-20-56 2-56 7-20 3-99 41-34-1-105 32-20-2-93 14-94-2-23-7-9 2-129-41-5-1 1-2-100-20-71-21-42-8zM3026 7625l5 7 2 3-7 62 0 31 0 72 57 9 42-13 16-10 27-29-47-46-48-38 6-52-13-23-40-53zM2890 7878l0 16-35 75 45 115 27 13 93 20 6 0 0 1 2 1 10 2 87 16 29-18 49 28 56 10 29 0 12-1 84-15 9 1 60-27 9-56 60-2 27 16 42 55 49 30 19 1 28-19 69-72 36 33 72-14 78 28 30 13 9 2 0-13 32 0 73-21 22-5 41-55 3-55-2-32-44-71-27 0 56 92 1 15-1 28-21 27-64 13-66 19-95-41-17-6-9 2-15-13-104-38-41-8-103 17-48-33-25-11-52-1-99 24-77-3-7 1-8-1-7 7-156 97-57-10-28 14-63-14-84-40-18-47 24-52 49-38-39 0zM3981 7677l-115 83-13 0-4-2 1-4 3-1 121-104 7-8 0-65-52 58-77 66-41 13-14 54 51 34 110 2 23 5 0-18zM5161 6207l-3-16 14-123-4-22-44-78-40 0-75 0-22 74-3 65 34 60-1 40 64 0 63 0zM5861 6207l3-134 0-6 0-4-19-95-79 0-11 0-16 94-1 30-21 40-10 75 94 0zM1882 5968l-3 91-11 43-1 14 1 91 102 0 0-6 6-135 2-7 19-91-71 0zM1190 5968l-9 42-39 26-13 20 1 11 4 42 43 98 30 0 84 0-32-103-5-38-10-16 18-82-21 0z" fill="#14ebff" stroke="#14ebff"/><path d="M3026 7454l42 8 71 21 100 20-1 2 5 1 129 41 9-2 23 7 94 2 93-14 20 2 105-32 34 1 99-41 20-3 56-7 56-2 0-21-21 1-94 13-33 3-81 34-73-2-72 21-93-7-6 1-13 0-96 11-20 0-109-30-29 0-22-5-76-15-51-15-66-12zM3026 7697l7-62-2-3-5-7 0 13zM2862 7878l-2 47-20 45 42 108 6 39 18 0 114 0-93-20-27-13-45-115 35-75 0-16zM3026 8179l86 35 10 0 16 3 143-4 73-6 43-8 50 7 55-25 104 25 13 8 132 11 7-4 60-43 50-11 52 23 61 14 0-74-9-2-30-13-78-28-72 14-36-33-69 72-28 19-19-1-49-30-42-55-27-16-60 2-9 56-60 27-9-1-84 15-12 1-29 0-56-10-49-28-29 18-87-16-10-2-2-1zM4120 8117l44-58 3-82-3-48-31-51-27 0 44 71 2 32-3 55-41 55-22 5-73 21 91 0zM3981 7641l-7 8-121 104-3 1-1 4 4 2 13 0 115-83 0-26zM5017 6207l1-40-34-60 3-65 22-74-99 0-1 2 0 4-5 128-9 66-2 39 28 0zM5915 6207l0-89 0-52 5-87-1-11-12 0-62 0 19 95 0 4 0 6-3 134 9 0zM1997 5968l-19 91-2 7-6 135 0 6 7 0 70 0 78 0-31-78-7-18-1-5 0-138-5 0zM1121 5968l-36 55 3 55 12 106-1 23 22 0 56 0-43-98-4-42-1-11 13-20 39-26 9-42-45 0z" fill="#1ce3ff" stroke="#1ce3ff"/><path d="M3026 7435l66 12 51 15 76 15 22 5 29 0 109 30 20 0 96-11 13 0 6-1 93 7 72-21 73 2 81-34 33-3 94-13 21-1 0-12 0-6-13 1-104 14-48 5-62 26-111-4-40 12-57-4-49 3-71 8-56-1-70-19-60 0-46-9-46-10-31-9-91-17zM2834 7878l-3 78-7 14 14 35 17 112 33 0-6-39-42-108 20-45 2-47zM3026 8241l10 4 93 4 142 20 2 0 3 0 56-4 76-7 2-1 11 2 51 3 12 0 10-3 125-11 19 1 111 8 32 1 96-10 10 1 94 11 0-18 0-38-61-14-52-23-50 11-60 43-7 4-132-11-13-8-104-25-55 25-50-7-43 8-73 6-143 4-16-3-10 0-86-35zM4152 8117l26-34 5-111-4-64-19-30-27 0 31 51 3 48-3 82-44 58zM4893 6207l2-39 9-66 5-128 0-4 1-2-2 0-62 0-17 81-3 17 0 1-1 7-8 133zM5963 6207l0-34 2-107 2-45-6-53-42 0 1 11-5 87 0 52 0 89zM2086 5968l0 138 1 5 7 18 31 78 33 0 36 0-9-64-22-61-17-62 0-52zM1055 5968l-14 22 6 98 4 43-2 76 50 0 1-23-12-106-3-55 36-55zM3542 7037l-5-7-6 0-17 4 14 11 9-1zM5388 8945l8 2 9-10-5-16-13 8-3 8zM1585 8953l-2 4-3 6 7 3 4-3 0-6z" fill="#24dbff" stroke="#24dbff"/><path d="M3026 7415l91 17 31 9 46 10 46 9 60 0 70 19 56 1 71-8 49-3 57 4 40-12 111 4 62-26 48-5 104-14 13-1 0-15-44 3-76 10-62 7-43 18-149-6-9 3-12-1-102 6-32 4-90-1-32-8-91 0-70-15-17-3-11-4-73-13-39-7-3 0 0 5zM2807 7878l-3 58 1 25-1 13 4 51 14 92 33 0-17-112-14-35 7-14 3-78zM3026 8276l43 4 68 3 88 13 41 2 87 4 57-4 27 1 47 0 43-11 93-8 42 1 78 6 67 2 68-7 66 11 40 5 0-38-94-11-10-1-96 10-32-1-111-8-19-1-125 11-10 3-12 0-51-3-11-2-2 1-76 7-56 4-3 0-2 0-142-20-93-4-10-4 0 8zM4184 8117l8-11 5-104 3-33-3-21-4-60-6-10-27 0 19 30 4 64-5 111-26 34zM4817 6207l8-133 1-7 0-1 3-17 17-81-4 0-50 0-13 60-8 44-10 93-11 42 45 0zM6011 6207l-2-17 5-101 0-23 0-3-10-95-43 0 6 53-2 45-2 107 0 34 31 0zM2146 5968l0 52 17 62 22 61 9 64 62 0-15-112-5-36-5-7-28-84-20 0zM997 5968l6 110 2 19-5 90-1 20 50 0 2-76-4-43-6-98 14-22-43 0zM3537 7044l-9 1-14-11 17-4 6 0 5 7zM5384 8937l3-8 13-8 5 16-9 10-8-2zM1591 8957l0 6-4 3-7-3 3-6 2-4zM3573 7041l-24-27-21-2-72 18 57 46 37-6zM5369 8974l36 12 45-47-23-79-65 40-14 40zM1573 8884l-16 35-28 54 66 27 35-30-4-47z" fill="#2cd3ff" stroke="#2cd3ff"/><path d="M3026 7397l3 0 39 7 73 13 11 4 17 3 70 15 91 0 32 8 90 1 32-4 102-6 12 1 9-3 149 6 43-18 62-7 76-10 44-3 0-15-75 5-48 7-76 8-24 10-101-4-58-3-12-5-111 8-6 1-115 0-9 1-108 0-70-15-7-2-7 1-114-19-14-1zM2779 7878l3 66-2 35 10 135 1 3 3 0 28 0-14-92-4-51 1-13-1-25 3-58-25 0zM3026 8306l92 11 27 1 34 5 80 4 123 6 26 4 24 0 52-1 76-18 62-6 64 1 46 3 101 4 40-5 90 16 18 0 0-6 0-27-40-5-66-11-68 7-67-2-78-6-42-1-93 8-43 11-47 0-27-1-57 4-87-4-41-2-88-13-68-3-43-4zM1552 8833l-20 48-31 59-15 37 14 18 33 11 69 28 67-56-7-90-77-55-21 0zM5400 8833l-62 39-26 70 38 62 64 21 80-85-23-78-12-29-20 0zM4212 8117l1-14 11-132-10-82 0-11-13 0-14 0 6 10 4 60 3 21-3 33-5 104-8 11 15 0zM4750 6207l11-42 10-93 8-44 13-60-55 0-4 22-17 87-3 29-25 101zM6058 6207l-7-62 3-77 16-66-10-34-30 0-26 0 10 95 0 3 0 23-5 101 2 17zM2203 5968l28 84 5 7 5 36 15 112 45 0 15 0-3-11-8-78-8-61-25-37-17-52zM953 5968l3 56 6 77-4 74-10 32 48 0 3 0 1-20 5-90-2-19-6-110zM3550 7070l-37 6-57-46 72-18 21 2 24 27zM5348 8940l14-40 65-40 23 79-45 47-36-12zM1626 8923l4 47-35 30-66-27 28-54 16-35zM3399 7027l1 3 2 0 96 77 65-11 40-50-41-48-38-4-123 32-1 0-1 0z" fill="#34cbff" stroke="#34cbff"/><path d="M3026 7381l14 1 114 19 7-1 7 2 70 15 108 0 9-1 115 0 6-1 111-8 12 5 58 3 101 4 24-10 76-8 48-7 75-5 0-15-107 8-19 2-89 9-5 3-22-1-137-7-29-11-85 6-42 3-89-1-63 10-58 0-36-7-24-7-26 2-99-17-25-1zM2757 7878l3 48-5 59 9 106 4 26 23 0-1-3-10-135 2-35-3-66zM3026 8337l90 10 34-1 65 8 36 3 20 1 130 19 68-2 21 10 36-22 67-16 31-3 86 1 13 1 136 5 11-2 25 5 86 0 0-23-18 0-90-16-40 5-101-4-46-3-64-1-62 6-76 18-52 1-24 0-26-4-123-6-80-4-34-5-27-1-92-11zM1585 8833l77 55 7 90-67 56-69-28-33-11-14-18 15-37 31-59 20-48-42 0-4 9-6 12-47 120 42 57 106 33 8 3 45-36 50-41 4-2 0-6-2-27-9-101-29-21zM5459 8833l12 29 23 78-80 85-64-21-38-62 26-70 62-39-70 0-16 10-24 63-12 32 0 7 8 14 44 74 93 32 115-123-8-27-34-82zM4236 8117l3-40 8-103-7-64 0-32-26 0 0 11 10 82-11 132-1 14zM4688 6207l25-101 3-29 17-87 4-22-31 0-17 0-15 91-5 27-20 100-10 21 39 0zM6104 6207l-12-107 1-29 13-55 11-48-19 0-38 0 10 34-16 66-3 77 7 62zM2255 5968l17 52 25 37 8 61 8 78 3 11 54 0-15-48-9-92-13-34-7-26-13-19-7-20zM909 5968l0 2 10 135-2 36-21 66 52 0 10-32 4-74-6-77-3-56zM3399 7026l1 0 1 0 123-32 38 4 41 48-40 50-65 11-96-77-2 0-1-3zM3370 7031l32 67 42 9 39 31 93-16 57-72-58-68-55-6-99 26-23 1-22-2zM3170 6721l20-7 1-33-14-9-17 1-19 16zM3626 8685l4-10-11-82-9-16-6-10-25 2-89-17-33 0-50 30-15 28-19 44 37 44 28 30 72 16 23 2zM3858 6710l5 19 23-13 1-20-15-4-9 2-5 7z" fill="#3cc3ff" stroke="#3cc3ff"/><path d="M2103 7162l21-73 3-36-18-16-32-8-44 19-12 61-1 53 43 0zM3026 7365l25 1 99 17 26-2 24 7 36 7 58 0 63-10 89 1 42-3 85-6 29 11 137 7 22 1 5-3 89-9 19-2 107-8 0-15-118 8-11 1-78 8-17-9-33 3-119-6-46-18-59 4-78 5-63 0-116 19-8 0-4-1-41-12-44 4-83-14-37-2zM2736 7878l1 30-6 83 6 78 8 48 23 0-4-26-9-106 5-59-3-48zM3026 8368l125-3 87 11 11 5 50 22 94 14 40-1 71 35 120-74 2-1 70 10 22-9 124 5 29-8 13 2 97 0 0-22-86 0-25-5-11 2-136-5-13-1-86-1-31 3-67 16-36 22-21-10-68 2-130-19-20-1-36-3-65-8-34 1-90-10zM1668 8833l29 21 9 101 2 27 0 6-4 2-50 41-45 36-8-3-106-33-42-57 47-120 6-12 4-9-10 0-33 0-7 33-41 104 72 96 18 6 101 0 46 0 54-45 36-18 1-49-11-113-1-14-16 0zM5496 9072l52-63 31-58 0-28-27-47-18-43-38 0 34 82 8 27-115 123-93-32-44-74-8-14 0-7 12-32 24-63 16-10-25 0-25 0-30 76-1 44 52 93 10 17 27 9 87 0zM4259 8117l6-66 6-74-5-46 0-53-26 0 0 32 7 64-8 103-3 40zM5018 7162l-100-94 14 94 33 0zM5979 7162l-101-64-13 39-6 25 32 0zM4639 6207l10-21 20-100 5-27 15-91-39 0-9 52-13 79-12 63-23 45zM6149 6207l-13-114-1-18-1-14 20-93-37 0-11 48-13 55-1 29 12 107 26 0zM2306 5968l7 20 13 19 7 26 13 34 9 92 15 48 53 0-26-85-4-41-29-78-10-35-14 0zM863 5968l13 139 0 1 0 1-22 98 29 0 13 0 21-66 2-36-10-135 0-2-2 0zM3376 7001l22 2 23-1 99-26 55 6 58 68-57 72-93 16-39-31-42-9-32-67zM3141 6689l19-16 17-1 14 9-1 33-20 7zM3533 8746l-23-2-72-16-28-30-37-44 19-44 15-28 50-30 33 0 89 17 25-2 6 10 9 16 11 82-4 10zM3858 6701l5-7 9-2 15 4-1 20-23 13-5-19zM3341 7035l52 108 4 8 3 10 61 12 19 1 32-12 77-14 50-62 21-27 7-11-16-8-63-73-72-8-75 19-45 2-42-4zM3155 6787l55-21 5-89-40-27-48 5-51 44zM3683 8697l-11-34-9-63-28-50-17-31-77 7-37-7-78 0-29 17-34 62-42 97 30 36 50 15 22-3 84 18 55 4 73-47zM3821 6734l19 71 83-48 6-74-58-15-31 9-20 25z" fill="#44bbff" stroke="#44bbff"/><path d="M1168 7162l3-70-2-68-38-39-72 10-80-5-50 65-2 29-14 78 77 0 131 0zM2020 7162l1-53 12-61 44-19 32 8 18 16-3 36-21 73 108 0 20 0-6-20 8-105-3-14-12-11-48-42-126-33-22 10-77 37-9 47-27 116-8 15 20 0zM3026 7349l37 2 83 14 44-4 41 12 4 1 8 0 116-19 63 0 78-5 59-4 46 18 119 6 33-3 17 9 78-8 11-1 118-8 0-15-85 6-45 2-58 6-41-21-79 6-65-3-63-25-33 3-113 7-39 0-79 13-46 12-31-8-61 5-69-12-48-2zM2714 7878l0 12-8 107 4 49 12 71 23 0-8-48-6-78 6-83-1-30zM3026 8396l24-10 102-2 71 9 24 12 113 48 26 4 11 0 59 29-61 0-8 4-52 97-65 149 1 2 120 35 53-7 59 13 88 6 46-30 97-42 1 0 3 1-1-3-1-1-24-67-5-37-46-83-29-51-64 5 66-46 20 3 61-24 81 3 77-21 35 6 73 0 0-22-97 0-13-2-29 8-124-5-22 9-70-10-2 1-120 74-71-35-40 1-94-14-50-22-11-5-87-11-125 3zM1735 8833l1 14 11 113-1 49-36 18-54 45 52 0 8-7 68-35 2-91-5-54-5-52zM1423 8833l-15 78-22 56 44 59 17 46 44 0 18 0-18-6-72-96 41-104 7-33zM5338 9072l-27-9-10-17-52-93 1-44 30-76-39 0-18 47-3 81 41 73 8 38 36 0zM5566 9072l18-45 31-57 0-90-28-47-42 0-11 0 18 43 27 47 0 28-31 58-52 63 38 0zM4283 8117l8-91 4-46-3-28 0-74-26 0 0 53 5 46-6 74-6 66zM4932 7162l-14-94 100 94 7 0 65 0-15-49 1-99-4-19-13-7-101-65-8 0-13 0-69 53-55 42-17 60-14 58-5 26 24 0zM5859 7162l6-25 13-39 101 64 16 0 67 0-18-141 0-1 0-1-2 0-178-36-17 14-12 24-23 66-17 75zM4593 6207l23-45 12-63 13-79 9-52-39 0-2 14-21 129-6 26-15 31-17 39 24 0zM6192 6207l-7-65-4-63-3-47 14-64-38 0-20 93 1 14 1 18 13 114zM2354 5968l10 35 29 78 4 41 26 85 17 0 30 0-11-30-21-86-22-61-21-57-2-5zM818 5968l6 73 0 65 6 38-15 63 39 0 22-98 0-1 0-1-13-139zM3026 6730l87 99 18 11 18 1 48-10 34-13 7-145-64-44-80 7-68 59 0 11zM3354 6976l42 4 45-2 75-19 72 8 63 73 16 8-7 11-21 27-50 62-77 14-32 12-19-1-61-12-3-10-4-8-52-108zM3076 6699l51-44 48-5 40 27-5 89-55 21zM3635 8718l-73 47-55-4-84-18-22 3-50-15-30-36 42-97 34-62 29-17 78 0 37 7 77-7 17 31 28 50 9 63 11 34zM3820 6702l20-25 31-9 58 15-6 74-83 48-19-71zM3312 7039l36 75 20 41 17 53 37 7 79 4 85-32 15 8 10-20-1-9 70-87 28-51-71-34-37-43-88-10-51 13-66 3-64-7zM3123 9073l7 7 8 1 4-1 10-6 33-81 2-25 8-33-41-13-18 30-13 99zM3783 6759l16 58 16 36 19-3 78-24 48-28 10-128-100-26-53 17-35 42zM3881 8995l7-26-27-57-36 48 0 29 24 47z" fill="#4cb3ff" stroke="#4cb3ff"/><path d="M913 7162l14-78 2-29 50-65 80 5 72-10 38 39 2 68-3 70 74 0-6-142-10-58-47-39-32 0-82 0-84 11-13 0-13 17-78 38-21 71-13 65-27 37 62 0zM1901 7162l8-15 27-116 9-47 77-37 22-10 126 33 48 42 12 11 3 14-8 105 6 20 91 0 60 0-26-37-44-26-17-56 1-10-17-83-28-27-38 0-175 0-115 0-23 0 5 14-16 89-17 73-35 63zM3026 7333l48 2 69 12 61-5 31 8 46-12 79-13 39 0 113-7 33-3 63 25 65 3 79-6 41 21 58-6 45-2 85-6 0-15-53 4-79 3-38 4-64-33-125 9-10-1-81-30-7 0-149 10-13 0-27 4-100 28-16-5-80 7-54-9-59-3zM2691 7878l-3 37-6 88 1 21 15 93 24 0-12-71-4-49 8-107 0-12-16 0zM3026 8423l48-19 79-1 55 7 37 19 103 44-13 49-29 53-25 58-33 72-116 32-1 107 143-40 46-21 61 17 85-11 34 7 120 9 19-13 40-17 60 18 118 6-29-106-69-51-6-19-1-10-66-116-20-36 46-19 39 2 125-34 55 10 50 0 0-22-73 0-35-6-77 21-81-3-61 24-20-3-66 46 64-5 29 51 46 83 5 37 24 67 1 1 1 3-3-1-1 0-97 42-46 30-88-6-59-13-53 7-120-35-1-2 65-149 52-97 8-4 61 0-59-29-11 0-26-4-113-48-24-12-71-9-102 2-24 10zM1776 8833l5 52 5 54-2 91-68 35-8 7 9 0 64 0 41-22 3-121 1-8 1-5-5-83-12 0zM1379 8833l-24 122-3 8 7 9 36 100 52 0-17-46-44-59 22-56 15-78zM5269 9072l-8-38-41-73 3-81 18-47-39 0-7 18-4 118 7 11 18 92zM5623 9072l21-53 15-38-8-117 0-26-2-5-62 0 28 47 0 90-31 57-18 45zM4307 8117l10-117 2-17-2-10 1-95-26 0 0 74 3 28-4 46-8 91zM4777 7162l5-26 14-58 17-60 55-42 69-53-98 0-67 0-31 23-36 75-2 7-28 134zM5157 7162l-32-98 1-40-13-69-51-29-5-3-99 0 101 65 13 7 4 19-1 99 15 49zM5795 7162l17-75 23-66 12-24 17-14 178 36 2 0 0 1 0 1 18 141 73 0-3-30-10-75-6-43-4-8-34-34-37-38-49-11-125 0-36 0-26 21-43 88-2 5-7 30-20 77-8 18 21 0zM3981 6644l-19 0-92-24-75 24-51 60 2 79 3 12 40 91 49-8 106-33 37-4 0-19 0-156zM4550 6207l17-39 15-31 6-26 21-129 2-14-15 0-22 0-4 19-21 126-8 19-33 75zM6235 6207l-2-17-6-107-5-80 8-35-38 0-14 64 3 47 4 63 7 65zM2393 5968l2 5 21 57 22 61 21 86 11 30 43 0-26-73-12-48-27-73-20-45-28 0zM772 5968l1 7-1 129 11 74-7 29 39 0 15-63-6-38 0-65-6-73zM3026 6695l68-59 80-7 64 44-7 145-34 13-48 10-18-1-18-11-87-99 0 100 2 2 64 39 68 4 45-10 52-4 0-33 0-72 4-88-89-60-110 10-36 31zM3331 6950l64 7 66-3 51-13 88 10 37 43 71 34-28 51-70 87 1 9-10 20-15-8-85 32-79-4-37-7-17-53-20-41-36-75zM3123 9051l13-99 18-30 41 13-8 33-2 25-33 81-10 6-4 1-8-1-7-7zM3782 6703l35-42 53-17 100 26-10 128-48 28-78 24-19 3-16-36-16-58zM3849 9036l-24-47 0-29 36-48 27 57-7 26zM3283 7043l20 42 36 75 31 96 13 2 139 6 18-7 70 35 45-90-5-43 49-60 22-42 13-27-6-41-79-30-25-12-11-12-105-12-27 7-88 4-84-9zM3077 9073l30 29 37 3 16-2 44-27 13-31 5-70 23-91-115-37-49 86-5 38zM3839 9105l10 1 8 0 13-12 53-66 17-61-63-135-86 114 0 68 43 81z" fill="#54abff" stroke="#54abff"/><path d="M816 7162l27-37 13-65 21-71 78-38 13-17 13 0 84-11-99 0-117 0-32 0-25 105-8 28-1 5-10 14-39 74-82 13 98 0zM1341 7162l-39-71-2-43-7-41 10-84-67 0-57 0 47 39 10 58 6 142zM1837 7162l35-63 17-73 16-89-5-14-58 0-7 0-1 21 15 38-7 38-7 32-20 34-6 61-13 15 28 0zM2733 7162l73-124 1-1-1-1-45-81 2-32-76 0-137 0-104 0-149 0-46 0 28 27 17 83-1 10 17 56 44 26 26 37 52 0 87 0 168 0zM3026 7317l59 3 54 9 80-7 16 5 100-28 27-4 13 0 149-10 7 0 81 30 10 1 125-9 64 33 38-4 79-3 53-4 0-15-20 1-114 5-18 2-88-45-68 5 26-53-8-77 27-34 13-23 26-60-12-87-47-18 49-48 16 36 78-12 18-5 122-15 0-45-37 4-106 33-49 8-40-91-3-12-2-79 51-60 75-24 92 24 19 0 0-30-45 0-67-17-97 30-40 47-13 13 1 16 1 75-5 14-100 122-87-6-24-3-4 1-110 4-105-10-32 147 5 9 51 108 32 97-89 37-19 5-1 0-98 8-39-7-70-3zM2665 7878l-8 120 0 9 3 19 15 91 23 0-15-93-1-21 6-88 3-37zM3026 8451l72-28 56-1 39 4 51 27 47 20-17 64 0 32-46 101-101 27-83-89-18-19 0 24 0 74 0 146-108 0-148 0-79 0-76 0-9 63 88-9 51-6 34-27 132-16 7-1 95 94 17 113 0 28 54 52 65 6 29-5 59-35 13-10 7-90 0-13 29-121 86-29 22-3 93-12 9 2 82 6 61 5 52 45 54 19 40 6-27 37 0 106 24 45 22 45 51 2 35 1 61-53 14-18 23-80 8-10 8-8 31-66 23-63-77 0 0-123 0-59-44 22-84-13-58-48 2-34-80-106 161-44 77 14 26 0 0-22-50 0-55-10-125 34-39-2-46 19 20 36 66 116 1 10 6 19 69 51 29 106-118-6-60-18-40 17-19 13-120-9-34-7-85 11-61-17-46 21-143 40 1-107 116-32 33-72 25-58 29-53 13-49-103-44-37-19-55-7-79 1-48 19zM1822 8833l5 83-1 5-1 8-3 121-41 22 78 0 1-1 0-2 13-127 26-68-2-41zM1298 8833l-23 60 32 72 29 85 8 22 51 0-36-100-7-9 3-8 24-122-22 0zM639 8857l1-22 2-2-3 0zM2576 9072l14-24-30-51-19 62 0 13 15 0zM4341 9072l-47-73-69 7 5 66 21 0zM5216 9072l-18-92-7-11 4-118 7-18-23 0-63 0 26 27-18 91 20 50 17 71 20 0zM5680 9072l13-36 21-55-4-61 5-87-60 0-6 0 2 5 0 26 8 117-15 38-21 53 33 0zM6295 8833l55 16-10 96 1 32 12 95 15 0 0-125 0-114zM4426 8833l34 29 9-24 14-5-20 0zM4093 8833l109 60 95 5 46-65-127 0zM4331 8117l5-60 7-70 0-12 1-48 0-49-26 0-1 95 2 10-2 17-10 117zM4675 7162l28-134 2-7 36-75 31-23-50 0-124 0-166 0-112 0-113 0-25 0-12 67-28 58 39 90 19 24 5 0 148 0 95 0 109 0 107 0zM5207 7162l-14-10-26-119 2-9-16-101-8 0-83 0-5 0 5 3 51 29 13 69-1 40 32 98 21 0zM5725 7162l8-18 20-77 7-30 2-5 43-88 26-21-43 0-61 0-33 57-7 62-8 29-17 38-6 48-8 5 14 0zM6253 7162l-58-83-9-63-45-87-6-6-94 0-49 0 49 11 37 38 34 34 4 8 6 43 10 75 3 30 20 0zM4508 6207l33-75 8-19 21-126 4-19-35 0-12 49-12 73-33 84-15 33zM6281 6207l-8-115 0-4-7-114 1-6-37 0-8 35 5 80 6 107 2 17 15 0zM2428 5968l20 45 27 73 12 48 26 73 43 0-42-117-2-8-5-13-46-101zM725 5968l0 35-3 96 0 12 14 96 7 0 33 0 7-29-11-74 1-129-1-7-5 0zM3026 6649l36-31 110-10 89 60-4 88 0 72 0 33-52 4-45 10-68-4-64-39-2-2 0 2 0 53 27 17 82 4 32 2 38 60 81-68 0-78-1-150-1-6-4-9-20-9-90-61-141 13-3 2zM3309 6925l84 9 88-4 27-7 105 12 11 12 25 12 79 30 6 41-13 27-22 42-49 60 5 43-45 90-70-35-18 7-139-6-13-2-31-96-36-75-20-42zM3076 8971l5-38 49-86 115 37-23 91-5 70-13 31-44 27-16 2-37-3-30-29zM3834 9095l-43-81 0-68 86-114 63 135-17 61-53 66-13 12-8 0-10-1zM4378 7007l101 21 9 6 2 13-10-1-94 30-30 14-33-54 24-32z" fill="#5ca3ff" stroke="#5ca3ff"/><path d="M646 6923l-3 5 78 134-28 54-54 8 0 38 13 0 82-13 39-74 10-14 1-5 8-28 25-105-40 0zM1398 7162l-19-14-34-87 42-134 1-4-5 0-80 0-10 84 7 41 2 43 39 71 19 0zM1796 7162l13-15 6-61 20-34 7-32 7-38-15-38 1-21-32 0-4 87 2 9-12 110-28 33zM2879 7162l12-17 34-84 35-104 64-11 9-12 123 6 70 111 20 43 35 75 18 55-61 25-42 39-64 5-25-4-81-4 0 16 70 3 39 7 98-8 1 0 19-5 89-37-32-97-51-108-5-9 32-147 105 10 110-4 4-1 24 3 87 6 100-122 5-14-1-75-1-16 13-13 40-47 97-30 67 17 45 0 0-30-71-1-42-10-119 37-22 26-30 30 3 36 0 62-11 32-77 93-89-6-21 5-107 1-8-7-72-16-1-51 0-99-8-40-23-63-89-41-23-5-3 0-134 16-8-1 0 16 0 4 3-2 141-13 90 61 20 9 4 9 1 6 1 150 0 78-81 68-38-60-32-2-82-4-27-17 0 38-88 0-141 0-34 0-2 32 45 81 1 1-1 1-73 124 62 0zM2639 7878l-5 83 1 44 15 97 2 15 23 0-15-91-3-19 0-9 8-120zM3026 8479l95-38 34-1 23 3 56 29 3 8 1 89-30 66-66 18-54-59-62-62 0 57 18 19 83 89 101-27 46-101 0-32 17-64-47-20-51-27-39-4-56 1-72 28zM2332 8833l56 24 25 104-6 33-2 78 32 0 104 0 0-13 19-62 30 51-14 24 123 0 107 0 75 0 42-104 26 104 77 0 0 40 35 35 94 7 41-6 41-25 47-37 5-64-2-56 23-92 64-22 102-13 19-8 15 5 123 11 94 81 1 21-3 83 0 30 4 8 39 81 92 4 62 2 59-51 0-34 121 0 8-11 11-10 12 1 2 20 95 0-5-66 69-7 47 73 12 0 86 0 142 0 28 0 2-48-15-77 40-70 24-44-51 0-126 0-14 5-9 24-34-29-62 0-21 0-46 65-95-5-109-60-15 0-20 0-23 63-31 66-8 8-8 10-23 80-14 18-61 53-35-1-51-2-22-45-24-45 0-106 27-37-40-6-54-19-52-45-61-5-82-6-9-2-93 12-22 3-86 29-29 121 0 13-7 90-13 10-59 35-29 5-65-6-54-52 0-28-17-113-95-94-7 1-132 16-34 27-51 6-88 9 9-63-72 0-143 0zM1897 8833l2 41-26 68-13 127 0 2-1 1 1 0 72 0 3 0 0-3-1-5-19-50 5-51 49-125 1-4 6-1-6 0zM1175 8833l27 15 14 25 43 96 16 47-3 56 61 0 11 0-8-22-29-85-32-72 23-60-86 0zM642 8833l-2 2-1 22 0 78 0 137 104 0 12 0 1-9-9-110 40-79 79-41-114 0zM5161 9072l-17-71-20-50 18-91-26-27-48 0-67 0 47 94 1 1 0 1 43 110 8 33zM5739 9072l11-33 19-59 11-141 15-6-19 0-61 0-5 87 4 61-21 55-13 36zM6353 9072l-12-95-1-32 10-96-55-16-38 0-116 0-20 0 18 8 103 97-1 10 3 124 8 0zM3981 8537l-6 34-10 11-86 43-25-4-17-14 5-90-38-50 76-21 99 18 2 0 0-22-26 0-77-14-161 44 80 106-2 34 58 48 84 13 44-22 0-72zM4356 8117l1-14 10-111 0-40 2-74-15 0-10 0 0 49-1 48 0 12-7 70-5 60 8 0zM3981 7291l-9 3-126 9-104-54-3-36-8-68 6-7 3-5 41-92-12-89 75-10 130-12 11 10 96 14-22 92 28 58 45 58 68 0-19-24-39-90 28-58 12-67-72 0-129 0 0-37-122 15-18 5-78 12-16-36-49 48 47 18 12 87-26 60-13 23-27 34 8 77-26 53 68-5 88 45 18-2 114-5 20-1 0-9zM5249 7162l-36-25-21-98 9-37-13-79-35 0 16 101-2 9 26 119 14 10zM5648 7162l8-5 6-48 17-38 8-29 7-62 33-57-100 0 9 96 9 28-12 95-34 20zM6368 7138l-66-19-51-102 36-65 64-29-100 0-107 0-9 0 6 6 45 87 9 63 58 83 21 0 94 0zM4467 6207l15-33 33-84 12-73 12-49-35 0-19 79-4 20-34 86-17 48-2 6 7 0zM6328 6207l-4-56 1-54 7-83-4-46-53 0-8 0-1 6 7 114 0 4 8 115zM2461 5968l46 101 5 13 2 8 42 117 22 0 14 0-5-17-43-113-17-38-32-71zM677 5968l0 74-1 43 3 76 6 46 51 0-14-96 0-12 3-96 0-35zM4347 7004l-24 32 33 54 30-14 94-30 10 1-2-13-9-6-101-21z" fill="#649bff" stroke="#649bff"/><path d="M639 7034l20 35-7 13-13 2 0 40 54-8 28-54-78-134 3-5-7 0zM1445 7162l-43-31-26-69 32-105 8-34-28 0-1 4-42 134 34 87 19 14zM1761 7162l28-33 12-110-2-9 4-87-31 0-4 65 10 43-8 79-43 52zM2933 7162l51-89 10-26 8-24 14-3 38-52 92 5 51 82 47 101 9 17 4 13-14 6-90 81-25 2-10-2-92-4 0 16 81 4 25 4 64-5 42-39 61-25-18-55-35-75-20-43-70-111-123-6-9 12-64 11-35 104-34 84-12 17 14 0zM2613 7878l-3 47 2 79 14 88-2 25 24 0 4 0-2-15-15-97-1-44 5-83zM3026 8532l62 62 54 59 66-18 30-66-1-89-3-8-56-29-23-3-34 1-95 38 0 17zM1976 8833l-6 1-1 4-49 125-5 51 19 50 1 5 0 3 59 0-9-52-13-47 32-79 79-20 38-12 72-8 59 19 85 80 2 1 0 1-1 6-17 96 2 15 18 0 64 0 2-78 6-33-25-104-56-24-55 0-84 0-93 0zM1043 8833l98 58 25 14 36 63-4 80 5 24 12 0 57 0 3-56-16-47-43-96-14-25-27-15-26 0zM866 8833l-79 41-40 79 9 110-1 9 72 0 4-58-3-43 15-31 40-21 38-49 81-37-114 0zM2949 9072l-26-104-42 104 45 0zM3026 9157l12 12 123 9 54-8 23-14 80-64 3-37-3-101 15-62 44-15 69-9 49-21 38 13 93 9 72 61 2 50-3 80-11 46 32 37 15 31 133 6 89 2 26-22 0-54-59 51-62-2-92-4-39-81-4-8 0-30 3-83-1-21-94-81-123-11-15-5-19 8-102 13-64 22-23 92 2 56-5 64-47 37-41 25-41 6-94-7-35-35zM4135 9072l-2-20-12-1-11 10-8 11 22 0zM4669 9072l6-120 1-18 129-94 17 4 125 24 39 58 16 69 35 77 10 0 53 0-8-33-43-110 0-1-1-1-47-94-47 0-148 0-142 0-4 0-24 44-40 70 15 77-2 48zM5801 9072l9-48 16-49 5-66 62-27 24-27 82-9 30 19 94 41 43 41-9 93 1 32 86 0-3-124 1-10-103-97-18-8-122 0-97 0-107 0-15 6-11 141-19 59-11 33 12 0zM3981 8464l-2 0-99-18-76 21 38 50-5 90 17 14 25 4 86-43 10-11 6-34 0-71zM4383 8117l0-36 8-83 0-69 2-51-24 0-2 74 0 40-10 111-1 14zM3981 7254l-32 11-95 7-79-41-7-81 3-28 34-75-9-61 52-6 88-9 66 62 3 2 61 127 3 0 63 0-45-58-28-58 22-92-96-14-11-10-130 12-75 10 12 89-41 92-3 5-6 7 8 68 3 36 104 54 126-9 9-3zM5290 7162l-56-39-17-79 16-63-9-58-36 0 13 79-9 37 21 98 36 25zM5599 7162l34-20 12-95-9-28-9-96-34 0 6 57 20 69-9 77-60 36zM6368 7078l-33-10-25-50 18-33 40-19 0-43-17 0-64 29-36 65 51 102 66 19zM3981 6556l-31-3-66 0-16-4-142 44-5 5-46 47 4 55 1 50-17 50-54 65-63-4-47 10-86 0-35-31-35-7 0-25 0-48-14-75-35-94-1-13-6-3-2 0-103-23-19 0-120 14-17-2 0 18 8 1 134-16 3 0 23 5 89 41 23 63 8 40 0 99 1 51 72 16 8 7 107-1 21-5 89 6 77-93 11-32 0-62-3-36 30-30 22-26 119-37 42 10 71 1 0-23zM4428 6207l2-6 17-48 34-86 4-20 19-79-35 0-12 49-4 27-5 16-41 117-13 30zM6328 5968l4 46-7 83-1 54 4 56 40 0 0-103 0-136zM2495 5968l32 71 17 38 43 113 5 17 28 0-14-52-32-84-38-86-8-17zM685 6207l-6-46-3-76 1-43 0-74-38 0 0 106 0 133zM3069 8518l16-35 60-24 11 0 7 1 18 9 20 59 1 41-15 31-30 8-25-27z" fill="#6c93ff" stroke="#6c93ff"/><path d="M639 7084l13-2 7-13-20-35 0 37zM1491 7162l-65-48-20-50 24-77 14-64-28 0-8 34-32 105 26 69 43 31zM1727 7162l43-52 8-79-10-43 4-65-32 0-2 42 18 78-5 49-59 70zM2978 7162l41-72 23-41 33-47 60 3 34 54 40 86 8 28-93 79-80-9-18-19 0 40 0 5 92 4 10 2 25-2 90-81 14-6-4-13-9-17-47-101-51-82-92-5-38 52-14 3-8 24-10 26-51 89zM2587 7878l-1 11 4 114 9 58-5 56 30 0 2-25-14-88-2-79 3-47zM1002 8833l-81 37-38 49-40 21-15 31 3 43-4 58 54 0 26 0 8-61 3-48 39-51 38-17 122 61 5 10 9 1 25 105 47 0-5-24 4-80-36-63-25-14-98-58-21 0zM2052 9072l-17-100-2-7 5-12 12-3 109-33 34-4 28 9 41 39-9 48 9 63 61 0-2-15 17-96 1-6 0-1-2-1-85-80-59-19-72 8-38 12-79 20-32 79 13 47 9 52zM3026 9192l53 4 87 7 67-11 5-3 114-91 0-10-3-145 8-33 23-8 36-5 78-34 63 22 63 5 49 42 3 80-2 37-24 107 26 29 38 12 12 0 67 5 82 3 86 2 20 0 4 0 0-4 0-43-26 22-89-2-133-6-15-31-32-37 11-46 3-80-2-50-72-61-93-9-38-13-49 21-69 9-44 15-15 62 3 101-3 37-80 64-23 14-54 8-123-9-12-12 0 24zM4727 9072l2-21 3-97 68-50 114 28 29 76 13 53 4 11 77 0-35-77-16-69-39-58-125-24-17-4-129 94-1 18-6 120 42 0zM5863 9072l16-80 5-21 63-71 52-6 98 63-4 89-26 26 61 0 30 0-1-32 9-93-43-41-94-41-30-19-82 9-24 27-62 27-5 66-16 49-9 48zM4409 8117l1-57 5-57 1-97 0-28-23 0-2 51 0 69-8 83 0 36zM3981 7217l-56 19-64 5-54-28-4-55 8-66 18-40-5-31 27-4 47-4 34 32 64 41 36 76 34 0-61-127-3-2-66-62-88 9-52 6 9 61-34 75-3 28 7 81 79 41 95-7 32-11zM5336 7162l-11-4-4-4-66-46-13-58 23-91-6-36-35 0 9 58-16 63 17 79 56 39 32 0zM5550 7162l60-36 9-77-20-69-6-57-33 0 1 17 33 112-7 59-69 41-17 10 17 0zM6368 7018l0-52-40 19-18 33 25 50 33 10zM3981 6538l-104-10-10 1-6 0-140 44-13 1-21 15-34 34 6 76 0 37-23 67-31 38-35-3-73 15-66 1-59-53-2-5-19-102-19-53-5-68-31-15-14-1-90-20-33-1-107 14-26-4 0 18 17 2 120-14 19 0 103 23 2 0 6 3 1 13 35 94 14 75 0 48 0 25 35 7 35 31 86 0 47-10 63 4 54-65 17-50-1-50-4-55 46-47 5-5 142-44 16 4 66 0 31 3zM4394 6207l13-30 41-117 5-16 4-27 12-49-25 0-9 0-8 53-12 43-31 88-24 55zM2528 5968l8 17 38 86 32 84 14 52 28 0-23-87-21-54-33-74-8-24-24 0zM3132 8581l25 27 30-8 15-31-1-41-20-59-18-9-7-1-11 0-60 24-16 35z" fill="#748bff" stroke="#748bff"/><path d="M1692 7162l59-70 5-49-18-78 2-42-31 0-1 20 26 112-2 19-29 34-77 51-3 2-112-13-14-16-48-35-12-32 15-48 21-94-29 0-14 64-24 77 20 50 65 48 10 0 123 0 59 0zM3024 7162l2-4 55-100 16-22 28 2 16 25 18 40 19 67-57 49-50-5-45-49 0 59 18 19 80 9 93-79-8-28-40-86-34-54-60-3-33 47-23 41-41 72zM2558 7878l-1 12 8 41 2 71 5 28-7 87 29 0 5-56-9-58-4-114 1-11-8 0zM1156 9072l-25-105-9-1-5-10-122-61-38 17-39 51-3 48-8 61 83 0 134 0zM2119 9072l70-88 13 88 60 0-9-63 9-48-41-39-28-9-34 4-109 33-12 3-5 12 2 7 17 100 42 0zM3026 9215l137 11 7 0 6 0 68-12 21 2 138-12 11-2 69-14-71-2-34-92 2-138-1-25 1-3 3-1 3 0 108-48 87 30 33 3 26 22 3 96 1 9-1 2-31 135-100 11 103 9 8 1 73 23 32-2 139 10 8 0 82-2 24 2 0-21-4 0-20 0-86-2-82-3-67-5-12 0-38-12-26-29 24-107 2-37-3-80-49-42-63-5-63-22-78 34-36 5-23 8-8 33 3 145 0 10-114 91-5 3-67 11-87-7-53-4zM4781 9072l7-89 0-10 7-5 11 3 6 15-7 86 143 0 12 0-4-11-13-53-29-76-114-28-68 50-3 97-2 21zM6067 9072l26-26 4-89-98-63-52 6-63 71-5 21-16 80 28 0 94 0zM4435 8117l2-79 2-30 1-125 0-5-24 0 0 28-1 97-5 57-1 57zM3981 7180l-80 27-33 2-28-14-2-29 12-104 2-4 0-3 3 0 4-1 4 3 123 79 12 26 34 0-36-76-64-41-34-32-47 4-27 4 5 31-18 40-8 66 4 55 54 28 64-5 56-19zM5394 7162l-54-20-21-18-44-30-8-39 30-117-2-15-36 0 6 36-23 91 13 58 66 46 4 4 11 4zM5501 7162l17-10 69-41 7-59-33-112-1-17-15 0-25 0 19 27 30 104-5 42-48 28-62 38zM3981 6520l-79-8-35 2-23 0-121 39-30 1-51 37-11 11 7 95 0 25-29 85-7 9-9 0-98 20-46 1-40-37-32-75-4-22-4-11-8-123-57-28-25-2-76-17-48-1-95 12-34-5 0 18 26 4 107-14 33 1 90 20 14 1 31 15 5 68 19 53 19 102 2 5 59 53 66-1 73-15 35 3 31-38 23-67 0-37-6-76 34-34 21-15 13-1 140-44 6 0 10-1 104 10zM4360 6207l24-55 31-88 12-43 8-53-28 0-5 30-20 69-21 60-35 80zM2563 5968l8 24 33 74 21 54 23 87 20 0 6 0-8-35-22-86-10-25-15-34-22-59zM6042 8969l-2 39-53 52-50-27 12-57 28-31 22-3z" fill="#7c83ff" stroke="#7c83ff"/><path d="M3026 7165l45 49 50 5 57-49-19-67-18-40-16-25-28-2-16 22-55 100-2 4 2 0zM2527 7878l-2 30 19 93 0 2-3 43-5 71 29 0 7-87-5-28-2-71-8-41 1-12zM669 8117l2-22-16-116-2-21 6-80-20 0 0 94 0 145zM2202 9072l-13-88-70 88 49 0zM3026 9239l99 8 43-1 31-1 53-9 52 4 85-8 47-6 66-14 95 9 28 4 56 17 53-2 107 8 36 0 61-2 43 4 0-22-24-2-82 2-8 0-139-10-32 2-73-23-8-1-103-9 100-11 31-135 1-2-1-9-3-96-26-22-33-3-87-30-108 48-3 0-3 1-1 3 1 25-2 138 34 92 71 2-69 14-11 2-138 12-21-2-68 12-6 0-7 0-137-11zM4805 9072l7-86-6-15-11-3-7 5 0 10-7 89 6 0zM4461 8117l2-101 0-3 0-16 8-119-26 0-5 0 0 5-1 125-2 30-2 79zM6344 7878l4 87-5 30 5 105 1 17 19 0 0-126 0-113zM3998 7162l-12-26-123-79-4-3-4 1-3 0 0 3-2 4-12 104 2 29 28 14 33-2 80-27 0-18zM5454 7162l62-38 48-28 5-42-30-104-19-27-43 0 50 75 17 59-2 23-28 16-66 40-24 16-69-25-38-34-21-14-4-18 26-101 17-37-15 0-25 0 2 15-30 117 8 39 44 30 21 18 54 20 33 0zM3981 6501l-54-5-61 3-39 1-101 32-49 2-57 42-28 12 7 14 14 26 5 68 0 12-19 54-39 43-68 14-24 0-22-19-25-59-21-45-2-86-3-46-83-40-36-3-62-14-64-1-81 10-43-6 0 18 34 5 95-12 48 1 76 17 25 2 57 28 8 123 4 11 4 22 32 75 40 37 46-1 98-20 9 0 7-9 29-85 0-25-7-95 11-11 51-37 30-1 121-39 23 0 35-2 79 8zM4326 6207l35-80 21-60 20-69 5-30-29 0-1 7-27 95-12 33-28 63-9 33-1 8 9 0zM2597 5968l22 59 15 34 10 25 22 86 8 35 24 0-33-142-2-8-1-3 0-6-30-80zM1677 6923l25 117 2 24-94 78-87-11-31-37-20-15-5-13 7-20 26-118 1-4 1-1-1 0-28 0-21 94-15 48 12 32 48 35 14 16 112 13 3-2 77-51 29-34 2-19-26-112 1-20-28 0zM5999 8942l-22 3-28 31-12 57 50 27 53-52 2-39zM3139 7167l-22 19-19-2-19-20 36-82zM3891 7173l-13 5-3 0-2-1 0-2 1-10zM3494 8895l110 38 4 1 2 2 1 10 8 82-8 14-25 108-92 9-67-1-28-74 3-132-3-15z" fill="#837cff" stroke="#837cff"/><path d="M2497 7878l-4 48 14 65 4 40-7 86 29 0 3 0 5-71 3-43 0-2-19-93 2-30zM659 7878l-6 80 2 21 16 116-2 22 44 0 5-53-9-61-6-90 3-35zM3026 9262l62 5 78-1 57-2 37-6 82 5 32-3 84-11 50-10 71 6 49 8 38 12 74-3 75 5 64 0 39-1 63 5 0-21-43-4-61 2-36 0-107-8-53 2-56-17-28-4-95-9-66 14-47 6-85 8-52-4-53 9-31 1-43 1-99-8zM4488 8117l0-2 12-104 0-50 5-83-34 0-8 119 0 16 0 3-2 101 26 0zM6349 8117l-1-17-5-105 5-30-4-87-36 0 1 37-15 86 3 58 6 58zM5434 6923l81 122 4 14 0 6-7 3-16 10-78 51-48-17-52-46 13-24 55-119-51 0-17 37-26 101 4 18 21 14 38 34 69 25 24-16 66-40 28-16 2-23-17-59-50-75zM3981 6483l-29-3-87 4-55 2-82 26-67 3-41 30-83 34 22 42 38 73-8 8-89 98-10 2-4 0-3-3-4-9-50-107-2-96 18-20-29-20-13 0-83-40-46-3-50-11-78-2-68 9-52-7 0 17 43 6 81-10 64 1 62 14 36 3 83 40 3 46 2 86 21 45 25 59 22 19 24 0 68-14 39-43 19-54 0-12-5-68-14-26-7-14 28-12 57-42 49-2 101-32 39-1 61-3 54 5zM4300 6207l1-8 9-33 28-63 12-33 27-95 1-7-8 0-18 0-30 89-5 17-2 4-3 8-28 97-3 24zM2632 5968l30 80 0 6 1 3 2 8 33 142 23 0-21-91-16-57-1-20-6-42-11-29zM1642 6923l12 57 9 87-67 55-61-8-38-46 23-100 37-45-55 0-1 1-1 4-26 118-7 20 5 13 20 15 31 37 87 11 94-78-2-24-25-117zM3115 7082l-36 82 19 20 19 2 22-19zM3874 7165l-1 10 0 2 2 1 3 0 13-5zM3399 8937l3 15-3 132 28 74 67 1 92-9 25-108 8-14-8-82-1-10-2-2-4-1-110-38zM3494 8911l92 32 8 75-16 25-18 80-68 8-50-2-21-55 2-98-5-32z" fill="#8b74ff" stroke="#8b74ff"/><path d="M2467 7878l-5 65 7 38 8 79-4 57 31 0 7-86-4-40-14-65 4-48zM706 7878l-3 35 6 90 9 61-5 53 43 0 8-84-1-6-3-41-8-101-1-7-10 0zM3026 9285l24 2 114-2 83-1 21-4 78 5 20 2 7 0 18-2 89-12 34-7 48 4 68 10 22 7 94-4 43 4 92-1 17 0 83 6 0-21-63-5-39 1-64 0-75-5-74 3-38-12-49-8-71-6-50 10-84 11-32 3-82-5-37 6-57 2-78 1-62-5zM4523 8117l13-92 2-18-1-105 2-24-34 0-5 83 0 50-12 104 0 2zM6303 8117l-6-58-3-58 15-86-1-37-27 0-13 0-12 72-10 57 0 11 10 99zM5386 6923l-55 119-13 24 52 46 48 17 78-51 16-10 7-3 0-6-4-14-81-122-22 0zM3981 6465l-5-1-111 6-72 2-63 20-84 3-27 20-115 47-13 3-61-43-35 0-67-32-57-4-36-8-94-2-54 7-61-8 0 18 52 7 68-9 78 2 50 11 46 3 83 40 13 0 29 20-18 20 2 96 50 107 4 9 3 3 4 0 10-2 89-98 8-8-38-73-22-42 83-34 41-30 67-3 82-26 55-2 87-4 29 3zM4281 6207l3-24 28-97 3-8 2-4 5-17 30-89-25 0-31 91-3 18-25 90-6 40zM2666 5968l11 29 6 42 1 20 16 57 21 91 24 0-10-40-29-106-3-37-7-56-10 0zM1557 6923l-37 45-23 100 38 46 61 8 67-55-9-87-12-57-33 0zM3418 8944l5 32-2 98 21 55 50 2 68-8 18-80 16-25-8-75-92-32zM5385 7096l-30-26 55-105 65 100-63 41zM1538 7012l69-83 15 141-39 32-36-4-22-28zM3491 6587l28 54 17 33-50 56-28-61-1-45zM3494 8927l69 24 6 56-23 37-12 53-45 5-33-1-13-36 1-65-7-48z" fill="#936cff" stroke="#936cff"/><path d="M2436 7878l-6 83 2 10 12 118-2 28 31 0 4-57-8-79-7-38 5-65zM751 7878l1 7 8 101 3 41 1 6-8 84 13 0 33 0 5-53 2-54-8-97-6-35zM3026 9309l81-3 55-1 108-2 6-1 22 1 70 7 23 2 66-10 46-6 16-3 25 2 89 13 4 2 115-5 11 1 67 0 47 1 4 1 7-1 10 0 83 7 0-22-83-6-17 0-92 1-43-4-94 4-22-7-68-10-48-4-34 7-89 12-18 2-7 0-20-2-78-5-21 4-83 1-114 2-24-2 0 16zM3981 9779l-6 3-5 6 11 0zM4557 8117l11-71 6-42-2-25 0-101-20 0-13 0-2 24 1 105-2 18-13 92zM6256 8117l-10-99 0-11 10-57 12-72-48 0-16 91 2 35 6 87-2 26 20 0zM3981 6445l-12 1-104 8-3 0-5 1-81 2-44 14-102 4-12 9-52 21-82 20-40-28-57 0-50-24-69-5-22-5-109-2-41 5-70-9 0 18 61 8 54-7 94 2 36 8 57 4 67 32 35 0 61 43 13-3 115-47 27-20 84-3 63-20 72-2 111-6 5 1 0-4zM4262 6207l6-40 25-90 3-18 31-91-24 0-26 74-6 39-20 70-8 56zM2696 5968l7 56 3 37 29 106 10 40 18 0 5 0-2-7-38-137-5-53-5-42zM5412 7106l63-41-65-100-55 105 30 26zM1525 7070l22 28 36 4 39-32-15-141-69 83zM3457 6624l1 45 28 61 50-56-17-33-28-54zM3437 8952l7 48-1 65 13 36 33 1 45-5 12-53 23-37-6-56-69-24zM5400 7081l-8-7 14-26 16 25-16 10zM1557 7056l20-24 4 41-11 9-11-1-6-8zM3493 8943l47 16 4 38-30 49-6 25-21 2-16-1-6-17 0-30-10-65z" fill="#9b64ff" stroke="#9b64ff"/><path d="M2406 7878l-2 21-5 50-2 19 2 37 12 112 1 0 30 0 2-28-12-118-2-10 6-83zM795 7878l6 35 8 97-2 54-5 53 47 0 1-15 3-113-3-48-11-63zM3026 9334l108-4 20 3 24-2 101-3 14-3 76 8 41 4 113-17 2 0 1 0 6 1 101 12 101-4 24 0 91 2 23 5 39-4 54 2 16 1 0-21-83-7-10 0-7 1-4-1-47-1-67 0-11-1-115 5-4-2-89-13-25-2-16 3-46 6-66 10-23-2-70-7-22-1-6 1-108 2-55 1-81 3zM3144 9788l0-15-13-18-41-6-64 9 0 30 102 0zM3970 9788l5-6 6-3 0-40-36 12-29 37zM4592 8117l3-20 14-94-3-59 0-66-34 0 0 101 2 25-6 42-11 71zM6210 8117l2-26-6-87-2-35 16-91-49 0-7 41 4 79 2 35-6 84zM3981 6426l-28 2-85 7-24 1-39 6-46 1-24 8-103 4-15-1-3 0-21 4-116 28-19-13-78 0-35-17-80-6-9-2-124-2-27 4-79-11 0 18 70 9 41-5 109 2 22 5 69 5 50 24 57 0 40 28 82-20 52-21 12-9 102-4 44-14 81-2 5-1 3 0 104-8 12-1zM4243 6207l8-56 20-70 6-39 26-74-25 0-19 57-10 60-15 50-9 72zM2718 5968l5 42 5 53 38 137 2 7 23 0-13-38-29-103-6-71-3-27zM5406 7083l16-10-16-25-14 26 8 7zM1553 7073l6 8 11 1 11-9-4-41-20 24zM3455 8960l10 65 0 30 6 17 16 1 21-2 6-25 30-49-4-38-47-16zM3493 8959l24 8 2 19-34 54-11-73z" fill="#a35cff" stroke="#a35cff"/><path d="M2373 7878l-4 41-6 50 5 98 5 50 38 0-12-112-2-37 2-19 5-50 2-21-6 0zM839 7878l11 63 3 48-3 113-1 15 18 0 27 0 8-32-3-116-1-2-9-52-6-37zM3026 9359l71-3 47 7 56-4 79-3 37-6 55 5 57 7 84-13 45-1 76 9 71-3 58 0 60 1 41 8 71-6 47 2 0-19 0-5-16-1-54-2-39 4-23-5-91-2-24 0-101 4-101-12-6-1-1 0-2 0-113 17-41-4-76-8-14 3-101 3-24 2-20-3-108 4zM3026 9758l64-9 41 6 13 18 0 15 22 0 1-37-33-43-98-14-10 1zM3916 9788l29-37 36-12 0-40-66 22-52 67zM4629 8117l2-27 13-89-5-91 0-32-33 0 0 66 3 59-14 94-3 20 13 0zM6164 8117l6-84-2-35-4-79 7-41-40 0-8 0 0 10 5 106-4 56-5 67zM3981 6406l-43 4-68 5-43 2-74 12-10 0-6 2-24 1-97-7-20 3-125 19-3 0-7 1-89 0-19-10-67-4-24-5-9 1-24 3-101-2-15 2-87-12 0 18 79 11 27-4 124 2 9 2 80 6 35 17 78 0 19 13 116-28 21-4 3 0 15 1 103-4 24-8 46-1 39-6 24-1 85-7 28-2zM4225 6207l9-72 15-50 10-60 19-57-25 0-13 39-14 81-8 31-11 79-2 9 3 0zM2740 5968l3 27 6 71 29 103 13 38 24 0-25-70-19-69-7-88-2-12zM3474 8967l11 73 34-54-2-19-24-8zM3493 8975l1 0 0 1-1 1-1-2z" fill="#ab54ff" stroke="#ab54ff"/><path d="M2340 7878l-1 12-11 79 6 118-3 30 11 0 31 0-5-50-5-98 6-50 4-41zM883 7878l6 37 9 52 1 2 3 116-8 32 44 0 22-84-2-52-18-47-10-56-46 0zM3026 9384l35-2 73 11 88-7 57-1 60-10 34 3 74 8 51-7 92-3 44 5 40-1 93-1 28 1 59 11 103-9 24 1 0-24-47-2-71 6-41-8-60-1-58 0-71 3-76-9-45 1-84 13-57-7-55-5-37 6-79 3-56 4-47-7-71 3zM3026 9695l10-1 98 14 33 43-1 37 23 0 1-58-51-67-1-1-1 1-111-4 0 24zM3863 9788l52-67 66-22 0-40-2 0-94 32-44 56-12 26-4 15 14 0zM4669 8117l-1-6 4-64 7-48-7-114 1-7-3 0-31 0 0 32 5 91-13 89-2 27 36 0zM6119 8117l5-67 4-56-5-106 0-10-44 0 1 64 2 52-5 76-5 47 29 0zM3981 6387l-58 5-50 4-64 2-68 11-26-6-101-7-36 6-97 15-31 1-70 5-16 0-3-2-12 0-92-18-33 4-94 9-7 0-1 0-7-1-89-16 0 18 0 4 87 12 15-2 101 2 24-3 9-1 24 5 67 4 19 10 89 0 7-1 3 0 125-19 20-3 97 7 24-1 6-2 10 0 74-12 43-2 68-5 43-4zM4205 6207l2-9 11-79 8-31 14-81 13-39-24 0-8 22-17 102-3 11-4 29-14 75zM2762 5968l2 12 7 88 19 69 25 70 23 0-35-101-10-36-8-87 0-15-5 0zM3492 8975l1 2 1-1 0-1-1 0z" fill="#b34cff" stroke="#b34cff"/><path d="M2286 7878l0 76 0 20-3 28-13 115 61 0 3-30-6-118 11-79 1-12-13 0zM930 7878l10 56 18 47 2 52-22 84 43 0 25-94 21-9 14-30-1-33-33 16-25-66-4-23zM3026 9410l2-1 97 14 118-9 36-1 82-13 14 1 90 10 19-3 139-4 11 1 10 0 88-1 39 4 19 1 55 10 135-12 1 0 0-24-24-1-103 9-59-11-28-1-93 1-40 1-44-5-92 3-51 7-74-8-34-3-60 10-57 1-88 7-73-11-35 2 0 24zM3026 9659l111 4 1-1 1 1 51 67-1 58 22 0 2-80-35-46-9-29-33-6-40 4-70-2zM3825 9788l4-15 12-26 44-56 94-32 2 0 0-42-107 38-19 6-9 11-34 73-11 43zM4724 8117l-11-104 0-9 1-6-1-16 16-104-56 0-1 7 7 114-7 48-4 64 1 6zM6072 8117l5-47 5-76-2-52-1-64-44 0 1 109-2 6-1 4-13 120 7 0zM3981 6368l-73 6-32 2-85 3-45 8-63-15-70-5-54 8-68 11-58 3-67 5-29-2-85-16-58 7-68 7-34-3-66-12 0 24 89 16 7 1 1 0 7 0 94-9 33-4 92 18 12 0 3 2 16 0 70-5 31-1 97-15 36-6 101 7 26 6 68-11 64-2 50-4 58-5zM4183 6207l14-75 4-29 3-11 17-102 8-22-25 0-2 5-7 44-19 75 2 25-17 90zM2785 5968l0 15 8 87 10 36 35 101 23 0-46-132-1-3 0-5-3-99zM3968 6095l18 32 46 5-14-39-17-17-11 1-19-1z" fill="#bb44ff" stroke="#bb44ff"/><path d="M2218 7878l0 16 2 94-11 119-6 10 11 0 56 0 13-115 3-28 0-20 0-76zM978 7878l4 23 25 66 33-16 1 33-14 30-21 9-25 94 26 0 114 0 128 0 1 0 2-5 35-107-61-117-4-7 0-3-120 0-90 0zM3026 9509l81-57 8 2 150-12 14 0 62-10 41 3 84 11 12-3 127-1 24 2 48 12 93 10 49 1 32 1 80-2 50 53 0-110 0-2-1 0-135 12-55-10-19-1-39-4-88 1-10 0-11-1-139 4-19 3-90-10-14-1-82 13-36 1-118 9-97-14-2 1zM3026 9629l70 2 40-4 33 6 9 29 35 46-2 80 23 0 2-102-20-26-17-57-66-11-78 8-29-1zM3801 9788l11-43 34-73 9-11 19-6 107-38 0-43-42 15-84 20-35 8 0 47-25 54-19 70zM4779 8117l-6-61 13-60-10-56 9-62-56 0-16 104 1 16-1 6 0 9 11 104zM6020 8117l13-120 1-4 2-6-1-109-23 0-110 0-111 0-55 0 47 90 3 3-16 144-1 2 3 0 141 0zM3981 6348l-88 8-14 1-106 4-21 3-101-24-39-2-71 11-40 6-86 5-45 3-67-3-56-11-82 10-36 4-71-6-32-6 0 24 66 12 34 3 68-7 58-7 85 16 29 2 67-5 58-3 68-11 54-8 70 5 63 15 45-8 85-3 32-2 73-6zM4161 6207l17-90-2-25 19-75 7-44 2-5-7 0-24 0-14 45-19 74 6 84-7 36zM2811 5968l3 99 0 5 1 3 46 132 23 0-26-77-18-59-1-26-2-77zM3971 6076l19 1 11-1 17 17 14 39-46-5-18-32zM3018 6057l-14-1-18-2-15 16 4 41 35 6 11-38zM3943 6092l40 75 104 10-29-89-40-38-26 2-43-2zM5942 7977l-31 119-122-125 34-65 77 12 56 5z" fill="#c33cff" stroke="#c33cff"/><path d="M2102 7878l34 91 4 29-4 26-53 93 120 0 6-10 11-119-2-94 0-16-19 0zM1222 7878l0 3 4 7 61 117-35 107-2 5 106 0 3 0 0-5 2-117-3-63-43-54-90 0zM3026 9599l29 1 78-8 66 11 17 57 20 26-2 102 22 0 3-123-5-6-24-86-27-4 21-5 14-9 76-73 84 8 44 6 41-10 78 0 61 4 120 31 27 3 14 0 82 4 12-1 15 16-27 7-82 17 1 111-6 12-26 98 24 0 19-70 25-54 0-47 35-8 84-20 42-15 0-14 0-41-50-53-80 2-32-1-49-1-93-10-48-12-24-2-127 1-12 3-84-11-41-3-62 10-14 0-150 12-8-2-81 57 0 69zM4891 8117l23-11 8-49 7-87 0-11-14-14-63-67-16 0-51 0-9 62 10 56-13 60 6 61 49 0zM5769 8117l1-2 16-144-3-3-47-90-59 0-26 0 8 54 51 54-8 70-32 61zM3981 6209l-3 2-101 114-119 14-1 1-3 1-15-4-120-28-9 0-87 14-13 2-113 6-23 1-104-4-28-6-106 13-4 1-78-7-28-111 0 110 0 23 32 6 71 6 36-4 82-10 56 11 67 3 45-3 86-5 40-6 71-11 39 2 101 24 21-3 106-4 14-1 88-8 0-12zM4139 6207l7-36-6-84 19-74 14-45-32 0-35 107-1 7 1 29-9-29-62-58-40 3-67-3-10 65 63 117 3 1 140 0zM2837 5968l2 77 1 26 18 59 26 77 24 0-5-15-37-123-2-54-2-47zM3021 6079l-11 38-35-6-4-41 15-16 18 2 14 1zM3949 6050l43 2 26-2 40 38 29 89-104-10-40-75zM5956 7923l-56-5-77-12-34 65 122 125 31-119zM3048 6030l-41-2-53-7-42 48 13 120 101 17 32-112z" fill="#cb34ff" stroke="#cb34ff"/><path d="M1923 7878l1 25 42 113-40 97 0 4 2 0 110 0 45 0 53-93 4-26-4-29-34-91-36 0-115 0zM1315 7878l43 54 3 63-2 117 0 5 30 0 1-46 1-79-5-99 2-15-13 0zM3278 9788l1-38 29-98-11-50 102-50 8-8 7 0 4 1 69-16 31 0 98 8 84 21 30 26-1 95-16 77 7 32 21 0 11 0 26-98 6-12-1-111 82-17 27-7-15-16-12 1-82-4-14 0-27-3-120-31-61-4-78 0-41 10-44-6-84-8-76 73-14 9-21 5 27 4 24 86 5 6-3 123zM5056 8117l-21-85-12-28 1-18 6-66 3-42-7 0-122 0-52 0 63 67 14 14 0 11-7 87-8 49-23 11 33 0 107 0zM5670 8117l32-61 8-70-51-54-8-54-34 0 18 121 0 1 0 2-17 115 26 0zM3984 6207l-3-1-63-117 10-65 67 3 40-3 62 58 9 29-1-29 1-7 35-107-33 0-20 64-37-34-54 4-91-4-14 88 30 55-13 56-51 58-57 7-39 4-59 27-80-16-57-8-61 13-113 19-13 0-1 0-137-5-4-1-84-50-39-51-29-47 10-38-16-106-68-4-88-11-33 38-1-40-1-18-26 0 2 47 2 54 37 123 5 15 5 0 113 0 0 11 28 111 78 7 4-1 106-13 28 6 104 4 23-1 113-6 13-2 87-14 9 0 120 28 15 4 3-1 1-1 119-14 101-114 3-2 0-2zM3058 6094l-32 112-101-17-13-120 42-48 53 7 41 2z" fill="#d32cff" stroke="#d32cff"/><path d="M1854 7878l2 85 6 16-6 13-7 125 77 0 0-4 40-97-42-113-1-25zM1388 7878l-2 15 5 99-1 79-1 46 30 0 1-87 1-41-3-52 10-59zM3316 9788l44-118 9-28-2-8 19-9 31-13 75-41 110 9 18 28 46 38 0 29-5 23 20 90 39 0-7-32 16-77 1-95-30-26-84-21-98-8-31 0-69 16-4-1-7 0-8 8-102 50 11 50-29 98-1 38 7 0zM5153 8117l-1-1 0-4-35-112 3-66 4-56-91 0-3 42-6 66-1 18 12 28 21 85 95 0zM5618 8117l17-115 0-2 0-1-18-121-34 0 12 81 3 49-5 42-10 67zM4075 5968l-2 8-5-4-68 5-116-5-8 52-46 20 14 43-12 92-5 7-59 7-117 53-9-2-139-18-16 3-35 6-92-22-16-1-98 14-48-43 19-57-18-36-82-68-7-46-95-6-19-2-92 0-16 0 1 18 1 40 33-38 88 11 68 4 16 106-10 38 29 47 39 51 84 50 4 1 137 5 1 0 13 0 113-19 61-13 57 8 80 16 59-27 39-4 57-7 51-58 13-56-30-55 14-88 91 4 54-4 37 34 20-64z" fill="#db24ff" stroke="#db24ff"/><path d="M1798 7878l1 68-7 32 17 44-15 95 17 0 38 0 7-125 6-13-6-16-2-85-4 0zM1428 7878l-10 59 3 52-1 41-1 87 30 0 2-129 0-3 0-3 16-104zM3359 9788l26-69 15-47 27-23 72-40 64 5 38 56 28 59 13 59 39 0-20-90 5-23 0-29-46-38-18-28-110-9-75 41-31 13-19 9 2 8-9 28-44 118zM5213 8117l-18-41 1-67 12-122 4-9-7 0-81 0-4 56-3 66 35 112 0 4 1 1zM5583 8117l10-67 5-42-3-49-12-81-34 0 6 42 7 96-11 81-3 20zM3701 5968l-23 107 9 35-6 24-34 14-51-1-110 36-32-12-85-15-69-86-4-69-1-33-42 0-135 0-103 0-19 0 19 2 95 6 7 46 82 68 18 36-19 57 48 43 98-14 16 1 92 22 35-6 16-3 139 18 9 2 117-53 59-7 5-7 12-92-14-43 46-20 8-52 116 5 68-5 5 4 2-8-4 0-70 0-120 0-127 0z" fill="#e31cff" stroke="#e31cff"/><path d="M1744 7878l0 35-15 71 38 97-6 36 33 0 15-95-17-44 7-32-1-68zM1467 7878l-16 104 0 3 0 3-2 129 14 0 37 0 10-77 9-53-17-49 5-60-2 0zM3400 9788l25-78 60-51 21-12 19 2 12 16 28 62 30 61 23 0 24 0-13-59-28-59-38-56-64-5-72 40-27 23-15 47-26 69 31 0zM5273 8117l-36-80 1-26 5-47 32-86-63 0-4 9-12 122-1 67 18 41zM5548 8117l3-20 11-81-7-96-6-42-35 0 1 2 11 144-3 22-13 71 24 0zM3629 5968l-9 40-30 102-94 31-82-32-31-5-25-31-2-25-1-80-60 0 1 33 4 69 69 86 85 15 32 12 110-36 51 1 34-14 6-24-9-35 23-107z" fill="#eb14ff" stroke="#eb14ff"/><path d="M1689 7878l0 3-6 28-20 81-23 55 14 72 87 0 20 0 6-36-38-97 15-71 0-35zM1507 7878l-5 60 17 49-9 53-10 77 69 0 2-18 19-109-34-103 0-9zM3438 9788l12-40 48-40 39 80 58 0-30-61-28-62-12-16-19-2-21 12-60 51-25 78zM5358 8117l-3-62-20-53 24-61-11-63-35 0-38 0-32 86-5 47-1 26 36 80 41 0zM5510 8117l13-71 3-22-11-144-1-2-2 0-63 0-22 85 5 39 46 74-8 41zM3551 5968l-41 125-2 5-3 1-6-2-18-32-51-97-21 0-54 0 1 80 2 25 25 31 31 5 82 32 94-31 30-102 9-40-19 0z" fill="#f30cff" stroke="#f30cff"/><path d="M1556 7878l0 9 34 103-19 109-2 18 20 0 65 0-14-72 23-55 20-81 6-28 0-3-5 0-118 0zM3537 9788l-39-80-48 40-12 40 38 0zM5470 8117l8-41-46-74-5-39 22-85-44 0-57 0 11 63-24 61 20 53 3 62 86 0zM3430 5968l51 97 18 32 6 2 3-1 2-5 41-125-30 0z" fill="#ff00ff" stroke="#ff00ff"/></g><path transform="scale(.1)" d="M3639 7739l4-2-2 5-2 3-18-1 15-5 3 0M3408 7744l43 15-54 16-13-22 6-18 18 9M3026 7858l15 2 95-28 35-24 61-65-105-103-15-12 1-17-21-38-64-85 103 31 36 7-19 63 120 11 55 17 48-13 100 34 8 4 7 2 8-2 143-17 24-9 82-40 53-8 72-49 52-23 61-2M4025 7878l17 41 65 38 17 28 1 4-1 7-5 6-96 19-37 11-66-29 11-61-70 21-20 15-90-33-91-16-47 7-49-32-36-14-24 8-125 30-53-2-48 7-48-4-44 40-68 43-26-5-48 25-37-8-117-56 17-16 98-74M3981 7527l-86 96-43 37-71 23-23 91 87 58 63 1 73 16M5269 6207l-19-111 2-22-8-38-6-68M5652 5968l3 22 5 29-3 93-20 38-47 57M1707 5968l0 4 21 136 53 55 5 44M1397 6207l-20-113-4-29-56-92 1-5M3026 7432l69 13 49 15 72 14 25 5 32 0 105 29 24 0 106-12 2 0 97 8 68-21 78 3 78-33 35-4 98-13 17-1M2884 8117l-7-47-39-100 19-42 2-50M3981 8213l-67-16-44-20-43 9-62 44-7 1-2 0-139-11-1 0-117-27-46 21-55-8-38 7-80 7-126 3-31-5-20-1-77-31M4137 7878l29 49 3 49-4 86-41 55M4884 6207l3-50 8-59 5-120 2-10M5924 5968l1 16-4 82-1 59 0 82M2093 5968l0 129 3 11 16 43 22 56M1093 6207l1-29-11-99-3-60 33-51M3026 7382l14 0 114 20 7-1 6 2 71 15 109 0 8-2 115 1 6-1 111-8 12 5 55 3 104 3 25-10 75-8 48-6 75-6M2792 8117l-1-3-11-135 3-35-3-66M1583 8833l78 56 7 89-66 55-71-29-31-10-13-17 14-35 31-60 22-49M5458 8833l11 27 24 80-79 84-64-21-37-61 26-69 63-40M3981 8331l-17 0-91-16-41 4-100-4-46-3-64-1-63 6-75 18-54 1-22 0-23-3-126-6-79-5-36-5-27-1-91-10M4213 7878l0 10 10 83-11 133-1 13M4689 6207l26-99 3-31 16-86 5-23M6058 5968l10 36-15 64-4 78 7 61M2253 5968l18 53 24 36 10 70 7 71 3 9M949 6207l10-31 4-75-6-75-3-58M3399 7026l1 0 124-31 38 4 40 47-39 49-64 11-99-78-1-1 0-1M928 7162l11-63 3-49 39-50 92 5 55-8 29 31 1 51-3 83M1912 7162l4-7 28-123 6-33 54-26 45-20 111 28 60 52 1 2 1 2-10 122 1 3M3026 7336l46 2 71 12 59-5 33 9 37-10 88-14 43 0 107-7 38-2 60 23 74 3 71-5 36 19 62-6 39-2 91-6M2725 8117l-10-67-5-54 8-103 0-15M1769 8833l4 45 6 65-1 83-63 32-16 14M1456 9072l-14-37-51-68 26-64 13-70M5278 9072l-6-29-47-83 3-75 20-52M5577 8833l32 54-1 80-39 74-13 31M3981 8394l-78 0-30-5-69 18-88-3-55 22-28-4-95 66 92-8 26 48 44 77 5 41 22 63-91 40-50 33-82-6-63-14-49 6-107-31-6-8 61-140 49-91 11-7 88 0-85-41-16 1-38-6-102-44-21-11-74-9-106 2-20 8M4288 7878l-1 70 4 32-4 50-8 87M4794 7162l2-7 4-16 30-113 46-35 70-54 39 14 73 47 7 4 2 10-1 110 13 40M5806 7162l15-66 27-77 6-13 9-7 98 19 74 27 14 117M4557 6207l12-28 19-38 7-32 19-120 4-21M6186 5968l-15 69 2 41 3 55 9 74M2386 5968l3 11 41 108 1 4 23 94 8 22M822 6207l16-69-5-32 0-54-8-84M3026 6703l74-63 74-7 60 40-7 136-54 21-25 5-11 0-9-6-102-116M3335 6955l60 6 62-3 56-14 85 9 42 49 61 29-25 45-73 91 0 3-4 8-6-3-96 36-69-3-40-8-15-45-17-36-39-81 18-83M3131 9064l14-108 13-22 28 10-5 22-2 18-36 90-4 2-2 1-3-1-3-2 0-10M3789 6703l32-40 49-15 93 24-10 119-62 37-57 17-14 2-12-26-18-66-1-52M3849 9021l-19-36 0-22 29-38 20 45-5 20-25 31M639 7136l67-10 34-66-50-88 28-49M1772 7162l24-28 11-112 2-3 1-3 0-3-1-3 4-87M3026 7290l78 4 29 5 76-7 28-25 76-31-23-69-44-92-11-25-75-120-134-7-79 13-43 130-18 43-38 53M2659 8117l-6-39-11-72-1-33 6-95M3026 8550l48 48 63 69 77-21 35-77-1-84 4-12-10-4-59-31-29-4-40 1-88 35M1948 8833l1 12-44 111-8 77 15 39M809 8833l-39 21-41 79-9 8 0 7-2 12 2 112M1296 9072l2-34-24-70-59-131 2-4M2434 9072l1-52 4-52 2-7 0-7-24-121M2975 9072l-18-76-7-45-29-28-66 12-11 101-15 36M3981 9089l-69 60-53-1-80-4-33-70-11-20 0-71 2-44-1-11-101-88-133-12-7-2-9 4-113 14-71 24-24 101 1 43-6 72-36 29-46 27-38 6-84-6-43-42M4165 9072l-6-73-46-3-39 37-33 39M5119 9072l-11-45-36-92 6-28-21-21-26-53M6277 9072l-3-24-4-110 3-20-20-6-84-79M5761 8833l-7 118-3 30-3 10-27 81M4638 8833l-14 25-26 45-40 15-12 32 39 76 6 30-1 16M3981 8457l-10 0-91-17-103 28 51 68-4 73 30 24 43 7 84-42M4362 7878l-3 81 0 32-11 118 0 8M4153 7162l-60-78-17-34 30-123-30-4M5615 7162l25-15 12-101-4-14-5-51 5-40 10-18M6316 6923l-41 19-43 75 59 118 77 22M5177 6923l14 86-7 28 23 105 29 20M3981 6917l-33 4-105 9-83 11 14 98-37 82-6 11-13 16 12 99-5 10 13-1 103 54 5 0 109-5 25-2 1-1M4439 6207l2-4 51-129 6-37 17-69M6307 5968l7 70-6 56 0 36 5 77M2484 5968l40 88 10 22 47 123 2 6M701 6207l-9-62-2-55 2-60 0-62M3026 6587l5 1 116-14 22-2 12 8 101 47 17 46 6 30 0 114 1 60 78 17 6 1 9-1 104-1 13-3 98 7 84-102 9-26-1-67-2-29 24-25 28-33 113-35 49 13 63 0M1368 6923l-7 57-25 80 36 93 11 9M1659 7162l32-21 50-59 3-33-22-96 1-30M3026 7192l33 35 63 7 74-63-14-49-28-61-24-38-43-2-24 33-40 73-20 35M2578 8117l6-73-6-41-4-106-3-15 1-4M1130 9072l-5-20-98-10-50-102-8 114-2 18M2229 9072l-12-90 3-18-16-15-11-4-13 2-59 17-43 72 6 36M3981 9219l-15-2-71 2-21 0-20-1-129-9-23 0-75-23-3-3 32-139 0-14-3-97-36-31-47-4-76-27-94 42-19 3-12 4-4 17 3 121 0 40 20 54-47 45-94 8-7-1-35 6-36 6-27-2-116-10M4883 9072l3-39-31-80-58-14-34 25-2 50-5 58M6017 9072l48-46 2-62-68-44-36 4-43 50-21 91 13 7M4429 7878l0 16-1 112-4 42-1 69M4014 7162l-24-49-95-61-18-17-24 2-14 2 2 17-9 20-10 86 3 41 40 21 47-4 69-23M5476 7162l41-25 58-34 6-50-37-124-4-6M5279 6923l4 25-27 105 10 47 54 38 13 11 35 13M4342 6207l30-68 25-73 17-58 6-40M2581 5968l16 43 23 52 15 38 28 106M3026 6536l30 4 101-12 41 1 83 18 19 2 46 22 6 98 11 30 11 59 18 43 49 44 55-1 86-18 21 1 18-22 27-76 0-31-7-86 21-22 38-27 22-1 130-41 15 0 23-2 91 9M1460 6923l-18 80-19 61 15 40 61 45 6 7 49 6M724 7878l-1 16 8 119 5 38-6 66M2492 8117l5-74-5-56-11-54 4-55M3981 9279l-71-5-30 1-75 0-62-5-82 4-32-10-57-9-62-5-43 9-99 13-10 1-95-6-31 5-67 1-92 2-47-4M6284 8117l-7-75-2-38 19-109-1-17M4519 7878l-4 59 0 72-8 70-5 38M5407 6923l-12 24-62 121 43 37 40 15 91-59-42-65-49-73M4273 6207l5-30 28-102 1-5 35-102M2680 5968l3 8 8 57 2 27 21 76 17 71M3026 6485l56 8 62-8 85 2 43 9 51 4 77 37 22 0 46 32-29 33 2 75 47 103 85-94-30-57-28-53 104-43 36-26 74-3 74-24 62-1 97-5 19 2M1579 6923l-52 63-19 83 32 39 51 6 56-46-12-112-7-33M3425 8948l6 38-1 85 17 47 44 1 58-6 16-69 19-30-7-68-83-29-69 31M850 7878l12 71 3 34-3 129-1 5M2401 8117l-10-96-3-53 4-26 6-64M3026 9742l50-7 56 8 18 24 0 21M3902 9788l35-44 44-15M3981 9340l-64-2-47 5-28-6-83-1-33 0-93 3-100-12-10 0-109 16-44-5-71-6-20 3-95 3-32 2-28-4-98 4M6153 8117l7-99-2-21-4-91 4-28M4614 7878l0 58 4 66-16 109-1 6M4220 6207l10-76 13-45 11-66 18-52M2746 5968l3 23 6 75 26 95 16 46M3026 6435l81 10 24-3 128 2 5 2 83 5 31 15 83 0 14 10 82-20 53-8 7-2 36 3 82-3 20-6 37-1 48-8 28-1 81-6 32-3M3479 8969l8 55 25-41-1-14-18-6-14 6M983 7878l4 20 21 55 52-25 2 51-23 49-33 13-20 76M2263 8117l12-101 3-41 0-28 0-69M3026 9625l65 3 44-5 38 6 9 33 34 44-2 82M3798 9788l12-46 37-78 4-6 11-4 119-42M3981 9415l-3-3-23 1-111 10-37-8-36 0-73-8-58 1-6 0-7-1-144 5-16 2-92-10-11-1-85 13-33 1-122 10-87-13-11 8M6007 8117l11-105 6-21 7-28-1-85M4736 7878l-18 115 0 4 0 2 0 3 12 115M4159 6207l15-84-2-31 24-96 4-25 1-3M2814 5968l3 103 0 1 1 4 46 131M3026 6372l62 12 38 3 65-7 60-7 82 16 33 1 65-4 61-4 65-10 56-9 67 5 67 16 42-7 87-3 30-2 75-7M3968 6073l22 1 13-1 20 19 15 45-52-5-21-38 3-21M1387 7878l-2 14 5 100-1 80-1 45M1928 8117l41-100-43-116-1-23M3721 9788l-7-30 16-79 2-97-29-24-87-23-97-7-32 0-68 15-5 0-10-1-10 10-99 49 12 51-28 95-1 41M5619 8117l17-116 0-1-18-122M5030 7878l-2 27-6 81-2 22 14 34 19 75M2888 5968l0 19 2 41 34-39 87 11 67 4 16 105-11 40 28 45 41 54 82 49 3-1 1 0 140 6 2 0 18-1 107-18 63-12 55 7 81 17 58-27 37-4 60-7 52-59 12-56-30-56 14-87 90 3 54-3 37 34 21-65M1500 7878l-3 16-4 53 14 40-8 43-11 87M1767 8117l7-46-34-88 13-64 0-41M3605 9788l-17-35-40-87-16-23-27-3-30 17-54 46-27 85M5517 8117l9-51 6-44-10-135-2-9M5265 7878l-28 73-6 60-1 33 33 73M3344 5968l2 72 2 32 33 41 40 7 73 28 110-36 23-77 14-67" fill="none" stroke="#000" stroke-opacity="0.64" stroke-width="13.5" stroke-linejoin="round"/><rect x="55.00" y="587.80" width="592.30" height="400.20" fill="none" stroke="#262626" stroke-opacity="0.85" stroke-width="1"/><text x="63.85" y="1020.30" text-anchor="middle" class="tk">-3</text><text x="159.35" y="1020.30" text-anchor="middle" class="tk">-2</text><text x="254.85" y="1020.30" text-anchor="middle" class="tk">-1</text><text x="350.35" y="1020.30" text-anchor="middle" class="tk">0</text><text x="445.85" y="1020.30" text-anchor="middle" class="tk">1</text><text x="541.35" y="1020.30" text-anchor="middle" class="tk">2</text><text x="636.85" y="1020.30" text-anchor="middle" class="tk">3</text><text x="45.50" y="987.70" text-anchor="end" class="tk">0</text><text x="45.50" y="892.20" text-anchor="end" class="tk">1</text><text x="45.50" y="796.70" text-anchor="end" class="tk">2</text><text x="45.50" y="701.20" text-anchor="end" class="tk">3</text><text x="45.50" y="605.70" text-anchor="end" class="tk">4</text><path d="M63.85 988.00v-6.0M63.85 587.80v6.0M159.35 988.00v-6.0M159.35 587.80v6.0M254.85 988.00v-6.0M254.85 587.80v6.0M350.35 988.00v-6.0M350.35 587.80v6.0M445.85 988.00v-6.0M445.85 587.80v6.0M541.35 988.00v-6.0M541.35 587.80v6.0M636.85 988.00v-6.0M636.85 587.80v6.0M55.00 978.80h6.0M647.30 978.80h-6.0M55.00 883.30h6.0M647.30 883.30h-6.0M55.00 787.80h6.0M647.30 787.80h-6.0M55.00 692.30h6.0M647.30 692.30h-6.0M55.00 596.80h6.0M647.30 596.80h-6.0" stroke="#262626" stroke-opacity="0.85" stroke-width="1" fill="none"/><text x="336.75" y="1052.20" class="lb">x<tspan class="sb" dy="13.5">1</tspan></text><text x="0.80" y="768.10" class="lb">x<tspan class="sb" dy="13.5">2</tspan></text><text x="350.85" y="573.80" text-anchor="middle" class="tr" ><tspan font-size="37" dy="5">∞</tspan><tspan dy="-5">-</tspan>MALA</text><g transform="scale(.1)" stroke-width="7" stroke-linejoin="round"><path d="M12525 6207l-18-43 0-53 23-73 51-17 12-32 25-21-45 0-109 0-140 0-143 0-27 0 42 88 3 10-6 18-46 123 39 0 128 0 107 0zM8322 5968l-17 32 40 85 16 104 30-11-18 29 147 0 92 0 79 0-22-47 20-78-38-46-17-68-20 0-79 0-155 0zM10157 7525l2 3-1 12-8 106 15 23 22 7 32 8 14 60 16 83-28 52-55 44-47-9-50 7-77 13-68 4-42 3-48 43-18 31-2 17 21 19 38 17 59 30 87 7 31 0 37-3 55-7 16-7 11 6 68 13 79 12 15 1 110 41 71 0 37 2 42-4 35-27 38-53 71 45 49 11 66-23 42-41 72-31 40-20 3-9 1-9-3-7-4-7-61-48-48-21-43 3-79 4-49-3-42-29-14-8-2-20-45-115-3-69 9-30 19-30 60-31-21-58-36-3-13-3-112-30-48-7-28 0-101 6-45-1z" fill="#00ffff" stroke="#00ffff"/><path d="M11003 8117l26-13 18-55 7-51-17-39-24-43-21-16-50-22-51 0 0-63-78-64-34-44-21-44 23-12-49-134-84-8-31-7-90-24-39-6-43 1-84 5-64-1-123 26-19 2-22-1-77 25-44 0-46 86 51 17 45 23 44 66 39 13-44 91-12 25-8 1-95 16-50-3 0 14-33 0-52 3-2 3-73 120-8 66 50 47 27 0 91 0 0 37 46 12 65-1 56-4 65 1 99 33 13 2 146 9 16 6 10 0 81 3 80-6 8-3 15 0 67-33 58 13 56-19 74-20 0-30zM10891 7542l-36-6-7 68 19 30 24 11 0-22 0-76zM12147 6207l46-123 6-18-3-10-42-88-36 0-158 0-14 0 14 12 79 90-13 70-28 67 118 0zM12739 6207l38-124 27-20-18-30 4-65-115 0-57 0-25 21-12 32-51 17-23 73 0 53 18 43 60 0 75 0zM8634 5968l17 68 38 46-20 78 22 47 63 0 85 0 27 0-13-91-5-37-25-38 56-73-131 0zM8012 5968l19 112-7 15 20 23 62 89 35 0 145 0 71 0 16 0 18-29-30 11-16-104-40-85 17-32-51 0-144 0-70 0zM10299 7495l45 1 101-6 28 0 48 7 112 30 13 3 36 3 21 58-60 31-19 30-9 30 3 69 45 115 2 20 14 8 42 29 49 3 79-4 43-3 48 21 61 48 4 7 3 7-1 9-3 9-40 20-72 31-42 41-66 23-49-11-71-45-38 53-35 27-42 4-37-2-71 0-110-41-15-1-79-12-68-13-11-6-16 7-55 7-37 3-31 0-87-7-59-30-38-17-21-19 2-17 18-31 48-43 42-3 68-4 77-13 50-7 47 9 55-44 28-52-16-83-14-60-32-8-22-7-15-23 8-106 1-12-2-3z" fill="#0cf3ff" stroke="#0cf3ff"/><path d="M10891 8147l-74 20-56 19-58-13-67 33-15 0-8 3-80 6-81-3-10 0-16-6-146-9-13-2-99-33-65-1-56 4-65 1-46-12 0 46 102 25 6 0 4 0 140 2 36 12 60-12 14 2 137 13 80 17 6 0 5 0 97-30 118-5 10-1 39 4 101-27zM11078 8117l10-29 11-94-31-71-25-45-24 0-77 0 50 22 21 16 24 43 17 39-7 51-18 55-26 13 30 0zM10891 7645l-24-11-19-30 7-68 36 6 0-22-122-20-6 0-9-2-104-10-48-10-70-19-30-5-57 2-66 4-84-1-100 21-40 4-44-1-62 19-96 0-17 32 0 102 0 155 0 73 50 3 95-16 8-1 12-25 44-91-39-13-44-66-45-23-51-17 46-86 44 0 77-25 22 1 19-2 123-26 64 1 84-5 43-1 39 6 90 24 31 7 84 8 49 134-23 12 21 44 34 44 78 64 0-69zM11998 6207l28-67 13-70-79-90-14-12-104 0-43 0 21 122 4 27-12 26 14 15 16 49 112 0zM13020 6207l-52-42 19-58 38-121-5-18-116 0-84 0-30 0-4 65 18 30-27 20-38 124 55 0 116 0zM8879 5968l-56 73 25 38 5 37 13 91 123 0 13 0 2-13-10-22-30-98 10-67 11-39-31 0-66 0zM7874 5968l-27 75-25 70 15 46 23 48 19 0 148 0 79 0-62-89-20-23 7-15-19-112-123 0zM9798 7878l-11 32-50 83-15 116 8 8 88 0-50-47 8-66 73-120 2-3 52-3-53 0z" fill="#14ebff" stroke="#14ebff"/><path d="M10891 8200l-101 27-39-4-10 1-118 5-97 30-5 0-6 0-80-17-137-13-14-2-60 12-36-12-140-2-4 0-6 0-102-25 0 46 27 7 82-4 140 17 13 1 13 2 80-17 30 4 105 10 61 14 34-1 23-3 81-25 99-3 30-5 123 14 14-4zM11125 8117l1-7 18-113 1-7-45-103-5-9-52 0 25 45 31 71-11 94-10 29 40 0zM10891 7497l-103-17-19 1-32-5-85-8-66-15-48-13-21-3-72 2-49 3-103-1-78 16-60 7-66-3-46 14-89 1-18-7 0 26 0 39 17-32 96 0 62-19 44 1 40-4 100-21 84 1 66-4 57-2 30 5 70 19 48 10 104 10 9 2 6 0 122 20zM11842 6207l-16-49-14-15 12-26-4-27-21-122-52 0-24 0-13 35 21 77 3 24-4 10-19 93 37 0 65 0zM13081 6207l-16-64 8-34 26-92-3-49-54 0-22 0 5 18-38 121-19 58 52 42 1 0zM8985 5968l-11 39-10 67 30 98 10 22-2 13 100 0 13-85 2-23 0-3 1-3-4-125-13 0zM7766 5968l-10 33-18 89 1 64 16 53 47 0 58 0-23-48-15-46 25-70 27-75-65 0zM9743 7878l-23 67-23 38-8 63 2 71 22 0 17 0-8-8 15-116 50-83 11-32z" fill="#1ce3ff" stroke="#1ce3ff"/><path d="M10891 8253l-14 4-123-14-30 5-99 3-81 25-23 3-34 1-61-14-105-10-30-4-80 17-13-2-13-1-140-17-82 4-27-7 0 14 0 14 15-1 96-4 116 14 36 2 37 5 62-12 46 6 73 7 43 10 60-3 42-4 65-20 79-3 52-8 120 13 13 1 0-16zM11152 8117l5-35 13-82 0-30-38-92-25 0-12 0 5 9 45 103-1 7-18 113-1 7zM10891 7475l-84-14-32 1-55-9-66-6-83-18-28-8-12-2-86 3-32 2-122-1-55 11-81 9-89-3-29 9-58 0-43-15 0 35 18 7 89-1 46-14 66 3 60-7 78-16 103 1 49-3 72-2 21 3 48 13 66 15 85 8 32 5 19-1 103 17zM11711 6207l19-93 4-10-3-24-21-77 13-35-63 0-30 82-2 22 0 21 36 54-13 60zM13142 6207l-4-16 24-105 3-13-6-105-63 0 3 49-26 92-8 34 16 64zM9114 5968l4 125-1 3 0 3-2 23-13 85 15 0 50 0 5-57 4-53 14-75-2-54zM7694 5968l-28 87 0 1 2 137 4 14 83 0-16-53-1-64 18-89 10-33zM9687 7878l-23 68-4 22-1 7 1 8 2 134 29 0-2-71 8-63 23-38 23-67zM12326 8948l-4 3 1 3 3 1 3-3-1-3z" fill="#24dbff" stroke="#24dbff"/><path d="M10891 8277l-13-1-120-13-52 8-79 3-65 20-42 4-60 3-43-10-73-7-46-6-62 12-37-5-36-2-116-14-96 4-15 1 0 19 37 0 76-4 92 11 59 3 61 9 44-9 62 9 41 4 25 5 86-4 61-5 49-15 60-3 72-12 101 12 29 1zM11179 8117l9-63 7-45-1-60-29-71-33 0 38 92 0 30-13 82-5 35zM10891 7452l-65-11-46 2-77-12-47-5-101-22-6-2-3 0-102 3-14 1-141-1-33 7-101 10-111-4-14 4-26 0-27-9-41 1 0 11 0 9 43 15 58 0 29-9 89 3 81-9 55-11 122 1 32-2 86-3 12 2 28 8 83 18 66 6 55 9 32-1 84 14zM11651 6207l13-60-36-54 0-21 2-22 30-82-62 0 0 1-9 111-1 105 6 10-2 12zM13193 6207l15-86 1-45-7-75 0-33-42 0-1 0 6 105-3 13-24 105 4 16 21 0zM9188 5968l2 54-14 75-4 53-5 57 60 0 0-5 7-104 13-66 5-64-7 0zM7627 5968l-9 52 12 48-8 115-2 24 23 0 29 0-4-14-2-137 0-1 28-87-51 0zM9648 7878l-10 54-7 49 1 59 2 77 28 0-2-134-1-8 1-7 4-22 23-68-21 0zM12328 8949l1 3-3 3-3-1-1-3 4-3zM12328 8901l-49 49 15 28 36 25 39-44-10-47zM8461 8946l15 30 34 16 31-41-12-35-21-17-37 15z" fill="#2cd3ff" stroke="#2cd3ff"/><path d="M10891 8295l-29-1-101-12-72 12-60 3-49 15-61 5-86 4-25-5-41-4-62-9-44 9-61-9-59-3-92-11-76 4-37 0 0 19 59 0 56-3 68 8 82 5 85 12 26-6 77 11 11 1 6 2 112-5 80-8 33-10 41-1 93-16 82 10 44 1zM11207 8117l11-91 2-7-1-91-21-50-33 0 29 71 1 60-7 45-9 63zM10891 7429l-46-7-59 2-100-16-28-2-73-16-23-5-13-3-101 5-4 0-5 0-42 1-110-1-10 2-122 13-105-4-25 0-1 0-88 1 0 15 41-1 27 9 26 0 14-4 111 4 101-10 33-7 141 1 14-1 102-3 3 0 6 2 101 22 47 5 77 12 46-2 65 11zM11592 6207l2-12-6-10 1-105 9-111 0-1-32 0-12 69-4 51-1 65 4 54 25 0zM13238 6207l7-41 3-98-3-33-1-67-42 0 0 33 7 75-1 45-15 86zM9252 5968l-5 64-13 66-7 104 0 5 6 0 27 0 9-88 3-26 0-35 7-90zM7574 5968l-3 17 24 96-5 65-6 61 36 0 2-24 8-115-12-48 9-52zM9619 7878l-3 18-10 66-3 21 0 3 0 39 2 72 0 20 29 0-2-77-1-59 7-49 10-54zM12359 8912l10 47-39 44-36-25-15-28 49-49zM8471 8914l37-15 21 17 12 35-31 41-34-16-15-30zM10382 7062l1 1 2 2 2-4-4 1zM12331 8854l-96 95 29 53 69 48 75-83-18-91zM8418 8952l32 64 75 36 68-90-27-76-47-38-79 33z" fill="#34cbff" stroke="#34cbff"/><path d="M8561 9072l73-85 11-14-42-117-28-23-52 0-79 0-36 15-34 109 50 100 32 15 74 0zM9936 9093l23-1 24-9-16-35-33-3-37-13-16 40 55 0zM10975 9072l-72-36-31 8-90 26 93 23 16 2 0-23zM12370 9072l38-53 40-45-27-134-18-7-71 0-48 0-74 96-19 19 43 79 65 45 36 0zM10891 8313l-44-1-82-10-93 16-41 1-33 10-80 8-112 5-6-2-11-1-77-11-26 6-85-12-82-5-68-8-56 3-59 0 0 19 81 0 37-2 43 6 106 5 108 16 8-2 34 5 48 13 37-12 80-4 98-9 18-5 20-1 114-19 63 7 60 2zM11234 8117l7-58 1-44 2-46-1-62-12-29-33 0 21 50 1 91-2 7-11 91zM10891 7407l-27-5-72 3-123-19-9-1-25-6-58-12-30-6-76 4-30-3-33 0-116 2-22 4-115 12-6 3-122-1-13 1-78 1 0 15 88-1 1 0 25 0 105 4 122-13 10-2 110 1 42-1 5 0 4 0 101-5 13 3 23 5 73 16 28 2 100 16 59-2 46 7zM11553 6207l-4-54 1-65 4-51 12-69-32 0-16 93-5 30 0 4 1 30 6 82zM13244 5968l1 67 3 33-3 98-7 41 40 0 0-145 0-94zM9279 5968l-7 90 0 35-3 26-9 88 30 0 7-61 6-62 0-80 3-36zM7548 6049l12 45-2 15-10 94 0 4 36 0 6-61 5-65-24-96 3-17-26 0zM7919 7162l2-9-11-8-2 12 1 5 4 0zM9592 7878l-10 88 0 26 0 113-1 12 15 0 9 0 0-20-2-72 0-39 0-3 3-21 10-66 3-18-15 0zM10383 7062l4-1-2 4-2-2-1-1zM12390 8876l18 91-75 83-69-48-29-53 96-95zM8440 8881l79-33 47 38 27 76-68 90-75-36-32-64zM10306 7055l45 51 50 38 11 11 15 1 34-8 44-52 13-38 12-16-23-9-15 1-104 1zM11703 7052l-11 4-15 7 10 15 12 22 76-33zM10486 8654l12-79-98-17-25 7-40 32 7 80 56 50 15 6 4 0 10-4z" fill="#3cc3ff" stroke="#3cc3ff"/><path d="M8456 9072l-32-15-50-100 34-109 36-15-50 0-31 0-30 85 8 42 5 24 42 88 27 0zM8607 9072l15-17 48-57 10-27 4-37-39-101-14 0-56 0 28 23 42 117-11 14-73 85zM9881 9072l16-40 37 13 33 3 16 35-24 9-23 1 0 46 73-4 41-16 20-12 0-12-9-36-30-62-101-9-72-25-19-9-30 13-13 41-24 64 53 0zM10891 9095l-16-2-93-23 90-26 31-8 72 36 35 0 61 0-18-39-32-26-84-36-11-4-6 0-13 5-72 18-45 13-40 44-7 31-1 17 47 26 54 13 48 8zM12299 9072l-65-45-43-79 19-19 74-96-87 0-17 22-23 94 25 62 22 40 30 21zM12434 9072l12-18 35-62 5-24-22-115 4-20-41 0-24 0 18 7 27 134-40 45-38 53zM10891 8331l-60-2-63-7-114 19-20 1-18 5-98 9-80 4-37 12-48-13-34-5-8 2-108-16-106-5-43-6-37 2-81 0 0 19 103 0 17-1 19 3 129 6 51 8 67 28 28-3 57 17 92-32 18 0 117-11 2-1 1 0 135-22 44 5 75 2zM11261 8117l1-9 3-99 3-106-1-17-3-8-33 0 12 29 1 62-2 46-1 44-7 58zM10891 7384l-8-1-86 3-88-14-39-7-15-2-62-13-48-10-52 3-54-6-61 0-76 2-58 9-88 10-25 9-102 0-24 1-69 1 0 15 78-1 13-1 122 1 6-3 115-12 22-4 116-2 33 0 30 3 76-4 30 6 58 12 25 6 9 1 123 19 72-3 27 5zM11817 7162l58-27 16-33 10-33-15-30-34-9-29-11-102-22-59 21-55 27-6-1-10 14 17 24 30 47 19 33 43 0zM13028 7162l6-49-5-69-13-9-7-1-116-24-1 0-6 1 1 7-46 144 88 0zM11520 6207l-6-82-1-30 0-4 5-30 16-93-16 0-13 0-15 100-2 31 3 100-1 8 15 0zM9306 5968l-3 36 0 80-6 62-7 61 30 0 4-34 10-97 0-81-1-27-9 0zM7548 6203l10-94 2-15-12-45 0 49zM7909 7162l-1-5 2-12 11 8-2 9 131 0 1 0 0-1 8-129-5-13-19-2-123-19-14-2-26 4-67 26-3 20 22 116zM9180 7162l-10-71-23-74-26-13-15 0-15 0-95 19-24 10-25 20-9 60 8 49 59 0 92 0zM9569 7878l-9 71 1 48 0 91-2 29 22 0 1-12 0-113 0-26 10-88zM10388 7035l104-1 15-1 23 9-12 16-13 38-44 52-34 8-15-1-11-11-50-38-45-51zM11775 7067l-76 33-12-22-10-15 15-7 11-4zM10427 8729l-10 4-4 0-15-6-56-50-7-80 40-32 25-7 98 17-12 79zM10243 7059l49 59 28 30 23 18 37 38 50 5 68-17 19-5 19-26 25-73 38-52-75-31-51 3-81 1-77 19-24-4-23 2zM10047 6662l9 7 9-10-1-62 0-2-2 0-1-1-2 2-16 54zM10791 6633l-40-15-5 44 19 22 20-28zM10467 8759l91-43 24-18 1-27 1-80-42-49-54-17-81-14-55 14-35 29-27 22-10 22 6 87-4 31 35 15 20 3 65 25z" fill="#44bbff" stroke="#44bbff"/><path d="M8388 9072l-42-88-5-24-8-42 30-85-57 0-15 41 18 89 10 50 28 59zM8653 9072l39-46 22-58 7-79-22-56-54 0 39 101-4 37-10 27-48 57-15 17 9 0zM9772 9072l24-64 13-41 30-13 19 9 72 25 101 9 30 62 9 36 0 12-20 12-41 16-73 4 0 35 0 2 3 0 99-11 35-2 50-29-2-56-17-68-17-50 0-20-16-4-116-3-29-2-6-3-82-36-134 57-2 8-11 95-3 20 28 0zM10891 9142l-48-8-54-13-47-26 1-17 7-31 40-44 45-13 72-18 13-5 6 0 11 4 84 36 32 26 18 39 48 0 26 0-26-60-12-27-52-42-15-17-12-3-74-28-48 5-106 36-1 0-1 0-79 88-15 61-2 35 95 52 14 3 80 13zM12234 9072l-30-21-22-40-25-62 23-94 17-22-18 0-56 0 9 85-7 31 32 81 13 42 8 0zM12479 9072l29-53 16-67-15-75 10-44-51 0-4 20 22 115-5 24-35 62-12 18 8 0zM10891 8349l-75-2-44-5-135 22-1 0-2 1-117 11-18 0-92 32-57-17-28 3-67-28-51-8-129-6-19-3-17 1-103 0 0 16 0 4 116 0 6 0 129 9 10 9 76 40 47 20 82-8 11 4 27-10 106 20 38 2 61-59 51-22 79-13 25 3 70 2 21 1 0-6zM11287 8117l-2-28 2-87 3-107 0-17-13 0-13 0 3 8 1 17-3 106-3 99-1 9 5 0zM10891 7366l-88 1-1-1-112-20-46-6-35-7-66-14-28 2-79-8-89-1-34 1-96 16-60 7-44 16-82 0-35 1-60 1 0 15 69-1 24-1 102 0 25-9 88-10 58-9 76-2 61 0 54 6 52-3 48 10 62 13 15 2 39 7 88 14 86-3 8 1 0-9zM11657 7162l-19-33-30-47-17-24 10-14 6 1 55-27 59-21 102 22 29 11 34 9 15 30-10 33-16 33-58 27 62 0 45 0 7-15 22-79-35-70-83-23-70-27-26-6-107 37-33 16-33-4-59 80 72 91 28 0zM12841 7162l46-144-1-7 6-1 1 0 116 24 7 1 13 9 5 69-6 49 19 0 57 0 18-66-4-45-98-68-50-10-52-11-52 9-52 8-43 11-83 59-2 39 29 74 58 0zM11490 6207l1-8-3-100 2-31 15-100-27 0-11 76-4 59 2 82-2 22zM9333 5968l1 27 0 81-10 97-4 34 30 0 1-6 10-97 4-35 0-4-5-97zM7824 7162l-22-116 3-20 67-26 26-4 14 2 123 19 19 2 5 13-8 129 0 1 63 0-3-103 2-24-19-52-77-8-68-11-35-4-67 9-53 21-51 1-40 66 18 66 14 39 34 0zM8946 7162l-8-49 9-60 25-20 24-10 95-19 15 0 15 0 26 13 23 74 10 71 49 0 61 0 22-112-9-27-44-22-23-9-57-30-73-1-70 2-47 9-48 20-51 41-17 122 1 7zM9545 7878l-7 53 2 71 0 68-3 47 22 0 2-29 0-91-1-48 9-71zM10268 7026l23-2 24 4 77-19 81-1 51-3 75 31-38 52-25 73-19 26-19 5-68 17-50-5-37-38-23-18-28-30-49-59zM10043 6650l16-54 2-2 1 1 2 0 0 2 1 62-9 10-9-7zM10785 6656l-20 28-19-22 5-44 40 15zM10402 8759l-65-25-20-3-35-15 4-31-6-87 10-22 27-22 35-29 55-14 81 14 54 17 42 49-1 80-1 27-24 18-91 43zM10184 7065l84 102 16 19 1 5 10 7 53 54 85 9 27-7 68-17 65-90 10-29 57-79 5-8 2-2-4-3-8-3-114-46-87 5-58 1-55 13-53-9-51 5zM9997 6678l53 39 48-54-1-45 5-35-42-16-44-17-33 42-6 21zM10849 6590l-34-13-24-22-47 17-22-2-2 14 4 31-6 60 54 64 61-82zM10517 8785l33-16 105-78 1-22-11-58-11-20-39-39-38-45-129-41-15-3-84 23-10 8-65 54-24 52 4 50-13 78 90 38 49 7 31 12z" fill="#4cb3ff" stroke="#4cb3ff"/><path d="M8347 9072l-28-59-10-50-18-89 15-41-53 0-4 0 4 11 24 122 15 77 14 29zM8698 9072l16-19 33-88 11-120-4-12-55 0 22 56-7 79-22 58-39 46zM9688 9072l3-20 11-95 2-8 134-57 82 36 6 3 29 2 116 3 16 4 0 20 17 50 17 68 2 56-50 29-35 2-99 11-3 0 0 11 16 0 89-10 116-5 18-11-1-40-5-48-7-16-5-28-27-80-3-77-59-15-54-1-79-11-73-12-26 0-23 0-108 21-65 23 0 76-6 55-10 64zM10891 9188l-80-13-14-3-95-52 2-35 15-61 79-88 1 0 1 0 106-36 48-5 74 28 12 3 15 17 52 42 12 27 26 60 68 0-19-47 10-60-59-79-22-24-100-29-45 0-84 0-3 0-1 1-113 30-44 31 8 47-53 58-22 93-3 53 70 38 57 13 8 0 7 0 86 15 0-5zM12170 9072l-13-42-32-81 7-31-9-85-22 0-54 0 7 63 30 49 15 69 19 58zM12521 9072l14-26 27-110-7-35 15-68-51 0-10 44 15 75-16 67-29 53zM10891 8368l-21-1-70-2-25-3-79 13-51 22-61 59-38-2-106-20-27 10-11-4-82 8-47-20-76-40-10-9-129-9-6 0-116 0 0 24 88 0 38 0 98 6 24 26 91 47-57 47-38 82 1 13-20 125 143 61 59 8 17 2 2 0 156-2 6 7 15 12 39-3 79-39 68 20-21-100-26-35-12-59-37-69-53-55 60-58 105-45 18-3 6 1 16 0 90 6zM11312 8117l-4-62 1-59 2-74 2-44-23 0 0 17-3 107-2 87 2 28zM10891 7350l-73 1-28-10-80-14-78-10-7-1-84-17-3 0-30-3 32-8 30-42 60-11 16-80-4-14 43-81 33-36-62-43-82-29-13-11-8 7-18 2-100 7-35 0-33 8-82-14-78 7-38 52-36 23 4 35 7 6 6 33 59 75 18 53 73 56-110 19-32 3-63 24-62-1-46 2-51 1 0 15 60-1 35-1 82 0 44-16 60-7 96-16 34-1 89 1 79 8 28-2 66 14 35 7 46 6 112 20 1 1 88-1zM11579 7162l-72-91 59-80 33 4 33-16 107-37 26 6 70 27 83 23 35 70-22 79-7 15 19 0 38 0 23-85-1-12 0-17-13-13-40-78-119-34-11 0-75 0-90 0-52 18-11 5-61-9-13 18-86 17-53 97 51 57 58 20 12 16zM12715 7162l-29-74 2-39 83-59 43-11 52-8 52-9 52 11 50 10 98 68 4 45-18 66 44 0 53 0 20-57-13-61-31-33-111-51-41-28-43-9-44 0-42 0-56 10-10 1-105 25-64 47-35 12 4 40-4 35 18 69 27 0zM10891 6524l-30-28-118 41-54-5-6 36 10 78-4 41 91 107 100-136 11-44 0-55zM11463 6207l2-22-2-82 4-59 11-76-27 0-8 53-5 85 2 64-5 37zM9360 5968l5 97 0 4-4 35-10 97-1 6 7 0 23 0 1-36 9-93 0-48-3-62zM9936 6659l11 36 96 70 87-98 0-28 11-69-84-31-85-33-36 46 0 38zM8979 6923l-69 29-61 49-15 9 2 6-1 10-11 136 39 0 11 0-1-7 17-122 51-41 48-20 47-9 70-2 73 1 57 30 23 9 44 22 9 27-22 112 46 0 47 0 7-52 16-65-22-68-49-15-25-12-64-27-15 0-125 0-123 0zM7735 7162l-14-39-18-66 40-66 51-1 53-21 67-9 35 4 68 11 77 8 19 52-2 24 3 103 28 0 33 0-7-23-6-95-18-69-10-28-135-15-12-2-57-6-108 15-18 7-111 2-31 52-70 41-6 91 53 24 2 6zM9521 7878l-4 36 2 93 0 46-3 64 21 0 3-47 0-68-2-71 7-53zM10237 6992l51-5 53 9 55-13 58-1 87-5 114 46 8 3 4 3-2 2-5 8-57 79-10 29-65 90-68 17-27 7-85-9-53-54-10-7-1-5-16-19-84-102zM9977 6613l6-21 33-42 44 17 42 16-5 35 1 45-48 54-53-39zM10833 6657l-61 82-54-64 6-60-4-31 2-14 22 2 47-17 24 22 34 13zM10391 8785l-31-12-49-7-90-38 13-78-4-50 24-52 65-54 10-8 84-23 15 3 129 41 38 45 39 39 11 20 11 58-1 22-105 78-33 16z" fill="#54abff" stroke="#54abff"/><path d="M7548 8840l16-7-16 0zM8306 9072l-14-29-15-77-24-122-4-11-56 0 38 106 9 26 5 8 19 99 1 0zM8744 9072l38-91 6-22 25-65 9-61-54 0-14 0 4 12-11 120-33 88-16 19 31 0zM9624 9072l10-64 6-55 0-76 65-23 108-21-107 0-103 0-127 0-20 0 8 9 13 9 40 37 61 37 0 32-1 7-16 108zM9936 9197l30 1 78-10 154-6 7 0 4 0 81-9-68-10-8-84-22-48-15-82-4-12-1-27 34 0 95-76 60 7 26-8 135-2 19 24 52 37 79-5 11 61-26 29-30 123-4 71 4 2 149 33 20 1 18 0 77 13 0-8-86-15-7 0-8 0-57-13-70-38 3-53 22-93 53-58-8-47 44-31 113-30 1-1 3 0-3 0 0-140 0-40-37 11-66 53-53-68-7-35-63-119-15-15 16-16 43-18 75-40 18-2 89 6 0-21-90-6-16 0-6-1-18 3-105 45-60 58 53 55 37 69 12 59 26 35 21 100-68-20-79 39-39 3-15-12-6-7-156 2-2 0-17-2-59-8-143-61 20-125-1-13 38-82 57-47-91-47-24-26-98-6-38 0-88 0 0 24 59 0 72-1 65 5 40 41 28 15-18 14-18 39-32 75-54 59-71-1-71-4 0 28 0 145-74 0 73 12 79 11 54 1 59 15 3 77 27 80 5 28 7 16 5 48 1 40-18 11-116 5-89 10-16 0zM11304 9072l11-56-15-50 42-86-85-47-30 0-66 0-138 0 100 29 22 24 59 79-10 60 19 47 45 0zM12118 9072l-19-58-15-69-30-49-7-63-65 0-40 0 38 7 59 100 25 111 3 21 16 0zM12564 9072l35-143 3-6 64-67 53-23-62 0-68 0-19 0-15 68 7 35-27 110-14 26 41 0zM13241 8833l37 11 0-11zM11337 8117l-7-96 1-32 1-40 3-71-22 0-2 44-2 74-1 59 4 62zM10891 7335l-58 0-55-18-48-9-58-7 19-96-17-56 32-60 41-45 15-17 48-49-48-68-27 0-87 16-52-46-47 34-99 15-34 2-11 0-11 3-112-20-34 3-57-27-79 60-20 13 11 105 20 21 16 89-2 6 11 34 21 61 11 8-16 3-5 1-82 30-42 0-58 2-41 1 0 15 51-1 46-2 62 1 63-24 32-3 110-19-73-56-18-53-59-75-6-33-7-6-4-35 36-23 38-52 78-7 82 14 33-8 35 0 100-7 18-2 8-7 13 11 82 29 62 43-33 36-43 81 4 14-16 80-60 11-30 42-32 8 30 3 3 0 84 17 7 1 78 10 80 14 28 10 73-1zM11500 7162l-12-16-58-20-51-57 53-97 86-17 13-18 61 9 11-5 52-18-66 0-68 0-127 0-74 0-34 60-16 73 7 83 28 23 75 0 104 0zM12037 7162l13-47-8-62-1-90-42-40-23 0-145 0 119 34 40 78 13 13 0 17 1 12-23 85zM12644 7162l-18-69 4-35-4-40 35-12 64-47 105-25 10-1 56-10-62 0-128 0-26 6-11 8-78 28 8 90-9 79 7 28zM13278 6965l-49-42-38 0-166 0-43 0 43 9 41 28 111 51 31 33 13 61-20 57 77 0 0-137zM10891 6614l-11 44-100 136-91-107 4-41-10-78 6-36 54 5 118-41 30 28 0-53 0-7-6 1-28-2-114 40-87-8-10 57 17 125-3 23 99 116-4 16 13 56 49-27 22-33 52-46 0-123zM11435 6207l5-37-2-64 5-85 8-53-26 0-5 30-8 112 2 46-7 51zM9387 5968l3 62 0 48-9 93-1 36 30 0 1-81 4-39 0-92-1-27zM9936 6552l36-46 85 33 84 31-11 69 0 28-87 98-96-70-11-36 0 40 0 78 0 42 52 33 92 77 58-114-23-91 48-53 0-11 10-65 6-34 0-11-9 1-11-1-104-39-113-44-6 1 0 2zM9246 6923l64 27 25 12 49 15 22 68-16 65-7 52 87 0 31 0 60-83 4-17-11-32-102-107-7 0-108 0zM8855 6923l-75 49 13 46-11 90-4 54 46 0 11-136 1-10-2-6 15-9 61-49 69-29-90 0zM7561 6923l-13 7 0 90 0 142 89 0 4 0-2-6-53-24 6-91 70-41 31-52 111-2 18-7 108-15 57 6 12 2 135 15 10 28 18 69 6 95 7 23 58 0-21-63-2-45-24-93 8-38-33 0-166 0-64 0-121 0-145 0zM9497 7878l-2 19 3 115 0 23-4 82 22 0 3-64 0-46-2-93 4-36z" fill="#5ca3ff" stroke="#5ca3ff"/><path d="M7580 9072l-7-69 0-24 96-95 130-43 7-4 3-1 71 8 146 7 25 6 30 15 67-10 33 87 30 57 13 66 40 0-19-99-5-8-9-26-38-106-35 0-104 0-176 0-72 0-146 0-96 0-16 7 0 142 0 90zM8792 9072l25-60 18-63 30-80 83-11 23-12 118-10 2-1 3 1 111 11 85 49 49-5 23 25 43 31 57 39-30 86 9 0 109 0 11 0 16-108 1-7 0-32-61-37-40-37-13-9-8-9-118 0-133 0-113 0-123 0-113 0-34 0-9 61-25 65-6 22-38 91zM9936 9207l43 1 68-8 134-5 21 0 15-1 98-11 90 15 1 0 143-22 64 10 10-2 139 31 31 2 31 0 67 12 0-9-77-13-18 0-20-1-149-33-4-2 4-71 30-123 26-29-11-61-79 5-52-37-19-24-135 2-26 8-60-7-95 76-34 0 1 27 4 12 15 82 22 48 8 84 68 10-81 9-4 0-7 0-154 6-78 10-30-1zM11406 9072l6-44-27-42-2-9 4-9 41-57 40-17 30-44 106-1 87 0 11-3 95 3 26 3 36 13 105 19 31 51 12 57 15 80 45 0-3-21-25-111-59-100-38-7-127 0-113 0-102 0-126 0-83 0-134 0 85 47-42 86 15 50-11 56 69 0zM12616 9072l20-83 29-63 21-22 76-33 46-25 8-1 127 1 19 7 82 1 30 15 87 23 79 65 11 90 4 25 23 0 0-116 0-112-37-11-70 0-129 0-96 0-139 0-88 0-53 23-64 67-3 6-35 143zM10891 8610l-78 22-23 19-18-24-2-12-34-63-36-73 91-47 42-5 58 4 0-21-89-6-18 2-75 40-43 18-16 16 15 15 63 119 7 35 53 68 66-53 37-11zM11362 8117l-9-130 0-5 0-6 2-33 3-65-7 0-16 0-3 71-1 40-1 32 7 96zM10891 7319l-43 1-83-28-16-3-19-2 6-32-30-98 20-38 27-29 44-52 93-96 98-10 16 16 62 48 37 0 81 64-5 61 4 41 72 0 50 0-28-23-7-83 16-73 34-60-78 0-138 0-109 0-104 0 0-101 0-40-52 46-22 33-49 27-13-56 4-16-99-116 3-23-17-125 10-57 87 8 114-40 28 2 6-1 0-12-15 2-78-5-55 20-64-6-36 8-7 1-16-1-4 21-9 53 9 18 9 92 7 53 0 5 21 25-17 79 0 2-3 1-2-2-86 63-112 16-29 9-102-15-9-8-71-50-12-18-16-140 5-15 17-100 0-50-41 3-49-2-74-27-80-32-36 4 0 12 6-1 113 44 104 39 11 1 9-1 0 11-6 34-10 65 0 11-48 53 23 91-58 114-92-77-52-33 0 104-152 0-109 0-114 0-109 0 102 107 11 32-4 17-60 83 104 0 27 0 5-44 11-50-19-55 44 19 58-70 60-19 122-1 20 26 42 33 87 1 6 66 34 35 12 65-23 65 17 54-49 19-22 0-69 2-32 1 0 15 41-1 58-2 42 0 82-30 5-1 16-3-11-8-21-61-11-34 2-6-16-89-20-21-11-105 20-13 79-60 57 27 34-3 112 20 11-3 11 0 34-2 99-15 47-34 52 46 87-16 27 0 48 68-48 49-15 17-41 45-32 60 17 56-19 96 58 7 48 9 55 18 58 0zM12093 7162l2-9-13-113-1-64 8-53-30 0-60 0 42 40 1 90 8 62-13 47zM12597 7162l-7-28 9-79-8-90 78-28 11-8 26-6-35 0-108 0-11 0 5 5 3 35 9 90-8 63-9 46 14 0zM13229 6923l49 42 0-42zM11407 6207l7-51-2-46 8-112 5-30-27 0-1 7-10 139 1 28-9 65zM9414 5968l1 27 0 92-4 39-1 81 30 0 1-87-2-27 0-5 1-120-6 0zM8741 6923l-16 10 26 88-4 34-11 89-2 18 13 0 31 0 4-54 11-90-13-46 75-49zM8194 6923l-8 38 24 93 2 45 21 63 15 0 26 0-17-97-1-4 32-136 2-2-5 0zM7548 6930l13-7-13 0zM9473 7878l0 2 4 138-5 99 22 0 4-82 0-23-3-115 2-19zM9936 8443l31 0 104-2 33 2 30 32-36 110-11 26-7 8-65-1-79-15 0 22 0 35 71 4 71 1 54-59 32-75 18-39 18-14-28-15-40-41-65-5-72 1-59 0zM10625 8955l0 2-36 132-41 55-16 14-126 39-64-46-28-14-51-8-5-44-35-80-13-68 90-71 42 5 51-16 114-1 31 39z" fill="#649bff" stroke="#649bff"/><path d="M7662 9072l1-34 0-68 19-19 26-8 92-56 42-14 45 5 92 5 67 15 72 36 4 4 3 4 52 96 6 34 41 0-13-66-30-57-33-87-67 10-30-15-25-6-146-7-71-8-3 1-7 4-130 43-96 95 0 24 7 69 73 0zM8840 9072l12-28 29-105 1-3 4 0 92-51 74-6 33-10 43 8 77 8 100 57 2 38 57 77 11 8-3 7 60 0 30-86-57-39-43-31-23-25-49 5-85-49-111-11-3-1-2 1-118 10-23 12-83 11-30 80-18 63-25 60zM9936 9218l57 1 57-7 114-4 35-1 25-1 86-9 78 13 20 1 21 0 120-20 54 9 21-3 124 28 43 2 42 0 58 10 0-8-67-12-31 0-31-2-139-31-10 2-64-10-143 22-1 0-90-15-98 11-15 1-21 0-134 5-68 8-43-1zM11475 9072l5-40 7-34 10-30 55-78 61-1 51 0 37-11 61 2 75 8 107 39 5 1 1 2 1 3 26 139 45 0-15-80-12-57-31-51-105-19-36-13-26-3-95-3-11 3-87 0-106 1-30 44-40 17-41 57-4 9 2 9 27 42-6 44zM12668 9072l6-24 17-39 27-73 95-51 31-5 90 1 69 24 47 0 100 52 0 7 14 108 91 0-4-25-11-90-79-65-87-23-30-15-82-1-19-7-127-1-8 1-46 25-76 33-21 22-29 63-20 83zM10891 8561l-5 4-90 15-49-96 50-26 68-7 26 2 0-22-58-4-42 5-91 47 36 73 34 63 2 12 18 24 23-19 78-22 0-40zM11386 8117l0-1-9-137 1-20 5-81-25 0-3 65-2 33 0 6 0 5 9 130zM13264 7878l13 102 0 2-11 125 1 10 11 0 0-136 0-103zM10891 7304l-28 0-76-25-26-43-23-72 9-16 11-12 74-87 56-58 59-5 67 66 23 10 59 8 6 0 3 2-1 5 14 85 25 0 40 0-4-41 5-61-81-64-37 0-62-48-16-16-98 10-93 96-44 52-27 29-20 38 30 98-6 32 19 2 16 3 83 28 43-1zM12135 7162l-12-20-8-104 20-47 11-68-57 0-8 53 1 64 13 113-2 9 13 0zM12552 7162l9-46 8-63-9-90-3-35-5-5-54 0 31 31 9 92-10 31-16 85zM10891 6440l-25 4-124-9-98 23-19 2-44-1-11 58-6 30 28 54 10 98-15 60-2 57-44 32-55 8-89 25-69-10-21-17-40-28-33-49-11-100 20-57 10-62 0-87-72 5-88-4-43-16-47-19-67 7 0 12 36-4 80 32 74 27 49 2 41-3 0 50-17 100-5 15 16 140 12 18 71 50 9 8 102 15 29-9 112-16 86-63 2 2 3-1 0-2 17-79-21-25 0-5-7-53-9-92-9-18 9-53 4-21 16 1 7-1 36-8 64 6 55-20 78 5 15-2zM11379 6207l9-65-1-28 10-139 1-7-8 0-18 0-5 84-5 65 0 10-5 42-2 38 8 0zM9440 5968l-1 120 0 5 2 27-1 87 26 0 3 0 0-2-10-113 3-23 0-101zM8680 6923l10 30 19 65-9 72-8 72 42 0 2-18 11-89 4-34-26-88 16-10-30 0zM8290 6923l-2 2-32 136 1 4 17 97 36 0-13-70-5-42 24-106 25-21zM9700 7162l5-74 72-53 22-26 13-5 26 0 13 17 63 24 16-8 69 18 34 1 1 12 47 50 8 40-45 124 2 6-5 3-3 0-79 2-23 0 0 16 32-1 69-2 22 0 49-19-17-54 23-65-12-65-34-35-6-66-87-1-42-33-20-26-122 1-60 19-58 70-44-19 19 55-11 50-5 44 38 0zM9449 7878l0 16 4 116-3 97 0 10 22 0 5-99-4-138 0-2-2 0zM7564 8117l-2-132-1-16-1-13-8-78-4 0 0 88 0 151zM9936 8467l3 0 136-2 1 0 1 1-2 7-125 10-14-3 0 123 79 15 65 1 7-8 11-26 36-110-30-32-33-2-104 2-31 0zM10538 8893l-31-39-114 1-51 16-42-5-90 71 13 68 35 80 5 44 51 8 28 14 64 46 126-39 16-14 41-55 36-132 0-2zM10587 8967l-32 97-4 13-4 6-57 47-81 25-41-29-60-30-5-1 0-4-50-112-7-40 52-41 24 3 76-24 93-1 45 55z" fill="#6c93ff" stroke="#6c93ff"/><path d="M7736 9072l2-45-7-52 63-37 82-28 18 2 37 2 70 17 23 16 21 10 46 45 49 63 2 5 1 2 40 0-6-34-52-96-3-4-4-4-72-36-67-15-92-5-45-5-42 14-92 56-26 8-19 19 0 68-1 34zM8890 9072l28-69 27-56 40-22 31-3 62-19 84 15 43 5 56 32 5 86 22 31 79 0 5 0 3-7-11-8-57-77-2-38-100-57-77-8-43-8-33 10-74 6-92 51-4 0-1 3-29 105-12 28 42 0zM9936 9228l70 2 47-6 93-4 50 0 36-2 73-8 66 12 38 1 42 0 99-16 44 7 31-4 108 24 56 2 53 1 49 8 0-8-58-10-42 0-43-2-124-28-21 3-54-9-120 20-21 0-20-1-78-13-86 9-25 1-35 1-114 4-57 7-57-1zM11550 9072l4-20 37-101 15-21 17-1 14 0 63-19 28 1 124 13 69 25 15 99-17 24 39 0 19 0-26-139-1-3-1-2-5-1-107-39-75-8-61-2-37 11-51 0-61 1-55 78-10 30-7 34-5 40 21 0zM12725 9072l4-28 32-90 56-31 56-8 53 1 117 41 12 0 24 12 3 36 12 67 41 0 29 0-14-108 0-7-100-52-47 0-69-24-90-1-31 5-95 51-27 73-17 39-6 24 20 0zM10891 8453l-26-2-68 7-50 26 49 96 90-15 5-4 0-91zM11408 8117l1-28-8-112 3-46 3-53-24 0-5 81-1 20 9 137 0 1zM13267 8117l-1-10 11-125 0-2-13-102-30 0 10 79 0 37-8 90 2 33zM10891 7288l-13 0-35-11-52-84-21-23 32-33 65-77 19-19 20-2 23 22 99 43 39 5 8 53 43 0-14-85 1-5-3-2-6 0-59-8-23-10-67-66-59 5-56 58-74 87-11 12-9 16 23 72 26 43 76 25 28 0zM12173 7162l-27-47-5-66 44-105 29-21-29 0-39 0-11 68-20 47 8 104 12 20zM12512 7162l16-85 10-31-9-92-31-31-54 0 57 56 6 58-28 90-7 35zM10891 6428l-35 5-109-7-13-1-88 20-31 2-72-1-19 96-2 7 46 90 4 35-33 133-2 7-3 2-144 41-37-5-32-27-8-6-55-80-7-59 36-100 4-23 0-96 42-18-47-8-1 0-28-2-71 6-126-6-13-5-14-6-97 9 0 13 67-7 47 19 43 16 88 4 72-5 0 87-10 62-20 57 11 100 33 49 40 28 21 17 69 10 89-25 55-8 44-32 2-57 15-60-10-98-28-54 6-30 11-58 44 1 19-2 98-23 124 9 25-4zM11355 6207l2-38 5-42 0-10 5-65 5-84-26 0-8 133 0 14 1 13-4 79zM9462 5968l0 101-3 23 10 113 0 2 21 0-2-20-8-96 5-41 0-82zM8635 6923l7 13 20 58 6 20-3 23-14 125 41 0 8-72 9-72-19-65-10-30-39 0zM8341 6923l-25 21-24 106 5 42 13 70 35 0-7-44-10-80 17-75 46-39 2-1-2 0zM9747 7162l3-50 74-54 67 26 40-21 80 21 26 23 23 25 3 16-20 58-43 71-50 1-14 0 0 15 23 0 79-2 3 0 5-3-2-6 45-124-8-40-47-50-1-12-34-1-69-18-16 8-63-24-13-17-26 0-13 5-22 26-72 53-5 74zM9425 7878l0 33 3 92-2 86 1 28 20 0 3 0 0-10 3-97-4-116 0-16zM7552 7878l8 78 1 13 1 16 2 132 30 0-2-88-1-53-5-42-6-56zM9936 8480l14 3 125-10 2-7-1-1-1 0-136 2-3 0 0 2zM10536 8931l-45-55-93 1-76 24-24-3-52 41 7 40 50 112 0 4 5 1 60 30 41 29 81-25 57-47 4-6 4-13 32-97zM10548 8980l-12 34-59 65-29 24-35 11-18-13-30-15-34-19-32-79-15-35-2-12 14-11 7 1 100-32 73-1 57 72zM10818 8502l-15 3-8-17 8-4 49-5z" fill="#748bff" stroke="#748bff"/><path d="M7818 9072l-20-80 100-18 56 41 103 48 3 3 5 6 76 0 2 0-1-2-2-5-49-63-46-45-21-10-23-16-70-17-37-2-18-2-82 28-63 37 7 52-2 45 43 0zM8952 9072l1-3 6-10 54-104 59-18 125 23 8 1 12 6 2 38-27 67 53 0 43 0-22-31-5-86-56-32-43-5-84-15-62 19-31 3-40 22-27 56-28 69zM9936 9239l83 1 37-4 73-3 65 0 46-3 60-6 54 9 57 2 62 1 77-13 34 6 42-6 93 20 67 3 65 1 40 7 0-9-49-8-53-1-56-2-108-24-31 4-44-7-99 16-42 0-38-1-66-12-73 8-36 2-50 0-93 4-47 6-70-2zM11631 9072l28-77 41-38 28 12 11-22 128 14 25 9 6 36-45 66 66 0 17-24-15-99-69-25-124-13-28-1-63 19-14 0-17 1-15 21-37 101-4 20 28 0zM12786 9072l9-74 10-27 17-9 79-12 16 0 53 19 58 69 6 34 60 0-12-67-3-36-24-12-12 0-117-41-53-1-56 8-56 31-32 90-4 28zM11430 8117l1-56-7-86 6-71 1-26-24 0-3 53-3 46 8 112-1 28zM13238 8117l-2-33 8-90 0-37-10-79-30 0 8 57-1 72-5 55 4 55zM10891 7269l-90-101 85-88 76 42 58 25 10 1 2 14 43 0-8-53-39-5-99-43-23-22-20 2-19 19-65 77-32 33 21 23 52 84 35 11 13 0 0-13zM12211 7162l-43-73-2-29 19-45 125-92-96 0-29 21-44 105 5 66 27 47zM12472 7162l7-35 28-90-6-58-57-56-27 0-45 0 37 19 24 23 40 40 3 23-28 90-11 35-7 9 15 0zM10891 6416l-45 6-94-6-26-2-78 18-44 3-100-2-1 7-6-6-80 11-120-20-11 0-90-6-7-2-9 0-132-7-10 0-102 9 0 12 97-9 14 6 13 5 126 6 71-6 28 2 1 0 47 8-42 18 0 96-4 23-36 100 7 59 55 80 8 6 32 27 37 5 144-41 3-2 2-7 33-133-4-35-46-90 2-7 19-96 72 1 31-2 88-20 13 1 109 7 35-5zM11335 6207l4-79-1-13 0-14 8-133-26 0-6 93 2 43 2 42-3 61zM9485 5968l0 82-5 41 8 96 2 20 20 0-3-37-7-80 8-59 0-63zM8560 6923l28 53 37 45-13 125-2 16 41 0 14-125 3-23-6-20-20-58-7-13zM8393 6923l-2 1-46 39-17 75 10 80 7 44 36 0-3-17-15-118 10-45 28-23 50-36zM9794 7162l2-25 38-28 33 13 65-33 59 16 44 39-33 44-45 75-17 0-4 0 0 15 14 0 50-1 43-71 20-58-3-16-23-25-26-23-80-21-40 21-67-26-74 54-3 50zM9401 7878l0 50 2 67-1 64 2 58 23 0-1-28 2-86-3-92 0-33zM7580 7878l6 56 5 42 1 53 2 88 29 0-1-43-1-91-9-71-4-34zM10533 8970l-57-72-73 1-100 32-7-1-14 11 2 12 15 35 32 79 34 19 30 15 18 13 35-11 29-24 59-65 12-34zM10852 8479l-49 5-8 4 8 17 15-3zM10280 6682l24-67 29-56 70-57 52 54 34 33 43 80-31 111-101 48-17 5-4-1-5-4-23-39-46-55-23-33zM10357 9041l-36-92 88-28 51-1 51 63-95 90z" fill="#7c83ff" stroke="#7c83ff"/><path d="M8065 9072l-5-6-3-3-103-48-56-41-100 18 20 80 78 0 162 0zM9192 9072l27-67-2-38-12-6-8-1-125-23-59 18-54 104-6 10-1 3 3 0 138 0zM9936 9249l97 2 26-3 52-2 80 0 56-3 47-5 43 7 76 3 82 0 55-9 25 4 52-8 78 18 79 3 77 1 30 5 0-8-40-7-65-1-67-3-93-20-42 6-34-6-77 13-62-1-57-2-54-9-60 6-46 3-65 0-73 3-37 4-83-1zM11853 9072l45-66-6-36-25-9-128-14-11 22-28-12-41 38-28 77 77 0 109 0zM13034 9072l-6-34-58-69-53-19-16 0-79 12-17 9-10 27-9 74 44 0 96 0 87 0zM11452 8117l1-83-5-62 8-92 0-2-1 0-24 0-1 26-6 71 7 86-1 56zM13210 8117l-4-55 5-55 1-72-8-57-30 0 5 34-2 108-1 19 6 78zM10891 7232l-59-66 56-58 97 54 32 0 15 0-2-14-10-1-58-25-76-42-85 88 90 101zM12281 7162l-24-30-54-64 143-112 46 25 50 46-31 97-30 38 49 0 7-9 11-35 28-90-3-23-40-40-24-23-37-19-30 0-32 0-125 92-19 45 2 29 43 73 2 0zM10891 6403l-54 9-80-6-38-3-70 16-56 4-89-2-14 1-76 11-107-18-19 0-80-6-17-5-24 2-115-6-28-1-88 8 0 12 102-9 10 0 132 7 9 0 7 2 90 6 11 0 120 20 80-11 6 6 1-7 100 2 44-3 78-18 26 2 94 6 45-6zM11315 6207l3-61-2-42-2-43 6-93-26 0-3 53 2 72 4 71-2 43zM9508 5968l0 63-8 59 7 80 3 37 21 0-5-54-5-63 10-78 0-44zM8451 6923l-50 36-28 23-10 45 15 118 3 17 23 0 23 0-13-12-5-57-10-78 3-13 8-7 63-45 24-15 84 103-11 99-19 25 56 0 3 0 2-16 13-125-37-45-28-53-61 0zM9842 7162l0-1 1-1 1 1 90-46 37 10 28 25-63 85 0 21 0 7 4 0 17 0 45-75 33-44-44-39-59-16-65 33-33-13-38 28-2 25zM9377 7878l0 67 1 43-1 40 4 89 23 0-2-58 1-64-2-67 0-50zM7608 7878l4 34 9 71 1 91 1 43 28 0 2 0-1-4-1-123-13-101-1-11zM10282 6701l23 33 46 55 23 39 5 4 4 1 17-5 101-48 31-111-43-80-34-33-52-54-70 57-29 56-24 67zM10416 9073l95-90-51-63-51 1-88 28 36 92zM10482 6687l-17 59-64 31-15-26-50-59 46-122 77 75zM10384 9014l-22-55 52-16 31-1 30 38-57 53z" fill="#837cff" stroke="#837cff"/><path d="M9936 9260l110 2 16-2 32-2 94 0 67-3 34-4 31 5 95 4 102 0 34-5 14 2 63-9 63 14 91 4 88 1 21 4 0-9-30-5-77-1-79-3-78-18-52 8-25-4-55 9-82 0-76-3-43-7-47 5-56 3-80 0-52 2-26 3-97-2zM11474 8117l1-110-3-37 5-55 6-37-27 0 0 2-8 92 5 62-1 83zM13182 8117l-6-78 1-19 2-108-5-34-30 0 2 11-1 64-4 74 1 13 4 77 30 0zM10891 7195l-28-31 26-28 47 26 49 0-97-54-56 58 59 66zM12381 7162l30-38 31-97-50-46-46-25-143 112 54 64 24 30 59 0zM10891 6391l-64 10-65-4-51-5-60 15-68 4-77-1-29 1-66 9-93-15-29 0-68-5-29-9-39 4-96-6-48-1-73 7 0 12 88-8 28 1 115 6 24-2 17 5 80 6 19 0 107 18 76-11 14-1 89 2 56-4 70-16 38 3 80 6 54-9zM11295 6207l2-43-4-71-2-72 3-53-26 0-1 13 4 101 5 100-1 25zM9531 5968l0 44-10 78 5 63 5 54 21 0-7-71-4-47 13-96 0-25zM8490 7162l-47-44-8-88 55-33 47 57-6 56-40 52 60 0 19-25 11-99-84-103-24 15-63 45-8 7-3 13 10 78 5 57 13 12zM9894 7162l41-21 17 5 12 11-28 37 0 41 63-85-28-25-37-10-90 46-1-1-1 1 0 1 1 0zM9353 7878l0 84 0 18 0 18 5 119 23 0-4-89 1-40-1-43 0-67zM7637 7878l1 11 13 101 1 123 1 4 43 0-15-119 0-1 0-1-8-118-22 0zM10459 6645l-77-75-46 122 50 59 15 26 64-31 17-59zM10418 9033l57-53-30-38-31 1-52 16 22 55zM10432 6706l-2 6-8 4-1-3-6-7 5-14 9 9zM10410 8987l-7-17 17-5 9-1 10 12-18 17zM12275 7066l76-60 24 13 27 25-17 52-43 52-39-49z" fill="#8b74ff" stroke="#8b74ff"/><path d="M9936 9270l124 2 5 0 12-1 109 0 77-4 21-2 19 3 114 4 122 1 12-2 5 1 72-11 48 10 103 5 100 1 12 2 0-8-21-4-88-1-91-4-63-14-63 9-14-2-34 5-102 0-95-4-31-5-34 4-67 3-94 0-32 2-16 2-110-2zM11497 8117l0-1 0-9 0-128-1-11 1-18 13-72-27 0-6 37-5 55 3 37-1 110 22 0zM13146 8117l-4-77-1-13 4-74 1-64-2-11-14 0-24 0 2 35-6 113 4 43 2 48zM10936 7162l-47-26-26 28 28 31 0-33zM10891 6379l-74 12-50-4-64-5-50 12-81 5-63-1-45 2-56 8-80-13-38 0-57-4-40-13-53 6-79-5-66-2-59 6 0 12 73-7 48 1 96 6 39-4 29 9 68 5 29 0 93 15 66-9 29-1 77 1 68-4 60-15 51 5 65 4 64-10zM11275 6207l1-25-5-100-4-101 1-13-9 0-14 0 1 29 2 74 7 129 0 7zM9554 5968l0 25-13 96 4 47 7 71 21 0-9-88-2-31 14-113 0-7zM8491 7162l40-52 6-56-47-57-55 33 8 88 47 44zM9936 7194l28-37-12-11-17-5-41 21 42 0zM9326 7878l1 18 1 78 3 42 4 101 23 0-5-119 0-18 0-18 0-84-7 0zM7673 7878l8 118 0 1 0 1 15 119 43 0-10-79 2-48-8-53-4-59zM10429 6701l-9-9-5 14 6 7 1 3 8-4 2-6zM10421 8993l18-17-10-12-9 1-17 5 7 17zM12303 7099l39 49 43-52 17-52-27-25-24-13-76 60zM8472 7085l-2-20 12-7 11 13-1 12-9 12zM12346 7063l10-7 2 2 4 3-2 6-5 6-5-6z" fill="#936cff" stroke="#936cff"/><path d="M9936 9280l115 3 15 5 13-4 104 0 87-5 9-1 7 1 132 6 121 0 13 4 14-6 63-9 33 7 115 5 111 1 3 1 0-9-12-2-100-1-103-5-48-10-72 11-5-1-12 2-122-1-114-4-19-3-21 2-77 4-109 0-12 1-5 0-124-2zM11529 8117l-2-38-3-110 0-16 14-75-28 0-13 72-1 18 1 11 0 128 0 9 0 1zM13108 8117l-2-48-4-43 6-113-2-35-46 0 6 100-3 47 6 72 1 20zM10891 6367l-83 13-36-2-77-7-41 10-92 6-51-1-59 4-47 6-66-11-47 0-47-4-51-16-67 7-62-3-84-2-45 4 0 12 59-6 66 2 79 5 53-6 40 13 57 4 38 0 80 13 56-8 45-2 63 1 81-5 50-12 64 5 50 4 74-12zM11255 6207l0-7-7-129-2-74-1-29-23 0 3 73 1 19 3 50 2 80-2 17 19 0zM9576 5968l0 7-14 113 2 31 9 88 6 0 21 0-11-53-5-52-2-15 9-69 13-33-2-17-18 0zM9298 7878l3 44 0 50 8 117-4 28 17 0 13 0-4-101-3-42-1-78-1-18zM7719 7878l4 59 8 53-2 48 10 79 42 0-4-38 4-96-15-101 1-4-3 0zM8483 7095l9-12 1-12-11-13-12 7 2 20zM12350 7067l5 6 5-6 2-6-4-3-2-2-10 7z" fill="#9b64ff" stroke="#9b64ff"/><path d="M9936 9291l78 1 48 18 43-14 75 0 83-4 13 3 13-3 131 5 93 0 41 12 43-18 33-5 18 4 127 6 88 1 28 11 0-18 0-2-3-1-111-1-115-5-33-7-63 9-14 6-13-4-121 0-132-6-7-1-9 1-87 5-104 0-13 4-15-5-115-3zM11561 8117l-4-75-2-69 1-46 9-49-27 0-14 75 0 16 3 110 2 38zM13070 8117l-1-20-6-72 3-47-6-100-36 0-29 0 11 18 4 121 1 33 4 67 29 0zM10891 6355l-93 14-21-1-89-8-32 8-105 7-38-1-74 5-37 5-53-9-56 0-36-3-61-20-83 9-44-2-102-3-31 3 0 12 45-4 84 2 62 3 67-7 51 16 47 4 47 0 66 11 47-6 59-4 51 1 92-6 41-10 77 7 36 2 83-13zM11229 6207l2-17-2-80-3-50-1-19-3-73-22 0 3 68-1 26 3 101-4 44zM9602 5968l2 17-13 33-9 69 2 15 5 52 11 53 30 0-25-116 0-5 28-75-3-43zM9271 7878l3 69 0 23 4 54-11 93 38 0 4-28-8-117 0-50-3-44zM7767 7878l-1 4 15 101-4 96 4 38 39 0 9 0 0-13 9-116 17-44 18-66z" fill="#a35cff" stroke="#a35cff"/><path d="M9936 9301l42 1 80 30 74-23 45 0 51-3 52 13 50-13 92 4 65 0 68 18 73-28 3-1 2 1 139 5 54 1 65 27 0-25-28-11-88-1-127-6-18-4-33 5-43 18-41-12-93 0-131-5-13 3-13-3-83 4-75 0-43 14-48-18-78-1zM9963 9788l-27-42 0 42zM10891 9752l-31 36 31 0zM11594 8117l-7-112-1-27 2-77 4-23-27 0-9 49-1 46 2 69 4 75zM13015 8117l-4-67-1-33-4-121-11-18-47 0-84 0 55 101 2 3 0 7 1 23-60 105 83 0zM10891 6343l-103 16-6 0-102-9-22 5-118 8-25-1-89 6-27 4-39-7-66 0-24-2-73-23-97 10-27-2-121-3-16 2 0 12 31-3 102 3 44 2 83-9 61 20 36 3 56 0 53 9 37-5 74-5 38 1 105-7 32-8 89 8 21 1 93-14zM11201 6207l4-44-3-101 1-26-3-68-22 0 1 38-2 66 2 64-7 71zM9630 5968l3 43-28 75 0 5 25 116 30 0-16-72 1-51 17-47-5-69zM9243 7878l2 55-3 29 0 8 1 21-15 126 39 0 11-93-4-54 0-23-3-69zM7873 7878l-18 66-17 44-9 116 0 13 72 0 26 0 9-51 9-71 24-58 8-59-49 0z" fill="#ab54ff" stroke="#ab54ff"/><path d="M9936 9312l6 0 113 42 103-32 17 0 18-1 90 21 88-22 53 2 37 0 96 26 59-23 21 4 21-4 61-12 51 2 18 1 103 42 0-25-65-27-54-1-139-5-2-1-3 1-73 28-68-18-65 0-92-4-50 13-52-13-51 3-45 0-74 23-80-30-42-1zM9936 9746l27 42 37 0-56-88-3-7-1-3-4-1 0 5zM10860 9788l31-36 0-39-65 75zM11626 8117l-2-37 6-99-5-91 12-12-21 0-24 0-4 23-2 77 1 27 7 112zM12862 8117l60-105-1-23 0-7-2-3-55-101-93 0-30 0-1 41 35 89-9 21-44 88 98 0zM10891 6331l-72 11-35-10-37 13-75-6-13 3-129 9-13 0-104 6-18 2-25-4-74 0-14-1-84-27-112 12-9-1-139-4-2 0 0 13 16-2 121 3 27 2 97-10 73 23 24 2 66 0 39 7 27-4 89-6 25 1 118-8 22-5 102 9 6 0 103-16zM11172 6207l7-71-2-64 2-66-1-38-23 0 1 8-3 106 1 27-11 98zM9657 5968l5 69-17 47-1 51 16 72 30 0-6-28 1-98 7-18-8-95zM9187 7878l-5 40-2 62 6 128-12 9 19 0 35 0 15-126-1-21 0-8 3-29-2-55-7 0zM7977 7878l-8 59-24 58-9 71-9 51 109 0 30 0-7-19 2-98 3-64 7-58-68 0z" fill="#b34cff" stroke="#b34cff"/><path d="M9936 9345l36 2 79 30 96-31 24-3 19 0 97 23 125-32 14 0 10 0 123 34 38-15 46 9 45-8 79-16 24 4 100 41 0-25-103-42-18-1-51-2-61 12-21 4-21-4-59 23-96-26-37 0-53-2-88 22-90-21-18 1-17 0-103 32-113-42-6 0 0 1zM9936 9689l4 1 1 3 3 7 56 88 36 0-19-30-37-73-9-25-35-11zM10826 9788l65-75 0-33 0-9-6 6-11 16-81 95zM11762 8117l82-60 85 50-17-121-13-49-31-18-40-41-120 0-71 0-12 12 5 91-6 99 2 37 4 0 108 0zM12722 8117l44-88 9-21-35-89 1-41-84 0-9 0-3 17 2 124-1 24 5 74 59 0zM10891 6319l-13 2-95-27-98 36-21-2-3 1-129 9-10-1-2 1-6 1-113 7-9 1-11-2-84-1-3 0-94-30-56 6-50-8-25-1-101-11-32 0 0 33 0 1 2 0 139 4 9 1 112-12 84 27 14 1 74 0 25 4 18-2 104-6 13 0 129-9 13-3 75 6 37-13 35 10 72-11zM11143 6207l11-98-1-27 3-106-1-8-6 0-35 0 7 102-1 23-11 100-2 14 15 0zM9684 5968l8 95-7 18-1 98 6 28 19 0 23 0-1-26 1-94-17-71-3-48zM9050 7878l71 23-3 88 1 33-36 26-79 69 63 0 107 0 12-9-6-128 2-62 5-40-59 0zM8071 7878l-7 58-3 64-2 98 7 19 82 0 18 0-16-82 1-8 4-15 7-134-5 0zM8938 8117l40-43 0-64-3-70-69 13 37 60-70 95-4 9 5 0zM11699 7982l0-1 1 0 0 1 0 1z" fill="#bb44ff" stroke="#bb44ff"/><path d="M9936 9383l79 3 33 13 39-13 78-12 65 1 60 14 100-25 36 1 57 1 78 22 18-8 71 15 68-13 44-9 73 12 56 23 0-25-100-41-24-4-79 16-45 8-46-9-38 15-123-34-10 0-14 0-125 32-97-23-19 0-24 3-96 31-79-30-36-2zM9936 9649l35 11 9 25 37 73 19 30 20 0 30 0-24-29-42-83-17-47-67-20zM10793 9788l81-95 11-16 6-6 0-49-41 39-73 107-18 20zM12055 8117l-3-40-4-97 29-95 0-7-138 0-65 0-46 0 40 41 31 18 13 49 17 121-85-50-82 60 67 0 106 0zM12651 8117l-5-74 1-24-2-124 3-17-43 0-15 102 0 32-5 97 0 8zM10891 6269l-39 7-70-20-84 31-34-2-68-6-78 14-122 36-6 1-9-3-86-25-68-17-35-5-66-11-79-2-41-5-70 1 0 37 32 0 101 11 25 1 50 8 56-6 94 30 3 0 84 1 11 2 9-1 113-7 6-1 2-1 10 1 129-9 3-1 21 2 98-36 95 27 13-2 0-3zM11107 6207l2-14 11-100 1-23-7-102-47 0 2 34-5 109-3 29-11 67zM9712 5968l3 48 17 71-1 94 1 26 59 0 5 0-3-44-2-52 0-6-2-11-26-126-44 0zM8758 7878l0 1 0 4 48 120 1 50-29 64 91 0 4-9 70-95-37-60 69-13 3 70 0 64-40 43 58 0 8 0 79-69 36-26-1-33 3-88-71-23-56 0-145 0-90 0zM8162 7878l-7 134-4 15-1 8 16 82 53 0-7-38 2-79 32-108 1-14-10 0zM11700 7983l0-1 0-1-1 0 0 1z" fill="#c33cff" stroke="#c33cff"/><path d="M9936 9420l84 4 1 15 29 15 42-38 67-11 110 2 24 6 41-11 90 3 126 4 10 3 9 3 15-2 72 15 92-18 9-2 121 20 13 5 0-25-56-23-73-12-44 9-68 13-71-15-18 8-78-22-57-1-36-1-100 25-60-14-65-1-78 12-39 13-33-13-79-3zM9936 9609l67 20 17 47 42 83 24 29 65 0-76-90-15-30-25-69-99-30zM10759 9788l18-20 73-107 41-39 0-50-76 73-29 41-91 24 27 78 28 0zM12107 8117l-6-91 0-46 19-80 4-22-39 0-8 0 0 7-29 95 4 97 3 40 18 0zM12585 8117l0-8 5-97 0-32 15-102-41 0-2 0-1 3-22 121-3 37-3 78 45 0zM10891 6210l-89 14-21-6-25 9-82-5-4-3-3-2-2 6-149 26-73 21-54 15-72-29-24-7-19-5-95-14-21-3-69-3-52-45-42 45-59 1 0 38 70-1 41 5 79 2 66 11 35 5 68 17 86 25 9 3 6-1 122-36 78-14 68 6 34 2 84-31 70 20 39-7zM11050 6207l11-67 3-29 5-109-2-34-24 0-62 0-1 39-7 96-70 97 0 7 120 0zM9763 5968l26 126 2 11 0 6 2 52 3 44 95 0-3-35-24-90-33-80-7-34zM8714 7878l-4 52 1 66 0 77 4 44 24 0 39 0 29-64-1-50-48-120 0-4 0-1zM8247 7878l-1 14-32 108-2 79 7 38 44 0 8 0 1-9 3-57 3-78 5-19 6-76z" fill="#cb34ff" stroke="#cb34ff"/><path d="M9936 9466l5 55 39 21-44-14 0 41 99 30 25 69 15 30 76 90 56 0 10 0 1-18-23-118-15-39-81-44 79-53 60-15 69-38 112-16 4-1 2 1 107 36 107 31 14-1 65 17-69 41-44 39 14 46 41 65 23 67 39 0-27-78 91-24 29-41 76-73 0-50-7 7-25-7 32-8 0-74 0-7-13-5-121-20-9 2-92 18-72-15-15 2-9-3-10-3-126-4-90-3-41 11-24-6-110-2-67 11-42 38-29-15-1-15-84-4 0 38zM12147 8117l-3-43 0-98 13-54 7-44-40 0-4 22-19 80 0 46 6 91zM12533 8117l3-78 3-37 22-121 1-3-49 0-15 78-6 35-8 92-1 34zM10903 6207l0-7 70-97 7-96 1-39-109 0-87 0-35 0-87 51-24 30-8 18-28 45-38 84-50 9-25 7-101 28-69-28-32-81-45-4 7-58-30-36-63-41-37 9-25-33-59 0-76 0-28 17-5-17-84 0-19 0 7 34 33 80 24 90 3 35 45 0 0 18 59-1 42-45 52 45 69 3 21 3 95 14 19 5 24 7 72 29 54-15 73-21 149-26 2-6 3 2 4 3 82 5 25-9 21 6 89-14 0-3zM8670 7878l-9 102 0 7 0 9 11 121 43 0-4-44 0-77-1-66 4-52zM8289 7878l-6 76-5 19-3 78-3 57-1 9 53 0 2-61 5-75-4-45 5-58z" fill="#d32cff" stroke="#d32cff"/><path d="M9936 9528l44 14-39-21-5-55 0 60zM10275 9788l15-135 1-2 61-118 72-30 74 43 7 2 52 148-1 23 47 69 69 0 11 0-23-67-41-65-14-46 44-39 69-41-65-17-14 1-107-31-107-36-2-1-4 1-112 16-69 38-60 15-79 53 81 44 15 39 23 118-1 18 49 0zM10891 9514l-32 8 25 7 7-7 0-2zM12190 8117l-3-3 1-9-1-132 6-28 11-67-40 0-7 44-13 54 0 98 3 43 37 0zM12483 8117l1-34 8-92 6-35 15-78-48 0-13 69-13 46 10 19-13 105 9 0zM10598 5968l-23 28-33 72-12 20-32 82-50 8-60 17-21-9-20-50-34-53-13-20-13-54-19-22-29-19-97 0-47 0 25 33 37-9 63 41 30 36-7 58 45 4 32 81 69 28 101-28 25-7 50-9 38-84 28-45 8-18 24-30 87-51-84 0zM9927 5968l5 17 28-17-24 0zM8626 7878l-1 8-15 102 16 93 3 36 43 0-11-121 0-9 0-7 9-102zM8332 7878l-5 58 4 45-5 75-2 61 52 0 5-113 0-6-9-101 2-19z" fill="#db24ff" stroke="#db24ff"/><path d="M10307 9788l12-105 9-23 72-71 11-22 13-6 14 8 48 15 38 108-4 90 0 6 5 0 78 0-47-69 1-23-52-148-7-2-74-43-72 30-61 118-1 2-15 135zM12255 8117l-28-38 3-103 0-7 0-2 1-4 17-85-37 0-7 0-11 67-6 28 1 132-1 9 3 3zM12436 8117l13-105-10-19 13-46 13-69-49 0 0 4-35 123 28 50-8 62zM10521 5968l-18 79-13 35-24 63-71 12-41-65-33-51-18-73-16 0-48 0 29 19 19 22 13 54 13 20 34 53 20 50 21 9 60-17 50-8 32-82 12-20 33-72 23-28-58 0zM8579 7878l-10 44-10 68 15 88 6 39 35 0 14 0-3-36-16-93 15-102 1-8-3 0zM8374 7878l-2 19 9 101 0 6-5 113 35 0 8 0 5-23-1-97-5-89 1-30-25 0z" fill="#e31cff" stroke="#e31cff"/><path d="M10340 9788l8-75 18-45 61-61 39 12 24 69-2 57 4 43 28 0 0-6 4-90-38-108-48-15-14-8-13 6-11 22-72 71-9 23-12 105zM12321 8117l-54-72 1-42 17-87 8-38-45 0-17 85-1 4 0 2 0 7-3 103 28 38zM12401 8117l8-62-28-50 35-123 0-4-3 0-52 0-23 91-14 49 45 80-3 19zM10482 5968l-14 55-25 75-9 22-25 5-15-23-52-83-13-51-26 0 18 73 33 51 41 65 71-12 24-63 13-35 18-79zM8532 7878l-21 92-3 21 5 29 14 97 53 0-6-39-15-88 10-68 10-44zM8419 7878l-1 30 5 89 1 97-5 23 27 0 19-92 0-31-2-29 4-87z" fill="#eb14ff" stroke="#eb14ff"/><path d="M10372 9788l5-45 28-68 25-26 17 5 10 30-1 24 7 80 29 0-4-43 2-57-24-69-39-12-61 61-18 45-8 75zM12366 8117l3-19-45-80 14-49 23-91-38 0-30 0-8 38-17 87-1 42 54 72 30 0zM10442 5968l-8 31-24 73-48-75-7-29-26 0 13 51 52 83 15 23 25-5 9-22 25-75 14-55zM8467 7878l-4 87 2 29 0 31-19 92 26 0 1-7 1 7 53 0-14-97-5-29 3-21 21-92-33 0z" fill="#f30cff" stroke="#f30cff"/><path d="M10463 9788l-7-80 1-24-10-30-17-5-25 26-28 68-5 45 49 0zM10355 5968l7 29 48 75 24-73 8-31-52 0zM8474 8117l-1-7-1 7 1 0z" fill="#ff00ff" stroke="#ff00ff"/></g><path transform="scale(.1)" d="M10404 7641l-24-31-28-39 66 10 36-5-16 41-34 24M12106 6207l3-6 2-13 45-125-38-95M12674 5968l-56 45-27 72-12 4-6 17 1 95 2 6M8669 5968l12 47 60 73-4 18 18 39 10 62M8254 6207l24-26 47-6-13-84-45-97-28 6 5-32M9922 8117l-59-31-24-10-37-34 4-30 32-54 36-32 53-4 50-3 95-16 62-9 20 4 23-18 50-91-10-51-9-38-20-5-38-13-28-41 7-89-68 8-10-3 5-9 4 0 90-28 5 0 4 0 140-29 50 0 96-5 32-1 46 7 106 29 18 3 48 5 28 77-80 42-4 7-2 6 4 89 37 94 19 12 6 28 35 24 27 2 101-6 26-1 61 27 51 40 9 16 7 15-3 20-7 21-90 44-29 12-16 17-97 33-72-17-40-25-22 30-44 36-55 4-49-2-55 1-85-33-49-3-138-20-15-5-11 0-94 6-109 1-4-1M10891 8259l-4 1-132-15-33 5-96 4-80 24-25 3-37 1-59-13-101-9-32-5-78 16-16-2-15-1-138-17-92 5-17-4M11101 7878l2 5 26 57 19 48 0 3-19 116-1 10M11704 6207l21-103-3-3-23-88 16-45M13104 5968l3 55-24 84-10 41 15 59M9122 5968l4 117-2 11-1 9-6 79-4 23M7746 6207l-15-49-1-72 16-79 12-39M9936 7465l21 8 85-1 44-13 69 2 63-6 75-16 105 1 47-3 74-2 19 3 46 12 68 15 83 8 35 6 20-1 101 17M9687 8117l-1-81 7-55 19-32 24-71M10891 8312l-44-1-82-9-93 15-41 1-33 11-80 7-111 5-7-1-11-2-77-10-27 5-84-12-81-4-69-9-56 3-59 0M11197 7878l21 50 1 90-1 9-12 90M11554 6207l-4-52 1-67 4-53 12-67M13243 5968l1 66 3 34-3 97-7 42M9278 5968l-7 92 0 33-2 25-10 89M7585 6207l6-60 5-66-24-95 3-18M9936 7399l88-1 1 0 20 0 110 4 121-13 11-2 118 1 35-1 4 0 4 1 101-5 12 2 23 5 74 16 29 3 99 15 58-2 47 8M9606 8117l0-21-2-79 0-31 0-2 2-18 10-69 4-19M12389 8877l18 90-74 82-69-47-28-53 95-94 58 22M8441 8882l78-33 46 38 27 75-67 88-74-35-32-63 22-70M8354 9072l-31-64-8-46-17-81 17-48M9699 9072l2-13 6-58 15-49 116-49 71 31 17 6 85 8 60 2 9 2 0 10 9 26 24 93 1 48-56 33-20 1-101 11-1 0M10891 9180l-74-12-22-5-86-47 2-32 13-56 73-80 8-3 13-3 90-30 42-5 74 29 8 3 65 54 22 46 14 33M12180 9072l-1-1-1-1-48-121 13-49-8-67M12510 8833l-9 40 17 82-15 60-31 57M10891 8365l-9-1-79-2-28-3-90 14-41 18-50 48-55-3-81-14-46 15-19-5-72 6-67-28-55-28-7-7-135-9-110 0-11 0M11287 7878l-1 12-3 113-2 92 1 22M11592 7162l-38-48-33-45 51-69 29 4 36-18 99-34 39 8 63 24 74 21 32 63-20 72-11 22M12732 7162l-20-52 3-70 63-45 33-8 59-9 43-8 64 14 42 8 84 58 4 59-14 53M11467 6207l3-20-3-85 4-54 12-80M9355 5968l5 93 0 8-14 127-1 11M7752 7162l-8-21-24-90 32-52 40-1 59-24 60-8 32 4 77 12 67 7 17 46-3 41 3 86M8886 7162l-2-14 16-112 46-37 45-18 55-11 60-2 63 1 68 35 13 6 25 12 18 53-17 87M9936 7356l61-1 34-1 85 1 41-16 65-7 89-14 41-1 85 0 75 8 32-2 63 13 39 8 41 5 103 19 12 2 22-1 67-1M9541 8117l3-44 0-72-2-67 7-56M8690 8833l25 64-7 72-20 52-43 51M10242 6998l46-5 49 9 58-14 62-1 81-5 118 48-61 83-12 37-57 79-60 15-34 8-78-8-59-59-1-1-3-3-97-117 48-66M9988 6619l8-26 28-35 36 14 36 13-5 29 1 48-41 47-45-33-18-57M10825 6657l-54 72-48-57 6-62-3-23 2-11 16 1 35-12 18 17 42 15-14 60M10393 8781l-37-15-44-6-80-34 11-70-5-57 22-46 59-49 14-12 79-21 26 5 116 37 55 64 23 23 6 11 6 32-2 49-91 68-43 21-115 0M7548 9016l6 56M8237 9072l-16-77-22-41-42-116-90 13-14-7-11-3-163-8M9468 9072l22-99 2-9-7-7-91-64-55-60M10891 9226l-70-12-27 0-28-2-144-32-6 1-67-10-38 6 34-11 4-3 52-70 25-92 9-40 8-8-3-19-23 2-78-55-27-34-121 1-43 13-48-5-101 80 14 77 31 70 6 56 66 11 18 8 42 31-59-10-103 11-11 1-17 0-140 6-71 8-39-1M12036 9072l-11-62-16-73-40-67-137-25-14-5-10-1-106-3-2 0-99 0-120 2-9 12-60 26-23 32-32 66 20 68 9 15-1 15M13278 9035l-9-79-104-84-116-31-6-4-94 0-3-1-139-2-2 1-125 54-35 36-20 45-26 102M10891 8425l-67-5-35 4-104 54 18 36 54 101 4 19 29 38 36-30 65-19M11351 7878l-4 90-1 16 0 14 8 119M11213 7162l-7-71 3-35-106-84-25 1-64-50M12565 7162l0-3 13-106-11-125 15-5M12072 6923l-4 22 1 99 12 97-6 21M10928 6923l-37 4-105 108-35 41-31 34-24 44 26 85-10 52 31 4 26 5 75 25 47-1M11388 6207l8-61-1-33 9-131 2-14M9432 5968l0 2 0 123 0 2-1 112M9936 6460l27-3 90 35 83 31 38 2 30-2 0 37-18 112-1 2 17 153 6 8 80 58 6 4 112 16 10-3 130-19 74-53 18 15 41-8-6-23 13-59-45-54 1-11-15-112-4-35-3-7 10-59 2-10 7 0 3 0 16-4 85 8 74-26 62 4 12-1M9843 6923l-59 0-75 24-35 43-93-40 41 116-20 90-5 6M8262 6923l-25 116 6 21 0 11 8 24 12 67M8747 7162l0-1 0-6 17-135-22-75 35-22M9936 7313l35 0 65-2 29 0 62-24-22-69 17-47-13-72-30-31-8-83-56 0-78-62-1 0 0-1M9479 8117l5-94 0-7-4-131 1-7M9936 8631l12 0 131 3 22-24 35-84 16-48-39-41-44-3-93 1-40 0M9328 8833l-108 11-15-8-25-3M8974 8833l-5 0-1 1-108 14-40 104-14 50-29 70M7755 8833l-90 30-107 106-10 5M8101 9072l-27-35-23-23-65-30-67-49-14-4-7 0-4 0-104 34-25 16 11 88 0 3M9241 9072l2-6-6-104-32-19-24-2-106-20-79 25-7 0-9 5-43 88-13 33M10891 9250l-44-8-60 0-61-3-101-22-36 5-39-6-87 14-53 0-48-2-60-10-66 7-41 2-58 0-82 4-42 4-77-1M11883 9072l32-47-10-64-45-17-151-17-10 0-46 15-18 16-42 114M13062 9072l-15-78-19-22-107-37-33-1-68 10-35 19-20 56-7 53M13223 8117l-4-45 7-71 1-56-9-67M11420 7878l-2 39-5 59 8 98-1 43M11052 7162l-5-32-23-3-133-57-6-3-98 102 68 77 19 30 12 4 5 0M12451 7162l1-8 38-122-4-39-68-66-2-2-3-2M12266 6923l-81 60-31 72 4 46 35 61M11324 6207l3-70-1-28-1-29 7-112M9498 5968l-1 72-6 51 7 87 3 29M9936 6425l108-10 2 0 140 8 3-1 1 1 96 7 6 0 126 20 30-4 60 64 14-71 87 2 38-3 83-19 20 1 101 7 40-6M8425 6923l-28 20-37 31-13 58 13 101 5 29M8629 7162l14-128 2-20-6-8-45-83M9936 7270l9 0 32-1 68-114 5-12-1-3-5-5-44-40-68-18-54 27-49-18-54 39-2 37M7596 7878l4 44 8 58 0 73 2 64M9414 8117l-1-44 1-74-2-79 0-42M10271 6718l46 68 17 21 9 14 24 20 19 3 75-22 56-26 38-136-52-96-12-12-78-81-78 64-24 10 0 11-1 3-43 122 4 37M10400 9082l9 5 5 4 11-3 9-8 56-61 37-34-59-75-62 0-104 34 43 109 55 29M10891 9274l-17-3-93-1-96-4-57-13-66 10-11-2-25 4-110 0-103-4-26-5-29 4-71 3-100 0-23 1-12 2-116-2M13130 8117l-2-65-2-26 7-137 0-9 0-2M11494 7878l-9 51-3 40 2 27-1 121M10916 7162l-26-15-15 16 16 18M11267 6207l1-18-6-112-4-106 0-3M9563 5968l0 18-13 103 3 40 7 78M9936 6390l68-6 54 1 90 5 44-4 33 10 65 5 32 0 88 14 62-8 35-2 72 1 73-5 56-13 56 5 59 4 68-10M9936 7177l14-18-6-5-8-2-20 10M7692 7878l6 95 3 22-1 19 13 103M9349 8117l-6-131 1-9-1-8 0-71 0-18 0-2M8488 7135l27-36 4-38-32-40-38 23 6 61 33 30M10422 8977l3-2-2-2-1 0-3 1 1 3 2 0M12322 7087l25 31 28-34 11-33-18-16-15-9-50 39 19 22M10885 9788l6-7M10891 9314l-37-15-80-1-130-5-13-3-26 4-51 20-48-13-85-1-121-5-23 6-23-5-75 4-67 0-51 16-56-21-69-1M12992 8117l-3-45-2-62-3-92-24-40M11572 7878l-8 42-1 54 2 59 5 84M11193 6207l6-51-3-91 1-36-3-61M9637 5968l3 50-25 68 0 16 23 105M9936 6356l27-3 107 3 40 2 86-9 65 21 32 2 59 1 49 8 35-5 78-5 34 1 108-8 30-6 92 8 17 1 96-15M7900 7878l-9 33-33 87-6 71-1 48M9257 8117l13-110-3-37 0-16-4-76M9936 9644l39 12 10 28 41 80 15 24M10789 9788l74-87 18-26 10-9M10891 9386l-95-39-30-5-75 15-47 9-49-10-36 14-126-34-7 0-9-1-130 33-92-22-25 0-30 5-89 28-74-28-41-2M11913 8117l-73-44-59 44M12644 8117l-5-67 2-32-2-113 4-27M11852 7878l19 19 39 23 17 63 16 114 2 20M11101 6207l3-20 10-92 1-32-6-95M9715 5968l2 28 22 93-1 84 1 34M9936 6296l37 0 93 10 32 1 61 10 41-4 96 30 1 0 85 1 10 2 7-1 99-6 21-6 12-2 40 3 90-6 3-1 14 1 105-38 102 28 6 0M8173 7878l-6 115-9 31-1 16 15 77M8858 8117l12-27 58-79-79-129-2-4M9111 7990l2-60-101-32 4 106 0 88 71-62 25-17-1-23M9936 9529l65 20-58-30-5-62-2 0M10684 9788l-26-74-36-60-13-41 40-36 79-48-75-20-16 2-105-30-108-37-1 0-4 0-113 16-63 35-66 16-87 59 89 48 13 34 23 122 0 14M10891 9511l-49 12 39 11 10-10M12484 8117l1-35 8-91 7-37 15-76M12163 7878l-7 44-13 54 0 96 3 45M10088 5968l28 38 43-10 59 39 29 34-8 62 50 5 30 77 70 28 99-28 27-7 53-10 40-88 26-41 7-17 22-27 94-55M9923 5968l7 23 39-23M8330 7878l-4 59 3 43-4 78-3 59M8673 8117l-10-119 0-10 0-9 8-101M10497 9788l-4-37 3-62-26-76-43-13-67 66-17 42-9 80M12372 8117l3-27-41-75 17-63 19-74M12285 7878l-9 47-14 72-2 54 50 66M10325 5968l13 55 49 77 19 30 34-5 11-30 23-68 15-59M8458 7878l-3 77 2 39 1 42-17 81M8536 8117l-13-87-6-39 4-29 19-84" fill="none" stroke="#000" stroke-opacity="0.64" stroke-width="13.5" stroke-linejoin="round"/><rect x="746.00" y="587.80" width="592.30" height="400.20" fill="none" stroke="#262626" stroke-opacity="0.85" stroke-width="1"/><text x="754.85" y="1020.30" text-anchor="middle" class="tk">-3</text><text x="850.35" y="1020.30" text-anchor="middle" class="tk">-2</text><text x="945.85" y="1020.30" text-anchor="middle" class="tk">-1</text><text x="1041.35" y="1020.30" text-anchor="middle" class="tk">0</text><text x="1136.85" y="1020.30" text-anchor="middle" class="tk">1</text><text x="1232.35" y="1020.30" text-anchor="middle" class="tk">2</text><text x="1327.85" y="1020.30" text-anchor="middle" class="tk">3</text><text x="736.50" y="987.70" text-anchor="end" class="tk">0</text><text x="736.50" y="892.20" text-anchor="end" class="tk">1</text><text x="736.50" y="796.70" text-anchor="end" class="tk">2</text><text x="736.50" y="701.20" text-anchor="end" class="tk">3</text><text x="736.50" y="605.70" text-anchor="end" class="tk">4</text><path d="M754.85 988.00v-6.0M754.85 587.80v6.0M850.35 988.00v-6.0M850.35 587.80v6.0M945.85 988.00v-6.0M945.85 587.80v6.0M1041.35 988.00v-6.0M1041.35 587.80v6.0M1136.85 988.00v-6.0M1136.85 587.80v6.0M1232.35 988.00v-6.0M1232.35 587.80v6.0M1327.85 988.00v-6.0M1327.85 587.80v6.0M746.00 978.80h6.0M1338.30 978.80h-6.0M746.00 883.30h6.0M1338.30 883.30h-6.0M746.00 787.80h6.0M1338.30 787.80h-6.0M746.00 692.30h6.0M1338.30 692.30h-6.0M746.00 596.80h6.0M1338.30 596.80h-6.0" stroke="#262626" stroke-opacity="0.85" stroke-width="1" fill="none"/><text x="1027.75" y="1052.20" class="lb">x<tspan class="sb" dy="13.5">1</tspan></text><text x="691.80" y="768.10" class="lb">x<tspan class="sb" dy="13.5">2</tspan></text><text x="1041.85" y="573.80" text-anchor="middle" class="tr" ><tspan font-size="37" dy="5">∞</tspan><tspan dy="-5">-</tspan>HMC</text><defs><linearGradient id="cb" x1="0" y1="1" x2="0" y2="0"><stop offset="0" stop-color="#00ffff"/><stop offset="1" stop-color="#ff00ff"/></linearGradient></defs><rect x="1350.10" y="34.50" width="29.60" height="952.50" fill="url(#cb)" stroke="#262626" stroke-opacity="0.85" stroke-width="1"/><text x="1386.90" y="977.90" class="ck">0.8</text><text x="1386.90" y="807.86" class="ck">0.9</text><text x="1386.90" y="637.82" class="ck">1</text><text x="1386.90" y="467.78" class="ck">1.1</text><text x="1386.90" y="297.74" class="ck">1.2</text><text x="1386.90" y="127.70" class="ck">1.3</text><path d="M1379.70 970.40h-10.5M1379.70 800.36h-10.5M1379.70 630.32h-10.5M1379.70 460.28h-10.5M1379.70 290.24h-10.5M1379.70 120.20h-10.5" stroke="#262626" stroke-opacity="0.85" stroke-width="1" fill="none"/></svg></body></html>
